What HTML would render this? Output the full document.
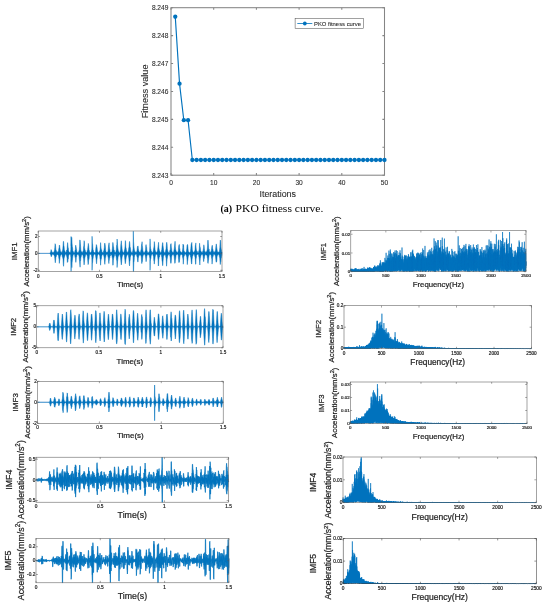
<!DOCTYPE html>
<html lang="en"><head><meta charset="utf-8"><title>PKO fitness curve and IMF components</title>
<style>html,body{margin:0;padding:0;background:#fff}body{width:550px;height:614px;overflow:hidden}svg{display:block;font-family:"Liberation Sans",Arial,Helvetica,sans-serif}text{stroke:#262626;stroke-width:.22px}.tk text{stroke-width:.2px}.top text{stroke-width:.1px;fill:#2e2e2e}.cap{stroke:none}</style>
</head><body>
<svg width="550" height="614" viewBox="0 0 550 614">
<rect width="550" height="614" fill="#fff"/>
<g id="fitness" class="top">
<rect x="171" y="7.7" width="213.5" height="167.5" fill="none" stroke="#858585" stroke-width="1.05"/>
<path d="M171 175.2v-2.1M171 7.7v2.1M213.7 175.2v-2.1M213.7 7.7v2.1M256.4 175.2v-2.1M256.4 7.7v2.1M299.1 175.2v-2.1M299.1 7.7v2.1M341.8 175.2v-2.1M341.8 7.7v2.1M384.5 175.2v-2.1M384.5 7.7v2.1M171 175.2h2.1M384.5 175.2h-2.1M171 147.28h2.1M384.5 147.28h-2.1M171 119.37h2.1M384.5 119.37h-2.1M171 91.45h2.1M384.5 91.45h-2.1M171 63.53h2.1M384.5 63.53h-2.1M171 35.62h2.1M384.5 35.62h-2.1M171 7.7h2.1M384.5 7.7h-2.1" stroke="#858585" stroke-width="1.05" fill="none"/>
<g class="tk" font-size="6.6" fill="#1c1c1c">
<text x="171" y="184.6" text-anchor="middle">0</text>
<text x="213.7" y="184.6" text-anchor="middle">10</text>
<text x="256.4" y="184.6" text-anchor="middle">20</text>
<text x="299.1" y="184.6" text-anchor="middle">30</text>
<text x="341.8" y="184.6" text-anchor="middle">40</text>
<text x="384.5" y="184.6" text-anchor="middle">50</text>
<text x="168.4" y="177.58" text-anchor="end">8.243</text>
<text x="168.4" y="149.66" text-anchor="end">8.244</text>
<text x="168.4" y="121.74" text-anchor="end">8.245</text>
<text x="168.4" y="93.83" text-anchor="end">8.246</text>
<text x="168.4" y="65.91" text-anchor="end">8.247</text>
<text x="168.4" y="37.99" text-anchor="end">8.248</text>
<text x="168.4" y="10.08" text-anchor="end">8.249</text>
</g>
<polyline fill="none" stroke="#0072BD" stroke-width="1.15" points="175.27,16.77 179.54,83.63 183.81,120.2 188.08,120.2 192.35,160.01 196.62,160.01 200.89,160.01 205.16,160.01 209.43,160.01 213.7,160.01 217.97,160.01 222.24,160.01 226.51,160.01 230.78,160.01 235.05,160.01 239.32,160.01 243.59,160.01 247.86,160.01 252.13,160.01 256.4,160.01 260.67,160.01 264.94,160.01 269.21,160.01 273.48,160.01 277.75,160.01 282.02,160.01 286.29,160.01 290.56,160.01 294.83,160.01 299.1,160.01 303.37,160.01 307.64,160.01 311.91,160.01 316.18,160.01 320.45,160.01 324.72,160.01 328.99,160.01 333.26,160.01 337.53,160.01 341.8,160.01 346.07,160.01 350.34,160.01 354.61,160.01 358.88,160.01 363.15,160.01 367.42,160.01 371.69,160.01 375.96,160.01 380.23,160.01 384.5,160.01"/>
<g fill="#0072BD">
<circle cx="175.27" cy="16.77" r="2.15"/>
<circle cx="179.54" cy="83.63" r="2.15"/>
<circle cx="183.81" cy="120.2" r="2.15"/>
<circle cx="188.08" cy="120.2" r="2.15"/>
<circle cx="192.35" cy="160.01" r="2.15"/>
<circle cx="196.62" cy="160.01" r="2.15"/>
<circle cx="200.89" cy="160.01" r="2.15"/>
<circle cx="205.16" cy="160.01" r="2.15"/>
<circle cx="209.43" cy="160.01" r="2.15"/>
<circle cx="213.7" cy="160.01" r="2.15"/>
<circle cx="217.97" cy="160.01" r="2.15"/>
<circle cx="222.24" cy="160.01" r="2.15"/>
<circle cx="226.51" cy="160.01" r="2.15"/>
<circle cx="230.78" cy="160.01" r="2.15"/>
<circle cx="235.05" cy="160.01" r="2.15"/>
<circle cx="239.32" cy="160.01" r="2.15"/>
<circle cx="243.59" cy="160.01" r="2.15"/>
<circle cx="247.86" cy="160.01" r="2.15"/>
<circle cx="252.13" cy="160.01" r="2.15"/>
<circle cx="256.4" cy="160.01" r="2.15"/>
<circle cx="260.67" cy="160.01" r="2.15"/>
<circle cx="264.94" cy="160.01" r="2.15"/>
<circle cx="269.21" cy="160.01" r="2.15"/>
<circle cx="273.48" cy="160.01" r="2.15"/>
<circle cx="277.75" cy="160.01" r="2.15"/>
<circle cx="282.02" cy="160.01" r="2.15"/>
<circle cx="286.29" cy="160.01" r="2.15"/>
<circle cx="290.56" cy="160.01" r="2.15"/>
<circle cx="294.83" cy="160.01" r="2.15"/>
<circle cx="299.1" cy="160.01" r="2.15"/>
<circle cx="303.37" cy="160.01" r="2.15"/>
<circle cx="307.64" cy="160.01" r="2.15"/>
<circle cx="311.91" cy="160.01" r="2.15"/>
<circle cx="316.18" cy="160.01" r="2.15"/>
<circle cx="320.45" cy="160.01" r="2.15"/>
<circle cx="324.72" cy="160.01" r="2.15"/>
<circle cx="328.99" cy="160.01" r="2.15"/>
<circle cx="333.26" cy="160.01" r="2.15"/>
<circle cx="337.53" cy="160.01" r="2.15"/>
<circle cx="341.8" cy="160.01" r="2.15"/>
<circle cx="346.07" cy="160.01" r="2.15"/>
<circle cx="350.34" cy="160.01" r="2.15"/>
<circle cx="354.61" cy="160.01" r="2.15"/>
<circle cx="358.88" cy="160.01" r="2.15"/>
<circle cx="363.15" cy="160.01" r="2.15"/>
<circle cx="367.42" cy="160.01" r="2.15"/>
<circle cx="371.69" cy="160.01" r="2.15"/>
<circle cx="375.96" cy="160.01" r="2.15"/>
<circle cx="380.23" cy="160.01" r="2.15"/>
<circle cx="384.5" cy="160.01" r="2.15"/>
</g>
<text x="277.75" y="196.9" text-anchor="middle" font-size="8.9" fill="#1c1c1c">Iterations</text>
<text transform="translate(147.9 91.4) rotate(-90)" text-anchor="middle" font-size="9.15" fill="#1c1c1c">Fitness value</text>
<rect x="295.1" y="18.5" width="68.4" height="9.8" fill="#fff" stroke="#444" stroke-width="0.5"/>
<path d="M297.3 23.5H312.3" stroke="#0072BD" stroke-width="0.8"/>
<circle cx="304.8" cy="23.5" r="1.9" fill="#0072BD"/>
<text x="314" y="25.7" font-size="6.2" textLength="47" lengthAdjust="spacingAndGlyphs" fill="#1c1c1c">PKO fitness curve</text>
</g>
<g class="cap" font-family="'Liberation Serif','Times New Roman',serif" font-size="10.6" fill="#000"><text class="cap" x="220.5" y="211.6" font-weight="bold" textLength="11.6" lengthAdjust="spacingAndGlyphs">(a)</text><text class="cap" x="235.6" y="211.6" textLength="87.8" lengthAdjust="spacingAndGlyphs">PKO fitness curve.</text></g>
<g id="imf1-time">
<path d="M38.33 253.4L38.58 253.4L38.83 253.4L39.08 253.4L39.33 253.4L39.58 253.4L39.83 253.4L40.08 253.4L40.33 253.4L40.58 253.4L40.83 253.4L41.08 253.4L41.33 253.4L41.58 253.4L41.83 253.4L42.08 253.4L42.33 253.4L42.58 253.4L42.83 253.4L43.08 253.4L43.33 253.4L43.58 253.4L43.83 253.4L44.08 253.4L44.33 253.4L44.58 253.4L44.83 253.4L45.08 253.4L45.33 253.4L45.58 253.4L45.83 253.4L46.08 253.4L46.33 253.4L46.58 253.4L46.83 253.4L47.08 253.4L47.33 253.4L47.58 253.4L47.83 253.4L48.08 253.4L48.33 253.4L48.58 253.4L48.83 253.4L49.08 253.4L49.33 253.4L49.58 253.4L49.83 253.3L50.08 253.1L50.33 252.5L50.58 252L50.83 251.3L51.08 249.6L51.33 250L51.58 251.1L51.83 251.4L52.08 251.9L52.33 252.7L52.58 252.7L52.83 252.2L53.08 252.2L53.33 252.4L53.58 252.3L53.83 252.5L54.08 251.6L54.33 251L54.58 249.8L54.83 247.6L55.08 243.7L55.33 244.3L55.58 246L55.83 248.9L56.08 251.3L56.33 250.6L56.58 251.7L56.83 251.9L57.08 252.7L57.33 252.2L57.58 252.8L57.83 251.5L58.08 251.9L58.33 251.6L58.58 250.6L58.83 248.6L59.08 248L59.33 245L59.58 245.3L59.83 247.2L60.08 249L60.33 250.4L60.58 251.2L60.83 251.9L61.08 251.7L61.33 252.4L61.58 252.6L61.83 252.2L62.08 252.4L62.33 250.8L62.58 251.1L62.83 248.5L63.08 245.6L63.33 241.4L63.58 241.4L63.83 245.6L64.08 246.5L64.33 249.5L64.58 250.5L64.83 250.8L65.08 251.8L65.33 252.3L65.58 252.9L65.83 252.3L66.08 252.3L66.33 251.4L66.58 250.1L66.83 250.1L67.08 249.6L67.33 245.8L67.58 242.6L67.83 244.4L68.08 247.4L68.33 248L68.58 251L68.83 251L69.08 252.6L69.33 252.6L69.58 252.1L69.83 252.4L70.08 252.8L70.33 252.2L70.58 251.4L70.83 249.8L71.08 236.5L71.33 245.8L71.58 237.4L71.83 237.4L72.08 243.7L72.33 246.8L72.58 247.8L72.83 250.8L73.08 251.1L73.33 252.1L73.58 252.1L73.83 253L74.08 252.9L74.33 252.9L74.58 252.1L74.83 251.5L75.08 250.1L75.33 249.9L75.58 245.5L75.83 245.2L76.08 246.9L76.33 248.4L76.58 249.7L76.83 251.4L77.08 251.9L77.33 252.4L77.58 252.7L77.83 252.5L78.08 252.5L78.33 252.4L78.58 251.7L78.83 251.9L79.08 250.4L79.33 249.4L79.58 246.2L79.83 239.9L80.08 240.3L80.33 243.2L80.58 246.2L80.83 250L81.08 250.8L81.33 251.5L81.58 252.1L81.83 251.9L82.08 252.9L82.33 252.3L82.58 252.4L82.83 251.6L83.08 250.8L83.33 250.7L83.58 246.7L83.83 246L84.08 240.7L84.33 241.7L84.58 247.7L84.83 249.1L85.08 250.1L85.33 250.6L85.58 251.7L85.83 252L86.08 252.5L86.33 252.4L86.58 252.7L86.83 251.9L87.08 251.6L87.33 250.3L87.58 249.9L87.83 247.5L88.08 245.5L88.33 243.4L88.58 244.9L88.83 247.6L89.08 249.9L89.33 250.5L89.58 251.7L89.83 252.3L90.08 252.6L90.33 252.8L90.58 252.5L90.83 252.8L91.08 252.1L91.33 251.6L91.58 251.1L91.83 249.1L92.08 236.3L92.33 243.2L92.58 244.1L92.83 247.5L93.08 250L93.33 250.2L93.58 251.7L93.83 251.9L94.08 252.4L94.33 252.5L94.58 252.8L94.83 252.6L95.08 252.9L95.33 251.9L95.58 251.2L95.83 248.2L96.08 246.9L96.33 244.6L96.58 245L96.83 246.4L97.08 247.7L97.33 250.1L97.58 251.4L97.83 251.7L98.08 252.7L98.33 252.7L98.58 252.5L98.83 252.5L99.08 252.6L99.33 251.4L99.58 251.4L99.83 250.8L100.08 249.6L100.33 247.1L100.58 242.6L100.83 245.8L101.08 248L101.33 250.5L101.58 249.7L101.83 251.3L102.08 251.9L102.33 252.2L102.58 252.4L102.83 252.4L103.08 252.8L103.33 252.3L103.58 251L103.83 250.6L104.08 249.1L104.33 247.4L104.58 243.9L104.83 243.1L105.08 244.3L105.33 246.2L105.58 249.9L105.83 250.9L106.08 252L106.33 252.6L106.58 252.1L106.83 252.8L107.08 252.7L107.33 251.9L107.58 252.1L107.83 251.9L108.08 250.7L108.33 248.3L108.58 245.3L108.83 244.2L109.08 242.8L109.33 246.8L109.58 249.3L109.83 249.3L110.08 252.1L110.33 252L110.58 252.3L110.83 252.9L111.08 252L111.33 252.5L111.58 252.1L111.83 251.9L112.08 250.8L112.33 249L112.58 245.9L112.83 242.4L113.08 243.4L113.33 246.3L113.58 246.7L113.83 249.6L114.08 250.8L114.33 250.4L114.58 252.4L114.83 252.1L115.08 252.2L115.33 252.6L115.58 252.6L115.83 251.8L116.08 250.7L116.33 249.2L116.58 245.3L116.83 244.7L117.08 239L117.33 241.5L117.58 245.3L117.83 248L118.08 249.3L118.33 251.2L118.58 251.3L118.83 251.7L119.08 252.5L119.33 252.8L119.58 252.9L119.83 252.4L120.08 251.7L120.33 250.6L120.58 250.1L120.83 245.1L121.08 242.6L121.33 240.8L121.58 244.7L121.83 246.3L122.08 248.8L122.33 250.5L122.58 251.2L122.83 251.9L123.08 252.6L123.33 252.6L123.58 252.7L123.83 252.3L124.08 251.8L124.33 250.7L124.58 249.6L124.83 248.5L125.08 245.6L125.33 240.6L125.58 241.5L125.83 247.3L126.08 247.8L126.33 249.8L126.58 251.1L126.83 252L127.08 252.4L127.33 252.6L127.58 252.2L127.83 252.1L128.07 251.5L128.32 251.9L128.57 249.8L128.82 247.8L129.07 247.1L129.32 243L129.57 241.4L129.82 243.3L130.07 246.9L130.32 247.5L130.57 249.2L130.82 250.9L131.07 252.2L131.32 252.3L131.57 252.2L131.82 252.4L132.07 252.6L132.32 252.7L132.57 251.4L132.82 250.5L133.07 248.7L133.32 231.2L133.57 241.2L133.82 245.2L134.07 247.8L134.32 249.5L134.57 250.5L134.82 251.4L135.07 251.6L135.32 251.8L135.57 252.3L135.82 252.2L136.07 253L136.32 251.9L136.57 251.8L136.82 251.4L137.07 250.1L137.32 247.6L137.57 246.5L137.82 246.1L138.07 245.9L138.32 248.7L138.57 249.9L138.82 250.9L139.07 251.6L139.32 252.4L139.57 252L139.82 252.1L140.07 252.2L140.32 252.4L140.57 252.1L140.82 250.5L141.07 249.9L141.32 248.3L141.57 244.6L141.82 243.7L142.07 241.7L142.32 245.7L142.57 247.4L142.82 250.2L143.07 251.2L143.32 252L143.57 252.4L143.82 252.4L144.07 252.4L144.32 252.5L144.57 252.7L144.82 251.9L145.07 251.3L145.32 250.8L145.57 249.4L145.82 245.7L146.07 244.6L146.32 246.6L146.57 247.2L146.82 249.9L147.07 251L147.32 251.5L147.57 251.9L147.82 252.9L148.07 252.7L148.32 252.5L148.57 252.5L148.82 252.5L149.07 252.1L149.32 251.3L149.57 251L149.82 246.6L150.07 238.9L150.32 245.5L150.57 248.3L150.82 248.9L151.07 250.4L151.32 251.8L151.57 251.4L151.82 252.4L152.07 252.3L152.32 252.8L152.57 252.8L152.82 252.3L153.07 251.7L153.32 250.8L153.57 249.1L153.82 247.8L154.07 245.9L154.32 241.6L154.57 243.7L154.82 247.2L155.07 249.7L155.32 250.7L155.57 251.5L155.82 252L156.07 252.3L156.32 252.3L156.57 252.4L156.82 252.3L157.07 252.2L157.32 251.1L157.57 250.4L157.82 248.2L158.07 246.3L158.32 244.6L158.57 242.3L158.82 247.2L159.07 248.9L159.32 250.1L159.57 251.5L159.82 251.2L160.07 251.7L160.32 252.6L160.57 252.8L160.82 252.5L161.07 252.3L161.32 251.8L161.57 250.3L161.82 249.6L162.07 246.6L162.32 245L162.57 242.7L162.82 242.7L163.07 245.9L163.32 247.9L163.57 250.1L163.82 251.2L164.07 251.9L164.32 252.2L164.57 252.9L164.82 252.7L165.07 252.4L165.32 251.9L165.57 251.1L165.82 249.8L166.07 248.5L166.32 245.4L166.57 242.6L166.82 242.3L167.07 244L167.32 248.6L167.57 250L167.82 251L168.07 252.5L168.32 251.9L168.57 252.4L168.82 252.7L169.07 252.9L169.32 252.5L169.57 252.1L169.82 250.4L170.07 250.2L170.32 249.2L170.57 244.5L170.82 244.5L171.07 243.6L171.32 247.2L171.57 248.4L171.82 251.1L172.07 251.3L172.32 252L172.57 252.3L172.82 252.6L173.07 252.4L173.32 252.8L173.57 252L173.82 251.2L174.07 249.8L174.32 248.2L174.57 245.9L174.82 243.6L175.07 241.3L175.32 246.3L175.57 249.3L175.82 249.8L176.07 250.9L176.32 251.6L176.57 252L176.82 252L177.07 252.5L177.32 252.8L177.57 252.8L177.82 251.8L178.07 251.4L178.32 251L178.57 247.7L178.82 245.6L179.07 245L179.32 244.4L179.57 248.2L179.82 248.7L180.07 250.9L180.32 251.6L180.57 251.7L180.82 251.7L181.07 252.4L181.32 253L181.57 252.7L181.82 252.1L182.07 252.5L182.32 251.3L182.57 249.9L182.82 248L183.07 244L183.32 246.6L183.57 245.2L183.82 250.2L184.07 251L184.32 251.2L184.57 251.8L184.82 252.3L185.07 252.6L185.32 252.6L185.57 252.8L185.82 252.6L186.07 251.9L186.32 252.1L186.57 250.2L186.82 248.4L187.07 245L187.32 244.7L187.57 244.4L187.82 246.2L188.07 249.1L188.32 251.4L188.57 251.8L188.82 251.8L189.07 252.7L189.32 252.4L189.57 252.6L189.82 252.8L190.07 252.3L190.32 251.7L190.57 250.7L190.82 248.5L191.07 245.4L191.32 243.6L191.57 243.7L191.82 242.4L192.07 245.9L192.32 250L192.57 251L192.82 251.4L193.07 251.8L193.32 252.9L193.57 252.3L193.82 252.6L194.07 252.3L194.32 251.8L194.57 251.1L194.82 251.1L195.07 249.2L195.32 245.3L195.57 245.2L195.82 242.9L196.07 247.3L196.32 250L196.57 250.2L196.82 251.5L197.07 251.2L197.32 251.6L197.57 252.3L197.82 253L198.07 252.8L198.32 252.4L198.57 251.9L198.82 250.8L199.07 250.8L199.32 248.3L199.57 243.2L199.82 245.8L200.07 246.9L200.32 248.1L200.57 250.4L200.82 250.8L201.07 251.8L201.32 251.8L201.57 252.3L201.82 252.3L202.07 252.8L202.32 252.8L202.57 252L202.82 251.1L203.07 251.2L203.32 248.9L203.57 247.9L203.82 244.8L204.07 245.9L204.32 248.3L204.57 250.6L204.82 251.5L205.07 251.5L205.32 251.8L205.57 252.2L205.82 252.4L206.07 252.1L206.32 252.1L206.57 251.7L206.82 250.8L207.07 250.5L207.32 249.1L207.57 245.9L207.82 240.5L208.07 240.1L208.32 243.7L208.57 247.4L208.82 250.2L209.07 249.3L209.32 251.2L209.57 252L209.82 252L210.07 252.2L210.32 252.3L210.57 252.6L210.82 251.6L211.07 251.6L211.32 250.4L211.57 248.9L211.82 246.9L212.07 245.6L212.32 245.3L212.57 248.8L212.82 248.8L213.07 250.5L213.32 251.1L213.57 252.3L213.82 252.2L214.07 252.2L214.32 252L214.57 252.5L214.82 251.7L215.07 252.1L215.32 250.6L215.57 249.9L215.82 247.3L216.07 245L216.32 243.9L216.57 246.2L216.82 248.2L217.07 249.5L217.32 251.2L217.57 252.2L217.82 251.8L218.07 252.5L218.32 251.9L218.57 252.5L218.82 252L219.07 251.9L219.32 251.4L219.57 249.9L219.82 247.8L220.07 242.7L220.32 240.1L220.57 241.1L220.82 246.9L221.07 248.5L221.32 249.8L221.57 251.4L221.82 251.9L222 252.3L222 253.1L221.82 255.1L221.57 256.4L221.32 257.9L221.07 258.5L220.82 261.4L220.57 262.2L220.32 264.5L220.07 262.7L219.82 258.5L219.57 257.3L219.32 256.5L219.07 254.7L218.82 254.3L218.57 254.2L218.32 254.6L218.07 254.2L217.82 255.1L217.57 254.8L217.32 255.9L217.07 256.7L216.82 260.7L216.57 261.9L216.32 262.1L216.07 262.3L215.82 259.4L215.57 256.8L215.32 256.2L215.07 254.8L214.82 254.6L214.57 254.6L214.32 254.6L214.07 254.3L213.82 254L213.57 254.5L213.32 255.5L213.07 256.6L212.82 256.5L212.57 258.6L212.32 261.1L212.07 264.1L211.82 259.1L211.57 258.3L211.32 256.6L211.07 255.3L210.82 255L210.57 254.6L210.32 254.4L210.07 254.5L209.82 254.5L209.57 254.7L209.32 254.6L209.07 255.9L208.82 257.2L208.57 259.9L208.32 260.8L208.07 263.4L207.82 262.8L207.57 258.7L207.32 258.1L207.07 255.9L206.82 255.4L206.57 255.1L206.32 254.9L206.07 255L205.82 254.5L205.57 254.4L205.32 254.7L205.07 254.5L204.82 255.9L204.57 256.5L204.32 258.6L204.07 259.1L203.82 261.5L203.57 261.5L203.32 258.7L203.07 256.2L202.82 255.2L202.57 254.5L202.32 254L202.07 254.1L201.82 254.5L201.57 254.1L201.32 255.1L201.07 255.1L200.82 256.1L200.57 257.6L200.32 258.3L200.07 261L199.82 265L199.57 261L199.32 259.5L199.07 257.3L198.82 256.6L198.57 254.6L198.32 254.6L198.07 254.5L197.82 254.3L197.57 254.3L197.32 254.5L197.07 254.9L196.82 255L196.57 255.5L196.32 258L196.07 258.8L195.82 264.2L195.57 264.2L195.32 259.8L195.07 257.4L194.82 256.6L194.57 255.2L194.32 254.6L194.07 254.4L193.82 254.3L193.57 254.2L193.32 254.1L193.07 254.7L192.82 256L192.57 255.4L192.32 257.7L192.07 259.1L191.82 263.9L191.57 264L191.32 262.6L191.07 259.4L190.82 257.5L190.57 257L190.32 255.6L190.07 254.9L189.82 254.3L189.57 254.6L189.32 254L189.07 254.2L188.82 254.5L188.57 256L188.32 256L188.07 257.9L187.82 260L187.57 261.6L187.32 264.6L187.07 261L186.82 257L186.57 256.4L186.32 255.8L186.07 254.8L185.82 254L185.57 254.1L185.32 254.3L185.07 254.1L184.82 254.2L184.57 255.4L184.32 255.3L184.07 256.6L183.82 256.8L183.57 260.2L183.32 264.2L183.07 260.6L182.82 257.7L182.57 257.5L182.32 255.2L182.07 254.9L181.82 254.7L181.57 253.9L181.32 254L181.07 254.7L180.82 254.6L180.57 254.7L180.32 255L180.07 255.8L179.82 257.5L179.57 260L179.32 262.2L179.07 262.2L178.82 262.5L178.57 259.3L178.32 256.7L178.07 255.1L177.82 254.6L177.57 254.1L177.32 254.3L177.07 254.1L176.82 254.6L176.57 254.9L176.32 254.7L176.07 255.4L175.82 257.6L175.57 259.2L175.32 260.7L175.07 263.2L174.82 263.3L174.57 260.4L174.32 258.4L174.07 255.4L173.82 255.4L173.57 254.6L173.32 254.5L173.07 254.3L172.82 254.3L172.57 254.9L172.32 254.9L172.07 255.2L171.82 256.1L171.57 257.1L171.32 260.7L171.07 263.3L170.82 263.3L170.57 262.1L170.32 258.7L170.07 256.7L169.82 256L169.57 254.7L169.32 254.1L169.07 254.1L168.82 254.3L168.57 254.4L168.32 254.9L168.07 254.9L167.82 256L167.57 256.7L167.32 257.9L167.07 259.6L166.82 263L166.57 266.2L166.32 261.5L166.07 257.5L165.82 257.4L165.57 255.1L165.32 255.2L165.07 254.4L164.82 254.6L164.57 254.4L164.32 254.9L164.07 255.5L163.82 255.6L163.57 256.2L163.32 258.1L163.07 260.9L162.82 265.6L162.57 265.6L162.32 261.6L162.07 261.4L161.82 257.4L161.57 256.5L161.32 254.8L161.07 254.1L160.82 254.5L160.57 254.1L160.32 254.3L160.07 254.9L159.82 254.8L159.57 256.8L159.32 256.1L159.07 258.6L158.82 258.6L158.57 266L158.32 265.7L158.07 260.2L157.82 257.8L157.57 256L157.32 255L157.07 254.4L156.82 254.3L156.57 254.1L156.32 254.3L156.07 254.5L155.82 254.2L155.57 255.3L155.32 255.9L155.07 257.6L154.82 259.4L154.57 261.3L154.32 264.1L154.07 261.8L153.82 260.6L153.57 256.8L153.32 255.9L153.07 255.5L152.82 254.4L152.57 253.9L152.32 253.8L152.07 254.3L151.82 254.6L151.57 254.4L151.32 255.4L151.07 256.6L150.82 258.8L150.57 258.8L150.32 261.6L150.07 270.3L149.82 258.2L149.57 257L149.32 255.8L149.07 255.1L148.82 255.1L148.57 254.1L148.32 254.5L148.07 254.5L147.82 254.4L147.57 254.1L147.32 255.2L147.07 255.5L146.82 256.3L146.57 258.3L146.32 260.4L146.07 261.7L145.82 259.4L145.57 257L145.32 256.2L145.07 255L144.82 254.6L144.57 254.4L144.32 254.2L144.07 254.3L143.82 254.4L143.57 254.5L143.32 255.4L143.07 255.6L142.82 257L142.57 258.9L142.32 261.8L142.07 261.8L141.82 263.6L141.57 261.6L141.32 257.8L141.07 256.1L140.82 255.7L140.57 254.8L140.32 254.7L140.07 255.1L139.82 254.2L139.57 254.8L139.32 255.4L139.07 254.4L138.82 255.9L138.57 257.5L138.32 257.5L138.07 261.6L137.82 262.1L137.57 260.8L137.32 257.7L137.07 257L136.82 256L136.57 254.8L136.32 253.9L136.07 254L135.82 254.2L135.57 254.1L135.32 254.6L135.07 254.9L134.82 255L134.57 256.3L134.32 257.2L134.07 261.6L133.82 262.5L133.57 271.4L133.32 271.4L133.07 256.8L132.82 255.8L132.57 255L132.32 254.8L132.07 254.4L131.82 254.3L131.57 254.5L131.32 254.9L131.07 254.7L130.82 256L130.57 256.4L130.32 257.3L130.07 260.4L129.82 261.6L129.57 265.9L129.32 264.4L129.07 260.9L128.82 257.9L128.57 256.8L128.32 255.1L128.07 254.5L127.83 254.6L127.58 254.6L127.33 254.7L127.08 254.7L126.83 255.5L126.58 256.4L126.33 256.7L126.08 258.5L125.83 259.7L125.58 262.2L125.33 263.7L125.08 262.6L124.83 259.5L124.58 257L124.33 255.1L124.08 254.7L123.83 254.5L123.58 253.8L123.33 254.4L123.08 254.4L122.83 254.6L122.58 255.7L122.33 256.3L122.08 257.4L121.83 259.3L121.58 262.9L121.33 264.9L121.08 263.4L120.83 260.6L120.58 257.5L120.33 257.2L120.08 254.9L119.83 255L119.58 253.9L119.33 254.2L119.08 254.5L118.83 255.3L118.58 255.9L118.33 256L118.08 257.3L117.83 259.4L117.58 261.4L117.33 264.2L117.08 267.5L116.83 260.7L116.58 260.3L116.33 257.9L116.08 256.6L115.83 255.9L115.58 255.1L115.33 253.8L115.08 254.1L114.83 254.3L114.58 254.4L114.33 256.2L114.08 256.5L113.83 257.7L113.58 258.7L113.33 260.6L113.08 265.2L112.83 265.2L112.58 259L112.33 258L112.08 256.8L111.83 255.4L111.58 254.9L111.33 254.9L111.08 254.2L110.83 254.4L110.58 254.3L110.33 255.9L110.08 255.2L109.83 257.7L109.58 258.1L109.33 259.8L109.08 261L108.83 263.6L108.58 260.6L108.33 258.6L108.08 257.1L107.83 256.2L107.58 254.9L107.33 254.6L107.08 254.1L106.83 254L106.58 254.8L106.33 254.6L106.08 254.8L105.83 256.6L105.58 257.6L105.33 258.5L105.08 261.7L104.83 264.4L104.58 262.2L104.33 259.2L104.08 257.2L103.83 256.1L103.58 255L103.33 254.8L103.08 254.2L102.83 254.6L102.58 254.5L102.33 254L102.08 255.2L101.83 255.8L101.58 256.8L101.33 258.9L101.08 259.5L100.83 261.2L100.58 265.2L100.33 259.6L100.08 258.9L99.83 256.4L99.58 255.1L99.33 255.1L99.08 254.5L98.83 254L98.58 254L98.33 254.1L98.08 254.2L97.83 254.9L97.58 255.4L97.33 256.4L97.08 258.7L96.83 260.3L96.58 263.8L96.33 262.1L96.08 259L95.83 257.5L95.58 255.4L95.33 255.1L95.08 254.2L94.83 254.1L94.58 254L94.33 254.2L94.08 254.5L93.83 254.8L93.58 255.5L93.33 256.5L93.08 258.2L92.83 259.3L92.58 262.8L92.33 262.8L92.08 270.3L91.83 257.2L91.58 256.2L91.33 254.8L91.08 254.6L90.83 254.1L90.58 254.4L90.33 254.1L90.08 254.6L89.83 254.1L89.58 254.7L89.33 255.9L89.08 258.7L88.83 259.6L88.58 260.8L88.33 263.9L88.08 264.6L87.83 261L87.58 258.3L87.33 256.3L87.08 255.5L86.83 254.7L86.58 254.6L86.33 254.3L86.08 254.3L85.83 254.6L85.58 254.9L85.33 256L85.08 257.1L84.83 258.1L84.58 260.6L84.33 262.9L84.08 264.9L83.83 262.2L83.58 258.3L83.33 258.3L83.08 255.8L82.83 254.9L82.58 254.8L82.33 254.7L82.08 254.6L81.83 255L81.58 254.6L81.33 256.3L81.08 256.9L80.83 258L80.58 260.9L80.33 260.6L80.08 267.2L79.83 264.4L79.58 261.1L79.33 259.8L79.08 256.6L78.83 255.2L78.58 255.2L78.33 254.3L78.08 254.2L77.83 254.5L77.58 254.2L77.33 254.3L77.08 255.1L76.83 255.4L76.58 257L76.33 257.2L76.08 260.6L75.83 262.4L75.58 259.8L75.33 256.8L75.08 257.3L74.83 255.9L74.58 254.8L74.33 254L74.08 254L73.83 254L73.58 254.6L73.33 254.7L73.08 255.2L72.83 256.6L72.58 258.2L72.33 260.6L72.08 262.5L71.83 267.6L71.58 262.7L71.33 259.7L71.08 271.4L70.83 257.5L70.58 255.3L70.33 254.4L70.08 254.3L69.83 254.3L69.58 254.3L69.33 254.2L69.08 254.6L68.83 255.6L68.58 255.7L68.33 259.1L68.08 259.1L67.83 262.1L67.58 262.1L67.33 262.4L67.08 258.1L66.83 256.9L66.58 255.8L66.33 254.9L66.08 254.6L65.83 254.5L65.58 253.9L65.33 254.3L65.08 254.5L64.83 256.2L64.58 256.4L64.33 257.4L64.08 258.4L63.83 261.9L63.58 266.3L63.33 264.8L63.08 259.4L62.83 258.2L62.58 257.3L62.33 256.9L62.08 255.5L61.83 254.3L61.58 254.5L61.33 254.1L61.08 254.6L60.83 255L60.58 255L60.33 256L60.08 256.9L59.83 259.3L59.58 260.9L59.33 263.4L59.08 259.5L58.83 258L58.58 256.1L58.33 255.3L58.08 255.2L57.83 255L57.58 254.3L57.33 254.5L57.08 254.1L56.83 254.8L56.58 255.3L56.33 256.4L56.08 256L55.83 257.8L55.58 260.3L55.33 262.8L55.08 261.5L54.83 258.6L54.58 256.3L54.33 255.9L54.08 255.4L53.83 254.9L53.58 254.6L53.33 254.4L53.08 254.4L52.83 253.9L52.58 254.1L52.33 254.2L52.08 255.2L51.83 255.2L51.58 256L51.33 256.8L51.08 256.4L50.83 255.3L50.58 254.6L50.33 254.3L50.08 253.9L49.83 253.6L49.58 253.4L49.33 253.4L49.08 253.4L48.83 253.4L48.58 253.4L48.33 253.4L48.08 253.4L47.83 253.4L47.58 253.4L47.33 253.4L47.08 253.4L46.83 253.4L46.58 253.4L46.33 253.4L46.08 253.4L45.83 253.4L45.58 253.4L45.33 253.4L45.08 253.4L44.83 253.4L44.58 253.4L44.33 253.4L44.08 253.4L43.83 253.4L43.58 253.4L43.33 253.4L43.08 253.4L42.83 253.4L42.58 253.4L42.33 253.4L42.08 253.4L41.83 253.4L41.58 253.4L41.33 253.4L41.08 253.4L40.83 253.4L40.58 253.4L40.33 253.4L40.08 253.4L39.83 253.4L39.58 253.4L39.33 253.4L39.08 253.4L38.83 253.4L38.58 253.4L38.33 253.4Z" fill="#0072BD" stroke="#0072BD" stroke-width="0.5" stroke-linejoin="round"/>
<rect x="38.2" y="231" width="183.8" height="40.6" fill="none" stroke="#5a5a5a" stroke-width="0.55"/>
<path d="M38.2 271.6v-1.84M38.2 231v1.84M99.47 271.6v-1.84M99.47 231v1.84M160.73 271.6v-1.84M160.73 231v1.84M222 271.6v-1.84M222 231v1.84M38.2 270.33h1.84M222 270.33h-1.84M38.2 253.41h1.84M222 253.41h-1.84M38.2 236.5h1.84M222 236.5h-1.84" stroke="#5a5a5a" stroke-width="0.55" fill="none"/>
<g class="tk" font-size="4.56" fill="#1c1c1c">
<text x="38.2" y="277.53" text-anchor="middle">0</text>
<text x="99.47" y="277.53" text-anchor="middle">0.5</text>
<text x="160.73" y="277.53" text-anchor="middle">1</text>
<text x="222" y="277.53" text-anchor="middle">1.5</text>
<text x="37.5" y="271.97" text-anchor="end">-2</text>
<text x="37.5" y="255.06" text-anchor="end">0</text>
<text x="37.5" y="238.14" text-anchor="end">2</text>
</g>
<text x="130.1" y="286.73" text-anchor="middle" font-size="7.81" fill="#1c1c1c">Time(s)</text>
<text transform="translate(17.31 251.3) rotate(-90)" text-anchor="middle" font-size="7.81" fill="#1c1c1c">IMF1</text>
<text transform="translate(29.41 251.3) rotate(-90)" text-anchor="middle" font-size="7.81" fill="#1c1c1c">Acceleration(mm/s<tspan dy="-2.97" font-size="5.62">2</tspan><tspan dy="2.97">)</tspan></text>
</g>
<g id="imf2-time">
<path d="M36.83 326.8L37.08 326.8L37.33 326.8L37.58 326.8L37.83 326.8L38.08 326.8L38.33 326.8L38.58 326.8L38.83 326.8L39.08 326.8L39.33 326.8L39.58 326.8L39.83 326.8L40.08 326.8L40.33 326.8L40.58 326.8L40.83 326.8L41.08 326.8L41.33 326.8L41.58 326.8L41.83 326.8L42.08 326.8L42.33 326.8L42.58 326.8L42.83 326.8L43.08 326.8L43.33 326.8L43.58 326.8L43.83 326.8L44.08 326.8L44.33 326.8L44.58 326.8L44.83 326.8L45.08 326.8L45.33 326.8L45.58 326.8L45.83 326.8L46.08 326.8L46.33 326.8L46.58 326.8L46.83 326.8L47.08 326.8L47.33 326.8L47.58 326.8L47.83 326.8L48.08 326.8L48.33 326.7L48.58 326.6L48.83 326.2L49.08 325.3L49.33 324L49.58 323.4L49.83 323L50.08 323.4L50.33 324.4L50.58 325.5L50.83 326.3L51.08 326.7L51.33 326.7L51.58 326.6L51.83 326.6L52.08 326.5L52.33 326.4L52.58 326.4L52.83 326.4L53.08 325L53.33 323L53.58 320.9L53.83 320L54.08 320L54.33 320.9L54.58 323L54.83 325L55.08 326.3L55.33 326.6L55.58 326.6L55.83 326.4L56.08 326.3L56.33 326.5L56.58 326.7L56.83 326.5L57.08 325.6L57.33 323.2L57.58 319.5L57.83 314.8L58.08 313L58.33 313.6L58.58 317.6L58.83 321.3L59.08 324.4L59.33 326L59.58 326.4L59.83 326.4L60.08 326.3L60.33 326.4L60.58 326.7L60.83 326.7L61.08 326.4L61.33 325.3L61.58 323.1L61.83 319.7L62.08 315.9L62.33 314L62.58 315.1L62.83 318.3L63.08 321.8L63.33 324.4L63.58 325.9L63.83 326.6L64.08 326.7L64.33 326.7L64.58 326.7L64.83 326.7L65.08 326.4L65.33 325.4L65.58 323.4L65.83 319.9L66.08 315.4L66.33 312L66.58 312L66.83 315L67.08 319.2L67.33 322.7L67.58 324.9L67.83 325.9L68.08 326.3L68.33 326.5L68.58 326.7L68.83 326.7L69.08 326.6L69.33 326.6L69.58 326L69.83 323.9L70.08 320.1L70.33 315.1L70.58 310.8L70.83 309.7L71.08 312.2L71.33 316.8L71.58 321.2L71.83 324.2L72.08 325.7L72.33 326.4L72.58 326.6L72.83 326.6L73.08 326.5L73.33 326.4L73.58 326.4L73.83 325.1L74.08 322.1L74.33 318.5L74.58 318.1L74.83 315.2L75.08 315.3L75.33 318L75.58 321.5L75.83 324.3L76.08 325.9L76.33 326.5L76.58 326.6L76.83 326.6L77.08 326.6L77.33 326.7L77.58 326.6L77.83 326L78.08 324.5L78.33 321.1L78.58 316.7L78.83 315.5L79.08 313.9L79.33 314.6L79.58 317.9L79.83 321.7L80.08 324.5L80.33 326L80.58 326.5L80.83 326.6L81.08 326.6L81.33 326.6L81.58 326.7L81.83 326.4L82.08 325.6L82.33 323.4L82.58 319.4L82.83 314.2L83.08 310.8L83.33 311.6L83.58 315L83.83 320L84.08 322.3L84.33 324L84.58 325.6L84.83 326.5L85.08 326.6L85.33 326.7L85.58 326.5L85.83 326.5L86.08 326.2L86.33 324.9L86.58 322.3L86.83 318.6L87.08 314.7L87.33 312.8L87.58 313.6L87.83 316.6L88.08 320.5L88.33 323.6L88.58 325.4L88.83 326.2L89.08 326.3L89.33 326.4L89.58 326.5L89.83 326.6L90.08 326.5L90.33 326.1L90.58 324.8L90.83 321.6L91.08 317.3L91.33 314.4L91.58 314.3L91.83 314L92.08 316.6L92.33 320.4L92.58 323.7L92.83 325.7L93.08 326.5L93.33 326.6L93.58 326.5L93.83 326.5L94.08 326.5L94.33 326.4L94.58 325.7L94.83 323.9L95.08 320L95.33 314.6L95.58 310.6L95.83 310.9L96.08 310.9L96.33 314.8L96.58 319.9L96.83 323.8L97.08 325.8L97.33 326.3L97.58 326.4L97.83 326.5L98.08 326.7L98.33 326.6L98.58 326.4L98.83 325.8L99.08 324.1L99.33 320.7L99.58 316.5L99.83 313L100.08 312.8L100.33 316.1L100.58 320.4L100.83 322.9L101.08 324.3L101.33 325.7L101.58 326.4L101.83 326.6L102.08 326.6L102.33 326.6L102.58 326.6L102.83 326.4L103.08 325L103.33 322.1L103.58 317.9L103.83 313.5L104.08 311.3L104.33 312.6L104.58 316.3L104.83 320.7L105.08 323.9L105.33 325.6L105.58 326.3L105.83 326.4L106.08 326.5L106.33 326.5L106.58 326.6L106.83 326.5L107.08 326.4L107.33 325.7L107.58 323.7L107.83 320.3L108.08 316.5L108.33 314.1L108.58 314.4L108.83 317L109.08 320.5L109.33 323.6L109.58 325.5L109.83 326.4L110.08 326.7L110.33 326.6L110.58 326.5L110.83 326.5L111.08 326.4L111.33 325.7L111.58 323.8L111.83 320.7L112.08 316.8L112.33 314.1L112.58 314.1L112.83 315L113.08 317.5L113.33 321.5L113.58 324.6L113.83 326.3L114.08 326.5L114.33 326.6L114.58 326.7L114.83 326.6L115.08 326.5L115.33 326.1L115.58 325.1L115.83 324.4L116.08 320.4L116.33 314.5L116.58 309.9L116.83 309.8L117.08 313.8L117.33 319.2L117.58 321.6L117.83 323.2L118.08 325.4L118.33 326.4L118.58 326.6L118.83 326.4L119.08 326.4L119.33 326.4L119.58 326.5L119.83 325.7L120.08 323.5L120.33 319.7L120.58 316.3L120.83 313.9L121.08 315L121.33 318L121.58 321.5L121.83 324.4L122.08 325.3L122.33 326.4L122.58 326.5L122.83 326.5L123.08 326.5L123.33 326.5L123.58 326.5L123.83 325.5L124.08 323.9L124.33 322.9L124.58 318.2L124.83 312.5L125.08 309.2L125.33 310.8L125.58 315.6L125.83 320.7L126.08 324.2L126.33 325.9L126.58 326.2L126.83 326.6L127.08 326.7L127.33 326.7L127.58 326.7L127.83 326.6L128.07 325.9L128.32 324.2L128.57 320.8L128.82 317.6L129.07 316.5L129.32 314.2L129.57 315.4L129.82 318.8L130.07 322.5L130.32 325.1L130.57 326.3L130.82 326.7L131.07 326.8L131.32 326.7L131.57 326.7L131.82 326.7L132.07 326.3L132.32 325.3L132.57 322.8L132.82 318.4L133.07 313.2L133.32 310.6L133.57 310.6L133.82 312.2L134.07 316.7L134.32 321.4L134.57 324.6L134.82 326.2L135.07 326.7L135.32 326.7L135.57 326.7L135.82 326.7L136.07 326.7L136.32 326.5L136.57 325.5L136.82 323.1L137.07 319.4L137.32 315.7L137.57 313.2L137.82 314.1L138.07 317.6L138.32 321.7L138.57 324.6L138.82 326.3L139.07 326.7L139.32 326.7L139.57 326.7L139.82 326.6L140.07 326.5L140.32 326.6L140.57 326.7L140.82 325.7L141.07 323.1L141.32 318.9L141.57 314.9L141.82 314.4L142.07 316.8L142.32 316.8L142.57 320.7L142.82 324L143.07 326L143.32 326.7L143.57 326.7L143.82 326.7L144.07 326.6L144.32 326.7L144.57 326.7L144.82 326.2L145.07 324.7L145.32 321.5L145.57 316.8L145.82 311.6L146.07 309.8L146.32 312.4L146.57 316.4L146.82 320.9L147.07 324.2L147.32 325.8L147.57 326.3L147.82 326.4L148.07 326.6L148.32 326.7L148.57 326.6L148.82 326.4L149.07 325.5L149.32 323.1L149.57 318.5L149.82 313.1L150.07 309.8L150.32 309.9L150.57 314.2L150.82 319.3L151.07 322.4L151.32 323.9L151.57 325.6L151.82 326.4L152.07 326.6L152.32 326.6L152.57 326.6L152.82 326.5L153.07 326.2L153.32 326L153.57 324.8L153.82 322.2L154.07 319L154.32 317.2L154.57 318.2L154.82 320.8L155.07 322.4L155.32 323.5L155.57 325.4L155.82 326.4L156.07 326.6L156.32 326.7L156.57 326.7L156.82 326.7L157.07 326.5L157.32 325.9L157.57 324L157.82 320.8L158.07 317.1L158.32 313.9L158.57 313.9L158.82 314.1L159.07 317.2L159.32 320.8L159.57 324L159.82 325.9L160.07 326.7L160.32 326.7L160.57 326.5L160.82 326.5L161.07 326.5L161.32 326.6L161.57 326.2L161.82 325L162.07 322.3L162.32 318.6L162.57 316.1L162.82 315.8L163.07 318.2L163.32 321.8L163.57 323.3L163.82 324.6L164.07 326L164.32 326.6L164.57 326.7L164.82 326.6L165.07 326.6L165.32 326.3L165.57 326L165.82 325.1L166.07 322.7L166.32 319L166.57 315.1L166.82 314.4L167.07 314L167.32 315.3L167.57 319.1L167.82 322.5L168.07 324.7L168.32 325.9L168.57 326.3L168.82 326.5L169.07 326.6L169.32 326.7L169.57 326.6L169.82 326.4L170.07 325.6L170.32 323.2L170.57 319L170.82 314.2L171.07 311.8L171.32 313.5L171.57 317.8L171.82 318.6L172.07 322.3L172.32 325.1L172.57 326.4L172.82 326.6L173.07 326.7L173.32 326.7L173.57 326.7L173.82 326.6L174.07 326.3L174.32 324.8L174.57 322.1L174.82 318.2L175.07 315.2L175.32 315L175.57 315.9L175.82 317.1L176.07 320.7L176.32 323.8L176.57 325.7L176.82 326.5L177.07 326.7L177.32 326.5L177.57 326.3L177.82 326.2L178.07 326L178.32 325.4L178.57 324.6L178.82 321.3L179.07 316.8L179.32 312L179.57 310.7L179.82 312.5L180.07 317.1L180.32 321.5L180.57 324.5L180.82 326L181.07 326.5L181.32 326.6L181.57 326.7L181.82 326.6L182.07 326.6L182.32 326.6L182.57 325.5L182.82 322.7L183.07 317.9L183.32 312.8L183.57 310.2L183.82 310.5L184.07 314.6L184.32 319.7L184.57 323.2L184.82 325.3L185.07 326.1L185.32 326.4L185.57 326.6L185.82 326.7L186.07 326.7L186.32 326.6L186.57 326.3L186.82 325.3L187.07 323L187.32 319.5L187.57 315.7L187.82 314L188.07 315L188.32 317.3L188.57 320.7L188.82 323.5L189.07 325.2L189.32 326.3L189.57 326.6L189.82 326.6L190.07 326.5L190.32 326.5L190.57 326.5L190.82 326.2L191.07 324.8L191.32 321.3L191.57 316.3L191.82 311.8L192.07 309.9L192.32 312.7L192.57 316.8L192.82 321.5L193.07 324.4L193.32 325.8L193.57 326.4L193.82 326.7L194.07 326.7L194.32 326.7L194.57 326.6L194.82 326.5L195.07 326L195.32 324.6L195.57 321L195.82 315.7L196.07 311.1L196.32 309.6L196.57 312.4L196.82 317.6L197.07 322.3L197.32 325.1L197.57 326.4L197.82 326.7L198.07 326.7L198.32 326.7L198.57 326.7L198.82 326.7L199.07 326.3L199.32 325.3L199.57 323.9L199.82 321.5L200.07 319.8L200.32 316.7L200.57 316.2L200.82 318.3L201.07 321.6L201.32 324.4L201.57 325.9L201.82 326.5L202.07 326.6L202.32 326.6L202.57 326.5L202.82 326.4L203.07 326.3L203.32 326L203.57 324.7L203.82 321.4L204.07 316L204.32 310.6L204.57 308.6L204.82 311.1L205.07 316.3L205.32 317.1L205.57 321.3L205.82 324.6L206.07 326.2L206.32 326.6L206.57 326.6L206.82 326.6L207.07 326.7L207.32 326.6L207.57 326.3L207.82 324.9L208.07 322.1L208.32 318L208.57 313.8L208.82 311.4L209.07 311.7L209.32 315.5L209.57 319.2L209.82 323L210.07 325.5L210.32 326.5L210.57 326.7L210.82 326.5L211.07 326.6L211.32 326.6L211.57 326.6L211.82 325.4L212.07 322.5L212.32 318L212.57 312.2L212.82 309.3L213.07 310.1L213.32 310.1L213.57 314.6L213.82 319.5L214.07 323.3L214.32 325.4L214.57 326.3L214.82 326.7L215.07 326.8L215.32 326.7L215.57 326.5L215.82 326L216.07 325L216.32 324L216.57 320.2L216.82 315.7L217.07 311.6L217.32 311.5L217.57 314.3L217.82 318.8L218.07 322.8L218.32 325L218.57 326L218.82 326.4L219.07 326.7L219.32 326.7L219.57 326.7L219.82 326.6L220.07 326.3L220.32 325L220.57 322L220.82 317.9L221.07 314.7L221.32 313.2L221.57 314.3L221.82 317.5L222.07 321.2L222.32 324.1L222.57 325.5L222.82 326.1L223 327L223 327.3L222.82 327.7L222.57 328.6L222.32 330.7L222.07 334.2L221.82 337.9L221.57 340.1L221.32 340L221.07 337.6L220.82 333.6L220.57 329.9L220.32 327.7L220.07 327.1L219.82 327L219.57 327L219.32 326.9L219.07 327.1L218.82 327.3L218.57 328L218.32 329.6L218.07 332.4L217.82 335.4L217.57 337.2L217.32 340.7L217.07 342.7L216.82 340.2L216.57 335.7L216.32 331.3L216.07 328.6L215.82 327.5L215.57 327.1L215.32 326.9L215.07 326.8L214.82 326.9L214.57 327L214.32 327.6L214.07 329L213.82 332.1L213.57 336.2L213.32 341.6L213.07 344.1L212.82 343.5L212.57 338.5L212.32 333.2L212.07 329.4L211.82 327.4L211.57 326.9L211.32 327L211.07 327L210.82 327.1L210.57 327L210.32 327.1L210.07 327.8L209.82 329.3L209.57 332.4L209.32 336.4L209.07 340.2L208.82 342.6L208.57 341L208.32 337.9L208.07 333.3L207.82 330L207.57 327.8L207.32 327.1L207.07 326.9L206.82 327L206.57 327L206.32 326.9L206.07 327L205.82 328L205.57 330.3L205.32 334.6L205.07 340.2L204.82 344.7L204.57 345.2L204.32 340.8L204.07 338.1L203.82 334.7L203.57 330.2L203.32 328.1L203.07 327.4L202.82 327.2L202.57 327.1L202.32 327L202.07 327.1L201.82 327.3L201.57 328.3L201.32 330.5L201.07 333.8L200.82 334.9L200.57 336.8L200.32 337.8L200.07 335.7L199.82 332.1L199.57 329.1L199.32 327.7L199.07 327L198.82 326.8L198.57 326.9L198.32 326.9L198.07 326.9L197.82 326.9L197.57 327.7L197.32 329.7L197.07 333.3L196.82 338.3L196.57 343.1L196.32 343.1L196.07 344.3L195.82 340.8L195.57 335L195.32 330.4L195.07 327.9L194.82 326.9L194.57 327L194.32 327L194.07 326.9L193.82 327L193.57 327.4L193.32 328.4L193.07 330.4L192.82 334.3L192.57 339.2L192.32 342.7L192.07 343.4L191.82 341.2L191.57 339.6L191.32 334.8L191.07 330.2L190.82 327.9L190.57 327.2L190.32 327.1L190.07 327.1L189.82 327.1L189.57 327L189.32 327.4L189.07 328L188.82 329.7L188.57 332.8L188.32 336.5L188.07 339.2L187.82 339.1L187.57 337L187.32 333.5L187.07 330.1L186.82 327.9L186.57 327.1L186.32 327L186.07 326.9L185.82 326.9L185.57 327.1L185.32 327.3L185.07 327.8L184.82 329.2L184.57 332L184.32 336.4L184.07 341.4L183.82 343.8L183.57 342.5L183.32 338.4L183.07 333.1L182.82 330.1L182.57 328.4L182.32 327.1L182.07 327L181.82 327L181.57 326.9L181.32 327.1L181.07 327.3L180.82 328.1L180.57 330.3L180.32 334.3L180.07 338.3L179.82 339.3L179.57 342.6L179.32 342.6L179.07 339.5L178.82 334.3L178.57 330.4L178.32 328.3L178.07 327.6L177.82 327.4L177.57 327.2L177.32 326.9L177.07 326.8L176.82 327L176.57 327.4L176.32 328.6L176.07 331.2L175.82 334.8L175.57 337.5L175.32 339L175.07 336.8L174.82 333.5L174.57 330L174.32 327.9L174.07 327.5L173.82 327L173.57 327L173.32 326.9L173.07 326.9L172.82 326.9L172.57 326.9L172.32 327.7L172.07 329.7L171.82 333.4L171.57 338L171.32 341L171.07 340.7L170.82 337.1L170.57 337.1L170.32 332.4L170.07 329L169.82 327.4L169.57 327L169.32 327L169.07 327L168.82 327.1L168.57 327.2L168.32 327.5L168.07 328.2L167.82 329.9L167.57 332.6L167.32 336.5L167.07 339.4L166.82 339.4L166.57 336.8L166.32 332.4L166.07 329.5L165.82 328L165.57 327.4L165.32 327.1L165.07 326.9L164.82 326.9L164.57 327L164.32 327L164.07 327.2L163.82 328.2L163.57 330.4L163.32 333.6L163.07 336.6L162.82 338.3L162.57 336.6L162.32 334.1L162.07 332.7L161.82 329.8L161.57 327.9L161.32 327.2L161.07 327L160.82 327.1L160.57 327.1L160.32 327L160.07 327.2L159.82 327.8L159.57 328.4L159.32 330.9L159.07 334.8L158.82 338.4L158.57 339.5L158.32 338.5L158.07 334.9L157.82 330.9L157.57 328.5L157.32 327.3L157.07 327L156.82 326.9L156.57 326.9L156.32 327L156.07 327L155.82 327L155.57 327.6L155.32 329L155.07 331.4L154.82 334.4L154.57 336.1L154.32 335.7L154.07 335.7L153.82 333.1L153.57 330L153.32 328L153.07 327.2L152.82 327L152.57 326.9L152.32 327L152.07 327L151.82 327L151.57 327.5L151.32 329L151.07 332.1L150.82 337L150.57 341.6L150.32 344.2L150.07 342.8L149.82 339.9L149.57 337.5L149.32 332.6L149.07 329.1L148.82 327.5L148.57 327.1L148.32 327L148.07 327.1L147.82 327.2L147.57 327.5L147.32 328.4L147.07 330.4L146.82 333.2L146.57 335.5L146.32 339.4L146.07 343L145.82 343.5L145.57 339.6L145.32 334.2L145.07 330.3L144.82 328L144.57 327L144.32 326.9L144.07 327L143.82 326.9L143.57 326.8L143.32 327.1L143.07 328.2L142.82 328.4L142.57 330.9L142.32 334.9L142.07 338.4L141.82 339.4L141.57 337L141.32 332.4L141.07 332.4L140.82 329L140.57 327.2L140.32 327.1L140.07 327L139.82 326.9L139.57 326.9L139.32 326.9L139.07 327L138.82 328L138.57 330.3L138.32 333.8L138.07 338L137.82 340.3L137.57 339.5L137.32 336.1L137.07 333.1L136.82 331L136.57 328.8L136.32 327.4L136.07 326.9L135.82 326.9L135.57 326.9L135.32 326.9L135.07 326.9L134.82 327.3L134.57 328.1L134.32 330.5L134.07 334.7L133.82 339.7L133.57 342.9L133.32 342.3L133.07 337.8L132.82 332.6L132.57 329.2L132.32 328.4L132.07 327.5L131.82 327L131.57 326.9L131.32 326.9L131.07 326.8L130.82 327L130.57 327.8L130.32 329.6L130.07 331.1L129.82 333.4L129.57 336.3L129.32 338.9L129.07 338.4L128.82 335L128.57 331L128.32 328.4L128.07 327.2L127.83 327.2L127.58 327L127.33 326.9L127.08 326.9L126.83 327L126.58 327.3L126.33 328.3L126.08 330.9L125.83 335.3L125.58 340.7L125.33 344.4L125.08 344.4L124.83 343.7L124.58 338.7L124.33 333L124.08 329.2L123.83 327.5L123.58 327L123.33 327.1L123.08 327.1L122.83 327.1L122.58 327L122.33 327.2L122.08 328.3L121.83 330.5L121.58 333.9L121.33 337L121.08 339.6L120.83 338.9L120.58 335.8L120.33 333.4L120.08 331.4L119.83 328.9L119.58 327.3L119.33 327.2L119.08 327.2L118.83 327.1L118.58 326.9L118.33 327L118.08 327.6L117.83 329.1L117.58 332.3L117.33 337.2L117.08 341.9L116.83 343.8L116.58 343.8L116.33 341.6L116.08 336.2L115.83 331L115.58 328.2L115.33 327.2L115.08 327L114.83 327L114.58 327L114.33 327L114.08 327L113.83 327.2L113.58 328L113.33 330.5L113.08 333.9L112.83 337.7L112.58 339.6L112.33 338.3L112.08 335L111.83 331.1L111.58 328.6L111.33 327.5L111.08 327.1L110.83 327.1L110.58 327.1L110.33 327L110.08 326.9L109.83 327L109.58 327.5L109.33 328.9L109.08 331.5L108.83 334.9L108.58 338.1L108.33 339.7L108.08 338.6L107.83 335.2L107.58 331.5L107.33 328.8L107.08 327.4L106.83 327.1L106.58 327L106.33 327.1L106.08 327.1L105.83 327.2L105.58 327.6L105.33 328.7L105.08 331.1L104.83 335.1L104.58 339.4L104.33 342L104.08 341.6L103.83 338.1L103.58 333.5L103.33 329.8L103.08 327.7L102.83 326.9L102.58 327L102.33 327L102.08 327L101.83 327L101.58 327.2L101.33 327.6L101.08 328.8L100.83 331.3L100.58 335.5L100.33 339.2L100.08 341L99.83 339.4L99.58 337.5L99.33 335L99.08 330.9L98.83 328.5L98.58 327.4L98.33 327.1L98.08 327L97.83 327.1L97.58 327.2L97.33 327.4L97.08 328.4L96.83 328.8L96.58 331.6L96.33 336.3L96.08 340.9L95.83 342.8L95.58 341.1L95.33 336.3L95.08 331.5L94.83 330.5L94.58 328.1L94.33 327.3L94.08 327.1L93.83 327.1L93.58 327.1L93.33 327L93.08 327.4L92.83 328.5L92.58 329.6L92.33 331.3L92.08 334.9L91.83 338.6L91.58 340.3L91.33 338.4L91.08 334.1L90.83 330.1L90.58 328L90.33 327.3L90.08 327.1L89.83 327L89.58 327.2L89.33 327.2L89.08 327.3L88.83 327.7L88.58 329L88.33 331.4L88.08 335.1L87.83 338.7L87.58 340.7L87.33 340.2L87.08 337L86.83 333L86.58 329.8L86.33 328L86.08 327.2L85.83 327.1L85.58 327L85.33 327L85.08 327L84.83 327L84.58 327.5L84.33 329L84.08 331.8L83.83 336.2L83.58 340.5L83.33 343.1L83.08 341.1L82.83 337L82.58 332L82.33 330.6L82.08 328.8L81.83 327.5L81.58 327L81.33 326.9L81.08 327L80.83 327L80.58 327.3L80.33 328.2L80.08 329.6L79.83 330.4L79.58 333.7L79.33 337.3L79.08 339.4L78.83 338.5L78.58 334.6L78.33 330.6L78.08 328.2L77.83 327.5L77.58 327.2L77.33 326.9L77.08 327L76.83 327L76.58 327L76.33 327.3L76.08 328.4L75.83 330.3L75.58 333.2L75.33 334L75.08 337.5L74.83 339.1L74.58 337.5L74.33 333.6L74.08 329.9L73.83 327.7L73.58 327.1L73.33 327.1L73.08 327.2L72.83 327.1L72.58 327L72.33 327.1L72.08 327.5L71.83 328.5L71.58 330.7L71.33 334.5L71.08 339.2L70.83 343L70.58 343.9L70.33 340.9L70.08 335.9L69.83 331.4L69.58 328.5L69.33 327.2L69.08 327L68.83 326.9L68.58 327L68.33 327.2L68.08 327.4L67.83 328.1L67.58 329.6L67.33 332.5L67.08 336.6L66.83 340.4L66.58 342.1L66.33 340.2L66.08 335.9L65.83 331.7L65.58 329L65.33 327.6L65.08 327L64.83 326.9L64.58 326.9L64.33 326.9L64.08 326.9L63.83 327.3L63.58 328.2L63.33 329.9L63.08 332.2L62.83 334.7L62.58 337L62.33 339.4L62.08 339L61.83 335.9L61.58 332L61.33 329.3L61.08 327.7L60.83 327L60.58 327.1L60.33 327.3L60.08 327.3L59.83 327.1L59.58 327.2L59.33 328.3L59.08 330.5L58.83 334.2L58.58 338.3L58.33 340.8L58.08 340.3L57.83 340.3L57.58 336.6L57.33 332.2L57.08 329L56.83 327.5L56.58 327L56.33 327.2L56.08 327.2L55.83 327.1L55.58 327L55.33 327L55.08 327.7L54.83 328.1L54.58 329.7L54.33 331.9L54.08 333.4L53.83 333.3L53.58 331.6L53.33 329.5L53.08 327.8L52.83 327.5L52.58 327.1L52.33 327.2L52.08 327.1L51.83 327L51.58 327L51.33 327L51.08 327L50.83 327.6L50.58 328.5L50.33 328.6L50.08 329.8L49.83 330.5L49.58 330.3L49.33 329L49.08 327.8L48.83 327.2L48.58 327.1L48.33 326.9L48.08 326.8L47.83 326.8L47.58 326.8L47.33 326.8L47.08 326.8L46.83 326.8L46.58 326.8L46.33 326.8L46.08 326.8L45.83 326.8L45.58 326.8L45.33 326.8L45.08 326.8L44.83 326.8L44.58 326.8L44.33 326.8L44.08 326.8L43.83 326.8L43.58 326.8L43.33 326.8L43.08 326.8L42.83 326.8L42.58 326.8L42.33 326.8L42.08 326.8L41.83 326.8L41.58 326.8L41.33 326.8L41.08 326.8L40.83 326.8L40.58 326.8L40.33 326.8L40.08 326.8L39.83 326.8L39.58 326.8L39.33 326.8L39.08 326.8L38.83 326.8L38.58 326.8L38.33 326.8L38.08 326.8L37.83 326.8L37.58 326.8L37.33 326.8L37.08 326.8L36.83 326.8Z" fill="#0072BD" stroke="#0072BD" stroke-width="0.5" stroke-linejoin="round"/>
<rect x="36.7" y="305.8" width="186.3" height="42" fill="none" stroke="#5a5a5a" stroke-width="0.55"/>
<path d="M36.7 347.8v-1.86M36.7 305.8v1.86M98.8 347.8v-1.86M98.8 305.8v1.86M160.9 347.8v-1.86M160.9 305.8v1.86M223 347.8v-1.86M223 305.8v1.86M36.7 347.8h1.86M223 347.8h-1.86M36.7 326.8h1.86M223 326.8h-1.86M36.7 305.8h1.86M223 305.8h-1.86" stroke="#5a5a5a" stroke-width="0.55" fill="none"/>
<g class="tk" font-size="4.62" fill="#1c1c1c">
<text x="36.7" y="353.81" text-anchor="middle">0</text>
<text x="98.8" y="353.81" text-anchor="middle">0.5</text>
<text x="160.9" y="353.81" text-anchor="middle">1</text>
<text x="223" y="353.81" text-anchor="middle">1.5</text>
<text x="36" y="349.46" text-anchor="end">-5</text>
<text x="36" y="328.46" text-anchor="end">0</text>
<text x="36" y="307.46" text-anchor="end">5</text>
</g>
<text x="129.85" y="363.67" text-anchor="middle" font-size="7.92" fill="#1c1c1c">Time(s)</text>
<text transform="translate(15.85 326.8) rotate(-90)" text-anchor="middle" font-size="7.92" fill="#1c1c1c">IMF2</text>
<text transform="translate(28.15 326.8) rotate(-90)" text-anchor="middle" font-size="7.92" fill="#1c1c1c">Acceleration(mm/s<tspan dy="-3.01" font-size="5.7">2</tspan><tspan dy="3.01">)</tspan></text>
</g>
<g id="imf3-time">
<path d="M37.62 402.3L37.88 402.3L38.12 402.3L38.38 402.3L38.62 402.3L38.88 402.3L39.12 402.3L39.38 402.3L39.62 402.3L39.88 402.3L40.12 402.3L40.38 402.3L40.62 402.3L40.88 402.3L41.12 402.3L41.38 402.3L41.62 402.3L41.88 402.3L42.12 402.3L42.38 402.3L42.62 402.3L42.88 402.3L43.12 402.3L43.38 402.3L43.62 402.3L43.88 402.3L44.12 402.3L44.38 402.3L44.62 402.3L44.88 402.3L45.12 402.3L45.38 402.3L45.62 402.3L45.88 402.3L46.12 402.3L46.38 402.3L46.62 402.3L46.88 402.3L47.12 402.3L47.38 402.3L47.62 402.3L47.88 402.3L48.12 402.3L48.38 402.3L48.62 402.2L48.88 402.2L49.12 402.1L49.38 401.9L49.62 401.8L49.88 401.2L50.12 399.5L50.38 398L50.62 398.4L50.88 399.2L51.12 400.7L51.38 401.4L51.62 401.6L51.88 402L52.12 402L52.38 401.8L52.62 401.9L52.88 402.1L53.12 401.9L53.38 401.4L53.62 401.3L53.88 400.6L54.12 398.9L54.38 398.9L54.62 397.2L54.88 397.8L55.12 398.4L55.38 399.1L55.62 400.7L55.88 401.6L56.12 401.7L56.38 401.9L56.62 402L56.88 402L57.12 401.9L57.38 401.9L57.62 401.5L57.88 401.5L58.12 401.2L58.38 401.2L58.62 399.7L58.88 398.8L59.12 399.4L59.38 399.4L59.62 400.5L59.88 401.7L60.12 402.1L60.38 402.1L60.62 402.2L60.88 401.9L61.12 401.7L61.38 401.9L61.62 401.9L61.88 401.6L62.12 399.5L62.38 399.5L62.62 395.9L62.88 392.2L63.12 393.7L63.38 393.5L63.62 396.8L63.88 399.2L64.12 400.7L64.38 400.7L64.62 401.4L64.88 401.9L65.12 402L65.38 402L65.62 401.9L65.88 401.6L66.12 401.5L66.38 400L66.62 396.8L66.88 397.1L67.12 392.9L67.38 393.2L67.62 396.8L67.88 396.8L68.12 400.1L68.38 401.3L68.62 401.6L68.88 401.9L69.12 402.2L69.38 401.4L69.62 401.3L69.88 401.8L70.12 401.4L70.38 400.7L70.62 400.1L70.88 398.4L71.12 396.3L71.38 396.3L71.62 396.6L71.88 398.8L72.12 399.8L72.38 400.5L72.62 401.5L72.88 401.6L73.12 401.8L73.38 402L73.62 401.8L73.88 401.8L74.12 401.6L74.38 401.8L74.62 400.8L74.88 398.4L75.12 397.4L75.38 395.1L75.62 393.7L75.88 396.2L76.12 396.2L76.38 399.4L76.62 401.2L76.88 401.7L77.12 401.6L77.38 402L77.62 402.1L77.88 402L78.12 401.8L78.38 401.2L78.62 401.2L78.88 400.5L79.12 399.3L79.38 396.8L79.62 397.4L79.88 395.8L80.12 397.5L80.38 399.4L80.62 400.3L80.88 400.4L81.12 401.3L81.38 402.3L81.62 402L81.88 402.2L82.12 401.9L82.38 402.1L82.62 401.9L82.88 401.4L83.12 400.6L83.38 398.5L83.62 395.8L83.88 395.8L84.12 395.7L84.38 397.9L84.62 400.1L84.88 400.1L85.12 401.3L85.38 401.8L85.62 401.9L85.88 401.9L86.12 401.9L86.38 401.8L86.62 401.9L86.88 401.5L87.12 401.4L87.38 400.6L87.62 399.3L87.88 397.4L88.12 397.8L88.38 397.8L88.62 399.3L88.88 400.8L89.12 401L89.38 401.3L89.62 401.5L89.88 401.9L90.12 401.8L90.38 401.8L90.62 401.8L90.88 402.1L91.12 401.9L91.38 401.3L91.62 399.4L91.88 397L92.12 397L92.38 396.4L92.62 398.4L92.88 400L93.12 400.9L93.38 401.2L93.62 401.6L93.88 402L94.12 401.9L94.38 401.9L94.62 401.3L94.88 401.3L95.12 401.3L95.38 401.3L95.62 400.7L95.88 400.2L96.12 399.7L96.38 400.2L96.62 399.6L96.88 400.1L97.12 400.6L97.38 401.3L97.62 401.3L97.88 401.6L98.12 401.8L98.38 401.9L98.62 401.9L98.88 402.2L99.12 402.2L99.38 402L99.62 401.8L99.88 400.8L100.12 399.3L100.38 399.5L100.62 398.6L100.88 399.4L101.12 400.2L101.38 400.7L101.62 401.3L101.88 402.1L102.12 402.2L102.38 402.2L102.62 402.1L102.88 401.9L103.12 402L103.38 402.1L103.62 402.1L103.88 401.6L104.12 400.7L104.38 398.9L104.62 398.9L104.88 397.6L105.12 398.7L105.38 400.6L105.62 400.9L105.88 401.4L106.12 401.9L106.38 402L106.62 402L106.88 402.1L107.12 402L107.38 401.8L107.62 401.8L107.88 401.2L108.12 399.1L108.38 398.9L108.62 394.7L108.88 392.2L109.12 392.2L109.38 395.5L109.62 398.8L109.88 400.7L110.12 401.3L110.38 401.9L110.62 402L110.88 402.3L111.12 401.8L111.38 402L111.62 401.9L111.88 401.7L112.12 400.9L112.38 400.9L112.62 399.9L112.88 397.7L113.12 397.8L113.38 398.4L113.62 399.8L113.88 400.1L114.12 401.7L114.38 401.7L114.62 401.6L114.88 401.5L115.12 401.7L115.38 402L115.62 402L115.88 402L116.12 401.9L116.38 401.6L116.62 401.6L116.88 400.5L117.12 398.9L117.38 399.4L117.62 399.4L117.88 400.7L118.12 401.7L118.38 401.7L118.62 401.8L118.88 401.9L119.12 402.1L119.38 402.1L119.62 402.1L119.88 402L120.12 401.7L120.38 401.1L120.62 400.2L120.88 400.8L121.12 399.1L121.38 397.9L121.62 399.6L121.88 398.7L122.12 400L122.38 401.1L122.62 401.1L122.88 401.3L123.12 401.2L123.38 401.5L123.62 401.8L123.88 402L124.12 402.1L124.38 402.1L124.62 401.8L124.88 400.6L125.12 398.8L125.38 399.1L125.62 397.2L125.88 398.1L126.12 400.1L126.38 400.4L126.62 401.6L126.88 402.1L127.12 401.9L127.38 402.2L127.62 402.1L127.88 401.8L128.12 401.7L128.38 401.6L128.62 401.7L128.88 401.2L129.12 400.2L129.38 398.4L129.62 397.5L129.88 396.8L130.12 398.2L130.38 399.7L130.62 401.2L130.88 401.4L131.12 402L131.38 402L131.62 402.1L131.88 402L132.12 402L132.38 402L132.62 401.8L132.88 401.9L133.12 401.9L133.38 400L133.62 398L133.88 398L134.12 397.9L134.38 399.4L134.62 399.4L134.88 401.1L135.12 401.7L135.38 401.6L135.62 401.6L135.88 402L136.12 402L136.38 402L136.62 402L136.88 401.6L137.12 401.2L137.38 400.5L137.62 400.4L137.88 398.8L138.12 397.1L138.38 397.8L138.62 399.3L138.88 399.3L139.12 400.4L139.38 401.3L139.62 401.9L139.88 402L140.12 402.2L140.38 401.9L140.62 401.4L140.88 401.5L141.12 401L141.38 400.8L141.62 400.3L141.88 398.7L142.12 398.7L142.38 397.2L142.62 398.7L142.88 398.7L143.12 400.2L143.38 401L143.62 401.3L143.88 401.4L144.12 402L144.38 402.2L144.62 402L144.88 402.1L145.12 402L145.38 402L145.62 401.4L145.88 399.9L146.12 398.6L146.38 397.4L146.62 396.9L146.88 398.7L147.12 398.9L147.38 400.6L147.62 401.8L147.88 402L148.12 402L148.38 402L148.62 402L148.88 402L149.12 401.7L149.38 402L149.62 402L149.88 400.8L150.12 400.8L150.38 398.8L150.62 397.5L150.88 398.5L151.12 398.4L151.38 400.2L151.62 401.6L151.88 401.8L152.12 402.1L152.38 402.3L152.62 402.2L152.88 402.1L153.12 402L153.38 402L153.62 401.6L153.88 401.5L154.12 400.6L154.38 398.3L154.62 385L154.88 395.9L155.12 397.1L155.38 399.3L155.62 400.1L155.88 400.7L156.12 401.5L156.38 401.8L156.62 401.9L156.88 401.9L157.12 401.8L157.38 402L157.62 402.1L157.88 401.9L158.12 400.9L158.38 398.1L158.62 398.1L158.88 393.8L159.12 393.8L159.38 396.8L159.62 396.8L159.88 399.6L160.12 401.1L160.38 401.3L160.62 401.8L160.88 402.2L161.12 402L161.38 401.9L161.62 401.9L161.88 402L162.12 402L162.38 401.1L162.62 401.1L162.88 399.6L163.12 398.5L163.38 399.7L163.62 399.4L163.88 400.5L164.12 401.3L164.38 401.3L164.62 401.6L164.88 401.8L165.12 401.9L165.38 402L165.62 401.9L165.88 401.9L166.12 401.6L166.38 400.1L166.62 400.2L166.88 397.4L167.12 393.7L167.38 393.9L167.62 393.6L167.88 396.5L168.12 399.4L168.38 399.9L168.62 400.7L168.88 401.2L169.12 401.9L169.38 402.1L169.62 402.1L169.88 402.1L170.12 401.7L170.38 401.7L170.62 401L170.88 399.6L171.12 397.3L171.38 395.8L171.62 395L171.88 396.4L172.12 398.4L172.38 400.4L172.62 400.6L172.88 401.9L173.12 402.2L173.38 402.1L173.62 401.9L173.88 401.8L174.12 401.9L174.38 402.4L174.62 401.7L174.88 400.8L175.12 399.6L175.38 399.2L175.62 397.9L175.88 398.5L176.12 399.9L176.38 400.2L176.62 401.4L176.88 402L177.12 402.1L177.38 402L177.62 402.2L177.88 402.1L178.12 401.9L178.38 401.7L178.62 401.6L178.88 401.4L179.12 400.4L179.38 398.2L179.62 397.5L179.88 396.2L180.12 397.2L180.38 399.3L180.62 400.9L180.88 400.9L181.12 401.7L181.38 401.7L181.62 402L181.88 401.7L182.12 402L182.38 401.9L182.62 401.4L182.88 401.5L183.12 401L183.38 400L183.62 399.1L183.88 397.5L184.12 397.1L184.38 399.6L184.62 399.2L184.88 400.5L185.12 401.2L185.38 401.1L185.62 401.8L185.88 402L186.12 402.1L186.38 402.1L186.62 402.2L186.88 402L187.12 401.5L187.38 400.9L187.62 400.7L187.88 399.5L188.12 397.6L188.38 398.2L188.62 399.6L188.88 399.6L189.12 400.9L189.38 401.7L189.62 401.9L189.88 402L190.12 401.9L190.38 402L190.62 402.2L190.88 402L191.12 401.9L191.38 401.9L191.62 400.9L191.88 399.5L192.12 399.4L192.38 398.1L192.62 398.3L192.88 399.7L193.12 401L193.38 400.9L193.62 402L193.88 402.1L194.12 402L194.38 401.9L194.62 401.9L194.88 401.8L195.12 401.9L195.38 401.7L195.62 402.1L195.88 401.5L196.12 400.1L196.38 400.1L196.62 398.9L196.88 400L197.12 401.3L197.38 401.1L197.62 401.5L197.88 401.9L198.12 401.8L198.38 401.7L198.62 401.6L198.88 401.5L199.12 401.5L199.38 402L199.62 402L199.88 401.5L200.12 401L200.38 399.8L200.62 400.1L200.88 399.3L201.12 400L201.38 401.3L201.62 401.5L201.88 402.2L202.12 402L202.38 402L202.62 402.2L202.88 402L203.12 402L203.38 402.2L203.62 402L203.88 401.8L204.12 401.8L204.38 400.6L204.62 399.4L204.88 399.2L205.12 399.5L205.38 400.6L205.62 400.8L205.88 401.4L206.12 401.3L206.38 401.4L206.62 401.5L206.88 401.5L207.12 401.5L207.38 401.8L207.62 401.8L207.88 401.8L208.12 401.3L208.38 400.5L208.62 399.8L208.88 399.8L209.12 399.4L209.38 400L209.62 400.8L209.88 400.8L210.12 401.4L210.38 401.9L210.62 402.2L210.88 402L211.12 401.5L211.38 401.5L211.62 401.6L211.88 402L212.12 402.1L212.38 401.5L212.62 399.9L212.88 398.2L213.12 398.2L213.38 398.2L213.62 399.6L213.88 400.7L214.12 400.7L214.38 401.4L214.62 402.2L214.88 402.2L215.12 402.1L215.38 401.6L215.62 401.3L215.88 401.2L216.12 401.4L216.38 401.1L216.62 400.1L216.88 400.1L217.12 398.5L217.38 397.3L217.62 398.6L217.88 399.8L218.12 399.8L218.38 400.7L218.62 401.6L218.88 402L219.12 401.6L219.38 401.9L219.62 402.1L219.88 402.1L220.12 402.1L220.38 401.7L220.62 400.9L220.88 399.7L221.12 399.7L221.38 397.9L221.62 397.2L221.88 399.1L222.12 399.5L222.38 400.6L222.62 401.3L222.88 401.9L223.12 401.9L223.12 402.4L222.88 403L222.62 403.3L222.38 403.5L222.12 404.5L221.88 406.5L221.62 407.3L221.38 407.3L221.12 405.7L220.88 404.1L220.62 403.3L220.38 403.3L220.12 402.4L219.88 402.4L219.62 402.6L219.38 402.9L219.12 402.9L218.88 402.9L218.62 402.9L218.38 403.5L218.12 404.3L217.88 405.4L217.62 406.8L217.38 406.2L217.12 406.9L216.88 405.3L216.62 403.8L216.38 403.3L216.12 403.2L215.88 403.3L215.62 403.3L215.38 402.7L215.12 402.7L214.88 402.3L214.62 402.7L214.38 402.7L214.12 403.6L213.88 404.3L213.62 405.6L213.38 405.6L213.12 406.9L212.88 405.7L212.62 403.8L212.38 403L212.12 402.7L211.88 402.8L211.62 402.9L211.38 403.1L211.12 402.9L210.88 402.5L210.62 402.6L210.38 402.9L210.12 402.9L209.88 403.5L209.62 404.2L209.38 405.1L209.12 405.1L208.88 405.1L208.62 404.4L208.38 403.7L208.12 403.7L207.88 402.8L207.62 402.7L207.38 402.8L207.12 402.9L206.88 403.2L206.62 402.9L206.38 403.2L206.12 403.3L205.88 402.8L205.62 403.3L205.38 404.6L205.12 404.6L204.88 405.6L204.62 404.7L204.38 403.2L204.12 403.3L203.88 402.6L203.62 402.6L203.38 402.5L203.12 402.6L202.88 402.6L202.62 402.5L202.38 402.7L202.12 402.7L201.88 402.4L201.62 402.7L201.38 404L201.12 404.3L200.88 405L200.62 405.2L200.38 404.1L200.12 403.2L199.88 403.2L199.62 402.9L199.38 402.7L199.12 402.9L198.88 403.1L198.62 402.8L198.38 403L198.12 402.7L197.88 402.8L197.62 402.8L197.38 403.3L197.12 403.9L196.88 405.3L196.62 405.3L196.38 405.3L196.12 403.7L195.88 403L195.62 402.6L195.38 402.7L195.12 402.9L194.88 402.5L194.62 402.5L194.38 402.6L194.12 402.6L193.88 402.5L193.62 402.6L193.38 403.1L193.12 404.3L192.88 405.6L192.62 405.5L192.38 406.7L192.12 405.9L191.88 404.4L191.62 403.7L191.38 403L191.12 402.7L190.88 402.5L190.62 402.4L190.38 402.5L190.12 402.6L189.88 402.7L189.62 402.8L189.38 403.3L189.12 403.3L188.88 404.3L188.62 405.7L188.38 407L188.12 406.1L187.88 406.1L187.62 404.4L187.38 403.5L187.12 402.8L186.88 402.4L186.62 402.5L186.38 402.4L186.12 402.6L185.88 402.6L185.62 402.9L185.38 403.1L185.12 404L184.88 403.9L184.62 404.4L184.38 406.6L184.12 407.7L183.88 407.9L183.62 405.9L183.38 403.9L183.12 403.9L182.88 403.4L182.62 403L182.38 402.6L182.12 402.7L181.88 402.8L181.62 402.9L181.38 402.9L181.12 402.8L180.88 403.2L180.62 404.4L180.38 406.4L180.12 405.9L179.88 408.3L179.62 407.6L179.38 405.1L179.12 403.5L178.88 403.6L178.62 403L178.38 402.8L178.12 402.8L177.88 402.6L177.62 402.4L177.38 402.4L177.12 402.6L176.88 402.8L176.62 403.5L176.38 403.7L176.12 405.3L175.88 406.7L175.62 405.9L175.38 406.1L175.12 404.6L174.88 403.3L174.62 403.2L174.38 402.6L174.12 402.7L173.88 402.9L173.62 402.7L173.38 402.4L173.12 402.5L172.88 402.5L172.62 403.3L172.38 405.2L172.12 406.7L171.88 407.3L171.62 409.2L171.38 408.7L171.12 406.1L170.88 404.5L170.62 404.2L170.38 403.3L170.12 402.5L169.88 402.4L169.62 402.4L169.38 402.5L169.12 403.1L168.88 403.5L168.62 403.7L168.38 404.4L168.12 406.5L167.88 405.9L167.62 409.6L167.38 411.9L167.12 409L166.88 409L166.62 405.7L166.38 403.5L166.12 402.8L165.88 402.8L165.62 402.7L165.38 402.5L165.12 402.6L164.88 403L164.62 402.9L164.38 403.1L164.12 403.7L163.88 404.3L163.62 404.6L163.38 405.7L163.12 405.8L162.88 405.3L162.62 404.2L162.38 403L162.12 402.5L161.88 402.7L161.62 402.7L161.38 402.6L161.12 402.6L160.88 402.5L160.62 402.5L160.38 403.1L160.12 404L159.88 403.8L159.62 406.3L159.38 409.3L159.12 411.7L158.88 411.7L158.62 408.7L158.38 404.8L158.12 403.1L157.88 403.1L157.62 402.5L157.38 402.7L157.12 402.7L156.88 402.8L156.62 402.7L156.38 402.9L156.12 403.3L155.88 403.5L155.62 404.5L155.38 406.3L155.12 406.6L154.88 408.3L154.62 420.7L154.38 404.9L154.12 404.5L153.88 403.5L153.62 402.6L153.38 402.5L153.12 402.6L152.88 402.4L152.62 402.4L152.38 402.4L152.12 402.4L151.88 402.7L151.62 403.5L151.38 403.5L151.12 405.3L150.88 406.8L150.62 406.7L150.38 406.5L150.12 404.7L149.88 403.1L149.62 402.6L149.38 402.7L149.12 402.9L148.88 402.8L148.62 402.5L148.38 402.6L148.12 402.7L147.88 402.6L147.62 403.3L147.38 403.3L147.12 404.9L146.88 406.9L146.62 406.7L146.38 408L146.12 405.9L145.88 403.8L145.62 403.4L145.38 402.8L145.12 402.6L144.88 402.5L144.62 402.5L144.38 402.5L144.12 402.7L143.88 402.9L143.62 403.4L143.38 404L143.12 403.7L142.88 405L142.62 406.8L142.38 405L142.12 407L141.88 404.9L141.62 403.5L141.38 404L141.12 403.4L140.88 403.1L140.62 403.1L140.38 402.7L140.12 402.5L139.88 402.5L139.62 402.9L139.38 403.7L139.12 403.7L138.88 404.6L138.62 406L138.38 407.2L138.12 407.2L137.88 406.7L137.62 404.8L137.38 403.7L137.12 403.2L136.88 403.2L136.62 402.7L136.38 402.4L136.12 402.7L135.88 402.8L135.62 402.8L135.38 403L135.12 403L134.88 403.2L134.62 404.3L134.38 406.1L134.12 404.6L133.88 407.2L133.62 405.7L133.38 404L133.12 403.6L132.88 402.7L132.62 402.7L132.38 402.8L132.12 402.5L131.88 402.5L131.62 402.6L131.38 402.4L131.12 402.6L130.88 402.8L130.62 404.1L130.38 405.6L130.12 405.6L129.88 407.2L129.62 407.1L129.38 405.2L129.12 404.2L128.88 403.9L128.62 403.1L128.38 402.9L128.12 403L127.88 402.7L127.62 402.4L127.38 402.5L127.12 402.6L126.88 402.5L126.62 402.5L126.38 403.7L126.12 405.6L125.88 406.5L125.62 407.2L125.38 406.7L125.12 404.8L124.88 403.2L124.62 403.2L124.38 402.5L124.12 402.5L123.88 402.5L123.62 402.5L123.38 403.2L123.12 403.4L122.88 403.2L122.62 403.3L122.38 404L122.12 404.9L121.88 405.3L121.62 406.4L121.38 406.2L121.12 406.2L120.88 404.9L120.62 403.9L120.38 403.6L120.12 403.1L119.88 402.7L119.62 402.6L119.38 402.5L119.12 402.7L118.88 402.8L118.62 402.7L118.38 402.8L118.12 403.3L117.88 403.5L117.62 404.5L117.38 405.7L117.12 405L116.88 405L116.62 403.4L116.38 402.8L116.12 402.7L115.88 402.7L115.62 402.6L115.38 402.8L115.12 403L114.88 403L114.62 403.1L114.38 402.9L114.12 402.4L113.88 403.8L113.62 405.5L113.38 404.7L113.12 406.9L112.88 405.9L112.62 404.7L112.38 404.1L112.12 403.3L111.88 402.6L111.62 402.6L111.38 402.8L111.12 402.5L110.88 402.4L110.62 402.6L110.38 402.8L110.12 402.9L109.88 404.4L109.62 407.4L109.38 406.4L109.12 410.9L108.88 412L108.62 406.1L108.38 407.7L108.12 404.2L107.88 402.9L107.62 403L107.38 402.7L107.12 402.5L106.88 402.4L106.62 402.6L106.38 402.5L106.12 402.8L105.88 402.9L105.62 403.5L105.38 405L105.12 405.6L104.88 406.5L104.62 406.6L104.38 404.7L104.12 403.4L103.88 403.4L103.62 402.7L103.38 402.4L103.12 402.6L102.88 402.7L102.62 402.5L102.38 402.4L102.12 402.4L101.88 402.7L101.62 402.8L101.38 403.8L101.12 404.9L100.88 405.2L100.62 405.6L100.38 405.9L100.12 404.6L99.88 403.4L99.62 403.2L99.38 402.5L99.12 402.3L98.88 402.4L98.62 402.6L98.38 402.7L98.12 402.9L97.88 402.9L97.62 403.1L97.38 403.6L97.12 404.2L96.88 404.2L96.62 404.7L96.38 405.2L96.12 404.6L95.88 404.2L95.62 404.2L95.38 403.6L95.12 403.2L94.88 403.3L94.62 403.2L94.38 403.1L94.12 402.5L93.88 402.6L93.62 402.7L93.38 403.4L93.12 404.1L92.88 405.3L92.62 405.8L92.38 407.3L92.12 408.3L91.88 406.5L91.62 404.1L91.38 402.9L91.12 402.9L90.88 402.5L90.62 402.6L90.38 402.9L90.12 402.7L89.88 402.8L89.62 402.8L89.38 403.2L89.12 403.4L88.88 404.4L88.62 405.8L88.38 406.2L88.12 407.4L87.88 406.3L87.62 404.3L87.38 404.6L87.12 403.5L86.88 402.8L86.62 402.7L86.38 402.8L86.12 402.8L85.88 402.7L85.62 402.7L85.38 403L85.12 403L84.88 403.8L84.62 405.5L84.38 407.8L84.12 407.8L83.88 409.5L83.62 407.5L83.38 404.7L83.12 404.9L82.88 403.3L82.62 402.4L82.38 402.7L82.12 402.6L81.88 402.6L81.62 402.5L81.38 402.7L81.12 403L80.88 403.8L80.62 404.5L80.38 406.1L80.12 406.8L79.88 408L79.62 408.6L79.38 406.4L79.12 404.4L78.88 404.6L78.62 403.8L78.38 403L78.12 402.6L77.88 402.7L77.62 402.4L77.38 402.5L77.12 402.8L76.88 403.2L76.62 404.1L76.38 404.1L76.12 406.7L75.88 409.8L75.62 409.9L75.38 410.9L75.12 407.8L74.88 404.8L74.62 404.7L74.38 403.3L74.12 402.8L73.88 402.9L73.62 402.8L73.38 402.7L73.12 402.7L72.88 402.9L72.62 403.5L72.38 403.5L72.12 404.9L71.88 406.9L71.62 406.3L71.38 408.7L71.12 407.1L70.88 404.9L70.62 405.3L70.38 403.8L70.12 402.7L69.88 402.7L69.62 403.5L69.38 403.4L69.12 402.8L68.88 402.3L68.62 403.1L68.38 403.7L68.12 403.4L67.88 405.9L67.62 409.7L67.38 411.7L67.12 412.5L66.88 409.8L66.62 406L66.38 405.3L66.12 403.7L65.88 402.9L65.62 402.5L65.38 402.4L65.12 402.7L64.88 402.9L64.62 402.9L64.38 403.6L64.12 404.5L63.88 406.3L63.62 406.4L63.38 409.4L63.12 412.7L62.88 410.6L62.62 410.5L62.38 406.7L62.12 403.8L61.88 402.5L61.62 402.6L61.38 402.9L61.12 402.9L60.88 402.9L60.62 402.5L60.38 402.5L60.12 402.5L59.88 403.6L59.62 403.6L59.38 404.7L59.12 405.6L58.88 405.5L58.62 405.5L58.38 404.1L58.12 403.1L57.88 403.1L57.62 402.8L57.38 402.9L57.12 402.7L56.88 402.6L56.62 402.6L56.38 402.6L56.12 402.8L55.88 403.4L55.62 404.7L55.38 404.7L55.12 406.1L54.88 407.3L54.62 406.2L54.38 406.7L54.12 404.8L53.88 403.4L53.62 403.6L53.38 402.9L53.12 402.6L52.88 402.6L52.62 402.8L52.38 402.7L52.12 402.8L51.88 402.4L51.62 402.9L51.38 403.5L51.12 404.4L50.88 404.6L50.62 406.2L50.38 406L50.12 404.2L49.88 404.2L49.62 403L49.38 402.6L49.12 402.3L48.88 402.4L48.62 402.3L48.38 402.3L48.12 402.3L47.88 402.3L47.62 402.3L47.38 402.3L47.12 402.3L46.88 402.3L46.62 402.3L46.38 402.3L46.12 402.3L45.88 402.3L45.62 402.3L45.38 402.3L45.12 402.3L44.88 402.3L44.62 402.3L44.38 402.3L44.12 402.3L43.88 402.3L43.62 402.3L43.38 402.3L43.12 402.3L42.88 402.3L42.62 402.3L42.38 402.3L42.12 402.3L41.88 402.3L41.62 402.3L41.38 402.3L41.12 402.3L40.88 402.3L40.62 402.3L40.38 402.3L40.12 402.3L39.88 402.3L39.62 402.3L39.38 402.3L39.12 402.3L38.88 402.3L38.62 402.3L38.38 402.3L38.12 402.3L37.88 402.3L37.62 402.3Z" fill="#0072BD" stroke="#0072BD" stroke-width="0.55" stroke-linejoin="round"/>
<rect x="37.5" y="381.3" width="185.7" height="42" fill="none" stroke="#5a5a5a" stroke-width="0.55"/>
<path d="M37.5 423.3v-1.86M37.5 381.3v1.86M99.4 423.3v-1.86M99.4 381.3v1.86M161.3 423.3v-1.86M161.3 381.3v1.86M223.2 423.3v-1.86M223.2 381.3v1.86M37.5 423.3h1.86M223.2 423.3h-1.86M37.5 402.3h1.86M223.2 402.3h-1.86M37.5 381.3h1.86M223.2 381.3h-1.86" stroke="#5a5a5a" stroke-width="0.55" fill="none"/>
<g class="tk" font-size="4.61" fill="#1c1c1c">
<text x="37.5" y="429.29" text-anchor="middle">0</text>
<text x="99.4" y="429.29" text-anchor="middle">0.5</text>
<text x="161.3" y="429.29" text-anchor="middle">1</text>
<text x="223.2" y="429.29" text-anchor="middle">1.5</text>
<text x="36.8" y="424.96" text-anchor="end">-2</text>
<text x="36.8" y="403.96" text-anchor="end">0</text>
<text x="36.8" y="382.96" text-anchor="end">2</text>
</g>
<text x="130.35" y="438.11" text-anchor="middle" font-size="8.02" fill="#1c1c1c">Time(s)</text>
<text transform="translate(17.79 402.3) rotate(-90)" text-anchor="middle" font-size="8.02" fill="#1c1c1c">IMF3</text>
<text transform="translate(30.49 402.3) rotate(-90)" text-anchor="middle" font-size="8.02" fill="#1c1c1c">Acceleration(mm/s<tspan dy="-3.05" font-size="5.78">2</tspan><tspan dy="3.05">)</tspan></text>
</g>
<g id="imf4-time">
<path d="M36.12 480.2L36.38 479.6L36.62 478.9L36.88 479.2L37.12 479.5L37.38 479.4L37.62 479.4L37.88 479.6L38.12 478.6L38.38 478.5L38.62 479.7L38.88 479.7L39.12 480.4L39.38 479.6L39.62 478.5L39.88 478.9L40.12 479.5L40.38 479.5L40.62 478.9L40.88 478.6L41.12 480.1L41.38 478L41.62 477.7L41.88 479.6L42.12 479L42.38 479L42.62 480.4L42.88 479L43.12 479L43.38 479.8L43.62 479.8L43.88 479.8L44.12 479.6L44.38 479.2L44.62 479.4L44.88 479.5L45.12 479.7L45.38 479.3L45.62 479.8L45.88 479.3L46.12 479.3L46.38 480L46.62 479L46.88 479L47.12 479.2L47.38 478.6L47.62 479.5L47.88 479.1L48.12 479.2L48.38 478L48.62 478.3L48.88 477.1L49.12 478.9L49.38 474.2L49.62 471.4L49.88 477.2L50.12 474.7L50.38 474.3L50.62 478.1L50.88 479.1L51.12 476.8L51.38 478.3L51.62 479.5L51.88 479.6L52.12 477.7L52.38 478.5L52.62 480.6L52.88 477L53.12 476.4L53.38 478.5L53.62 477.3L53.88 469.4L54.12 479.3L54.38 475.6L54.62 477.1L54.88 479.7L55.12 479.1L55.38 478.5L55.62 478.5L55.88 477.6L56.12 480.5L56.38 476.7L56.62 475.3L56.88 471.4L57.12 467.5L57.38 478.8L57.62 472.4L57.88 474.5L58.12 479.3L58.38 477.7L58.62 478.1L58.88 477.7L59.12 477.7L59.38 474L59.62 474L59.88 481.7L60.12 472.8L60.38 478.3L60.62 474.4L60.88 476.6L61.12 476.4L61.38 473.4L61.62 473.4L61.88 471.3L62.12 471.3L62.38 469.5L62.62 469.2L62.88 476L63.12 475.8L63.38 478.5L63.62 477.5L63.88 480L64.12 471.5L64.38 477.7L64.62 473.2L64.88 477.4L65.12 471.7L65.38 478.5L65.62 476L65.88 473L66.12 479.4L66.38 472.9L66.62 472.9L66.88 466.4L67.12 465.3L67.38 478.8L67.62 471.6L67.88 477.6L68.12 473.4L68.38 473L68.62 477.1L68.88 477.1L69.12 475.3L69.38 475.3L69.62 477.2L69.88 475L70.12 479.2L70.38 476.9L70.62 477.4L70.88 474.4L71.12 476.6L71.38 473.4L71.62 475.6L71.88 471.6L72.12 472.1L72.38 471L72.62 471.1L72.88 481.9L73.12 473.8L73.38 473.8L73.62 478.8L73.88 477.3L74.12 478L74.38 472.5L74.62 472.5L74.88 467.4L75.12 468L75.38 464.8L75.62 474L75.88 465.5L76.12 468.7L76.38 476.5L76.62 472.2L76.88 478.2L77.12 477.3L77.38 479.3L77.62 480L77.88 477L78.12 478.6L78.38 478.6L78.62 472.8L78.88 474.4L79.12 470.2L79.38 471.4L79.62 465L79.88 465.5L80.12 476L80.38 476.5L80.62 476.5L80.88 477.8L81.12 478.4L81.38 477.7L81.62 477.6L81.88 475L82.12 476.3L82.38 480.6L82.62 474.4L82.88 474.2L83.12 481.7L83.38 473L83.62 472.8L83.88 475.6L84.12 471.1L84.38 477.5L84.62 472.4L84.88 473.3L85.12 475.9L85.38 475.8L85.62 475.9L85.88 477.1L86.12 476.9L86.38 477.1L86.62 478.4L86.88 478.3L87.12 477.7L87.38 474.1L87.62 475.4L87.88 475L88.12 473.5L88.38 475.6L88.62 467.3L88.88 476.8L89.12 470.9L89.38 473.4L89.62 477.8L89.88 476.9L90.12 478.6L90.38 477.3L90.62 477.3L90.88 475.3L91.12 474.4L91.38 476.9L91.62 476.5L91.88 477.9L92.12 476.4L92.38 473.5L92.62 471.3L92.88 473.3L93.12 472.4L93.38 477.4L93.62 477.8L93.88 473L94.12 478.5L94.38 474.9L94.62 479.4L94.88 478.2L95.12 476.8L95.38 480.4L95.62 477.2L95.88 477.2L96.12 480.1L96.38 474.2L96.62 474.6L96.88 463.4L97.12 462.7L97.38 470.4L97.62 468.8L97.88 472.6L98.12 472.6L98.38 474.3L98.62 473.5L98.88 478.7L99.12 478.7L99.38 476.5L99.62 477L99.88 476L100.12 476.4L100.38 474.9L100.62 476.1L100.88 471.9L101.12 471.9L101.38 479L101.62 471.3L101.88 476.9L102.12 475.8L102.38 475.5L102.62 477.3L102.88 475.4L103.12 478.6L103.38 477.5L103.62 479.5L103.88 476L104.12 471.9L104.38 480.6L104.62 473.8L104.88 477.6L105.12 478.1L105.38 476.7L105.62 476.1L105.88 474.5L106.12 479.7L106.38 478.6L106.62 477.9L106.88 477.7L107.12 479.9L107.38 479.2L107.62 476L107.88 480.2L108.12 478.4L108.38 478.5L108.62 478.9L108.88 478L109.12 473.8L109.38 480.1L109.62 471L109.88 472.1L110.12 471.2L110.38 470.6L110.62 479.6L110.88 471.3L111.12 476.9L111.38 472.7L111.62 474.8L111.88 478.2L112.12 477L112.38 476.9L112.62 479.1L112.88 479.1L113.12 477.6L113.38 478.5L113.62 478L113.88 473.2L114.12 473.1L114.38 466.9L114.62 466.9L114.88 468.7L115.12 472.3L115.38 475.1L115.62 478.5L115.88 477.3L116.12 478.7L116.38 476.3L116.62 474.4L116.88 479.5L117.12 478.1L117.38 478L117.62 481.1L117.88 473.6L118.12 473.8L118.38 466.7L118.62 467.9L118.88 470.1L119.12 474.5L119.38 474.5L119.62 477.5L119.88 475.7L120.12 478.8L120.38 478.5L120.62 477L120.88 476.9L121.12 475.5L121.38 478.1L121.62 476L121.88 478.4L122.12 473.1L122.38 473.1L122.62 470.7L122.88 470.2L123.12 476.7L123.38 469.3L123.62 478.3L123.88 474.3L124.12 475.9L124.38 480L124.62 477.2L124.88 477.4L125.12 475.7L125.38 475.7L125.62 479.9L125.88 473.2L126.12 473.4L126.38 473.9L126.62 474.8L126.88 467.9L127.12 472.8L127.38 467.9L127.62 475.5L127.88 466.1L128.12 475.5L128.38 475.9L128.62 478L128.88 479.5L129.12 475.6L129.38 475.5L129.62 480.8L129.88 475.1L130.12 475.1L130.38 479L130.62 478.9L130.88 475.9L131.12 478.9L131.38 475L131.62 476.1L131.88 465.7L132.12 465.7L132.38 474.2L132.62 474.2L132.88 479.4L133.12 474.1L133.38 473.9L133.62 473.4L133.88 473.4L134.12 481.8L134.38 477.2L134.62 478.1L134.88 478.5L135.12 476.6L135.38 476.9L135.62 473.7L135.88 473.7L136.12 471L136.38 470.5L136.62 478.1L136.88 477.3L137.12 478.3L137.38 476L137.62 476.4L137.88 476L138.12 476L138.38 476.8L138.62 477L138.88 481.2L139.12 473.1L139.38 475.4L139.62 474.6L139.88 474.3L140.12 475.9L140.38 466.4L140.62 479.6L140.88 477.5L141.12 479L141.38 479.7L141.62 479L141.88 479.5L142.12 479.5L142.38 478.8L142.62 478.6L142.88 480.4L143.12 477.8L143.38 477.8L143.62 481.8L143.88 473L144.12 472.9L144.38 474.2L144.62 469.2L144.88 471.5L145.12 463L145.38 472.2L145.62 469.2L145.88 478.8L146.12 476.7L146.38 479.6L146.62 479.9L146.88 479.2L147.12 479L147.38 479.1L147.62 478.1L147.88 478.2L148.12 475.8L148.38 474.9L148.62 474.8L148.88 473.9L149.12 472.8L149.38 471.9L149.62 478.6L149.88 477.3L150.12 478.9L150.38 479L150.62 474.6L150.88 474.8L151.12 475L151.38 474.6L151.62 481.1L151.88 475.2L152.12 475.9L152.38 478.8L152.62 477.4L152.88 477.7L153.12 481.1L153.38 472.1L153.62 472L153.88 473.4L154.12 473.5L154.38 478.6L154.62 478.7L154.88 478.2L155.12 478.4L155.38 476.5L155.62 476.9L155.88 476.3L156.12 476.6L156.38 480.3L156.62 473.1L156.88 476.9L157.12 469.5L157.38 469.7L157.62 478.2L157.88 471.2L158.12 478.3L158.38 471.3L158.62 477.1L158.88 469.1L159.12 468.6L159.38 479L159.62 477.4L159.88 475.3L160.12 481L160.38 476.6L160.62 477.6L160.88 480.7L161.12 474.8L161.38 476.5L161.62 470.8L161.88 469.1L162.12 457.2L162.38 467.4L162.62 477.9L162.88 477.6L163.12 477.5L163.38 479L163.62 477L163.88 477.7L164.12 475.2L164.38 478.7L164.62 481L164.88 475.8L165.12 476.1L165.38 479.3L165.62 476.1L165.88 479.1L166.12 478.1L166.38 480.5L166.62 471.6L166.88 470.9L167.12 473.2L167.38 472.8L167.62 479.7L167.88 479.8L168.12 475.5L168.38 477L168.62 479.2L168.88 470.8L169.12 471.1L169.38 475.4L169.62 475.4L169.88 479.9L170.12 479.1L170.38 478L170.62 474.4L170.88 474.4L171.12 461.7L171.38 461.7L171.62 470.6L171.88 470.6L172.12 477L172.38 476.7L172.62 477.4L172.88 474.3L173.12 477.8L173.38 477.4L173.62 478L173.88 478L174.12 481.7L174.38 469.3L174.62 473.7L174.88 470.9L175.12 472.9L175.38 479.4L175.62 476.7L175.88 478.2L176.12 473.6L176.38 478.8L176.62 472.9L176.88 479.4L177.12 475.9L177.38 479.9L177.62 478.8L177.88 475.5L178.12 480.2L178.38 478.6L178.62 478.9L178.88 478.5L179.12 473.4L179.38 473.4L179.62 473.3L179.88 473.5L180.12 471.2L180.38 471.4L180.62 476.9L180.88 477.2L181.12 475.3L181.38 479.9L181.62 477L181.88 479.2L182.12 479.6L182.38 478.1L182.62 478.1L182.88 478.8L183.12 478.8L183.38 473.4L183.62 473.4L183.88 476.7L184.12 476.8L184.38 478.6L184.62 478.4L184.88 478.2L185.12 478.3L185.38 478.6L185.62 478.4L185.88 477.9L186.12 477.9L186.38 479.4L186.62 478.2L186.88 477.5L187.12 479.6L187.38 478L187.62 476.7L187.88 475L188.12 472.2L188.38 478.1L188.62 475.8L188.88 477.4L189.12 477.1L189.38 478.7L189.62 478.9L189.88 477.9L190.12 476.8L190.38 476.5L190.62 476.4L190.88 476.3L191.12 478.2L191.38 478.2L191.62 480.4L191.88 473.1L192.12 472.9L192.38 464.3L192.62 464.3L192.88 469.7L193.12 469.7L193.38 473L193.62 474L193.88 475.5L194.12 477.7L194.38 477.8L194.62 477.7L194.88 477.7L195.12 479.2L195.38 479L195.62 479L195.88 474.1L196.12 474.5L196.38 467.1L196.62 471L196.88 470.5L197.12 476.4L197.38 475.8L197.62 476L197.88 476.1L198.12 477L198.38 476.6L198.62 480.5L198.88 476.3L199.12 478.2L199.38 476.9L199.62 479.5L199.88 478.1L200.12 478.5L200.38 479.5L200.62 472.5L200.88 479.3L201.12 469.2L201.38 473.4L201.62 478L201.88 477.3L202.12 477.3L202.38 476.8L202.62 478.4L202.88 475.1L203.12 477.6L203.38 478.2L203.62 478.1L203.88 476.7L204.12 474.4L204.38 476.4L204.62 472.7L204.88 471.2L205.12 466.3L205.38 476.1L205.62 475.1L205.88 477.8L206.12 478L206.38 477.9L206.62 474.6L206.88 475.7L207.12 474.6L207.38 474.9L207.62 475.3L207.88 480.1L208.12 470.7L208.38 477.9L208.62 474.6L208.88 478.6L209.12 478.6L209.38 473.8L209.62 466L209.88 479L210.12 461.7L210.38 465.5L210.62 471.2L210.88 467.8L211.12 481.6L211.38 474.3L211.62 478.8L211.88 471.5L212.12 477.4L212.38 473L212.62 475.4L212.88 480.4L213.12 477L213.38 476.9L213.62 480.3L213.88 472.6L214.12 477.2L214.38 474L214.62 477.3L214.88 475.5L215.12 475.6L215.38 472.6L215.62 472.1L215.88 476.8L216.12 477.6L216.38 476.4L216.62 478.2L216.88 476.4L217.12 478.7L217.38 478.9L217.62 476.6L217.88 476.6L218.12 480.2L218.38 470.8L218.62 472.3L218.88 474L219.12 475.3L219.38 474.5L219.62 474L219.88 475.6L220.12 475.6L220.38 478.2L220.62 479L220.88 478.3L221.12 480L221.38 478L221.62 477.9L221.88 474L222.12 473.8L222.38 478.8L222.62 475.6L222.88 479.9L223.12 475.4L223.38 475.6L223.62 471.3L223.88 470.4L224.12 478.2L224.38 476.2L224.62 479.5L224.88 479.6L225.12 478.9L225.38 477L225.62 480.6L225.88 475.4L226.12 474.9L226.38 465.4L226.62 463.3L226.88 467L227.12 467L227.38 470.6L227.62 472L227.88 475.2L228.12 474.9L228.38 480.7L228.6 481.4L228.6 481.8L228.38 481.8L228.12 480.7L227.88 487.3L227.62 487.3L227.38 490.6L227.12 491.5L226.88 494.2L226.62 493.2L226.38 491.6L226.12 489.1L225.88 480.6L225.62 485.2L225.38 481.2L225.12 479.6L224.88 480.8L224.62 481.8L224.38 481.4L224.12 486.8L223.88 483.4L223.62 488.5L223.38 488.5L223.12 481L222.88 483.7L222.62 479.9L222.38 484.1L222.12 483.4L221.88 485L221.62 485L221.38 480.4L221.12 480.6L220.88 480.3L220.62 481.3L220.38 482.7L220.12 482.8L219.88 485.7L219.62 485.5L219.38 484.3L219.12 484.3L218.88 486.6L218.62 488.3L218.38 484.6L218.12 485.1L217.88 480.2L217.62 483.2L217.38 483.4L217.12 480.7L216.88 480.3L216.62 484.4L216.38 481.8L216.12 481.9L215.88 485.9L215.62 485.9L215.38 486.7L215.12 486.6L214.88 482.3L214.62 484.4L214.38 482L214.12 487.3L213.88 481L213.62 484.4L213.38 480.3L213.12 482.4L212.88 482.4L212.62 481.9L212.38 484.6L212.12 489.1L211.88 481.1L211.62 485.3L211.38 481.6L211.12 488.9L210.88 481.9L210.62 494.1L210.38 494.1L210.12 490.1L209.88 499.3L209.62 479L209.38 484.4L209.12 482.6L208.88 482.7L208.62 482.6L208.38 487.6L208.12 480.1L207.88 488L207.62 482L207.38 482.7L207.12 486.4L206.88 486.6L206.62 482L206.38 482.3L206.12 483.7L205.88 482.9L205.62 478L205.38 492.5L205.12 489.7L204.88 488.3L204.62 485.6L204.38 487.1L204.12 483.4L203.88 483.1L203.62 480.6L203.38 483.5L203.12 484.4L202.88 481L202.62 484.1L202.38 483L202.12 483.1L201.88 479.8L201.62 484.6L201.38 486.3L201.12 482.2L200.88 489.4L200.62 479.5L200.38 485L200.12 482.5L199.88 479.5L199.62 482.9L199.38 480.2L199.12 482.9L198.88 481.1L198.62 483.4L198.38 480.5L198.12 483.6L197.88 483.6L197.62 483.1L197.38 483.1L197.12 487.1L196.88 483L196.62 490.9L196.38 487.8L196.12 490.1L195.88 482.7L195.62 482.7L195.38 479.6L195.12 481.5L194.88 481.6L194.62 481.6L194.38 481.1L194.12 484L193.88 483.1L193.62 484L193.38 488.8L193.12 489.4L192.88 492.6L192.62 492.6L192.38 492.3L192.12 492.3L191.88 482.6L191.62 482.8L191.38 480.4L191.12 481.7L190.88 481.7L190.62 484.7L190.38 484.4L190.12 482.2L189.88 481.4L189.62 481.1L189.38 482.2L189.12 482.2L188.88 482.6L188.62 481.8L188.38 486.3L188.12 482.7L187.88 485.2L187.62 483.4L187.38 481.7L187.12 480.5L186.88 480.3L186.62 481.8L186.38 481.2L186.12 481.2L185.88 481.8L185.62 481.1L185.38 481.5L185.12 481.1L184.88 481.2L184.62 481.7L184.38 481.1L184.12 480.6L183.88 486.3L183.62 486.3L183.38 483.2L183.12 483.6L182.88 480.9L182.62 480.8L182.38 480.8L182.12 481.5L181.88 480.7L181.62 480.5L181.38 484.8L181.12 480.7L180.88 482.3L180.62 486.2L180.38 486.2L180.12 488L179.88 488.2L179.62 485.2L179.38 485.7L179.12 484.1L178.88 483.9L178.62 480.2L178.38 480.2L178.12 482.7L177.88 480.4L177.62 482.9L177.38 481L177.12 480.3L176.88 486.2L176.62 479.4L176.38 486.6L176.12 481.6L175.88 484.6L175.62 479.4L175.38 484.1L175.12 484.7L174.88 485.9L174.62 491L174.38 482.3L174.12 484L173.88 481.7L173.62 480L173.38 483.1L173.12 485.6L172.88 477.8L172.62 483.8L172.38 483.4L172.12 484.4L171.88 483.7L171.62 495.6L171.38 495.6L171.12 491.3L170.88 491.4L170.62 481.8L170.38 481.4L170.12 481.7L169.88 481.7L169.62 479.9L169.38 488.5L169.12 488.5L168.88 485.3L168.62 485.3L168.38 481.6L168.12 480.2L167.88 482.2L167.62 483.7L167.38 483.5L167.12 488.6L166.88 488.6L166.62 483.8L166.38 483.1L166.12 480.5L165.88 481.7L165.62 479.3L165.38 484.8L165.12 484.1L164.88 481L164.62 483.3L164.38 481.5L164.12 478.7L163.88 485.9L163.62 483.4L163.38 482L163.12 481L162.88 481.2L162.62 485.1L162.38 502.2L162.12 502.2L161.88 489.3L161.62 485.9L161.38 485.9L161.12 480.7L160.88 484.4L160.62 481.6L160.38 481.1L160.12 485.4L159.88 481L159.62 479L159.38 488.4L159.12 486.2L158.88 491.2L158.62 491.6L158.38 478.5L158.12 486L157.88 478.3L157.62 490L157.38 488.6L157.12 486.4L156.88 488.4L156.62 480.3L156.38 482.2L156.12 482.8L155.88 483.1L155.62 483.4L155.38 482.2L155.12 483L154.88 480.9L154.62 481L154.38 482.5L154.12 482.5L153.88 489.8L153.62 489.8L153.38 482.7L153.12 482.6L152.88 482.3L152.62 479.3L152.38 483L152.12 483.4L151.88 482.4L151.62 482.9L151.38 481.1L151.12 487L150.88 487L150.62 482.3L150.38 482.5L150.12 480L149.88 479.9L149.62 485.7L149.38 483.5L149.12 487L148.88 485.9L148.62 486.3L148.38 484.8L148.12 482.1L147.88 481.3L147.62 481.9L147.38 482L147.12 480.2L146.88 480.1L146.62 480.7L146.38 480.1L146.12 479.6L145.88 487.2L145.62 483.4L145.38 494.2L145.12 489.1L144.88 495.9L144.62 483.7L144.38 488.2L144.12 487.1L143.88 482.5L143.62 482.7L143.38 481.8L143.12 480.4L142.88 481.6L142.62 480.5L142.38 480.8L142.12 480.8L141.88 480L141.62 479.7L141.38 481.1L141.12 480.4L140.88 481.4L140.62 489.4L140.38 479.6L140.12 489.7L139.88 484.5L139.62 484.7L139.38 486L139.12 482.5L138.88 484L138.62 481.2L138.38 483.1L138.12 483.2L137.88 484.5L137.62 484.8L137.38 482.4L137.12 482.8L136.88 478.3L136.62 485.8L136.38 485.8L136.12 490.3L135.88 490L135.62 483.2L135.38 484.2L135.12 483L134.88 483.1L134.62 480.3L134.38 482.2L134.12 483.1L133.88 481.8L133.62 488L133.38 488L133.12 482.2L132.88 482L132.62 481.8L132.38 491.3L132.12 491.3L131.88 489.3L131.62 489.9L131.38 481.4L131.12 484.4L130.88 480L130.62 481L130.38 484.2L130.12 483.8L129.88 483.2L129.62 483.6L129.38 480.8L129.12 483.1L128.88 483.1L128.62 480.4L128.38 483.4L128.12 489.1L127.88 485.4L127.62 494.3L127.38 488.1L127.12 492.2L126.88 483.6L126.62 486.7L126.38 490L126.12 490L125.88 479.9L125.62 483.5L125.38 483.4L125.12 483.3L124.88 483.5L124.62 480L124.38 481.9L124.12 482.2L123.88 483.1L123.62 488.6L123.38 478.3L123.12 492.8L122.88 488.3L122.62 486.6L122.38 486.6L122.12 485.7L121.88 485.7L121.62 478.4L121.38 484.9L121.12 483.4L120.88 483.1L120.62 481.8L120.38 481.7L120.12 481.7L119.88 480.6L119.62 485L119.38 485.3L119.12 487.3L118.88 487.3L118.62 490.6L118.38 491.1L118.12 491.1L117.88 481.1L117.62 482.7L117.38 481.3L117.12 479.5L116.88 485L116.62 483.6L116.38 482.9L116.12 481.7L115.88 480.3L115.62 483.9L115.38 483.3L115.12 488L114.88 490.8L114.62 492L114.38 489.6L114.12 489.6L113.88 484.7L113.62 484.5L113.38 480.6L113.12 481.4L112.88 481.6L112.62 481.5L112.38 481.3L112.12 481.5L111.88 484L111.62 485.3L111.38 484.7L111.12 487.6L110.88 479.6L110.62 489.1L110.38 486.5L110.12 488.1L109.88 488.1L109.62 483.3L109.38 488.3L109.12 480.1L108.88 482.4L108.62 481.8L108.38 479.9L108.12 480.8L107.88 483.7L107.62 480.2L107.38 481.1L107.12 482L106.88 481.2L106.62 480.6L106.38 480.9L106.12 483.4L105.88 479.7L105.62 485.6L105.38 484.6L105.12 482.7L104.88 481.4L104.62 480.6L104.38 489.9L104.12 481.4L103.88 484.2L103.62 484.1L103.38 479.5L103.12 482.9L102.88 481.6L102.62 484.9L102.38 483.7L102.12 483.9L101.88 484.8L101.62 479L101.38 491.4L101.12 487L100.88 484.4L100.62 486L100.38 484.3L100.12 484.5L99.88 482.6L99.62 482.8L99.38 482.1L99.12 483L98.88 482.3L98.62 481.7L98.38 488.8L98.12 488.8L97.88 487.5L97.62 487L97.38 494.9L97.12 494.4L96.88 490.7L96.62 490.7L96.38 480.1L96.12 482.7L95.88 482L95.62 481.8L95.38 482.8L95.12 480.4L94.88 482.4L94.62 481.5L94.38 479.4L94.12 488.2L93.88 481.6L93.62 483L93.38 485.7L93.12 485.6L92.88 487.6L92.62 485L92.38 485.7L92.12 483.2L91.88 483.1L91.62 482.1L91.38 483.9L91.12 483.2L90.88 484.8L90.62 484.6L90.38 482L90.12 482.8L89.88 478.6L89.62 484.5L89.38 485L89.12 487.4L88.88 492.2L88.62 483.1L88.38 489.3L88.12 485.1L87.88 485.1L87.62 486.1L87.38 483.1L87.12 482.8L86.88 481.4L86.62 481.8L86.38 481.8L86.12 482.5L85.88 484.1L85.62 483.1L85.38 483.2L85.12 485.3L84.88 485.3L84.62 485.8L84.38 489.3L84.12 477.5L83.88 488.4L83.62 487.6L83.38 481.7L83.12 484.1L82.88 483.6L82.62 482L82.38 482.2L82.12 482.9L81.88 482.8L81.62 483.3L81.38 481L81.12 482.6L80.88 483.4L80.62 481.3L80.38 482.1L80.12 489.1L79.88 489.5L79.62 492.3L79.38 492.3L79.12 486.9L78.88 488.9L78.62 483.1L78.38 483.5L78.12 481.5L77.88 480.3L77.62 482.3L77.38 480.2L77.12 481.4L76.88 485.5L76.62 478.2L76.38 487.7L76.12 487.7L75.88 491.3L75.62 497.1L75.38 488.5L75.12 493.6L74.88 490.7L74.62 490.7L74.38 484.2L74.12 484.3L73.88 478.8L73.62 484.1L73.38 484.1L73.12 483L72.88 483L72.62 483L72.38 490.1L72.12 490.5L71.88 484.5L71.62 486L71.38 484.4L71.12 486.4L70.88 481.6L70.62 484L70.38 482L70.12 482.3L69.88 479.2L69.62 486.7L69.38 484.7L69.12 481.3L68.88 482.4L68.62 487.1L68.38 486.2L68.12 484.1L67.88 486.3L67.62 478.8L67.38 489.8L67.12 486.4L66.88 490.8L66.62 490.3L66.38 484.8L66.12 485.8L65.88 479.4L65.62 486L65.38 485.9L65.12 478.5L64.88 486.4L64.62 484.9L64.38 489.2L64.12 480.9L63.88 484.9L63.62 480L63.38 482.4L63.12 482.4L62.88 487.6L62.62 487L62.38 490.9L62.12 491.1L61.88 486.9L61.62 486.9L61.38 485.8L61.12 485.9L60.88 482.5L60.62 480.2L60.38 487.3L60.12 481.9L59.88 486.2L59.62 481.7L59.38 484.2L59.12 484.2L58.88 482.1L58.62 481.9L58.38 479.3L58.12 484.7L57.88 484.6L57.62 478.8L57.38 490.8L57.12 486L56.88 489.4L56.62 487.9L56.38 480.5L56.12 482L55.88 480.5L55.62 481.4L55.38 480.3L55.12 480.4L54.88 483.4L54.62 482.1L54.38 481.6L54.12 489.9L53.88 479.3L53.62 486.3L53.38 481.8L53.12 481.7L52.88 481.6L52.62 481.6L52.38 480.7L52.12 480.2L51.88 481.5L51.62 481.3L51.38 481L51.12 479.1L50.88 484.9L50.62 483.4L50.38 478.1L50.12 488.8L49.88 490.2L49.62 477.2L49.38 484.1L49.12 484.8L48.88 481.5L48.62 482.3L48.38 480.8L48.12 480.9L47.88 480.3L47.62 480.7L47.38 479.5L47.12 481.2L46.88 481.1L46.62 480.4L46.38 480.4L46.12 480L45.88 480.5L45.62 480.7L45.38 479.8L45.12 480.2L44.88 480.4L44.62 480.7L44.38 479.6L44.12 479.8L43.88 480.5L43.62 480.5L43.38 480.3L43.12 480.2L42.88 480.5L42.62 480.7L42.38 480.4L42.12 480.5L41.88 480.5L41.62 479.6L41.38 482.4L41.12 482.4L40.88 480.1L40.62 479.8L40.38 480L40.12 481L39.88 481.1L39.62 479.6L39.38 480.4L39.12 480.8L38.88 480.6L38.62 480.3L38.38 480.2L38.12 481.4L37.88 481.4L37.62 479.9L37.38 479.9L37.12 480.7L36.88 480.7L36.62 479.6L36.38 480.2L36.12 480.4Z" fill="#0072BD" stroke="#0072BD" stroke-width="0.7" stroke-linejoin="round"/>
<rect x="36" y="457.2" width="192.6" height="45" fill="none" stroke="#5a5a5a" stroke-width="0.55"/>
<path d="M36 502.2v-1.93M36 457.2v1.93M100.2 502.2v-1.93M100.2 457.2v1.93M164.4 502.2v-1.93M164.4 457.2v1.93M228.6 502.2v-1.93M228.6 457.2v1.93M36 500.59h1.93M228.6 500.59h-1.93M36 479.89h1.93M228.6 479.89h-1.93M36 459.19h1.93M228.6 459.19h-1.93" stroke="#5a5a5a" stroke-width="0.55" fill="none"/>
<g class="tk" font-size="4.78" fill="#1c1c1c">
<text x="36" y="508.41" text-anchor="middle">0</text>
<text x="100.2" y="508.41" text-anchor="middle">0.5</text>
<text x="164.4" y="508.41" text-anchor="middle">1</text>
<text x="228.6" y="508.41" text-anchor="middle">1.5</text>
<text x="35.3" y="502.3" text-anchor="end">-0.5</text>
<text x="35.3" y="481.61" text-anchor="end">0</text>
<text x="35.3" y="460.91" text-anchor="end">0.5</text>
</g>
<text x="132.3" y="518.37" text-anchor="middle" font-size="8.78" fill="#1c1c1c">Time(s)</text>
<text transform="translate(11.76 479.7) rotate(-90)" text-anchor="middle" font-size="8.78" fill="#1c1c1c">IMF4</text>
<text transform="translate(23.66 479.7) rotate(-90)" text-anchor="middle" font-size="8.78" fill="#1c1c1c">Acceleration(mm/s<tspan dy="-3.34" font-size="6.32">2</tspan><tspan dy="3.34">)</tspan></text>
</g>
<g id="imf5-time">
<path d="M36.12 560.5L36.38 560.2L36.62 560.2L36.88 560.5L37.12 560.7L37.38 560.1L37.62 560.2L37.88 560.2L38.12 560.2L38.38 561.3L38.62 559.4L38.88 559.2L39.12 560.2L39.38 561.3L39.62 560.1L39.88 559.4L40.12 559.4L40.38 560.2L40.62 560.9L40.88 560.9L41.12 558.3L41.38 558.2L41.62 560.8L41.88 558.6L42.12 555.9L42.38 556.3L42.62 561L42.88 561.1L43.12 559.6L43.38 559.7L43.62 560.7L43.88 559.3L44.12 559.3L44.38 560.3L44.62 560.5L44.88 560.3L45.12 560.6L45.38 559.6L45.62 559.6L45.88 561.2L46.12 559.4L46.38 559.3L46.62 560.4L46.88 560.6L47.12 560.1L47.38 560.2L47.62 560.5L47.88 560.5L48.12 560.9L48.38 560.3L48.62 560.3L48.88 560.3L49.12 560.1L49.38 560.4L49.62 560.8L49.88 560.4L50.12 560.4L50.38 560.5L50.62 560.4L50.88 560.5L51.12 561L51.38 559.8L51.62 559.7L51.88 560.4L52.12 558.9L52.38 558.6L52.62 561L52.88 561.2L53.12 556.8L53.38 556.8L53.62 560.6L53.88 558.7L54.12 558.4L54.38 560.9L54.62 558.8L54.88 558.5L55.12 560.5L55.38 558.1L55.62 558L55.88 560.5L56.12 558.2L56.38 557.6L56.62 561L56.88 556.7L57.12 556.1L57.38 560L57.62 559.5L57.88 558.4L58.12 560L58.38 560.1L58.62 556.5L58.88 557.3L59.12 558.5L59.38 557L59.62 559.2L59.88 560L60.12 558.2L60.38 558.5L60.62 560.5L60.88 561.1L61.12 556L61.38 556L61.62 562.3L61.88 546.8L62.12 545.8L62.38 560.9L62.62 556.5L62.88 541.2L63.12 541.6L63.38 560.8L63.62 561.9L63.88 558.9L64.12 559.1L64.38 558.8L64.62 559.1L64.88 560.8L65.12 559.9L65.38 561.2L65.62 556.1L65.88 554.3L66.12 557.6L66.38 558.4L66.62 548.6L66.88 552L67.12 559.1L67.38 552.1L67.62 552.8L67.88 561.8L68.12 559.8L68.38 560.1L68.62 561.9L68.88 560.1L69.12 556.5L69.38 556.3L69.62 560.9L69.88 556.2L70.12 555.5L70.38 563.2L70.62 543.7L70.88 543.6L71.12 563.8L71.38 552.6L71.62 548.2L71.88 551.7L72.12 563.2L72.38 558.8L72.62 558.9L72.88 557.3L73.12 557.4L73.38 564.1L73.62 555.3L73.88 554.6L74.12 557.3L74.38 563.1L74.62 556.8L74.88 554.3L75.12 557L75.38 566.8L75.62 553.5L75.88 551.3L76.12 552.3L76.38 560L76.62 564.4L76.88 557.5L77.12 555.5L77.38 555.9L77.62 562.1L77.88 558.5L78.12 557.6L78.38 559.8L78.62 560.8L78.88 560.2L79.12 555.9L79.38 555.4L79.62 560.3L79.88 559.6L80.12 551.9L80.38 552.2L80.62 564.1L80.88 556.2L81.12 552L81.38 554.2L81.62 561.6L81.88 558.2L82.12 559.2L82.38 559.2L82.62 556L82.88 557.6L83.12 558.8L83.38 559L83.62 561L83.88 554.3L84.12 554.7L84.38 562.9L84.62 557.8L84.88 557.1L85.12 558.1L85.38 560.7L85.62 563.1L85.88 558.9L86.12 557.9L86.38 558.3L86.62 559.5L86.88 560.3L87.12 560.3L87.38 558.7L87.62 558.9L87.88 564.7L88.12 555.7L88.38 550.3L88.62 551L88.88 561.4L89.12 560.2L89.38 558L89.62 558.8L89.88 560.9L90.12 556.4L90.38 556.4L90.62 561.8L90.88 556.1L91.12 555.5L91.38 560.3L91.62 557.4L91.88 546.1L92.12 546.7L92.38 574.8L92.62 550.2L92.88 542.7L93.12 545.3L93.38 562L93.62 561L93.88 554.2L94.12 554.3L94.38 559.7L94.62 560.1L94.88 559.7L95.12 560.4L95.38 559.4L95.62 558.3L95.88 559.3L96.12 561.7L96.38 559L96.62 556.9L96.88 556.8L97.12 562.9L97.38 552.7L97.62 546.2L97.88 548.1L98.12 564.2L98.38 557.6L98.62 554.9L98.88 557.1L99.12 556.5L99.38 555.6L99.62 561L99.88 553.8L100.12 553.2L100.38 558L100.62 560.8L100.88 565.3L101.12 557.9L101.38 557L101.62 555.3L101.88 555L102.12 559.2L102.38 561L102.62 560.8L102.88 561.3L103.12 557.4L103.38 557.4L103.62 560.4L103.88 560.9L104.12 559.6L104.38 559.3L104.62 560.4L104.88 560.2L105.12 557.1L105.38 558L105.62 559.2L105.88 555.3L106.12 556.3L106.38 561.1L106.62 560.3L106.88 560.2L107.12 556.1L107.38 556.1L107.62 562.3L107.88 558.5L108.12 557.7L108.38 559.7L108.62 560.5L108.88 559.4L109.12 554.8L109.38 554.8L109.62 565.8L109.88 538.7L110.12 538.9L110.38 569.1L110.62 545.4L110.88 545.8L111.12 565.5L111.38 552.8L111.62 552.8L111.88 560.1L112.12 561.5L112.38 561.2L112.62 559.2L112.88 558.1L113.12 558.1L113.38 560L113.62 563.4L113.88 556L114.12 553.1L114.38 555.8L114.62 561.6L114.88 556.3L115.12 557.4L115.38 560.8L115.62 552.5L115.88 553L116.12 559.5L116.38 556L116.62 557.1L116.88 559.3L117.12 556.4L117.38 558.2L117.62 561L117.88 557.8L118.12 558.9L118.38 553.2L118.62 547.4L118.88 553.1L119.12 564L119.38 545.1L119.62 545.2L119.88 562.6L120.12 558.3L120.38 558.1L120.62 561.2L120.88 558.4L121.12 558.8L121.38 555.7L121.62 555.7L121.88 562.2L122.12 557.8L122.38 556.6L122.62 558.8L122.88 556.6L123.12 552.6L123.38 553.2L123.62 563.2L123.88 568.3L124.12 560.9L124.38 552.6L124.62 552.4L124.88 558L125.12 560.2L125.38 556.2L125.62 556.2L125.88 560.6L126.12 560.2L126.38 559.7L126.62 560.5L126.88 559.3L127.12 560L127.38 569.7L127.62 550.5L127.88 547.1L128.12 549.5L128.38 560.8L128.62 564L128.88 562L129.12 555.6L129.38 555.6L129.62 562.5L129.88 555.9L130.12 555.6L130.38 559.9L130.62 562.6L130.88 559L131.12 557.6L131.38 560.6L131.62 557.5L131.88 551.1L132.12 551.9L132.38 564.3L132.62 559.6L132.88 555.6L133.12 556L133.38 561.3L133.62 560.5L133.88 559L134.12 559L134.38 561.1L134.62 560L134.88 560L135.12 559L135.38 558.8L135.62 562.1L135.88 550L136.12 548.9L136.38 561.4L136.62 550.2L136.88 549.7L137.12 560.6L137.38 552.8L137.62 552.8L137.88 563.5L138.12 555.3L138.38 551.6L138.62 554.3L138.88 565.3L139.12 561.6L139.38 560L139.62 549.8L139.88 549.1L140.12 562.1L140.38 553L140.62 549.9L140.88 557.1L141.12 558.9L141.38 556.5L141.62 557.3L141.88 561.1L142.12 559.3L142.38 559.3L142.62 561.7L142.88 558.6L143.12 558.4L143.38 559.3L143.62 560.8L143.88 561.2L144.12 561.2L144.38 561.3L144.62 556.8L144.88 555.9L145.12 555.8L145.38 556.6L145.62 560.9L145.88 567.1L146.12 552.4L146.38 549.7L146.62 552.7L146.88 564.6L147.12 558.5L147.38 556.6L147.62 558L147.88 561.5L148.12 555.4L148.38 555.4L148.62 564.1L148.88 549.1L149.12 548.6L149.38 563.2L149.62 553.8L149.88 551.8L150.12 558.9L150.38 556.7L150.62 552.7L150.88 554.8L151.12 565.1L151.38 558L151.62 555.9L151.88 556.3L152.12 561.8L152.38 559.1L152.62 557.6L152.88 558.3L153.12 566.7L153.38 567.6L153.62 544.3L153.88 541L154.12 542.3L154.38 548.4L154.62 556.7L154.88 568.1L155.12 559.8L155.38 559.7L155.62 561.1L155.88 558.5L156.12 558.6L156.38 557.6L156.62 557.8L156.88 563.1L157.12 555.6L157.38 544.7L157.62 544.7L157.88 564.3L158.12 560.4L158.38 543.8L158.62 543.7L158.88 555.5L159.12 567.5L159.38 555.8L159.62 553.8L159.88 556.1L160.12 565.8L160.38 553.3L160.62 552.6L160.88 560.5L161.12 552.5L161.38 549.6L161.62 556.8L161.88 564.3L162.12 548.7L162.38 548.7L162.62 557.4L162.88 563.7L163.12 557.6L163.38 557L163.62 562.6L163.88 556.2L164.12 553.2L164.38 555.2L164.62 561.7L164.88 561.6L165.12 560.2L165.38 556.1L165.62 556.1L165.88 565.1L166.12 557.5L166.38 547.6L166.62 547.5L166.88 551.6L167.12 558.7L167.38 565L167.62 562.7L167.88 557.3L168.12 557.1L168.38 559.6L168.62 558.9L168.88 558.6L169.12 561.5L169.38 555L169.62 555L169.88 562.1L170.12 563.3L170.38 558.5L170.62 550.8L170.88 550.8L171.12 560.7L171.38 564.3L171.62 560.8L171.88 558.4L172.12 558.6L172.38 557.8L172.62 557.5L172.88 558.1L173.12 564.5L173.38 557.8L173.62 557.2L173.88 558.6L174.12 559.8L174.38 561.6L174.62 555L174.88 553.7L175.12 560L175.38 557.5L175.62 553.5L175.88 555.6L176.12 564.8L176.38 554.2L176.62 553.6L176.88 558.6L177.12 561.7L177.38 561.6L177.62 555.8L177.88 552.6L178.12 554.2L178.38 563.4L178.62 558.2L178.88 558.4L179.12 556.6L179.38 554.7L179.62 559.4L179.88 559.6L180.12 558.2L180.38 559.1L180.62 559.2L180.88 559.1L181.12 560L181.38 561.8L181.62 561.8L181.88 559.2L182.12 558.5L182.38 559.6L182.62 560.5L182.88 557.7L183.12 557.7L183.38 559.9L183.62 560.7L183.88 564.2L184.12 555.4L184.38 554.4L184.62 557.5L184.88 559.8L185.12 561.7L185.38 559.7L185.62 554.7L185.88 555L186.12 562.4L186.38 558.4L186.62 557.9L186.88 560.8L187.12 558.4L187.38 558.4L187.62 555.4L187.88 552.7L188.12 556.8L188.38 561.5L188.62 558L188.88 558.2L189.12 557.8L189.38 556.1L189.62 557.5L189.88 563.2L190.12 559.1L190.38 559.1L190.62 559.6L190.88 559.6L191.12 561.1L191.38 560.8L191.62 559.7L191.88 557.8L192.12 558.2L192.38 561.3L192.62 558.7L192.88 559.3L193.12 559.1L193.38 557.9L193.62 560L193.88 557.8L194.12 557.8L194.38 561.5L194.62 558.1L194.88 557.9L195.12 559.4L195.38 562.4L195.62 559.6L195.88 558.1L196.12 558.2L196.38 559.9L196.62 556.7L196.88 557.6L197.12 559.1L197.38 555.1L197.62 556L197.88 562L198.12 560.8L198.38 560.9L198.62 559.3L198.88 553.9L199.12 553.9L199.38 561.9L199.62 561.7L199.88 555.7L200.12 555.7L200.38 561L200.62 562.8L200.88 556.3L201.12 553.8L201.38 555.6L201.62 563.3L201.88 559.4L202.12 559.1L202.38 558.8L202.62 559.2L202.88 561.9L203.12 562.1L203.38 556.1L203.62 553.7L203.88 556L204.12 565.2L204.38 553.7L204.62 552.6L204.88 557.2L205.12 565.5L205.38 539.3L205.62 539.3L205.88 560L206.12 556.9L206.38 554.3L206.62 556.5L206.88 562.6L207.12 558.4L207.38 555L207.62 555.5L207.88 562.1L208.12 558.6L208.38 559.2L208.62 558.5L208.88 554.5L209.12 556.2L209.38 564.2L209.62 542.2L209.88 541.3L210.12 559.3L210.38 561.4L210.62 548.4L210.88 548.7L211.12 561.7L211.38 561.2L211.62 560L211.88 558.7L212.12 555.7L212.38 555.7L212.62 563.3L212.88 559.8L213.12 551.2L213.38 550.1L213.62 557.5L213.88 565.4L214.12 547.9L214.38 547.9L214.62 559.8L214.88 562.4L215.12 560L215.38 558.7L215.62 558.8L215.88 560.6L216.12 560L216.38 560.1L216.62 558.5L216.88 558.5L217.12 563.8L217.38 557.1L217.62 551.7L217.88 552.1L218.12 559.5L218.38 566.3L218.62 563.1L218.88 555.6L219.12 552.2L219.38 552.4L219.62 562.3L219.88 560.8L220.12 553.5L220.38 553.5L220.62 561.1L220.88 558.2L221.12 556.4L221.38 560.1L221.62 553.5L221.88 553L222.12 560.7L222.38 554.5L222.62 553.7L222.88 560.2L223.12 555.1L223.38 556.6L223.62 556.5L223.88 549.4L224.12 551.6L224.38 565.9L224.62 562.3L224.88 557.7L225.12 555.3L225.38 555.8L225.62 562.1L225.88 558L226.12 554.2L226.38 554.7L226.62 563.3L226.88 555.1L227.12 546.1L227.38 546.4L227.62 573.6L227.88 545.6L228.12 539.5L228.38 544.6L228.62 567.8L228.88 558.5L228.88 567.8L228.62 573.7L228.38 570L228.12 545.6L227.88 582.4L227.62 582.7L227.38 573.6L227.12 555.1L226.88 566.6L226.62 566.8L226.38 563.3L226.12 558L225.88 566.4L225.62 566.6L225.38 562.1L225.12 557.7L224.88 562.3L224.62 566.4L224.38 567.8L224.12 565.9L223.88 556.5L223.62 569.5L223.38 569.5L223.12 562.3L222.88 565.2L222.62 560.2L222.38 568.4L222.12 569.4L221.88 560.7L221.62 564.3L221.38 565.3L221.12 560.1L220.88 566.4L220.62 566.8L220.38 561.1L220.12 560.8L219.88 568.8L219.62 568.9L219.38 562.3L219.12 555.6L218.88 563.1L218.62 568.7L218.38 569.2L218.12 566.3L217.88 559.5L217.62 557.1L217.38 567.6L217.12 568.2L216.88 563.8L216.62 560.2L216.38 560.4L216.12 560.6L215.88 561.2L215.62 560.9L215.38 560L215.12 562.4L214.88 565.3L214.62 565.3L214.38 559.8L214.12 565.4L213.88 579.2L213.62 578.2L213.38 557.5L213.12 559.8L212.88 566.8L212.62 567.5L212.38 563.3L212.12 558.7L211.88 560.2L211.62 561.2L211.38 566.4L211.12 566.7L210.88 561.7L210.62 561.4L210.38 579.6L210.12 579.6L209.88 559.3L209.62 564.2L209.38 571L209.12 569.6L208.88 558.5L208.62 564.7L208.38 564.6L208.12 562.1L207.88 564.7L207.62 563.4L207.38 558.4L207.12 564.6L206.88 564.7L206.62 562.6L206.38 556.9L206.12 573.5L205.88 574.9L205.62 560L205.38 565.5L205.12 576.3L204.88 573.6L204.62 557.2L204.38 565.2L204.12 569.4L203.88 567.5L203.62 556.1L203.38 562.1L203.12 562.9L202.88 563L202.62 561.9L202.38 559.2L202.12 559.4L201.88 563.3L201.62 566.5L201.38 565.7L201.12 556.3L200.88 563.5L200.62 563.6L200.38 562.9L200.12 561L199.88 561.7L199.62 568L199.38 568L199.12 561.9L198.88 559.3L198.62 562.5L198.38 562.5L198.12 562.4L197.88 563.2L197.62 562L197.38 559.1L197.12 566.3L196.88 566.3L196.62 559.9L196.38 563.3L196.12 562.7L195.88 559.6L195.62 562.5L195.38 562.8L195.12 562.4L194.88 559.4L194.62 562.6L194.38 563.5L194.12 561.5L193.88 562.5L193.62 563L193.38 560L193.12 564L192.88 564L192.62 561.3L192.38 563.4L192.12 563L191.88 559.7L191.62 561.2L191.38 561.1L191.12 561.7L190.88 561.4L190.62 560.1L190.38 560.1L190.12 563.2L189.88 565.7L189.62 564.7L189.38 557.8L189.12 560.7L188.88 560.7L188.62 561.5L188.38 569.4L188.12 569.4L187.88 556.8L187.62 563.8L187.38 563.7L187.12 563.1L186.88 563.6L186.62 560.8L186.38 563.8L186.12 564.6L185.88 562.4L185.62 559.7L185.38 566.4L185.12 566.4L184.88 561.7L184.62 560.3L184.38 557.5L184.12 564.2L183.88 566.1L183.62 564.7L183.38 560.7L183.12 559.9L182.88 560.5L182.62 563.1L182.38 563L182.12 559.6L181.88 561.8L181.62 562.1L181.38 562.1L181.12 561.8L180.88 560L180.62 560.4L180.38 560.4L180.12 559.6L179.88 566.3L179.62 566.6L179.38 559.4L179.12 562.4L178.88 562.3L178.62 563.4L178.38 568.3L178.12 567.1L177.88 555.8L177.62 562.7L177.38 562.7L177.12 564.6L176.88 564.6L176.62 558.6L176.38 564.8L176.12 567.8L175.88 566.5L175.62 557.5L175.38 569.1L175.12 569.6L174.88 560L174.62 563.4L174.38 563.8L174.12 561.6L173.88 560L173.62 558.6L173.38 565.7L173.12 567.1L172.88 564.5L172.62 558.1L172.38 559.6L172.12 559.6L171.88 560.8L171.62 564.3L171.38 565.5L171.12 565.6L170.88 560.7L170.62 558.5L170.38 563.3L170.12 565.7L169.88 565.8L169.62 562.1L169.38 561.5L169.12 563L168.88 561.5L168.62 562.8L168.38 562.9L168.12 559.6L167.88 562.7L167.62 566.8L167.38 566.8L167.12 565L166.88 558.7L166.62 551.6L166.38 557.5L166.12 571.1L165.88 571.7L165.62 565.1L165.38 560.2L165.12 562.8L164.88 562.7L164.62 562.2L164.38 561.8L164.12 556.2L163.88 567.8L163.62 568.2L163.38 562.6L163.12 564.3L162.88 564.9L162.62 563.7L162.38 557.4L162.12 564.3L161.88 578.2L161.62 577.9L161.38 556.8L161.12 566.6L160.88 567.8L160.62 560.5L160.38 565.8L160.12 568.1L159.88 566.2L159.62 556.1L159.38 567.5L159.12 570.9L158.88 569.9L158.62 555.5L158.38 560.4L158.12 582.6L157.88 582.7L157.62 564.3L157.38 555.6L157.12 567.3L156.88 567.5L156.62 563.1L156.38 559.1L156.12 559.4L155.88 561.1L155.62 563.2L155.38 562.9L155.12 568.1L154.88 571.7L154.62 570.4L154.38 556.7L154.12 548.4L153.88 544.3L153.62 567.6L153.38 578.8L153.12 578.5L152.88 566.7L152.62 559.1L152.38 563.4L152.12 563.7L151.88 561.8L151.62 558L151.38 565.1L151.12 566.8L150.88 565.4L150.62 556.7L150.38 567.9L150.12 568.3L149.88 558.9L149.62 572.1L149.38 573.3L149.12 563.2L148.88 564.7L148.62 567.1L148.38 564.1L148.12 561.5L147.88 564.6L147.62 563.8L147.38 558.5L147.12 567.3L146.88 568.5L146.62 564.6L146.38 552.7L146.12 567.1L145.88 570.9L145.62 570L145.38 560.9L145.12 556.6L144.88 556.8L144.62 561.3L144.38 562.7L144.12 562.4L143.88 561.3L143.62 561.3L143.38 560.8L143.12 559.3L142.88 562.4L142.62 563.1L142.38 561.7L142.12 561.1L141.88 561.7L141.62 561.2L141.38 558.9L141.12 568.8L140.88 568.9L140.62 557.1L140.38 572.4L140.12 574.3L139.88 562.1L139.62 560L139.38 562.1L139.12 565.3L138.88 567.5L138.62 565.6L138.38 555.3L138.12 568.8L137.88 569.5L137.62 563.5L137.38 565L137.12 567.7L136.88 560.6L136.62 572.8L136.38 575.7L136.12 561.4L135.88 565.3L135.62 566.3L135.38 562.1L135.12 560.4L134.88 560.4L134.62 561.7L134.38 562.1L134.12 561.1L133.88 560.5L133.62 562.2L133.38 562.4L133.12 561.3L132.88 559.6L132.62 568.4L132.38 568.8L132.12 564.3L131.88 557.5L131.62 567.8L131.38 568.1L131.12 560.6L130.88 562.6L130.62 562.8L130.38 562.9L130.12 559.9L129.88 563.4L129.62 565.3L129.38 562.5L129.12 562L128.88 564.9L128.62 564.8L128.38 564L128.12 560.8L127.88 550.5L127.62 570.5L127.38 574L127.12 569.7L126.88 560.7L126.62 561.2L126.38 560.5L126.12 562.8L125.88 563L125.62 560.6L125.38 560.2L125.12 565.1L124.88 565.1L124.62 558L124.38 560.9L124.12 568.3L123.88 568.9L123.62 568.7L123.38 563.2L123.12 556.6L122.88 562.5L122.62 562.5L122.38 558.8L122.12 566.6L121.88 567.4L121.62 562.2L121.38 561.1L121.12 561.4L120.88 561.2L120.62 564L120.38 562.8L120.12 568.3L119.88 569.3L119.62 562.6L119.38 564L119.12 581.1L118.88 580.8L118.62 553.2L118.38 564.7L118.12 564.7L117.88 561L117.62 565.5L117.38 565.2L117.12 559.3L116.88 565.7L116.62 565.6L116.38 559.5L116.12 564.8L115.88 563.9L115.62 560.8L115.38 568L115.12 567.6L114.88 561.6L114.62 567.3L114.38 567L114.12 556L113.88 564.4L113.62 564.8L113.38 563.4L113.12 560L112.88 559.2L112.62 561.4L112.38 561.5L112.12 564.3L111.88 564.3L111.62 560.1L111.38 565.5L111.12 571L110.88 568L110.62 569.1L110.38 582.6L110.12 573.7L109.88 565.8L109.62 574L109.38 568.1L109.12 559.4L108.88 560.6L108.62 561.8L108.38 561.9L108.12 559.7L107.88 565.7L107.62 566.4L107.38 562.3L107.12 560.2L106.88 561.7L106.62 561.1L106.38 563.6L106.12 563.3L105.88 559.2L105.62 565.3L105.38 565.2L105.12 560.2L104.88 564.2L104.62 564.2L104.38 560.4L104.12 560.9L103.88 561.8L103.62 561.9L103.38 560.4L103.12 561.3L102.88 563.1L102.62 562.7L102.38 564L102.12 564L101.88 559.2L101.62 558.9L101.38 558.8L101.12 567.6L100.88 569.2L100.62 565.3L100.38 560.9L100.12 558L99.88 565.9L99.62 567.3L99.38 561L99.12 565.3L98.88 565.3L98.62 557.6L98.38 568.9L98.12 569.8L97.88 564.2L97.62 552.7L97.38 572.1L97.12 572.3L96.88 562.9L96.62 559L96.38 561.7L96.12 563.3L95.88 563L95.62 559.4L95.38 562.3L95.12 562.4L94.88 560.4L94.62 562.2L94.38 562.3L94.12 559.7L93.88 561L93.62 572.5L93.38 572.6L93.12 562L92.88 550.2L92.62 581.6L92.38 582.7L92.12 574.8L91.88 557.4L91.62 567.3L91.38 567.2L91.12 560.3L90.88 564.7L90.62 565.7L90.38 561.8L90.12 560.9L89.88 562.7L89.62 562.3L89.38 560.2L89.12 567.6L88.88 567.8L88.62 561.4L88.38 555.7L88.12 567.7L87.88 568.3L87.62 564.7L87.38 560.3L87.12 562.1L86.88 562L86.62 560.3L86.38 559.5L86.12 558.9L85.88 563.3L85.62 563.9L85.38 563.1L85.12 560.7L84.88 558.1L84.62 564.1L84.38 565.5L84.12 562.9L83.88 561L83.62 566.6L83.38 565.7L83.12 561.9L82.88 562.1L82.62 559.2L82.38 565.8L82.12 565.8L81.88 561.6L81.62 565L81.38 564.4L81.12 556.2L80.88 570.5L80.62 570.9L80.38 564.1L80.12 559.6L79.88 569L79.62 569L79.38 560.3L79.12 560.2L78.88 560.8L78.62 563.1L78.38 563.2L78.12 559.8L77.88 563.9L77.62 564.6L77.38 562.1L77.12 557.5L76.88 564.4L76.62 567.4L76.38 567.2L76.12 560L75.88 553.5L75.62 566.8L75.38 571.7L75.12 570.5L74.88 557L74.62 564.1L74.38 564.5L74.12 563.1L73.88 557.3L73.62 564.1L73.38 567.3L73.12 565L72.88 560.4L72.62 560.5L72.38 563.2L72.12 566.6L71.88 565.7L71.62 552.6L71.38 577.4L71.12 579.3L70.88 563.8L70.62 564.5L70.38 568.7L70.12 563.2L69.88 564.8L69.62 565.5L69.38 560.9L69.12 560.1L68.88 561.9L68.62 562.7L68.38 562.6L68.12 561.8L67.88 564.2L67.62 563L67.38 559.1L67.12 571.1L66.88 570.9L66.62 558.4L66.38 570L66.12 569.8L65.88 557.6L65.62 563.2L65.38 563.4L65.12 561.2L64.88 562.4L64.62 562L64.38 559.8L64.12 560L63.88 561.9L63.62 569.2L63.38 569.6L63.12 560.8L62.88 556.5L62.62 582.7L62.38 582.7L62.12 560.9L61.88 562.3L61.62 567.2L61.38 564.8L61.12 561.1L60.88 563.9L60.62 563.4L60.38 560.5L60.12 560L59.88 564.9L59.62 564.9L59.38 559.2L59.12 562.4L58.88 562.4L58.62 560.1L58.38 565.4L58.12 565.4L57.88 560L57.62 564.2L57.38 564.2L57.12 560L56.88 563.8L56.62 564.2L56.38 561L56.12 563.5L55.88 563.7L55.62 560.5L55.38 561.9L55.12 562.4L54.88 560.5L54.62 563.8L54.38 564L54.12 560.9L53.88 561.6L53.62 562.1L53.38 560.6L53.12 561.2L52.88 566.8L52.62 566.8L52.38 561L52.12 561L51.88 561.2L51.62 560.4L51.38 561L51.12 561.2L50.88 561.1L50.62 560.5L50.38 560.7L50.12 560.7L49.88 560.8L49.62 561.3L49.38 561.3L49.12 560.4L48.88 560.5L48.62 560.4L48.38 561L48.12 561.1L47.88 560.9L47.62 560.7L47.38 560.7L47.12 560.6L46.88 561.8L46.62 561.8L46.38 560.4L46.12 561.6L45.88 561.8L45.62 561.2L45.38 560.7L45.12 560.9L44.88 560.6L44.62 561.5L44.38 561.5L44.12 560.3L43.88 560.7L43.62 561.3L43.38 561.1L43.12 561.1L42.88 564L42.62 564L42.38 561L42.12 558.6L41.88 564.1L41.62 564.2L41.38 560.8L41.12 560.9L40.88 561.6L40.62 561.5L40.38 560.9L40.12 560.2L39.88 560.1L39.62 561.3L39.38 562.2L39.12 562.2L38.88 560.2L38.62 561.3L38.38 561.9L38.12 561.5L37.88 560.5L37.62 560.6L37.38 560.7L37.12 561.3L36.88 561.2L36.62 560.5L36.38 560.5L36.12 560.6Z" fill="#0072BD" stroke="#0072BD" stroke-width="0.7" stroke-linejoin="round"/>
<rect x="36" y="538.3" width="192.9" height="44.5" fill="none" stroke="#5a5a5a" stroke-width="0.55"/>
<path d="M36 582.8v-1.93M36 538.3v1.93M100.3 582.8v-1.93M100.3 538.3v1.93M164.6 582.8v-1.93M164.6 538.3v1.93M228.9 582.8v-1.93M228.9 538.3v1.93M36 574.48h1.93M228.9 574.48h-1.93M36 560.62h1.93M228.9 560.62h-1.93M36 546.76h1.93M228.9 546.76h-1.93" stroke="#5a5a5a" stroke-width="0.55" fill="none"/>
<g class="tk" font-size="4.78" fill="#1c1c1c">
<text x="36" y="589.02" text-anchor="middle">0</text>
<text x="100.3" y="589.02" text-anchor="middle">0.5</text>
<text x="164.6" y="589.02" text-anchor="middle">1</text>
<text x="228.9" y="589.02" text-anchor="middle">1.5</text>
<text x="35.3" y="576.2" text-anchor="end">-0.2</text>
<text x="35.3" y="562.34" text-anchor="end">0</text>
<text x="35.3" y="548.48" text-anchor="end">0.2</text>
</g>
<text x="132.45" y="599.48" text-anchor="middle" font-size="8.8" fill="#1c1c1c">Time(s)</text>
<text transform="translate(11.37 560.55) rotate(-90)" text-anchor="middle" font-size="8.8" fill="#1c1c1c">IMF5</text>
<text transform="translate(23.67 560.55) rotate(-90)" text-anchor="middle" font-size="8.8" fill="#1c1c1c">Acceleration(mm/s<tspan dy="-3.34" font-size="6.33">2</tspan><tspan dy="3.34">)</tspan></text>
</g>
<g id="imf1-freq">
<path d="M350.8 269.2L350.85 271.1L350.89 269.6L350.94 270.7L350.99 268.5L351.03 271.2L351.08 270.7L351.13 271.4L351.17 269.1L351.22 271.6L351.27 269.5L351.31 270.8L351.36 271.1L351.41 271.1L351.45 270.7L351.5 271.7L351.55 270.4L351.59 271.4L351.64 269.6L351.69 271L351.73 270.6L351.78 271.3L351.83 269.9L351.87 271.5L351.92 269.9L351.97 271.3L352.01 269.2L352.06 271.1L352.11 270.8L352.15 271.5L352.2 268.8L352.25 271.7L352.3 270.2L352.34 270.8L352.39 270.2L352.44 271.6L352.48 270.3L352.53 271.1L352.58 270.4L352.62 271.1L352.67 269.3L352.72 270.7L352.76 270.2L352.81 271L352.86 270.1L352.9 271.3L352.95 270.1L353 270.6L353.04 270.4L353.09 270.7L353.14 269.3L353.18 271.2L353.23 269.8L353.28 271.6L353.32 270.3L353.37 271.2L353.42 270.3L353.46 271.2L353.51 270.4L353.56 271L353.6 269.5L353.65 271.3L353.7 271.2L353.74 271.7L353.79 270.7L353.84 271.1L353.88 270.8L353.93 271.7L353.98 270.9L354.02 271L354.07 270.9L354.12 271.6L354.16 270.7L354.21 271.2L354.26 269.7L354.3 271.2L354.35 270.3L354.4 271.3L354.44 270.3L354.49 271.5L354.54 269.8L354.58 271.5L354.63 269.5L354.68 271.6L354.72 271L354.77 271.5L354.82 270.1L354.86 271L354.91 269.1L354.96 271.6L355 270.6L355.05 271.1L355.1 268.4L355.14 271.3L355.19 270.9L355.24 271L355.29 268.1L355.33 271.3L355.38 270.1L355.43 271.4L355.47 269.6L355.52 271.4L355.57 269L355.61 271.3L355.66 270.5L355.71 271.7L355.75 271.2L355.8 271.2L355.85 270.2L355.89 271.4L355.94 269.8L355.99 271L356.03 270.2L356.08 271.4L356.13 268.1L356.17 271.2L356.22 269.6L356.27 271.2L356.31 270.6L356.36 270.7L356.41 270.2L356.45 271.4L356.5 269.8L356.55 271.2L356.59 269.8L356.64 271.2L356.69 269.8L356.73 270.7L356.78 270.1L356.83 271.5L356.87 269.9L356.92 271.1L356.97 269.8L357.01 271.4L357.06 270.7L357.11 271.3L357.15 269.4L357.2 270.8L357.25 271.2L357.29 271.2L357.34 270.5L357.39 271.6L357.43 270.9L357.48 271.3L357.53 269.7L357.57 270.4L357.62 270.5L357.67 270.8L357.71 269.2L357.76 271.1L357.81 270.6L357.85 271.3L357.9 270.8L357.95 271.6L357.99 270.6L358.04 271.6L358.09 270.4L358.14 271.5L358.18 270.1L358.23 271.4L358.28 270.8L358.32 271.4L358.37 270.2L358.42 271.3L358.46 269.6L358.51 271.7L358.56 270.8L358.6 271.1L358.65 270.2L358.7 271.4L358.74 269.2L358.79 271.5L358.84 271.1L358.88 271.2L358.93 270.7L358.98 270.1L359.02 268.8L359.07 270.9L359.12 269.8L359.16 271.2L359.21 270L359.26 271.4L359.3 270.1L359.35 271.3L359.4 270.1L359.44 271.2L359.49 270.2L359.54 271L359.58 270.4L359.63 271.4L359.68 269.7L359.72 271.4L359.77 270.9L359.82 271.4L359.86 270.3L359.91 271.1L359.96 270.3L360 271.3L360.05 270.7L360.1 271.1L360.14 270.2L360.19 271.6L360.24 271.3L360.28 271.4L360.33 271L360.38 270.9L360.42 270.4L360.47 271.5L360.52 270.8L360.56 271.4L360.61 269.8L360.66 271.6L360.7 270.8L360.75 271.6L360.8 268.9L360.84 271.5L360.89 269.9L360.94 271.5L360.98 268.8L361.03 269.9L361.08 270.8L361.13 270.3L361.17 269.7L361.22 270.9L361.27 270.8L361.31 270.8L361.36 269.5L361.41 271.6L361.45 269.5L361.5 270.5L361.55 269L361.59 271.5L361.64 269.7L361.69 271L361.73 268.4L361.78 271.4L361.83 269.1L361.87 271.6L361.92 270.5L361.97 270.8L362.01 270.9L362.06 270.8L362.11 270.2L362.15 271.4L362.2 269.8L362.25 271.7L362.29 270.9L362.34 271.1L362.39 269.9L362.43 271.2L362.48 270.3L362.53 270.9L362.57 271.4L362.62 271.7L362.67 270.3L362.71 271.6L362.76 268.1L362.81 271.2L362.85 270.5L362.9 271L362.95 270.2L362.99 271.5L363.04 269.9L363.09 271.6L363.13 270.3L363.18 271.6L363.23 270L363.27 271.1L363.32 269.5L363.37 269.8L363.41 270.6L363.46 271.4L363.51 269.4L363.55 271.6L363.6 269.9L363.65 270.8L363.69 270.8L363.74 271.6L363.79 270L363.83 271L363.88 270.2L363.93 271.6L363.98 269.2L364.02 270.4L364.07 266.9L364.12 270.8L364.16 270.1L364.21 271.7L364.26 270.4L364.3 271.4L364.35 269.9L364.4 271.2L364.44 270.5L364.49 271.5L364.54 269.6L364.58 271L364.63 269.2L364.68 271.4L364.72 269.1L364.77 271.5L364.82 268.9L364.86 270.7L364.91 270.8L364.96 271.6L365 270.4L365.05 270.4L365.1 269.6L365.14 270.6L365.19 270.4L365.24 271.5L365.28 268.7L365.33 271.2L365.38 271L365.42 271.5L365.47 271.2L365.52 271.7L365.56 270.3L365.61 271L365.66 270.2L365.7 271.5L365.75 269.2L365.8 271L365.84 270.1L365.89 271.6L365.94 269.5L365.98 270.6L366.03 269.5L366.08 271.4L366.12 268.8L366.17 270.5L366.22 269.7L366.26 271.4L366.31 270.9L366.36 271.1L366.4 269.6L366.45 271.7L366.5 271.2L366.54 271.6L366.59 270.4L366.64 270.7L366.68 270.7L366.73 271.5L366.78 269.1L366.82 271L366.87 270.6L366.92 271.6L366.97 270.4L367.01 271.5L367.06 270.1L367.11 270.5L367.15 270.4L367.2 270.9L367.25 270.6L367.29 271.5L367.34 270.7L367.39 271.2L367.43 270.6L367.48 270.5L367.53 270.3L367.57 271.4L367.62 268.2L367.67 271L367.71 269L367.76 271.2L367.81 267.4L367.85 270.5L367.9 268.8L367.95 271.2L367.99 271.3L368.04 269.4L368.09 268.3L368.13 271.5L368.18 270L368.23 269.7L368.27 269.3L368.32 271L368.37 269.7L368.41 271.6L368.46 268.4L368.51 271.6L368.55 268.7L368.6 271.5L368.65 269.7L368.69 271.3L368.74 270L368.79 270.9L368.83 270.6L368.88 271.2L368.93 270.5L368.97 271.6L369.02 269.4L369.07 270.7L369.11 267.9L369.16 271.4L369.21 270.7L369.25 271L369.3 268.8L369.35 270.9L369.39 270.7L369.44 271.2L369.49 267.1L369.53 271L369.58 268.4L369.63 270.7L369.67 268.7L369.72 271.5L369.77 267.7L369.82 270.5L369.86 270.8L369.91 271.1L369.96 270.6L370 271.3L370.05 270.2L370.1 271.4L370.14 269.8L370.19 270L370.24 267.9L370.28 271.7L370.33 269.7L370.38 271.6L370.42 268.9L370.47 271.4L370.52 269.9L370.56 271.6L370.61 269.2L370.66 270.7L370.7 267.7L370.75 271.2L370.8 270L370.84 271.2L370.89 268.6L370.94 271.6L370.98 269.7L371.03 271.6L371.08 269.2L371.12 271L371.17 269L371.22 270.5L371.26 270.1L371.31 271.6L371.36 270L371.4 271L371.45 270.1L371.5 271.4L371.54 270.1L371.59 269.9L371.64 269.3L371.68 270.2L371.73 270.6L371.78 271.6L371.82 268.5L371.87 271.2L371.92 268.2L371.96 271.1L372.01 268.6L372.06 271L372.1 270.4L372.15 271.1L372.2 270.1L372.24 271.1L372.29 269L372.34 270.1L372.38 270.8L372.43 271.5L372.48 270.4L372.52 271.4L372.57 270.5L372.62 269.4L372.66 269.5L372.71 271.5L372.76 270.4L372.81 271.3L372.85 269.2L372.9 271.6L372.95 270L372.99 271.2L373.04 271.1L373.09 271.3L373.13 270.7L373.18 271.7L373.23 268.5L373.27 271.7L373.32 270.2L373.37 270.9L373.41 268.1L373.46 271.6L373.51 267L373.55 271.3L373.6 267.2L373.65 271.2L373.69 270L373.74 269.3L373.79 269.8L373.83 270.9L373.88 268.7L373.93 270.9L373.97 268L374.02 271.5L374.07 267.6L374.11 270.2L374.16 270.2L374.21 271.3L374.25 269.5L374.3 271.2L374.35 269.9L374.39 271.2L374.44 265.9L374.49 269.6L374.53 268.8L374.58 270.6L374.63 268.8L374.67 271.5L374.72 267.9L374.77 271.2L374.81 265.5L374.86 271.3L374.91 268.3L374.95 271.7L375 267.9L375.05 270.5L375.09 270L375.14 271.1L375.19 268.8L375.23 270.8L375.28 270.1L375.33 271L375.37 269.6L375.42 270.8L375.47 267.2L375.51 270L375.56 269.7L375.61 270.7L375.66 269.1L375.7 268L375.75 269.3L375.8 271L375.84 266.5L375.89 271.4L375.94 267.1L375.98 270.4L376.03 268.1L376.08 270.5L376.12 271.1L376.17 271.3L376.22 270.1L376.26 269.8L376.31 268.7L376.36 270.5L376.4 266.5L376.45 270L376.5 268.8L376.54 270.9L376.59 269.4L376.64 271.2L376.68 270.6L376.73 270.8L376.78 268.2L376.82 271.2L376.87 268L376.92 269.7L376.96 269.6L377.01 270.6L377.06 268.3L377.1 270.9L377.15 268.3L377.2 271.7L377.24 268.8L377.29 270.9L377.34 269.4L377.38 271.4L377.43 268.6L377.48 269.1L377.52 269.3L377.57 271.1L377.62 265.4L377.66 270.7L377.71 267.4L377.76 269.6L377.8 267.4L377.85 269.8L377.9 270L377.94 271L377.99 267.1L378.04 271.2L378.08 266.6L378.13 270.6L378.18 266L378.22 270.3L378.27 265.3L378.32 270.1L378.36 267.4L378.41 271.2L378.46 269.9L378.5 270.7L378.55 266.9L378.6 271.2L378.65 270.4L378.69 270.5L378.74 269.9L378.79 271.4L378.83 269.7L378.88 271.3L378.93 267.8L378.97 271.1L379.02 267.5L379.07 269L379.11 268.8L379.16 270.3L379.21 269.7L379.25 271.6L379.3 265.5L379.35 270.7L379.39 270.9L379.44 268.8L379.49 266L379.53 271.3L379.58 266.5L379.63 270.4L379.67 268.3L379.72 271.5L379.77 267.5L379.81 269.8L379.86 266L379.91 270.6L379.95 263.5L380 271L380.05 263.9L380.09 271.6L380.14 267.7L380.19 270.1L380.23 262.8L380.28 271.5L380.33 270.3L380.37 271.4L380.42 260.3L380.47 270.4L380.51 270.1L380.56 269L380.61 267.1L380.65 271.4L380.7 269.7L380.75 269.5L380.79 265.6L380.84 271.6L380.89 263.9L380.93 271.7L380.98 269.6L381.03 270.4L381.07 268.7L381.12 271.4L381.17 265.7L381.21 269L381.26 265.6L381.31 268.3L381.35 268.8L381.4 268.3L381.45 266L381.5 270.9L381.54 269.6L381.59 271.2L381.64 268.6L381.68 271.3L381.73 266.9L381.78 268.8L381.82 270.5L381.87 271.4L381.92 266.6L381.96 270.6L382.01 267L382.06 271.6L382.1 262.3L382.15 267.8L382.2 269.3L382.24 267L382.29 266.3L382.34 271.5L382.38 265.8L382.43 270.1L382.48 268.2L382.52 270.2L382.57 263.2L382.62 271.3L382.66 265.8L382.71 271.3L382.76 262.2L382.8 267.7L382.85 265.2L382.9 271.6L382.94 264.2L382.99 270.4L383.04 263.2L383.08 270.4L383.13 266.5L383.18 270.3L383.22 263.3L383.27 271.3L383.32 266.5L383.36 271.4L383.41 267.2L383.46 270.5L383.5 263.6L383.55 270.3L383.6 269.7L383.64 271.7L383.69 261.9L383.74 270.5L383.78 265.1L383.83 269.4L383.88 266.3L383.92 268.3L383.97 267L384.02 269.1L384.06 265L384.11 270.4L384.16 263L384.2 270.1L384.25 262.3L384.3 270.7L384.34 265.3L384.39 269.7L384.44 268.3L384.49 269.4L384.53 267.8L384.58 266.9L384.63 267L384.67 271.1L384.72 263.3L384.77 270.7L384.81 265.4L384.86 269.6L384.91 257.9L384.95 270.7L385 263.7L385.05 268.5L385.09 265.4L385.14 268L385.19 264.7L385.23 271.4L385.28 268.1L385.33 271.3L385.37 263.6L385.42 270.4L385.47 263.9L385.51 271.4L385.56 265.1L385.61 271L385.65 269.1L385.7 268.2L385.75 263L385.79 268.9L385.84 265.9L385.89 268.3L385.93 259.7L385.98 266.9L386.03 261.5L386.07 270L386.12 252.8L386.17 270.3L386.21 266.6L386.26 267.2L386.31 263.5L386.35 271.1L386.4 264.1L386.45 265.4L386.49 260.4L386.54 264.6L386.59 265.4L386.63 270.4L386.68 261.2L386.73 267.6L386.77 265.1L386.82 267.5L386.87 265.6L386.91 271.2L386.96 262.2L387.01 265.7L387.05 263.1L387.1 269.4L387.15 264.3L387.19 267.6L387.24 264.9L387.29 270.5L387.34 263.1L387.38 271.4L387.43 267.1L387.48 271.1L387.52 260.9L387.57 271.3L387.62 258L387.66 270.1L387.71 266.1L387.76 271.1L387.8 255.5L387.85 271.4L387.9 261.7L387.94 267.9L387.99 266L388.04 269.5L388.08 257.8L388.13 267.5L388.18 265.3L388.22 270.8L388.27 265.9L388.32 270.2L388.36 258.1L388.41 267.5L388.46 264.9L388.5 269.5L388.55 262.5L388.6 269.5L388.64 258L388.69 268.5L388.74 259.2L388.78 270.6L388.83 268L388.88 269.8L388.92 250.6L388.97 271.5L389.02 260.1L389.06 270L389.11 261.3L389.16 269.6L389.2 253.9L389.25 269.6L389.3 267.8L389.34 269.5L389.39 267.3L389.44 269.1L389.48 258.7L389.53 270.7L389.58 258.4L389.62 270.6L389.67 267.1L389.72 266L389.76 261.7L389.81 271.4L389.86 261.4L389.9 271.7L389.95 265.4L390 266.7L390.04 260.5L390.09 263.5L390.14 261.3L390.18 268.6L390.23 263.5L390.28 263.6L390.33 249.5L390.37 265.7L390.42 251.7L390.47 268.6L390.51 265.7L390.56 271.6L390.61 262.8L390.65 270.7L390.7 266.2L390.75 271.4L390.79 264L390.84 271.5L390.89 260.5L390.93 270.6L390.98 269.3L391.03 270.7L391.07 257.7L391.12 261.6L391.17 264.1L391.21 267.9L391.26 259.2L391.31 271.3L391.35 262.7L391.4 269.5L391.45 260.7L391.49 271.5L391.54 261.2L391.59 268.5L391.63 267.5L391.68 267.8L391.73 264.6L391.77 269.5L391.82 253.6L391.87 269.5L391.91 253.6L391.96 270.7L392.01 255.6L392.05 263.7L392.1 264.3L392.15 269.6L392.19 262.7L392.24 271.7L392.29 261.6L392.33 267.2L392.38 264.4L392.43 264.3L392.47 260.9L392.52 270.9L392.57 257.1L392.61 264.7L392.66 265.9L392.71 269L392.75 262.5L392.8 271.6L392.85 258.2L392.89 269.5L392.94 264.7L392.99 265.4L393.03 268.6L393.08 271.4L393.13 257L393.18 270.6L393.22 258.1L393.27 268L393.32 266.8L393.36 268.1L393.41 267.3L393.46 270.2L393.5 257.2L393.55 267.7L393.6 265L393.64 268.9L393.69 257.1L393.74 271.1L393.78 252L393.83 271L393.88 264.8L393.92 268.1L393.97 252.7L394.02 271L394.06 259L394.11 270.2L394.16 257.2L394.2 268.3L394.25 267.9L394.3 269.6L394.34 261.8L394.39 269.6L394.44 254.9L394.48 271.4L394.53 258.4L394.58 266.6L394.62 253.7L394.67 269.9L394.72 255.6L394.76 270.3L394.81 260L394.86 267L394.9 262.5L394.95 269L395 250.5L395.04 265.2L395.09 258.2L395.14 271.2L395.18 264.4L395.23 270.7L395.28 264.5L395.32 269.3L395.37 258.4L395.42 270.2L395.46 269.6L395.51 267L395.56 266.4L395.6 271L395.65 252.9L395.7 269.9L395.74 268.9L395.79 270.8L395.84 261.5L395.88 265.6L395.93 262.6L395.98 262.6L396.02 261.4L396.07 265.2L396.12 266.6L396.17 271.3L396.21 260L396.26 271.4L396.31 250.2L396.35 267.2L396.4 266.6L396.45 264.3L396.49 254.4L396.54 269.2L396.59 258.3L396.63 266.4L396.68 254.3L396.73 270.2L396.77 260.4L396.82 265.2L396.87 262.6L396.91 268.6L396.96 261.3L397.01 270.2L397.05 260L397.1 270L397.15 251L397.19 262.9L397.24 265.3L397.29 267.9L397.33 264.1L397.38 270.1L397.43 261.6L397.47 271L397.52 256.5L397.57 267.7L397.61 257.2L397.66 270.2L397.71 264.4L397.75 266.2L397.8 269.2L397.85 270.4L397.89 261.8L397.94 270.5L397.99 268.2L398.03 270.9L398.08 258.2L398.13 268.5L398.17 255.5L398.22 267.5L398.27 255.3L398.31 267.2L398.36 260.7L398.41 266.6L398.45 257.6L398.5 270.2L398.55 263.1L398.59 264.6L398.64 262L398.69 267.9L398.73 266.2L398.78 265.5L398.83 255L398.87 267.6L398.92 264.2L398.97 267.6L399.02 267.7L399.06 268L399.11 252.5L399.16 269L399.2 265.8L399.25 256.1L399.3 256.3L399.34 270L399.39 269.1L399.44 271.5L399.48 258.3L399.53 255.4L399.58 269.3L399.62 269.6L399.67 263.9L399.72 267.7L399.76 260.5L399.81 268.8L399.86 263L399.9 270.7L399.95 265.1L400 270.1L400.04 250.3L400.09 270.6L400.14 265.9L400.18 264.3L400.23 257.6L400.28 265.6L400.32 264.9L400.37 265.8L400.42 263.7L400.46 268.2L400.51 253.3L400.56 271.1L400.6 257.7L400.65 270.7L400.7 256.9L400.74 266L400.79 261.4L400.84 271.5L400.88 268.8L400.93 268.5L400.98 260.4L401.02 268.4L401.07 258.9L401.12 270.4L401.16 262L401.21 268.7L401.26 265L401.3 266.3L401.35 267.1L401.4 266.7L401.44 268.3L401.49 268.9L401.54 259.9L401.58 267.8L401.63 262.9L401.68 269.7L401.72 259.2L401.77 264.6L401.82 266.1L401.86 266L401.91 263.8L401.96 266.5L402.01 247.5L402.05 265L402.1 259.7L402.15 266.6L402.19 255.6L402.24 270.3L402.29 262.8L402.33 271.6L402.38 266.7L402.43 270.6L402.47 265L402.52 269L402.57 262.9L402.61 263.7L402.66 263.9L402.71 265.2L402.75 265.3L402.8 259.7L402.85 265.6L402.89 267.5L402.94 256.7L402.99 268.9L403.03 259.4L403.08 268.2L403.13 262.7L403.17 268L403.22 265.6L403.27 266.5L403.31 264.2L403.36 266L403.41 264.3L403.45 268.7L403.5 264.7L403.55 270.6L403.59 265.2L403.64 269.3L403.69 262.9L403.73 271.5L403.78 264L403.83 271.5L403.87 261.4L403.92 262.6L403.97 268L404.01 271.7L404.06 264.2L404.11 267.4L404.15 259.2L404.2 270.8L404.25 263.5L404.29 268.5L404.34 268.1L404.39 270.6L404.43 262L404.48 268.4L404.53 262L404.57 269L404.62 257.5L404.67 269.1L404.71 254.9L404.76 267.7L404.81 263.7L404.86 271.5L404.9 255.8L404.95 269.5L405 265.7L405.04 270.6L405.09 268.4L405.14 267.8L405.18 255.5L405.23 268.8L405.28 262.2L405.32 268.1L405.37 265.9L405.42 269.4L405.46 262.5L405.51 270.4L405.56 255.9L405.6 269.8L405.65 262.6L405.7 266.8L405.74 259.7L405.79 271.1L405.84 266L405.88 270.3L405.93 263.4L405.98 268.5L406.02 259.5L406.07 270.8L406.12 265.2L406.16 271.5L406.21 266.6L406.26 269.5L406.3 264L406.35 270.6L406.4 261.9L406.44 270.5L406.49 255.5L406.54 262.3L406.58 263L406.63 271.5L406.68 262.7L406.72 266.5L406.77 259.8L406.82 267.5L406.86 265.3L406.91 268.7L406.96 259.3L407 265.2L407.05 267L407.1 262.9L407.14 257.9L407.19 264.5L407.24 263L407.28 266.4L407.33 260.7L407.38 271.5L407.42 269.9L407.47 268.4L407.52 256.4L407.56 267.1L407.61 264.8L407.66 270.3L407.7 262.5L407.75 269.2L407.8 267.1L407.85 271L407.89 269.5L407.94 269.7L407.99 265.6L408.03 268L408.08 261.8L408.13 268L408.17 264.7L408.22 271.3L408.27 259.1L408.31 270.5L408.36 260.6L408.41 270.2L408.45 254.1L408.5 268.5L408.55 267.3L408.59 270L408.64 255.5L408.69 269.4L408.73 266.5L408.78 266.5L408.83 264.1L408.87 268.8L408.92 256.8L408.97 270.5L409.01 262L409.06 269.8L409.11 257.6L409.15 269.7L409.2 264.2L409.25 271.4L409.29 263.4L409.34 271.4L409.39 262.4L409.43 267.6L409.48 261.6L409.53 271.6L409.57 257L409.62 268.5L409.67 260.5L409.71 264.9L409.76 256.8L409.81 265.7L409.85 267.4L409.9 268.1L409.95 269.4L409.99 269.7L410.04 260.9L410.09 268.8L410.13 259.1L410.18 271.5L410.23 258.3L410.27 269.8L410.32 256.5L410.37 271.6L410.41 263.5L410.46 267.7L410.51 259.5L410.55 271.1L410.6 252.3L410.65 267.7L410.7 263L410.74 269.7L410.79 260.1L410.84 270.6L410.88 268.6L410.93 267.4L410.98 258.7L411.02 264.2L411.07 261.2L411.12 269.1L411.16 257.2L411.21 267.1L411.26 256.8L411.3 268.7L411.35 261.2L411.4 266.9L411.44 257.2L411.49 268.2L411.54 256.4L411.58 266.5L411.63 262.9L411.68 271.6L411.72 263.2L411.77 271.4L411.82 267.8L411.86 269.5L411.91 252.3L411.96 270.9L412 262L412.05 269.7L412.1 263.7L412.14 269.2L412.19 268.3L412.24 269.2L412.28 262.9L412.33 271.7L412.38 250.8L412.42 270.1L412.47 265.8L412.52 268.7L412.56 255.2L412.61 271.1L412.66 263L412.7 270.5L412.75 249.7L412.8 265.6L412.84 256.4L412.89 270L412.94 256.5L412.98 269.9L413.03 263L413.08 269.8L413.12 267.1L413.17 270.1L413.22 253.5L413.26 271.3L413.31 254.3L413.36 262.8L413.4 255.2L413.45 270.4L413.5 263.2L413.54 269.8L413.59 261.1L413.64 271.1L413.69 261.6L413.73 267.7L413.78 256L413.83 266.2L413.87 259.6L413.92 262.3L413.97 261.4L414.01 265.6L414.06 261.4L414.11 271.4L414.15 267.3L414.2 261.9L414.25 269.5L414.29 270.8L414.34 261L414.39 266.2L414.43 255.9L414.48 268.3L414.53 257.3L414.57 268.8L414.62 266.9L414.67 268.3L414.71 264L414.76 266.9L414.81 263L414.85 263.4L414.9 260.3L414.95 267.9L414.99 260.5L415.04 267.5L415.09 259L415.13 267.9L415.18 268.2L415.23 270.8L415.27 260.8L415.32 270.4L415.37 260.9L415.41 268.7L415.46 264.3L415.51 266.9L415.55 259.7L415.6 270L415.65 262.2L415.69 269.3L415.74 257.8L415.79 265L415.83 265.4L415.88 271.1L415.93 256.9L415.97 266.1L416.02 266.3L416.07 267.4L416.11 263.7L416.16 271.3L416.21 267.6L416.25 266.7L416.3 263.4L416.35 267.9L416.39 263L416.44 268.7L416.49 267.2L416.54 268.5L416.58 263.7L416.63 271L416.68 256.6L416.72 267.5L416.77 253.5L416.82 270.2L416.86 253.7L416.91 269L416.96 269L417 268.7L417.05 265.9L417.1 265.4L417.14 259.2L417.19 260.4L417.24 263.3L417.28 270.8L417.33 258.7L417.38 269.8L417.42 257.9L417.47 267.3L417.52 263.5L417.56 269.8L417.61 265.8L417.66 266.9L417.7 266.9L417.75 264.6L417.8 256.3L417.84 268L417.89 252.5L417.94 265.4L417.98 253.3L418.03 270.5L418.08 267.6L418.12 271L418.17 260.5L418.22 265.3L418.26 259.1L418.31 269.3L418.36 253.3L418.4 266.3L418.45 262.8L418.5 270.9L418.54 256.5L418.59 264.3L418.64 262.2L418.68 271.3L418.73 263.4L418.78 262.3L418.82 265.2L418.87 270.8L418.92 264.5L418.96 267.8L419.01 266.7L419.06 264.7L419.1 264.3L419.15 268.5L419.2 259.2L419.24 268.7L419.29 262L419.34 261.5L419.38 253.6L419.43 270.3L419.48 265.3L419.53 270L419.57 255L419.62 268.9L419.67 255.1L419.71 269L419.76 267.4L419.81 271.6L419.85 267.1L419.9 268.4L419.95 266.3L419.99 270L420.04 257.3L420.09 270.2L420.13 264.7L420.18 265.1L420.23 266L420.27 265.3L420.32 259.9L420.37 271L420.41 259.3L420.46 261.4L420.51 252.7L420.55 270.6L420.6 261L420.65 270.6L420.69 264.8L420.74 271.6L420.79 263.7L420.83 271.1L420.88 264.3L420.93 270.3L420.97 264.2L421.02 269.6L421.07 265.1L421.11 270.3L421.16 254.3L421.21 269.7L421.25 266L421.3 264.3L421.35 262.8L421.39 270.2L421.44 258.7L421.49 267L421.53 260.3L421.58 268.4L421.63 260.8L421.67 267.9L421.72 258.3L421.77 264.3L421.81 265.3L421.86 264.8L421.91 252.1L421.95 264.8L422 256.3L422.05 269.5L422.09 264.3L422.14 267.8L422.19 254.6L422.23 269.7L422.28 261.4L422.33 271L422.38 253.7L422.42 271.6L422.47 253.4L422.52 264.2L422.56 264.9L422.61 266.3L422.66 248.5L422.7 270.5L422.75 258.4L422.8 271.5L422.84 264L422.89 270.6L422.94 263.3L422.98 266.1L423.03 258.9L423.08 270.6L423.12 255.4L423.17 270.5L423.22 261.6L423.26 271.3L423.31 262.3L423.36 268.4L423.4 258.9L423.45 266.9L423.5 256.2L423.54 270L423.59 258.3L423.64 268.6L423.68 250L423.73 268.2L423.78 258L423.82 261.6L423.87 259.8L423.92 264.8L423.96 267.2L424.01 269.1L424.06 259.7L424.1 267.4L424.15 267.3L424.2 270.9L424.24 262.2L424.29 269.6L424.34 267.8L424.38 270.6L424.43 260L424.48 269.8L424.52 264.2L424.57 268.5L424.62 265.1L424.66 268.4L424.71 259.7L424.76 268L424.8 267L424.85 267L424.9 256.6L424.94 270L424.99 245.9L425.04 271.4L425.08 255.9L425.13 265.1L425.18 257.6L425.22 269.1L425.27 259.6L425.32 271.5L425.37 258.9L425.41 271.3L425.46 260.5L425.51 271.2L425.55 261.8L425.6 267.9L425.65 261.5L425.69 271.1L425.74 260.5L425.79 265.6L425.83 258.6L425.88 271.5L425.93 262.6L425.97 265L426.02 265.9L426.07 271.2L426.11 267.2L426.16 264L426.21 268.4L426.25 269.5L426.3 258.3L426.35 263L426.39 264.5L426.44 267.3L426.49 258.4L426.53 263.2L426.58 268.6L426.63 270.1L426.67 258.1L426.72 270.4L426.77 260.2L426.81 267.7L426.86 256.4L426.91 271L426.95 262.1L427 265.3L427.05 258.5L427.09 269.3L427.14 258.3L427.19 269L427.23 263.2L427.28 269.6L427.33 259L427.37 270.1L427.42 252.4L427.47 267.2L427.51 263.1L427.56 266.7L427.61 259.8L427.65 269.7L427.7 261.7L427.75 268.2L427.79 262.9L427.84 270.2L427.89 254.3L427.93 264.7L427.98 258.6L428.03 267.9L428.07 256.2L428.12 267.1L428.17 258.5L428.22 266.4L428.26 262.8L428.31 265.7L428.36 255.3L428.4 268.5L428.45 261.6L428.5 271.4L428.54 260.3L428.59 271.5L428.64 263.7L428.68 266.6L428.73 251.8L428.78 267.5L428.82 259.1L428.87 262.8L428.92 265.4L428.96 270.4L429.01 263.6L429.06 269.2L429.1 250.2L429.15 268L429.2 255.7L429.24 269.6L429.29 256.5L429.34 267.5L429.38 261.6L429.43 271L429.48 265.2L429.52 269.8L429.57 257.1L429.62 269.7L429.66 268.7L429.71 265L429.76 262.7L429.8 270.5L429.85 261.5L429.9 269.2L429.94 254.6L429.99 266.6L430.04 249.3L430.08 264.3L430.13 256.2L430.18 263.2L430.22 259.8L430.27 269.6L430.32 267.4L430.36 269.3L430.41 264L430.46 270.3L430.5 263.9L430.55 271.5L430.6 251.2L430.64 270.1L430.69 255.8L430.74 260.4L430.78 258.6L430.83 270.1L430.88 260.1L430.92 265.4L430.97 257.4L431.02 268L431.06 254.2L431.11 268.8L431.16 261.5L431.21 270.5L431.25 252.2L431.3 263.6L431.35 261.1L431.39 268.1L431.44 265.1L431.49 265.6L431.53 255.4L431.58 271L431.63 266.7L431.67 269.5L431.72 247.8L431.77 268L431.81 263.9L431.86 270.2L431.91 254.3L431.95 265.6L432 264.1L432.05 267.5L432.09 260.1L432.14 261.9L432.19 259.8L432.23 269.9L432.28 267.1L432.33 270.4L432.37 254.9L432.42 269.6L432.47 255L432.51 268.2L432.56 264.4L432.61 270.6L432.65 256.6L432.7 267.2L432.75 253.8L432.79 268.4L432.84 262.3L432.89 269.7L432.93 257.2L432.98 271.4L433.03 251.1L433.07 268.9L433.12 258.8L433.17 269.7L433.21 257.1L433.26 270.9L433.31 254.7L433.35 262.5L433.4 256.8L433.45 270.7L433.49 267.1L433.54 271.1L433.59 260.2L433.63 264.7L433.68 260.2L433.73 269.8L433.77 249.7L433.82 267.7L433.87 263L433.91 265.3L433.96 260.1L434.01 263.5L434.06 238.4L434.1 248.5L434.15 258.1L434.2 260.7L434.24 260.4L434.29 271.4L434.34 255.9L434.38 269.9L434.43 246.3L434.48 269L434.52 260.1L434.57 271.6L434.62 264.6L434.66 271.1L434.71 253.6L434.76 264.4L434.8 262L434.85 266.1L434.9 264.2L434.94 270L434.99 263.7L435.04 270.2L435.08 248.8L435.13 271.6L435.18 265.7L435.22 265.4L435.27 241.1L435.32 268L435.36 250.1L435.41 270.8L435.46 256.8L435.5 271.6L435.55 263.2L435.6 264.7L435.64 253.1L435.69 267.8L435.74 254L435.78 267.3L435.83 249.2L435.88 271.5L435.92 263.5L435.97 268.8L436.02 252.7L436.06 269L436.11 262.8L436.16 270.1L436.2 242.6L436.25 269.1L436.3 260.5L436.34 268.1L436.39 245.4L436.44 265.1L436.48 259.8L436.53 267.7L436.58 248.4L436.62 262.2L436.67 256.9L436.72 267L436.76 261.1L436.81 266.7L436.86 259.3L436.9 269.5L436.95 257.3L437 270.8L437.05 261.2L437.09 269.9L437.14 263.7L437.19 258.1L437.23 259.1L437.28 270.6L437.33 256.3L437.37 268.3L437.42 260.8L437.47 265.7L437.51 258.3L437.56 269.7L437.61 251.5L437.65 270.6L437.7 260.5L437.75 265.9L437.79 258.4L437.84 258.9L437.89 253.7L437.93 267.6L437.98 240L438.03 264.1L438.07 240.3L438.12 260.9L438.17 245.7L438.21 254.8L438.26 256.5L438.31 262.2L438.35 261L438.4 270L438.45 262.1L438.49 268L438.54 262.1L438.59 270.4L438.63 259.1L438.68 271.4L438.73 258.6L438.77 266.2L438.82 252.3L438.87 267.9L438.91 260.7L438.96 270.8L439.01 248.2L439.05 266.9L439.1 256.4L439.15 268.5L439.19 247.9L439.24 259.8L439.29 248.3L439.33 268.4L439.38 256.8L439.43 263.2L439.47 263.8L439.52 264.6L439.57 258.7L439.61 262.5L439.66 262.8L439.71 267.2L439.75 258.6L439.8 267.3L439.85 263L439.9 264.9L439.94 259.7L439.99 266.8L440.04 247.5L440.08 263.4L440.13 250.9L440.18 269.7L440.22 247.5L440.27 261.6L440.32 256.7L440.36 270L440.41 249.6L440.46 262.6L440.5 265.1L440.55 265.5L440.6 267.2L440.64 268.4L440.69 259.9L440.74 267.7L440.78 240L440.83 264.6L440.88 260.9L440.92 268.9L440.97 260.2L441.02 265.5L441.06 263.3L441.11 269.1L441.16 251.4L441.2 270.5L441.25 255.5L441.3 264.8L441.34 260.9L441.39 268.3L441.44 253.7L441.48 271.5L441.53 261.4L441.58 270.6L441.62 265.7L441.67 267.5L441.72 259.6L441.76 271.4L441.81 262.4L441.86 271.3L441.9 259.7L441.95 270.8L442 266.5L442.04 266.9L442.09 252.3L442.14 264.1L442.18 257.6L442.23 268.7L442.28 237.6L442.32 269.3L442.37 246.2L442.42 267.4L442.46 265.2L442.51 266.8L442.56 260.7L442.6 265.9L442.65 267.9L442.7 270.2L442.74 258L442.79 259L442.84 256L442.89 271.7L442.93 252.7L442.98 269.3L443.03 261.8L443.07 271.1L443.12 249.5L443.17 265.4L443.21 260.5L443.26 267.6L443.31 260.7L443.35 267.9L443.4 252.7L443.45 266.7L443.49 265.4L443.54 271.2L443.59 267.8L443.63 269.4L443.68 263.8L443.73 269.6L443.77 258.3L443.82 264.7L443.87 248.9L443.91 266.8L443.96 258.7L444.01 271.5L444.05 254.7L444.1 267L444.15 257.9L444.19 267L444.24 265.9L444.29 270.7L444.33 253.3L444.38 269.4L444.43 238.6L444.47 269.3L444.52 257L444.57 267.4L444.61 262L444.66 268.3L444.71 264.3L444.75 267.2L444.8 265.5L444.85 266.6L444.89 250.6L444.94 269.9L444.99 262.1L445.03 270.1L445.08 263.4L445.13 271L445.17 261.1L445.22 271.3L445.27 262.9L445.31 267.7L445.36 268.1L445.41 267.8L445.45 255.6L445.5 270.2L445.55 251.9L445.59 269L445.64 254.8L445.69 268.2L445.74 261.3L445.78 267.1L445.83 261.5L445.88 269.3L445.92 268.1L445.97 267.5L446.02 266.2L446.06 271.6L446.11 247.4L446.16 270.8L446.2 258.1L446.25 266L446.3 265.9L446.34 265.2L446.39 259.1L446.44 267.4L446.48 257L446.53 268.2L446.58 262.2L446.62 260.5L446.67 254.7L446.72 264.9L446.76 264.9L446.81 266.1L446.86 264.1L446.9 270.3L446.95 256.6L447 266.6L447.04 262.2L447.09 265.5L447.14 250.3L447.18 268.5L447.23 264.6L447.28 269.9L447.32 254.5L447.37 264.3L447.42 261.7L447.46 261.1L447.51 246.8L447.56 269.4L447.6 256L447.65 265.4L447.7 260.3L447.74 265.6L447.79 259.1L447.84 269.2L447.88 257.7L447.93 270.4L447.98 267.4L448.02 270.1L448.07 264L448.12 271.6L448.16 265.7L448.21 268.8L448.26 253.5L448.3 268.2L448.35 253.5L448.4 270.7L448.44 257.9L448.49 270.7L448.54 262.3L448.58 270.8L448.63 255.2L448.68 268L448.73 257.5L448.77 268.7L448.82 254L448.87 270.1L448.91 265.2L448.96 271.5L449.01 260.8L449.05 263.7L449.1 269L449.15 268L449.19 251.2L449.24 262.7L449.29 261.7L449.33 270.3L449.38 251.6L449.43 270.7L449.47 262.9L449.52 270L449.57 257.5L449.61 268.6L449.66 255.9L449.71 268.8L449.75 259L449.8 270.4L449.85 266.1L449.89 262.1L449.94 263.6L449.99 271.4L450.03 262.5L450.08 270.1L450.13 265.9L450.17 270.9L450.22 264.1L450.27 270.4L450.31 258.5L450.36 270.6L450.41 255.4L450.45 266.6L450.5 257.8L450.55 264L450.59 254.6L450.64 267.5L450.69 265.4L450.73 267.1L450.78 258.5L450.83 269.2L450.87 261.5L450.92 267.8L450.97 265.1L451.01 271.1L451.06 261.1L451.11 268.5L451.15 261L451.2 267.4L451.25 263.4L451.29 269.3L451.34 257.7L451.39 268.5L451.43 266.6L451.48 267.1L451.53 263.8L451.58 265.6L451.62 263.8L451.67 269.1L451.72 259.6L451.76 271.5L451.81 248.9L451.86 270.5L451.9 265.9L451.95 270.4L452 257.1L452.04 268.8L452.09 267.7L452.14 271.6L452.18 260.1L452.23 264.7L452.28 260.3L452.32 266.9L452.37 255.1L452.42 266.7L452.46 257.7L452.51 271.3L452.56 250.8L452.6 270.7L452.65 264.9L452.7 266.2L452.74 264L452.79 262L452.84 259.6L452.88 270.6L452.93 265.9L452.98 271.4L453.02 259.1L453.07 268.8L453.12 266.5L453.16 268.6L453.21 256.9L453.26 271.4L453.3 257.1L453.35 271L453.4 263.8L453.44 265.9L453.49 260.8L453.54 265.7L453.58 255.6L453.63 265.3L453.68 267.8L453.72 270L453.77 256.9L453.82 267.5L453.86 266L453.91 270.7L453.96 262.8L454 268.6L454.05 252L454.1 265.4L454.14 259.7L454.19 265.5L454.24 269.3L454.28 263.7L454.33 256.7L454.38 270.4L454.42 268.8L454.47 268.9L454.52 258L454.57 270.6L454.61 259.2L454.66 267.1L454.71 260.1L454.75 257.6L454.8 260L454.85 267.6L454.89 251.1L454.94 266.6L454.99 259.9L455.03 262.2L455.08 266.6L455.13 268.5L455.17 263L455.22 267.7L455.27 262.9L455.31 269.3L455.36 258.5L455.41 269.7L455.45 265.6L455.5 271.7L455.55 267.7L455.59 269.7L455.64 258.3L455.69 263.3L455.73 265.5L455.78 263.5L455.83 253.8L455.87 269L455.92 262.9L455.97 270.1L456.01 261L456.06 271.5L456.11 258.4L456.15 256.7L456.2 253.7L456.25 264.5L456.29 260.6L456.34 264.7L456.39 260.8L456.43 270.1L456.48 261.8L456.53 261.2L456.57 261.7L456.62 271.3L456.67 255.9L456.71 264.6L456.76 264L456.81 266.1L456.85 261.1L456.9 266.9L456.95 255.6L456.99 270L457.04 254.3L457.09 263.5L457.13 257.4L457.18 262.5L457.23 264.8L457.27 265.9L457.32 260.8L457.37 267.9L457.42 262.5L457.46 269.1L457.51 255.1L457.56 269.8L457.6 262.5L457.65 271.6L457.7 262L457.74 271.4L457.79 263.1L457.84 269.1L457.88 261.7L457.93 271.2L457.98 257.3L458.02 270.5L458.07 265.1L458.12 269.7L458.16 236.3L458.21 269.4L458.26 259.9L458.3 264.3L458.35 250.7L458.4 270.2L458.44 260L458.49 271.6L458.54 260.7L458.58 267.8L458.63 260.5L458.68 268L458.72 259.4L458.77 269.2L458.82 259.7L458.86 270.3L458.91 251.1L458.96 269.8L459 262.4L459.05 268L459.1 253.7L459.14 267.8L459.19 258L459.24 266L459.28 245.4L459.33 260L459.38 259.9L459.42 266.2L459.47 263.7L459.52 269.2L459.56 259.1L459.61 269.4L459.66 266.4L459.7 271.2L459.75 261.7L459.8 270.2L459.84 256.3L459.89 268.9L459.94 256.5L459.98 269.4L460.03 253.5L460.08 269.5L460.12 248L460.17 270.3L460.22 264.8L460.26 269.4L460.31 259.2L460.36 271.1L460.41 266.1L460.45 259.3L460.5 263.4L460.55 267L460.59 265.9L460.64 266L460.69 252.8L460.73 260.7L460.78 257.5L460.83 266.2L460.87 255.8L460.92 267.1L460.97 262.4L461.01 266.4L461.06 258.8L461.11 266.7L461.15 259.3L461.2 266.6L461.25 264.7L461.29 266.3L461.34 249L461.39 271.1L461.43 256.7L461.48 269.4L461.53 259.7L461.57 259.8L461.62 260.1L461.67 254L461.71 256.2L461.76 260.1L461.81 266.6L461.85 265.4L461.9 249L461.95 270.4L461.99 256.6L462.04 269.7L462.09 253.7L462.13 260.4L462.18 261.6L462.23 270L462.27 252.1L462.32 267L462.37 247.8L462.41 269.4L462.46 260.2L462.51 268.9L462.55 251L462.6 265.8L462.65 261L462.69 268.6L462.74 254.1L462.79 269.9L462.83 262.8L462.88 269.9L462.93 255L462.97 267.8L463.02 258.6L463.07 270.9L463.11 258.1L463.16 269L463.21 259.3L463.26 265.3L463.3 257.9L463.35 265.7L463.4 252.5L463.44 269.1L463.49 260.1L463.54 269.4L463.58 252.7L463.63 269L463.68 261.8L463.72 264.9L463.77 247L463.82 270.9L463.86 260.4L463.91 265.9L463.96 244.9L464 268.9L464.05 252.6L464.1 269.3L464.14 263.3L464.19 267.4L464.24 263.7L464.28 266.6L464.33 255.8L464.38 269.3L464.42 266.5L464.47 268L464.52 264.3L464.56 270.3L464.61 267.6L464.66 266.9L464.7 251.3L464.75 268.4L464.8 254.4L464.84 265.9L464.89 260.1L464.94 271.1L464.98 254.1L465.03 271.3L465.08 245.9L465.12 270.3L465.17 258.7L465.22 265.3L465.26 254.9L465.31 264.7L465.36 251.9L465.4 270.2L465.45 260L465.5 270.9L465.54 253.4L465.59 268.3L465.64 257.6L465.68 265.1L465.73 253.4L465.78 267.1L465.82 256.3L465.87 269.4L465.92 243.9L465.96 270.7L466.01 261L466.06 271.3L466.1 249.6L466.15 264L466.2 248.8L466.25 267.5L466.29 262.6L466.34 269.8L466.39 257.3L466.43 263.2L466.48 261L466.53 255.8L466.57 251.2L466.62 270.1L466.67 256.2L466.71 267.1L466.76 260.7L466.81 266.4L466.85 261.2L466.9 267.2L466.95 257.5L466.99 267.5L467.04 249L467.09 268.1L467.13 268.4L467.18 266.2L467.23 258.1L467.27 267.1L467.32 254.9L467.37 268.7L467.41 260.2L467.46 265.3L467.51 258.6L467.55 271L467.6 257.9L467.65 271.6L467.69 261.1L467.74 268.1L467.79 264L467.83 271.1L467.88 260.4L467.93 270.2L467.97 250.4L468.02 265L468.07 253.5L468.11 269.6L468.16 260L468.21 267.9L468.25 264.1L468.3 271.5L468.35 258.4L468.39 265.6L468.44 266.7L468.49 269.2L468.53 246.5L468.58 264.8L468.63 264.8L468.67 271.1L468.72 253.3L468.77 267.2L468.81 261.3L468.86 269.9L468.91 246.3L468.95 271.4L469 259.5L469.05 266.3L469.1 244.3L469.14 266.7L469.19 252.2L469.24 263.6L469.28 262.2L469.33 266.1L469.38 250.3L469.42 267.9L469.47 262.9L469.52 260.2L469.56 246.5L469.61 262.8L469.66 247.7L469.7 262.6L469.75 263.3L469.8 271.7L469.84 249.3L469.89 266.4L469.94 249.3L469.98 267.3L470.03 255.7L470.08 271.4L470.12 259.4L470.17 260.9L470.22 267.4L470.26 260.2L470.31 252.6L470.36 268.3L470.4 264.4L470.45 268.5L470.5 258L470.54 264.6L470.59 251.9L470.64 268.1L470.68 245.1L470.73 270.4L470.78 256.8L470.82 269.6L470.87 262.9L470.92 269.5L470.96 262.1L471.01 263.9L471.06 255.9L471.1 270.3L471.15 254.5L471.2 263.4L471.24 263.3L471.29 269L471.34 264.3L471.38 270.2L471.43 259.1L471.48 264.4L471.52 249.8L471.57 271.1L471.62 262.3L471.66 270L471.71 261.1L471.76 270.4L471.8 253.6L471.85 268.1L471.9 258.4L471.94 264.4L471.99 252.2L472.04 264.1L472.09 247.5L472.13 267L472.18 249.3L472.23 271.2L472.27 255.2L472.32 268L472.37 264L472.41 270L472.46 265L472.51 267.4L472.55 258L472.6 265.2L472.65 265.8L472.69 264.6L472.74 258.7L472.79 258.9L472.83 253.2L472.88 270.1L472.93 261L472.97 261.6L473.02 263.9L473.07 270L473.11 261.2L473.16 271.6L473.21 261.1L473.25 265.7L473.3 258.1L473.35 264.6L473.39 244.5L473.44 269.5L473.49 255L473.53 271.5L473.58 256.9L473.63 269.1L473.67 256.8L473.72 269.5L473.77 268.7L473.81 268.1L473.86 249.1L473.91 269.4L473.95 254.8L474 266.6L474.05 247.7L474.09 270.8L474.14 260.2L474.19 263.3L474.23 249.4L474.28 255.9L474.33 253.9L474.37 268.9L474.42 247.4L474.47 268L474.51 263.4L474.56 270.3L474.61 256.2L474.65 264.9L474.7 268L474.75 269L474.79 249.8L474.84 268.3L474.89 264L474.94 270.4L474.98 262.3L475.03 271.7L475.08 260.2L475.12 267.8L475.17 253.1L475.22 268.6L475.26 253.5L475.31 270.7L475.36 252.9L475.4 262.6L475.45 259.4L475.5 257.6L475.54 248.9L475.59 270.7L475.64 252.1L475.68 270.7L475.73 266.8L475.78 268.2L475.82 253.5L475.87 267.4L475.92 259.6L475.96 264L476.01 264.7L476.06 269.3L476.1 262.6L476.15 263.5L476.2 252.7L476.24 270.6L476.29 260.8L476.34 269.8L476.38 255.2L476.43 266.2L476.48 245L476.52 268.9L476.57 263.7L476.62 270.2L476.66 261L476.71 271.1L476.76 260.2L476.8 271.5L476.85 268.8L476.9 263.5L476.94 259.5L476.99 267.5L477.04 250L477.08 264.4L477.13 250L477.18 268.1L477.22 259.7L477.27 263.3L477.32 257L477.36 268.3L477.41 260.7L477.46 267.9L477.5 248L477.55 264.1L477.6 250.4L477.64 265.5L477.69 251.4L477.74 267.4L477.78 254.8L477.83 271L477.88 244.3L477.93 267.1L477.97 259.8L478.02 267.6L478.07 252L478.11 267.8L478.16 263.7L478.21 269.6L478.25 260.9L478.3 267L478.35 262.2L478.39 267.6L478.44 262.7L478.49 269.8L478.53 261.7L478.58 268.8L478.63 252.2L478.67 270.9L478.72 264.3L478.77 267.9L478.81 263L478.86 267.8L478.91 262.8L478.95 266.8L479 266.5L479.05 271.6L479.09 260.3L479.14 268.2L479.19 258.4L479.23 268.2L479.28 256L479.33 271.3L479.37 259.9L479.42 271.3L479.47 256.2L479.51 265.5L479.56 255.6L479.61 268.5L479.65 261.3L479.7 268.3L479.75 255.5L479.79 264.2L479.84 266.2L479.89 264.4L479.93 264L479.98 269.2L480.03 263.3L480.07 266.5L480.12 264.6L480.17 268.5L480.21 249L480.26 269.7L480.31 266.1L480.35 262.2L480.4 250.4L480.45 269.7L480.49 255L480.54 262.3L480.59 268.6L480.63 269.5L480.68 263.7L480.73 264.3L480.78 260.1L480.82 269.7L480.87 265.8L480.92 271.5L480.96 267.5L481.01 268.9L481.06 259.6L481.1 266.4L481.15 251.9L481.2 270.8L481.24 261.5L481.29 270.6L481.34 266.6L481.38 258.4L481.43 255.4L481.48 261.4L481.52 264.1L481.57 269.7L481.62 264.4L481.66 271.3L481.71 251.4L481.76 270.6L481.8 267.8L481.85 260.8L481.9 247L481.94 264.5L481.99 263.3L482.04 265.6L482.08 257.5L482.13 270.7L482.18 259.9L482.22 270.1L482.27 265.8L482.32 270.5L482.36 259.6L482.41 267.3L482.46 252.9L482.5 269.6L482.55 263.2L482.6 265.8L482.64 264.9L482.69 271.3L482.74 259.3L482.78 268.7L482.83 263.3L482.88 269.3L482.92 259.1L482.97 271.5L483.02 265.8L483.06 267.4L483.11 263.4L483.16 268.5L483.2 256.8L483.25 267.9L483.3 255.1L483.34 267.7L483.39 258.5L483.44 269.4L483.48 252.5L483.53 270.4L483.58 262L483.62 267.4L483.67 256.3L483.72 270.9L483.77 250L483.81 266.4L483.86 250.9L483.91 270.7L483.95 252.5L484 270.2L484.05 264.1L484.09 267.9L484.14 257.4L484.19 263.1L484.23 265.4L484.28 268.5L484.33 257.8L484.37 271.5L484.42 264.4L484.47 268.3L484.51 260.4L484.56 263.1L484.61 260.9L484.65 266.8L484.7 263.7L484.75 269.5L484.79 268.9L484.84 267.9L484.89 259.4L484.93 268.1L484.98 249.6L485.03 268.2L485.07 259.7L485.12 269.4L485.17 250.7L485.21 267.6L485.26 264.8L485.31 270.4L485.35 265.7L485.4 265.2L485.45 257L485.49 270.8L485.54 254.6L485.59 269.2L485.63 257.9L485.68 271.2L485.73 258L485.77 271.6L485.82 254.1L485.87 267.9L485.91 266.6L485.96 267.9L486.01 267L486.05 262.1L486.1 259.7L486.15 270L486.19 245.5L486.24 268.8L486.29 253.3L486.33 258.1L486.38 265.9L486.43 257.5L486.47 262L486.52 270.7L486.57 262.6L486.62 269L486.66 259.3L486.71 265.8L486.76 265.1L486.8 269.2L486.85 260.9L486.9 266.1L486.94 259.5L486.99 264.7L487.04 263.2L487.08 262.6L487.13 245.2L487.18 270.3L487.22 266.3L487.27 268.4L487.32 258.7L487.36 270.1L487.41 260.9L487.46 270.3L487.5 257L487.55 263.3L487.6 254.1L487.64 264.3L487.69 252.3L487.74 266.5L487.78 263.5L487.83 266.7L487.88 257.9L487.92 268.1L487.97 245.7L488.02 270.3L488.06 256.6L488.11 268.2L488.16 248.6L488.2 259.9L488.25 262.1L488.3 264.2L488.34 260.1L488.39 270.8L488.44 257.3L488.48 268.3L488.53 255.5L488.58 258.4L488.62 268.5L488.67 269L488.72 249.6L488.76 268.6L488.81 263.4L488.86 270.1L488.9 262.7L488.95 264.3L489 262.4L489.04 266L489.09 239.5L489.14 270.4L489.18 250.7L489.23 264.8L489.28 251L489.32 263.2L489.37 260.7L489.42 269L489.46 246.9L489.51 266.8L489.56 255L489.61 265.2L489.65 255.6L489.7 265.9L489.75 265.7L489.79 268.8L489.84 255.5L489.89 267.6L489.93 259.1L489.98 267.7L490.03 246.8L490.07 270.6L490.12 257.6L490.17 263.2L490.21 260L490.26 263.6L490.31 265L490.35 270.8L490.4 248.5L490.45 271.1L490.49 263L490.54 263.8L490.59 264.7L490.63 270.8L490.68 243.5L490.73 268.2L490.77 258.6L490.82 269.8L490.87 241.2L490.91 269.6L490.96 264.7L491.01 261.7L491.05 257.5L491.1 266.7L491.15 259.2L491.19 267.8L491.24 253.7L491.29 269L491.33 262.7L491.38 269.5L491.43 255.1L491.47 268.8L491.52 246.8L491.57 263.1L491.61 263.4L491.66 262.4L491.71 261.4L491.75 271.3L491.8 243.7L491.85 268.5L491.89 256.4L491.94 270L491.99 256.9L492.03 266.8L492.08 258.5L492.13 271.7L492.17 255.2L492.22 270.7L492.27 264.9L492.31 267.3L492.36 258.9L492.41 268.9L492.46 249.2L492.5 268.3L492.55 258.9L492.6 268.2L492.64 255.9L492.69 268.3L492.74 253.8L492.78 265.6L492.83 256.5L492.88 267.6L492.92 250.4L492.97 260.9L493.02 257.6L493.06 271.4L493.11 265L493.16 271.6L493.2 249L493.25 269.4L493.3 261.5L493.34 261.6L493.39 262.2L493.44 271.6L493.48 259.8L493.53 267.5L493.58 260.6L493.62 263.7L493.67 259.1L493.72 269.6L493.76 251.8L493.81 266L493.86 256.3L493.9 268.4L493.95 253.7L494 266.9L494.04 253.4L494.09 269.9L494.14 253.5L494.18 266.6L494.23 253.1L494.28 271L494.32 243.8L494.37 269.9L494.42 257.7L494.46 260.8L494.51 258.1L494.56 260.6L494.6 260.7L494.65 268.1L494.7 259L494.74 269.2L494.79 251.7L494.84 265.6L494.88 251.8L494.93 269.4L494.98 259.2L495.02 267.5L495.07 250.8L495.12 263L495.16 246.7L495.21 266.6L495.26 255.8L495.3 255.7L495.35 244.2L495.4 266.5L495.45 256.4L495.49 266.3L495.54 255.7L495.59 269.2L495.63 252L495.68 268.2L495.73 253.2L495.77 266.1L495.82 265.9L495.87 268.6L495.91 262.3L495.96 270.7L496.01 258.5L496.05 266.8L496.1 252.4L496.15 253.8L496.19 262.3L496.24 263.7L496.29 253.8L496.33 265.4L496.38 234.3L496.43 270.8L496.47 258.9L496.52 266.9L496.57 250L496.61 265.5L496.66 258.8L496.71 269.7L496.75 263.8L496.8 269.9L496.85 254.2L496.89 263.3L496.94 257.1L496.99 263.6L497.03 268.3L497.08 265.7L497.13 260.1L497.17 266.6L497.22 259.6L497.27 266.4L497.31 251.5L497.36 268.2L497.41 256.1L497.45 269.4L497.5 258.9L497.55 262.5L497.59 254.1L497.64 263.5L497.69 248.9L497.73 270.9L497.78 259.6L497.83 265.6L497.87 264.3L497.92 268.8L497.97 259.2L498.01 269.5L498.06 250.4L498.11 267L498.15 251.7L498.2 266.4L498.25 255.7L498.3 260.9L498.34 241.4L498.39 263.2L498.44 245.3L498.48 258.8L498.53 258L498.58 263.4L498.62 239.8L498.67 270.3L498.72 245.2L498.76 265.1L498.81 254.1L498.86 270.3L498.9 257.1L498.95 269.6L499 260.7L499.04 270.9L499.09 264.4L499.14 271.5L499.18 250.4L499.23 264.3L499.28 261.2L499.32 266.1L499.37 260.6L499.42 271.6L499.46 261.1L499.51 260.9L499.56 265.4L499.6 268L499.65 255L499.7 267.2L499.74 258.6L499.79 271.1L499.84 260.4L499.88 270.4L499.93 258.1L499.98 270.6L500.02 257.5L500.07 260L500.12 263.3L500.16 267.7L500.21 265.4L500.26 270.6L500.3 257.3L500.35 264.6L500.4 239.9L500.44 257.2L500.49 259.9L500.54 262.2L500.58 256.4L500.63 257.5L500.68 261.8L500.72 265.5L500.77 258.2L500.82 264.6L500.86 248.4L500.91 268.6L500.96 258.5L501 264.7L501.05 250.9L501.1 262.8L501.14 246.6L501.19 264.1L501.24 256.9L501.29 266.3L501.33 247.5L501.38 261.9L501.43 241L501.47 259.8L501.52 253.8L501.57 271.3L501.61 251.8L501.66 270.7L501.71 249.1L501.75 268.5L501.8 252.9L501.85 270.2L501.89 261.8L501.94 269.1L501.99 259L502.03 266.5L502.08 251.7L502.13 257.2L502.17 244L502.22 268.7L502.27 265.4L502.31 263L502.36 250.1L502.41 266.2L502.45 261.7L502.5 266.8L502.55 232L502.59 270.7L502.64 244.9L502.69 268.6L502.73 252.8L502.78 269.8L502.83 262.9L502.87 270.8L502.92 238.2L502.97 265.7L503.01 255.1L503.06 262.9L503.11 251.3L503.15 266.5L503.2 246L503.25 268.8L503.29 256.7L503.34 266.3L503.39 249.6L503.43 266.8L503.48 249L503.53 270.8L503.57 262.6L503.62 267.9L503.67 258.1L503.71 263.4L503.76 261.7L503.81 269L503.85 266.5L503.9 271.6L503.95 254L503.99 269.2L504.04 244L504.09 265.1L504.14 248L504.18 267.4L504.23 258.7L504.28 271.3L504.32 257.8L504.37 265.3L504.42 258.5L504.46 258.1L504.51 254.6L504.56 265.3L504.6 247.9L504.65 261.7L504.7 242.4L504.74 263.7L504.79 252.2L504.84 267L504.88 254.2L504.93 268.5L504.98 257.3L505.02 262.6L505.07 260.5L505.12 270L505.16 253.2L505.21 263.1L505.26 260.9L505.3 270.6L505.35 266.5L505.4 268.8L505.44 264.3L505.49 269.9L505.54 254.8L505.58 269.7L505.63 261.5L505.68 266.7L505.72 257.6L505.77 265.9L505.82 265.6L505.86 262.7L505.91 265.9L505.96 270.3L506 254.9L506.05 271.4L506.1 257.4L506.14 270.1L506.19 262.9L506.24 270.6L506.28 253.7L506.33 268.3L506.38 241.7L506.42 265.9L506.47 259.5L506.52 271.3L506.56 240L506.61 268.8L506.66 238.4L506.7 264.5L506.75 261.5L506.8 270.5L506.84 257.6L506.89 264L506.94 245.3L506.98 267.8L507.03 253.8L507.08 270.3L507.13 263.5L507.17 271.5L507.22 266.1L507.27 267.6L507.31 254.6L507.36 264.7L507.41 265.1L507.45 267.1L507.5 244L507.55 269.8L507.59 255L507.64 270.8L507.69 259.8L507.73 267.9L507.78 250.8L507.83 266.7L507.87 256.6L507.92 271.5L507.97 264.7L508.01 270.1L508.06 259.9L508.11 270.5L508.15 267.3L508.2 267.6L508.25 257.7L508.29 271.7L508.34 254.2L508.39 269.1L508.43 243.5L508.48 267.3L508.53 254.1L508.57 269.8L508.62 253.9L508.67 268.1L508.71 255.5L508.76 268.7L508.81 257.7L508.85 257.7L508.9 253.1L508.95 270L508.99 268L509.04 264.7L509.09 261.4L509.13 268.7L509.18 253L509.23 269.7L509.27 260.9L509.32 259.8L509.37 259.8L509.41 268.7L509.46 257.2L509.51 266.4L509.55 232L509.6 262.8L509.65 251.4L509.69 265.1L509.74 247.3L509.79 267.8L509.83 264L509.88 269.6L509.93 247.9L509.98 271.7L510.02 256.8L510.07 269.8L510.12 255.1L510.16 271.1L510.21 252.6L510.26 270.6L510.3 260.4L510.35 265.2L510.4 265.9L510.44 270L510.49 261.9L510.54 267.6L510.58 247.4L510.63 269.4L510.68 264.1L510.72 262.7L510.77 257.9L510.82 258.8L510.86 266L510.91 268.8L510.96 266.1L511 264.8L511.05 265.8L511.1 263.3L511.14 266.7L511.19 269.1L511.24 247.8L511.28 265.9L511.33 262.2L511.38 265.7L511.42 250.4L511.47 269.2L511.52 243.7L511.56 269.4L511.61 261.8L511.66 268.3L511.7 252.6L511.75 270.2L511.8 258L511.84 267.8L511.89 258.5L511.94 268.5L511.98 256.6L512.03 271.6L512.08 249.8L512.12 270.6L512.17 266.9L512.22 263.4L512.26 261.4L512.31 267.2L512.36 259L512.4 269.9L512.45 253.6L512.5 269.2L512.54 265.9L512.59 264.1L512.64 267.2L512.68 262.7L512.73 258.2L512.78 261.8L512.82 259.5L512.87 266.9L512.92 259.5L512.97 268.1L513.01 259.7L513.06 258L513.11 256.8L513.15 269.1L513.2 257L513.25 266.6L513.29 265.2L513.34 268.1L513.39 260.1L513.43 271.6L513.48 261.3L513.53 265.2L513.57 261.3L513.62 270L513.67 259.7L513.71 257L513.76 266.3L513.81 266.2L513.85 265.5L513.9 271.4L513.95 256.9L513.99 270.2L514.04 259.3L514.09 271.6L514.13 250.8L514.18 268.8L514.23 262.1L514.27 261.8L514.32 261.1L514.37 261.6L514.41 264.6L514.46 265.2L514.51 257.6L514.55 271L514.6 256.7L514.65 270.1L514.69 265.7L514.74 267.8L514.79 265.5L514.83 260.9L514.88 261.4L514.93 267.5L514.97 254.9L515.02 262.8L515.07 262.5L515.11 269.3L515.16 251.7L515.21 266.2L515.25 259L515.3 269.4L515.35 261.4L515.39 264.8L515.44 250.5L515.49 271.6L515.53 264.8L515.58 263.8L515.63 262.4L515.67 270.4L515.72 258.5L515.77 269.9L515.82 262.4L515.86 265.1L515.91 261.3L515.96 266.5L516 266.6L516.05 268.5L516.1 265.4L516.14 269.9L516.19 252.5L516.24 264.5L516.28 258.7L516.33 266.7L516.38 264L516.42 271.2L516.47 257.7L516.52 267.5L516.56 263.7L516.61 271L516.66 255.3L516.7 268.3L516.75 264.7L516.8 264.1L516.84 267.6L516.89 271.4L516.94 262L516.98 271.5L517.03 262.3L517.08 263.5L517.12 254L517.17 267.6L517.22 256.5L517.26 263.6L517.31 253.1L517.36 262.3L517.4 262.4L517.45 270.8L517.5 266.4L517.54 270L517.59 250.6L517.64 264.1L517.68 246.8L517.73 265.7L517.78 259.5L517.82 264L517.87 259.6L517.92 269.2L517.96 252.7L518.01 266.2L518.06 249.5L518.1 271.7L518.15 262.5L518.2 267.9L518.24 254.3L518.29 268.3L518.34 262.7L518.38 267.5L518.43 247.2L518.48 268.6L518.52 261.2L518.57 268.6L518.62 260.8L518.66 266.2L518.71 265.3L518.76 268.3L518.81 257.1L518.85 261.5L518.9 266.8L518.95 257.5L518.99 257.5L519.04 269.5L519.09 240.5L519.13 265.6L519.18 252.6L519.23 270.2L519.27 265.4L519.32 268.2L519.37 252.7L519.41 270.9L519.46 242.3L519.51 266.5L519.55 264L519.6 263.1L519.65 260.7L519.69 264.4L519.74 261.9L519.79 265.2L519.83 255.1L519.88 265L519.93 248.9L519.97 270.2L520.02 252.2L520.07 269.7L520.11 255.6L520.16 266.5L520.21 252.6L520.25 268.7L520.3 266.3L520.35 270.3L520.39 262.7L520.44 267.6L520.49 266.2L520.53 267.3L520.58 257.7L520.63 270.4L520.67 254.2L520.72 270.9L520.77 255.3L520.81 264.7L520.86 247L520.91 268.5L520.95 263.8L521 266.7L521.05 256.9L521.09 270.6L521.14 265.9L521.19 268.4L521.23 246.8L521.28 270.8L521.33 252.4L521.37 270.1L521.42 259.3L521.47 268.4L521.51 254.2L521.56 264.2L521.61 264.2L521.66 258.7L521.7 265.2L521.75 265.4L521.8 248.1L521.84 265.2L521.89 254.1L521.94 268.9L521.98 264.3L522.03 264.3L522.08 250.1L522.12 258.5L522.17 242.2L522.22 267.4L522.26 266.9L522.31 265.9L522.36 263L522.4 266.9L522.45 260.9L522.5 268.5L522.54 260.6L522.59 266.7L522.64 256.7L522.68 259.9L522.73 250.9L522.78 268.2L522.82 254.3L522.87 270.9L522.92 257.5L522.96 266.8L523.01 259.6L523.06 259.5L523.1 256.5L523.15 267.2L523.2 259.8L523.24 255.9L523.29 258.5L523.34 270.2L523.38 261.3L523.43 271.3L523.48 257.8L523.52 264.2L523.57 260.4L523.62 265.9L523.66 252.2L523.71 261.1L523.76 247.8L523.8 270.3L523.85 252.5L523.9 270.7L523.94 265.3L523.99 264.4L524.04 260.5L524.08 270.4L524.13 256.9L524.18 271.6L524.22 257.9L524.27 269.5L524.32 258.9L524.36 270.1L524.41 241.7L524.46 269.5L524.5 253.9L524.55 265L524.6 261.9L524.65 271.4L524.69 261L524.74 268.8L524.79 253.4L524.83 267.1L524.88 258.6L524.93 264.1L524.97 266.1L525.02 269.4L525.07 262.4L525.11 270.4L525.16 259.6L525.21 270.8L525.25 260.5L525.3 271.4L525.35 257.2L525.39 265.7L525.44 250.8L525.49 269.9L525.53 255.5L525.58 259.8L525.63 253.2L525.67 270.6L525.72 248.8L525.77 268.2L525.81 261.5L525.86 265.2L525.91 261.4L525.95 266L526 265.5" fill="none" stroke="#0072BD" stroke-width="0.6" stroke-linejoin="round"/>
<rect x="350.8" y="230.7" width="175.2" height="41" fill="none" stroke="#5a5a5a" stroke-width="0.55"/>
<path d="M350.8 271.7v-1.75M350.8 230.7v1.75M385.84 271.7v-1.75M385.84 230.7v1.75M420.88 271.7v-1.75M420.88 230.7v1.75M455.92 271.7v-1.75M455.92 230.7v1.75M490.96 271.7v-1.75M490.96 230.7v1.75M526 271.7v-1.75M526 230.7v1.75M350.8 271.7h1.75M526 271.7h-1.75M350.8 252.98h1.75M526 252.98h-1.75M350.8 234.26h1.75M526 234.26h-1.75" stroke="#5a5a5a" stroke-width="0.55" fill="none"/>
<g class="tk" font-size="4.34" fill="#1c1c1c">
<text x="350.8" y="277.35" text-anchor="middle">0</text>
<text x="385.84" y="277.35" text-anchor="middle">500</text>
<text x="420.88" y="277.35" text-anchor="middle">1000</text>
<text x="455.92" y="277.35" text-anchor="middle">1500</text>
<text x="490.96" y="277.35" text-anchor="middle">2000</text>
<text x="526" y="277.35" text-anchor="middle">2500</text>
<text x="350.1" y="273.26" text-anchor="end">0</text>
<text x="350.1" y="254.54" text-anchor="end">0.01</text>
<text x="350.1" y="235.82" text-anchor="end">0.02</text>
</g>
<text x="438.4" y="287.31" text-anchor="middle" font-size="7.74" fill="#1c1c1c">Frequency(Hz)</text>
<text transform="translate(326.19 251.7) rotate(-90)" text-anchor="middle" font-size="7.74" fill="#1c1c1c">IMF1</text>
<text transform="translate(338.89 251.2) rotate(-90)" text-anchor="middle" font-size="7.74" fill="#1c1c1c">Acceleration(mm/s<tspan dy="-2.94" font-size="5.58">2</tspan><tspan dy="2.94">)</tspan></text>
</g>
<g id="imf2-freq">
<path d="M344 347.2L344.05 348.6L344.1 347.8L344.15 348.4L344.2 347.6L344.25 348.3L344.3 347.3L344.35 348.6L344.4 347.8L344.45 348.6L344.5 347.7L344.55 348.4L344.6 347.7L344.65 348.6L344.7 347.3L344.75 348.7L344.8 348L344.85 348.4L344.9 347.8L344.95 348.5L345 348L345.05 348.6L345.1 348L345.15 348.5L345.2 347L345.25 348.5L345.3 347.9L345.35 348.3L345.4 347.7L345.45 348.6L345.5 347.4L345.55 348.7L345.6 347.5L345.65 348.5L345.7 348L345.75 348.5L345.8 347.5L345.85 348.3L345.9 347.6L345.95 348.6L346 347.9L346.05 348.5L346.1 347.1L346.15 348.6L346.2 347.5L346.25 348.5L346.3 347.6L346.35 348.6L346.4 347.4L346.45 348.5L346.5 347L346.55 348.5L346.6 347.3L346.65 348.5L346.7 347.6L346.75 348.5L346.8 347.6L346.85 348.5L346.9 348L346.95 348.4L347 347.5L347.05 348.5L347.1 347.5L347.15 348.6L347.2 347.7L347.25 348.5L347.3 347.7L347.35 348.4L347.4 347.6L347.45 348.5L347.5 348L347.55 348.5L347.6 347.5L347.65 348.4L347.7 347.7L347.75 348.4L347.8 347.4L347.85 348.4L347.9 347.8L347.95 348.5L348 347.9L348.05 348.6L348.1 347.3L348.15 348.5L348.2 347.6L348.25 348.6L348.3 347.6L348.35 348.5L348.4 347.4L348.45 348.3L348.5 347.8L348.55 348.6L348.6 347.6L348.65 348.6L348.7 346.7L348.75 348.6L348.8 347.8L348.85 348.6L348.9 347.7L348.95 348.6L349 347L349.05 348.5L349.1 347.1L349.15 348.4L349.2 347.8L349.25 348.5L349.3 347.7L349.35 348.5L349.4 347.9L349.45 348.4L349.5 347.6L349.55 348.6L349.6 347.7L349.65 348.6L349.7 347.8L349.75 348.6L349.8 347.4L349.85 348.4L349.9 347.8L349.95 348.3L350 347.5L350.05 348.3L350.1 347.1L350.15 348.6L350.2 347.7L350.25 348.4L350.3 347.6L350.35 348.6L350.4 347.7L350.45 348.5L350.5 347.5L350.55 348.7L350.6 347.7L350.65 348.6L350.7 347.1L350.75 348.5L350.8 347.3L350.85 348.6L350.9 347.5L350.95 348.4L351 347.5L351.05 348.5L351.1 347.6L351.15 348.2L351.2 347.6L351.25 348.5L351.3 347.5L351.35 348.5L351.4 347.8L351.45 348.5L351.5 347.6L351.55 348.5L351.6 347.4L351.65 348.5L351.7 347.7L351.75 348.7L351.8 347.5L351.85 348.5L351.9 347.7L351.95 348.7L352 347.1L352.05 348.6L352.1 347.9L352.15 348.6L352.2 347.7L352.25 348.4L352.3 347.3L352.35 348.5L352.4 347.6L352.45 348.6L352.5 347.8L352.55 348.3L352.6 347.7L352.65 348.4L352.7 347.2L352.75 348.5L352.8 347.9L352.85 348.5L352.9 347.8L352.95 348.4L353 347L353.05 348.5L353.1 347.1L353.15 348.5L353.2 347.6L353.25 348.5L353.3 347.2L353.35 348.6L353.4 347.7L353.45 348.5L353.5 347.3L353.55 348.7L353.6 347.6L353.65 348.5L353.7 347.4L353.75 348.5L353.8 346.9L353.85 348.5L353.9 347.6L353.95 348.7L354 347.6L354.05 348.6L354.1 347.8L354.15 348.1L354.2 347.8L354.25 348.5L354.3 347.3L354.35 348.5L354.4 347.3L354.45 348.5L354.5 347.3L354.55 348.5L354.6 347.4L354.65 348.3L354.7 347.8L354.75 348.5L354.8 347.9L354.85 348.6L354.9 347.8L354.95 348.4L355 347.4L355.05 348.4L355.1 347.2L355.15 348.2L355.2 347L355.25 348.4L355.3 347.2L355.35 348.5L355.4 347.9L355.45 348.2L355.5 347L355.55 348.7L355.6 347.9L355.65 348.5L355.7 347.5L355.75 348.3L355.8 347.6L355.85 348.4L355.9 347.5L355.95 348.6L356 347.6L356.05 348.5L356.1 347.2L356.15 348.4L356.2 347.7L356.25 348.4L356.3 347.7L356.35 348.5L356.4 347.6L356.45 348.5L356.5 347.4L356.55 348.5L356.6 346.8L356.65 348.3L356.7 346.4L356.75 348.3L356.8 347.8L356.85 348.4L356.9 347.5L356.95 348.6L357 347.1L357.05 348.4L357.1 347L357.15 348.5L357.2 346.5L357.25 348.7L357.3 347.3L357.35 348.4L357.4 347.5L357.45 348.3L357.5 347L357.55 348.4L357.6 346.8L357.65 348.4L357.7 347.1L357.75 348.7L357.8 347.6L357.85 348.7L357.9 347.7L357.95 348.7L358 347.5L358.05 348.6L358.1 347.6L358.15 348.5L358.2 347.4L358.25 348.6L358.3 347.3L358.35 348.6L358.4 347.7L358.45 348.4L358.5 347L358.55 348.4L358.6 347.3L358.65 348.5L358.7 347.3L358.75 348.4L358.8 347.7L358.85 348.6L358.9 346.8L358.95 348.1L359 347.7L359.05 348.7L359.1 347.1L359.15 348.4L359.2 347.2L359.25 348.6L359.3 347L359.35 348.5L359.4 347.5L359.45 348.5L359.5 345.1L359.55 348.5L359.6 346.8L359.65 348.4L359.7 347.6L359.75 348.7L359.8 347L359.85 348.5L359.9 347.8L359.95 348.5L360 347.5L360.05 348.6L360.1 347.6L360.15 348.6L360.2 347.7L360.25 348.6L360.3 346.8L360.35 348.3L360.4 347.4L360.45 348.5L360.5 347.4L360.55 348.7L360.6 347.7L360.65 348.5L360.7 347.5L360.75 348.3L360.8 347.1L360.85 348.5L360.9 347.8L360.95 348.3L361 347.7L361.05 348.6L361.1 346.5L361.15 348.4L361.2 347.8L361.25 348.5L361.3 347.5L361.35 348.4L361.4 346.7L361.45 348.7L361.5 346.5L361.55 348.5L361.6 347.6L361.65 348.5L361.7 347.1L361.75 348.4L361.8 346.9L361.85 348.7L361.9 346.8L361.95 348.3L362 347.2L362.05 348.6L362.1 346.3L362.15 348.4L362.2 347.4L362.25 348.5L362.3 347.6L362.35 348.6L362.4 347.7L362.45 348.3L362.5 346.9L362.55 348.6L362.6 347.7L362.65 348.5L362.7 347.2L362.75 348.3L362.8 347.4L362.85 348.7L362.9 347.4L362.95 348.6L363 347.3L363.05 348.3L363.1 347.5L363.15 348.5L363.2 346.9L363.25 348.7L363.3 346.8L363.35 348.5L363.4 346.9L363.45 348.5L363.5 346.8L363.55 348.7L363.6 346.8L363.65 348.4L363.7 346.4L363.75 348.6L363.8 347.1L363.85 348.7L363.9 347.6L363.95 348.4L364 347.1L364.05 347.9L364.1 347L364.15 348.7L364.2 347.7L364.25 348.4L364.3 347.8L364.35 348.4L364.4 346.9L364.45 348.5L364.5 347.6L364.55 348.5L364.6 346.8L364.65 348.3L364.7 346.7L364.75 348.4L364.8 347.2L364.85 348.4L364.9 347.3L364.95 348.6L365 347.1L365.05 348.6L365.1 347.6L365.15 348.1L365.2 347.3L365.25 348.5L365.3 347.8L365.35 348.4L365.4 347.3L365.45 348.6L365.5 346.1L365.55 348.5L365.6 346.6L365.65 348.1L365.7 346.6L365.75 348.3L365.8 347.4L365.85 348.3L365.9 346.4L365.95 348.6L366 346.5L366.05 348.3L366.1 346.7L366.15 348.4L366.2 345.9L366.25 347.7L366.3 346.7L366.35 348.4L366.4 345.5L366.45 348.2L366.5 345.2L366.55 348L366.6 346.9L366.65 348.5L366.7 345.3L366.75 348.4L366.8 345.5L366.85 348.2L366.9 346.9L366.95 348.6L367 345.1L367.05 348.3L367.1 346.4L367.15 348.3L367.2 345.4L367.25 348.4L367.3 344.8L367.35 348.5L367.4 347L367.45 348.4L367.5 346.5L367.55 347.8L367.6 345L367.65 348L367.7 347L367.75 348L367.8 345.6L367.85 348.5L367.9 346L367.95 348.3L368 346.5L368.05 348.4L368.1 345.5L368.15 348L368.2 346.7L368.25 348.1L368.3 344.2L368.35 347.1L368.4 345.4L368.45 348.1L368.5 345.5L368.55 347.7L368.6 344.8L368.65 348.7L368.7 345.6L368.75 348.4L368.8 344.7L368.85 348.5L368.9 345.6L368.95 348.1L369 346.5L369.05 348.3L369.1 343.3L369.15 347.8L369.2 345.7L369.25 347.9L369.3 344.8L369.35 347.6L369.4 344.5L369.45 348.6L369.5 345.4L369.55 348L369.6 343.9L369.65 347.8L369.7 344.2L369.75 348.5L369.8 343.7L369.85 347.7L369.9 342.7L369.95 348.5L370 343.6L370.05 348.6L370.1 343.5L370.15 348.5L370.2 345.3L370.25 348.2L370.3 345.6L370.35 348.4L370.4 343.9L370.45 347.9L370.5 340.6L370.55 348.5L370.6 342.2L370.65 347.6L370.7 341.8L370.75 347.2L370.8 344L370.85 345.5L370.9 343.9L370.95 347.3L371 342.9L371.05 347.7L371.1 343.2L371.15 347.9L371.2 344.7L371.25 348.4L371.3 344.7L371.35 347.2L371.4 341.2L371.45 347.6L371.5 343.8L371.55 347.4L371.6 340.5L371.65 346.3L371.7 337.6L371.75 348.3L371.8 343.2L371.85 347.5L371.9 342.5L371.95 346.9L372 342.8L372.05 346.4L372.1 342L372.15 347.5L372.2 342.6L372.25 347.8L372.3 342.3L372.35 348.6L372.4 343.4L372.45 347.7L372.5 336.8L372.55 348.3L372.6 341.3L372.65 347.2L372.7 337.4L372.75 347.6L372.8 337.1L372.85 347.3L372.9 339.6L372.95 346.7L373 332.7L373.05 347.6L373.1 339.4L373.15 348.2L373.2 339.6L373.25 348.3L373.3 341.4L373.35 347.3L373.4 338.6L373.45 347.4L373.5 340.5L373.55 347.5L373.6 337.4L373.65 346.1L373.7 342.4L373.75 347L373.8 340.7L373.85 348.2L373.9 340.5L373.95 345.9L374 340L374.05 348.3L374.1 335.2L374.15 345.8L374.2 339.1L374.25 348.3L374.3 333.7L374.35 348.7L374.4 338.8L374.45 348.1L374.5 337.9L374.55 345.4L374.6 338.1L374.65 347.6L374.7 337.6L374.75 348.1L374.8 340L374.85 346.6L374.9 338.2L374.95 346.9L375 336.9L375.05 347.8L375.1 333.3L375.15 348.2L375.2 334.8L375.25 343.8L375.3 337.5L375.35 346.9L375.4 338.2L375.45 345L375.5 340.7L375.55 346.9L375.6 339.9L375.65 347L375.7 342.3L375.75 346.8L375.8 330.8L375.85 346.3L375.9 337.8L375.95 348.6L376 341.6L376.05 347.2L376.1 338L376.15 345.9L376.2 335.7L376.25 348.6L376.3 336.7L376.35 347.6L376.4 333.5L376.45 346.1L376.5 340.7L376.55 347.1L376.6 328.8L376.65 348.7L376.7 339L376.75 346.1L376.8 331L376.85 346.2L376.9 335.6L376.95 345L377 338.2L377.05 346.3L377.1 320.8L377.15 348.3L377.2 324.7L377.25 342.8L377.3 321.5L377.35 344.5L377.4 320.9L377.45 348.6L377.5 329L377.55 347.4L377.6 324.1L377.65 348.6L377.7 336.4L377.75 345.8L377.8 333.5L377.85 344.9L377.9 337.6L377.95 346.8L378 338.2L378.05 347.4L378.1 338.7L378.15 344.2L378.2 333.7L378.25 348.5L378.3 334.6L378.35 348.4L378.4 330.5L378.45 346.6L378.5 330.7L378.55 345.9L378.6 331.4L378.65 345.6L378.7 335.9L378.75 347L378.8 328.6L378.85 343.8L378.9 333.5L378.95 348.6L379 323.6L379.05 345.3L379.1 339.5L379.15 342.9L379.2 323.9L379.25 347.7L379.3 335.4L379.35 346L379.4 329.4L379.45 342.8L379.5 330.6L379.55 340.2L379.6 328.2L379.65 341.2L379.7 322.6L379.75 343.2L379.8 328.4L379.85 343.1L379.9 332.1L379.95 348.2L380 329.9L380.05 346.9L380.1 331.1L380.15 347.3L380.2 336.2L380.25 347.2L380.3 332.4L380.35 344.4L380.4 334.6L380.45 347.4L380.5 332.3L380.55 342.5L380.6 330.9L380.65 347.7L380.7 326L380.75 346L380.8 330.7L380.85 346.7L380.9 321.8L380.95 346.2L381 324.9L381.05 346.1L381.1 329.2L381.15 348L381.2 333.2L381.25 347.5L381.3 329.4L381.35 344.9L381.4 331.3L381.45 347.8L381.5 329.9L381.55 344.6L381.6 324.9L381.65 345.6L381.7 333.8L381.75 346.1L381.8 332.3L381.85 343.4L381.9 313.7L381.95 342.8L382 328L382.05 346.8L382.1 328.9L382.15 347.7L382.2 329.7L382.25 345.8L382.3 334.6L382.35 348.1L382.4 332.5L382.45 347.8L382.5 338.4L382.55 347.6L382.6 336L382.65 347.3L382.7 328.4L382.75 346.9L382.8 336.6L382.85 347.1L382.9 334.7L382.95 346.7L383 337L383.05 346.6L383.1 329.3L383.15 346.4L383.2 337.6L383.25 345.3L383.3 337L383.35 344.7L383.4 337.6L383.45 346.7L383.5 332.4L383.55 347L383.6 334.6L383.65 347.3L383.7 330L383.75 347.9L383.8 338.4L383.85 346.7L383.9 323.1L383.95 345.4L384 330.2L384.05 346.9L384.1 333.4L384.15 345.4L384.2 338L384.25 344.6L384.3 337.1L384.35 346.3L384.4 339.3L384.45 348L384.5 334.7L384.55 347.8L384.6 330.4L384.65 346.6L384.7 339L384.75 346.6L384.8 339.6L384.85 347.7L384.9 336.4L384.95 345.5L385 341.3L385.05 346L385.1 329.7L385.15 348L385.2 340.6L385.25 345.6L385.3 340.7L385.35 348.1L385.4 338.5L385.45 347.2L385.5 332.1L385.55 345L385.6 338.1L385.65 348.5L385.7 335L385.75 347.8L385.8 339.7L385.85 346.1L385.9 338.3L385.95 346.8L386 340.7L386.05 346.7L386.1 334.2L386.15 344L386.2 328.3L386.25 345.3L386.3 335L386.35 345.2L386.4 338.2L386.45 347L386.5 335.8L386.55 347.2L386.6 338.5L386.65 348.2L386.7 333.1L386.75 346L386.8 339.3L386.85 348.4L386.9 334.7L386.95 348.2L387 338.2L387.05 347.1L387.1 340.1L387.15 347.2L387.2 340.5L387.25 348.2L387.3 332.4L387.35 345.7L387.4 335.6L387.45 346.4L387.5 334.2L387.55 346.8L387.6 339.5L387.65 348.2L387.7 339.6L387.75 346.7L387.8 336.5L387.85 348.2L387.9 334.2L387.95 347.8L388 341.8L388.05 347.2L388.1 338.7L388.15 347.7L388.2 340.4L388.25 348L388.3 340L388.35 347.3L388.4 338.3L388.45 346.4L388.5 332.3L388.55 348.5L388.6 338L388.65 346.3L388.7 338.6L388.75 347.1L388.8 338.4L388.85 347.5L388.9 340.9L388.95 348.5L389 333.5L389.05 348L389.1 340.5L389.15 346.2L389.2 342.7L389.25 348L389.3 340.1L389.35 345.1L389.4 340.1L389.45 346.7L389.5 338.1L389.55 347.5L389.6 341.1L389.65 347.5L389.7 339L389.75 347.3L389.8 342.9L389.85 347.4L389.9 340.8L389.95 346.7L390 341.9L390.05 347.4L390.1 340.1L390.15 348.4L390.2 340.7L390.25 348.4L390.3 340L390.35 348.7L390.4 340L390.45 346.9L390.5 338.9L390.55 346.6L390.6 341.5L390.65 347.5L390.7 336.9L390.75 346.6L390.8 338.5L390.85 348L390.9 340.9L390.95 347.9L391 342.3L391.05 345.7L391.1 343L391.15 347.3L391.2 341.7L391.25 347.5L391.3 342.7L391.35 348L391.4 342L391.45 348L391.5 343.7L391.55 348.2L391.6 340L391.65 346.8L391.7 339.1L391.75 348.6L391.8 342.2L391.85 348.4L391.9 342L391.95 347.9L392 338.8L392.05 348.1L392.1 341.5L392.15 346.4L392.2 340.7L392.25 348.5L392.3 341.4L392.35 348.2L392.4 340.2L392.45 346.7L392.5 342.3L392.55 348.2L392.6 343.4L392.65 347.1L392.7 343L392.75 348.2L392.8 343.9L392.85 348.2L392.9 341L392.95 347.8L393 340L393.05 345.1L393.1 339.3L393.15 348.2L393.2 344.2L393.25 346.8L393.3 340.7L393.35 347.3L393.4 342.1L393.45 347.7L393.5 344L393.55 347.8L393.6 343.8L393.65 348L393.7 341.6L393.75 348.4L393.8 340.2L393.85 346.9L393.9 344.3L393.95 348.7L394 343L394.05 347.4L394.1 343.5L394.15 347.8L394.2 342.2L394.25 348.1L394.3 343.3L394.35 346.5L394.4 345.2L394.45 347.3L394.5 343.8L394.55 347.6L394.6 342.1L394.65 347.5L394.7 344L394.75 347L394.8 337.1L394.85 348.1L394.9 344.5L394.95 346.5L395 341.7L395.05 348.3L395.1 332.2L395.15 348.2L395.2 337.7L395.25 348.4L395.3 340.9L395.35 346.4L395.4 343.9L395.45 346.4L395.5 345.3L395.55 347.3L395.6 342.3L395.65 348.3L395.7 344.2L395.75 348.5L395.8 341.5L395.85 348L395.9 342.6L395.95 348.6L396 342.3L396.05 347.1L396.1 342.6L396.15 347.1L396.2 343.7L396.25 347.8L396.3 342.7L396.35 348.2L396.4 343.7L396.45 347.7L396.5 341L396.55 347.5L396.6 343.2L396.65 347.7L396.7 342L396.75 348L396.8 343.2L396.85 348.2L396.9 345L396.95 348.3L397 342.4L397.05 347.5L397.1 342L397.15 348.5L397.2 341.2L397.25 346.3L397.3 340.6L397.35 347.7L397.4 339L397.45 347.8L397.5 342.4L397.55 347L397.6 342.2L397.65 348.2L397.7 343.8L397.75 348.2L397.8 344.4L397.85 347.8L397.9 344.8L397.95 348.1L398 344.1L398.05 348.7L398.1 344.6L398.15 348.2L398.2 341.7L398.25 348.1L398.3 343.7L398.35 348.4L398.4 342.9L398.45 348.1L398.5 343.4L398.55 348.3L398.6 342.8L398.65 347.3L398.7 344.1L398.75 348.3L398.8 345.7L398.85 348.4L398.9 346.1L398.95 348.7L399 344.4L399.05 348.4L399.1 345.2L399.15 348L399.2 344.4L399.25 347.4L399.3 341.9L399.35 348.6L399.4 343.8L399.45 348L399.5 342.5L399.55 347.1L399.6 342.7L399.65 348.5L399.7 343.3L399.75 347.2L399.8 343.2L399.85 347.4L399.9 343.5L399.95 348.3L400 344L400.05 348.5L400.1 343.6L400.15 348.2L400.2 343.1L400.25 347.9L400.3 345L400.35 347.5L400.4 343.8L400.45 348.3L400.5 344.9L400.55 348.2L400.6 344L400.65 348.6L400.7 345.2L400.75 348.3L400.8 343.5L400.85 347.9L400.9 344.1L400.95 348.6L401 344.5L401.05 347.6L401.1 342.7L401.15 347.3L401.2 345.8L401.25 348.3L401.3 344.2L401.35 348L401.4 345.8L401.45 348.2L401.5 344.8L401.55 348.5L401.6 344L401.65 347.5L401.7 341.4L401.75 348.1L401.8 345.1L401.85 348.5L401.9 344.3L401.95 347.7L402 343.8L402.05 348.5L402.1 342.9L402.15 347.4L402.2 346.1L402.25 348.1L402.3 346.2L402.35 347.9L402.4 345.2L402.45 347.8L402.5 343.6L402.55 348.6L402.6 344.5L402.65 348.3L402.7 344L402.75 348L402.8 345.1L402.85 348.5L402.9 343.8L402.95 348L403 343.8L403.05 348.1L403.1 346.4L403.15 347.7L403.2 345.7L403.25 348.2L403.3 344.1L403.35 348.5L403.4 343.6L403.45 348.7L403.5 346.7L403.55 348.5L403.6 346.2L403.65 348.4L403.7 346L403.75 348.2L403.8 345.1L403.85 348.2L403.9 343.6L403.95 347.8L404 345.8L404.05 348.7L404.1 344.1L404.15 347.9L404.2 345.8L404.25 348.5L404.3 344.3L404.35 348L404.4 343.6L404.45 348.3L404.5 345.9L404.55 348.3L404.6 345.4L404.65 348.6L404.7 345.5L404.75 348.1L404.8 346L404.85 348.1L404.9 345.3L404.95 347.9L405 344.6L405.05 348.5L405.1 346.1L405.15 348.3L405.2 345.1L405.25 348L405.3 345.9L405.35 348.2L405.4 346.2L405.45 348.3L405.5 345.7L405.55 348.6L405.6 345.5L405.65 348.5L405.7 345.5L405.75 347.6L405.8 345.4L405.85 348.7L405.9 345L405.95 348.2L406 346.2L406.05 348.6L406.1 344.8L406.15 348.4L406.2 344.4L406.25 347.4L406.3 344.8L406.35 348.6L406.4 343.9L406.45 348.6L406.5 346.7L406.55 348.2L406.6 346.5L406.65 348.7L406.7 345.7L406.75 347.3L406.8 345.2L406.85 348L406.9 344.1L406.95 348.2L407 346.3L407.05 348L407.1 346.2L407.15 348.3L407.2 345.9L407.25 348.1L407.3 345L407.35 348L407.4 345.9L407.45 348.5L407.5 346.2L407.55 348.3L407.6 346.6L407.65 348.5L407.7 347.1L407.75 348.2L407.8 346.6L407.85 348.1L407.9 346L407.95 348.1L408 346.3L408.05 348.2L408.1 346L408.15 348.1L408.2 345.4L408.25 348.1L408.3 344.8L408.35 347.9L408.4 344.6L408.45 348.1L408.5 345L408.55 347.6L408.6 345.9L408.65 348.7L408.7 346.4L408.75 348.5L408.8 346.7L408.85 348.6L408.9 345.7L408.95 348.4L409 346.8L409.05 348.2L409.1 345.6L409.15 348.4L409.2 346.8L409.25 347.6L409.3 346.7L409.35 348.2L409.4 346.9L409.45 348.2L409.5 344.1L409.55 348.6L409.6 346.7L409.65 348.2L409.7 346.4L409.75 347.9L409.8 346.8L409.85 348.4L409.9 345.5L409.95 348.3L410 346.3L410.05 348.3L410.1 346.8L410.15 348.5L410.2 346.8L410.25 348L410.3 346.6L410.35 348.4L410.4 345.5L410.45 347.8L410.5 346.5L410.55 348.6L410.6 346.7L410.65 348.3L410.7 345L410.75 347.8L410.8 346.1L410.85 348L410.9 345.3L410.95 348.6L411 346.4L411.05 348.6L411.1 346.1L411.15 348.5L411.2 345.5L411.25 348.4L411.3 344.9L411.35 347.8L411.4 346.1L411.45 348.5L411.5 346.7L411.55 348.3L411.6 346.5L411.65 348.2L411.7 345.7L411.75 348.2L411.8 346.1L411.85 348.3L411.9 347L411.95 348.7L412 345.2L412.05 348.4L412.1 346.8L412.15 348.5L412.2 347.2L412.25 348L412.3 345.9L412.35 348.2L412.4 346L412.45 348.7L412.5 346.6L412.55 348.4L412.6 346.8L412.65 348.6L412.7 346L412.75 348.2L412.8 346.1L412.85 348.4L412.9 345.5L412.95 348.7L413 345L413.05 347.7L413.1 345.1L413.15 348.7L413.2 346L413.25 348.4L413.3 346.2L413.35 348.6L413.4 347.2L413.45 348.3L413.5 346.1L413.55 348.4L413.6 346.8L413.65 348.1L413.7 346L413.75 348.2L413.8 345.8L413.85 348.7L413.9 346.7L413.95 348.4L414 346.9L414.05 348.4L414.1 346.2L414.15 348.3L414.2 347.1L414.25 348.6L414.3 346.1L414.35 348.4L414.4 345.9L414.45 348.7L414.5 347.4L414.55 348.2L414.6 347.5L414.65 348.5L414.7 346.8L414.75 348.3L414.8 347.2L414.85 348.2L414.9 345.8L414.95 348.7L415 346.4L415.05 348.2L415.1 346.8L415.15 348.3L415.2 346.8L415.25 348L415.3 346.7L415.35 348.3L415.4 347L415.45 348.3L415.5 347L415.55 348.4L415.6 346.6L415.65 348.3L415.7 347.2L415.75 348.3L415.8 347.1L415.85 348.2L415.9 346.2L415.95 348.6L416 346.5L416.05 348.7L416.1 346.9L416.15 348.4L416.2 347.7L416.25 348.4L416.3 347.3L416.35 348.7L416.4 347.1L416.45 348.1L416.5 345.9L416.55 348.6L416.6 346.5L416.65 348.3L416.7 347.2L416.75 348.4L416.8 346.4L416.85 348.2L416.9 346.8L416.95 348.5L417 347.5L417.05 347.6L417.1 347L417.15 348.3L417.2 346.7L417.25 348.4L417.3 346.7L417.35 348.1L417.4 345.7L417.45 348.6L417.5 346.7L417.55 347.8L417.6 346.8L417.65 348.6L417.7 347L417.75 348.6L417.8 346.4L417.85 348.6L417.9 347.1L417.95 348.5L418 347.1L418.05 348.1L418.1 347.6L418.15 348.4L418.2 347.2L418.25 348.6L418.3 346.1L418.35 348.7L418.4 347L418.45 348.6L418.5 347.6L418.55 348.3L418.6 346.7L418.65 348.4L418.7 347.2L418.75 348.4L418.8 347L418.85 348.4L418.9 345.6L418.95 348.5L419 347.4L419.05 348.6L419.1 347.3L419.15 348.3L419.2 345.8L419.25 348.4L419.3 347.6L419.35 348.3L419.4 347.3L419.45 348.5L419.5 347.2L419.55 348.1L419.6 345.9L419.65 348.7L419.7 347.4L419.75 348.6L419.8 346.6L419.85 348.5L419.9 346.9L419.95 348.6L420 346.2L420.05 348.5L420.1 347.3L420.15 348.4L420.2 347.1L420.25 348.1L420.3 347.1L420.35 348.6L420.4 347L420.45 348.7L420.5 346.9L420.55 348.5L420.6 347.7L420.65 348.6L420.7 347.8L420.75 348.5L420.8 347.4L420.85 348.4L420.9 347.6L420.95 348.4L421 347.5L421.05 348.5L421.1 347.5L421.15 348.5L421.2 347.3L421.25 348.4L421.3 347.1L421.35 348.1L421.4 347.1L421.45 348.2L421.5 347.7L421.55 348.5L421.6 346.7L421.65 348.4L421.7 347L421.75 348.3L421.8 346L421.85 347.8L421.9 345.6L421.95 348.4L422 346.9L422.05 348.1L422.1 347.5L422.15 348.6L422.2 347.6L422.25 348.4L422.3 347.3L422.35 348.3L422.4 347.6L422.45 348.7L422.5 347.5L422.55 348.3L422.6 347.3L422.65 348.4L422.7 347.4L422.75 348.5L422.8 347.5L422.85 348.6L422.9 347.1L422.95 348.6L423 347.6L423.05 348.4L423.1 347.2L423.15 348.6L423.2 347.9L423.25 348.3L423.3 347L423.35 348.4L423.4 347.7L423.45 348.7L423.5 347.9L423.55 348.5L423.6 347.5L423.65 348.6L423.7 347.1L423.75 348.5L423.8 347.8L423.85 348.5L423.9 347.3L423.95 348.5L424 346.9L424.05 348.6L424.1 347.4L424.15 348.4L424.2 346.9L424.25 348.6L424.3 346.8L424.35 348.6L424.4 347.7L424.45 348.7L424.5 347.7L424.55 348.3L424.6 347.7L424.65 348.5L424.7 347.2L424.75 348.4L424.8 347.9L424.85 348.5L424.9 347.9L424.95 348.4L425 347.5L425.05 348.5L425.1 346.9L425.15 348.6L425.2 347.1L425.25 348.5L425.3 347.6L425.35 348.5L425.4 347.7L425.45 348.6L425.5 347.7L425.55 348.4L425.6 347.3L425.65 348.6L425.7 347L425.75 348.6L425.8 347.5L425.85 348.6L425.9 347.9L425.95 348.6L426 347.6L426.05 348.5L426.1 347L426.15 348.7L426.2 347.2L426.25 348.6L426.3 346.9L426.35 348.5L426.4 347.3L426.45 348.3L426.5 347.3L426.55 348.5L426.6 347.4L426.65 348.3L426.7 347.7L426.75 348.5L426.8 348L426.85 348.5L426.9 347.9L426.95 348.6L427 347.9L427.05 348.5L427.1 347.8L427.15 348.5L427.2 347.7L427.25 348.6L427.3 347.3L427.35 348.6L427.4 347.8L427.45 348.5L427.5 347.4L427.55 348.3L427.6 347.5L427.65 348.5L427.7 347.5L427.75 348.4L427.8 348.1L427.85 348.6L427.9 347.5L427.95 348.5L428 347.3L428.05 348.6L428.1 347.7L428.15 348.4L428.2 347.8L428.25 348.5L428.3 347.5L428.35 348.6L428.4 347.9L428.45 348.3L428.5 347.5L428.55 348.4L428.6 347.7L428.65 348.5L428.7 347.5L428.75 348.6L428.8 347.8L428.85 348.4L428.9 347.6L428.95 348.4L429 347.5L429.05 348.5L429.1 347.6L429.15 348.6L429.2 347.6L429.25 348.7L429.3 347.8L429.35 348.4L429.4 347.4L429.45 348.6L429.5 347.3L429.55 348.5L429.6 347.7L429.65 348.5L429.7 347.9L429.75 348.5L429.8 347.6L429.85 348.7L429.9 347.5L429.95 348.6L430 347.5L430.05 348.5L430.1 347.8L430.15 348.5L430.2 348.1L430.25 348.4L430.3 347.7L430.35 348.6L430.4 347.5L430.45 348.7L430.5 347.8L430.55 348.6L430.6 347.5L430.65 348.6L430.7 348L430.75 348.5L430.8 347.8L430.85 348.5L430.9 347.7L430.95 348.5L431 347.2L431.05 348.6L431.1 347.8L431.15 348.7L431.2 347.5L431.25 348.6L431.3 348L431.35 348.5L431.4 347.8L431.45 348.7L431.5 347.8L431.55 348.6L431.6 347.9L431.65 348.5L431.7 347.7L431.75 348.6L431.8 347.9L431.85 348.5L431.9 347.4L431.95 348.5L432 347.8L432.05 348.4L432.1 347.7L432.15 348.4L432.2 348L432.25 348.7L432.3 347.8L432.35 348.5L432.4 348L432.45 348.5L432.5 348.2L432.55 348.6L432.6 348.1L432.65 348.7L432.7 347.5L432.75 348.3L432.8 347.4L432.85 348.6L432.9 347.6L432.95 348.4L433 347.3L433.05 348.5L433.1 347.3L433.15 348.6L433.2 348L433.25 348.6L433.3 347.7L433.35 348.7L433.4 347.9L433.45 348.5L433.5 348.1L433.55 348.6L433.6 348L433.65 348.6L433.7 347.9L433.75 348.6L433.8 348L433.85 348.6L433.9 347.9L433.95 348.5L434 348.1L434.05 348.7L434.1 347.9L434.15 348.5L434.2 347.9L434.25 348.6L434.3 348.1L434.35 348.5L434.4 347.8L434.45 348.5L434.5 347.5L434.55 348.6L434.6 348L434.65 348.5L434.7 348L434.75 348.6L434.8 347.7L434.85 348.5L434.9 347.7L434.95 348.7L435 347.6L435.05 348.6L435.1 347.3L435.15 348.5L435.2 347.7L435.25 348.6L435.3 346.9L435.35 348.6L435.4 347.9L435.45 348.6L435.5 347.7L435.55 348.6L435.6 347.8L435.65 348.6L435.7 348L435.75 348.6L435.8 347.9L435.85 348.5L435.9 347.8L435.95 348.7L436 347.9L436.05 348.7L436.1 347.8L436.15 348.6L436.2 348L436.25 348.7L436.3 348.1L436.35 348.6L436.4 348L436.45 348.7L436.5 348.2L436.55 348.7L436.6 347.9L436.65 348.6L436.7 348.1L436.75 348.7L436.8 348L436.85 348.4L436.9 348L436.95 348.5L437 347.8L437.05 348.6L437.1 348.2L437.15 348.5L437.2 347.8L437.25 348.6L437.3 348.1L437.35 348.5L437.4 347.7L437.45 348.6L437.5 347.6L437.55 348.7L437.6 347.2L437.65 348.6L437.7 348.2L437.75 348.6L437.8 347.9L437.85 348.6L437.9 348.2L437.95 348.6L438 347.8L438.05 348.5L438.1 348.1L438.15 348.6L438.2 348.3L438.25 348.7L438.3 347.9L438.35 348.6L438.4 347.8L438.45 348.6L438.5 348L438.55 348.5L438.6 347.7L438.65 348.5L438.7 348.1L438.75 348.6L438.8 348.1L438.85 348.6L438.9 348.2L438.95 348.6L439 347.5L439.05 348.6L439.1 348L439.15 348.5L439.2 347.8L439.25 348.7L439.3 348.1L439.35 348.5L439.4 348.3L439.45 348.6L439.5 347.6L439.55 348.5L439.6 347.9L439.65 348.7L439.7 347.6L439.75 348.6L439.8 347.6L439.85 348.6L439.9 348.2L439.95 348.5L440 348L440.05 348.6L440.1 347.8L440.15 348.6L440.2 348.2L440.25 348.6L440.3 347.8L440.35 348.5L440.4 348.2L440.45 348.6L440.5 348.3L440.55 348.6L440.6 348.1L440.65 348.5L440.7 348.2L440.75 348.6L440.8 348.2L440.85 348.7L440.9 348.1L440.95 348.7L441 348.1L441.05 348.4L441.1 348L441.15 348.7L441.2 347.9L441.25 348.7L441.3 348L441.35 348.6L441.4 348.1L441.45 348.5L441.5 347.9L441.55 348.7L441.6 347.6L441.65 348.6L441.7 347.9L441.75 348.6L441.8 348.2L441.85 348.7L441.9 348.1L441.95 348.6L442 347.8L442.05 348.6L442.1 347.8L442.15 348.5L442.2 348.2L442.25 348.7L442.3 348.2L442.35 348.6L442.4 348.2L442.45 348.6L442.5 348.2L442.55 348.6L442.6 347.9L442.65 348.7L442.7 348.1L442.75 348.7L442.8 348.2L442.85 348.6L442.9 348.4L442.95 348.7L443 348.2L443.05 348.6L443.1 348.1L443.15 348.7L443.2 348.3L443.25 348.7L443.3 348L443.35 348.6L443.4 348.1L443.45 348.7L443.5 348.2L443.55 348.6L443.6 347.9L443.65 348.7L443.7 348.3L443.75 348.6L443.8 348.3L443.85 348.6L443.9 348.3L443.95 348.6L444 348.3L444.05 348.6L444.1 348.3L444.15 348.5L444.2 347.9L444.25 348.6L444.3 348L444.35 348.6L444.4 348L444.45 348.6L444.5 347.8L444.55 348.7L444.6 347.9L444.65 348.7L444.7 348.2L444.75 348.7L444.8 348.3L444.85 348.6L444.9 348.3L444.95 348.7L445 347.9L445.05 348.6L445.1 348L445.15 348.6L445.2 348.1L445.25 348.6L445.3 348.3L445.35 348.6L445.4 348.3L445.45 348.6L445.5 348.2L445.55 348.7L445.6 348.3L445.65 348.7L445.7 348.2L445.75 348.6L445.8 348.1L445.85 348.6L445.9 348.1L445.95 348.6L446 348.3L446.05 348.7L446.1 348.2L446.15 348.6L446.2 348L446.25 348.6L446.3 348L446.35 348.6L446.4 348.1L446.45 348.6L446.5 348.1L446.55 348.6L446.6 348.2L446.65 348.7L446.7 348.3L446.75 348.6L446.8 348.1L446.85 348.6L446.9 348L446.95 348.6L447 348.4L447.05 348.6L447.1 348.1L447.15 348.7L447.2 348.1L447.25 348.6L447.3 348.2L447.35 348.6L447.4 348.2L447.45 348.6L447.5 348.2L447.55 348.6L447.6 348L447.65 348.6L447.7 348.4L447.75 348.7L447.8 348.4L447.85 348.7L447.9 348.2L447.95 348.6L448 348.2L448.05 348.5L448.1 348.1L448.15 348.6L448.2 348.2L448.25 348.6L448.3 348.2L448.35 348.7L448.4 348.1L448.45 348.5L448.5 348.1L448.55 348.7L448.6 347.8L448.65 348.6L448.7 348L448.75 348.6L448.8 348.2L448.85 348.5L448.9 348.3L448.95 348.7L449 348.3L449.05 348.6L449.1 348.2L449.15 348.7L449.2 348.3L449.25 348.6L449.3 348.2L449.35 348.6L449.4 348.1L449.45 348.6L449.5 348.1L449.55 348.6L449.6 348.1L449.65 348.5L449.7 348.2L449.75 348.6L449.8 348.1L449.85 348.7L449.9 348.3L449.95 348.6L450 348.4L450.05 348.7L450.1 348.2L450.15 348.5L450.2 348.3L450.25 348.7L450.3 348.2L450.35 348.7L450.4 348.2L450.45 348.6L450.5 348.2L450.55 348.6L450.6 348L450.65 348.7L450.7 348.2L450.75 348.6L450.8 348.3L450.85 348.6L450.9 348.1L450.95 348.5L451 348.3L451.05 348.6L451.1 348.4L451.15 348.6L451.2 348.4L451.25 348.6L451.3 348.5L451.35 348.6L451.4 348.4L451.45 348.6L451.5 348.3L451.55 348.7L451.6 348.4L451.65 348.6L451.7 348.3L451.75 348.7L451.8 348.4L451.85 348.6L451.9 348.3L451.95 348.7L452 348.5L452.05 348.7L452.1 348.3L452.15 348.6L452.2 348.4L452.25 348.5L452.3 348.1L452.35 348.7L452.4 348.5L452.45 348.7L452.5 348.1L452.55 348.6L452.6 348.4L452.65 348.7L452.7 348.4L452.75 348.6L452.8 348.2L452.85 348.7L452.9 348.3L452.95 348.7L453 348.2L453.05 348.6L453.1 348L453.15 348.7L453.2 348.2L453.25 348.6L453.3 348L453.35 348.7L453.4 348.1L453.45 348.6L453.5 348.3L453.55 348.7L453.6 348.5L453.65 348.7L453.7 348.3L453.75 348.7L453.8 348.5L453.85 348.6L453.9 348.2L453.95 348.6L454 348.3L454.05 348.6L454.1 348.2L454.15 348.7L454.2 348.2L454.25 348.6L454.3 348.3L454.35 348.6L454.4 348.3L454.45 348.7L454.5 348.1L454.55 348.7L454.6 348.4L454.65 348.6L454.7 348.4L454.75 348.7L454.8 348.3L454.85 348.7L454.9 348.3L454.95 348.6L455 348.5L455.05 348.6L455.1 348.3L455.15 348.6L455.2 348.2L455.25 348.6L455.3 348.3L455.35 348.6L455.4 348.3L455.45 348.6L455.5 348.3L455.55 348.6L455.6 348.4L455.65 348.6L455.7 348.3L455.75 348.7L455.8 348.5L455.85 348.7L455.9 348.5L455.95 348.6L456 348.4L456.05 348.6L456.1 348.3L456.15 348.6L456.2 348.5L456.25 348.6L456.3 348.5L456.35 348.6L456.4 348.3L456.45 348.6L456.5 348.3L456.55 348.7L456.6 348.4L456.65 348.7L456.7 348.4L456.75 348.7L456.8 348.5L456.85 348.7L456.9 348.4L456.95 348.6L457 348.5L457.05 348.6L457.1 348.3L457.15 348.7L457.2 348.5L457.25 348.6L457.3 348.2L457.35 348.6L457.4 348.3L457.45 348.7L457.5 348.1L457.55 348.6L457.6 348.3L457.65 348.6L457.7 348.4L457.75 348.6L457.8 348.4L457.85 348.6L457.9 348.2L457.95 348.7L458 348.4L458.05 348.6L458.1 348.3L458.15 348.7L458.2 348.5L458.25 348.7L458.3 348.5L458.35 348.7L458.4 348.4L458.45 348.6L458.5 348.4L458.55 348.6L458.6 348.4L458.65 348.6L458.7 348.3L458.75 348.7L458.8 348.4L458.85 348.6L458.9 348.4L458.95 348.6L459 348.5L459.05 348.6L459.1 348.4L459.15 348.7L459.2 348.5L459.25 348.6L459.3 348.5L459.35 348.7L459.4 348.5L459.45 348.7L459.5 348.4L459.55 348.6L459.6 348.4L459.65 348.6L459.7 348.2L459.75 348.7L459.8 348.3L459.85 348.7L459.9 348.2L459.95 348.6L460 348.4L460.05 348.7L460.1 348.4L460.15 348.7L460.2 348.5L460.25 348.6L460.3 348.4L460.35 348.6L460.4 348.4L460.45 348.7L460.5 348.4L460.55 348.7L460.6 348.4L460.65 348.7L460.7 348.5L460.75 348.7L460.8 348.5L460.85 348.7L460.9 348.4L460.95 348.6L461 348.4L461.05 348.7L461.1 348.4L461.15 348.6L461.2 348.5L461.25 348.7L461.3 348.4L461.35 348.7L461.4 348.3L461.45 348.6L461.5 348.4L461.55 348.7L461.6 348.4L461.65 348.7L461.7 348.3L461.75 348.7L461.8 348L461.85 348.6L461.9 348.3L461.95 348.6L462 348.4L462.05 348.7L462.1 348.3L462.15 348.6L462.2 348.4L462.25 348.6L462.3 348.4L462.35 348.7L462.4 348.4L462.45 348.6L462.5 348.4L462.55 348.7L462.6 348.4L462.65 348.7L462.7 348.4L462.75 348.7L462.8 348.4L462.85 348.6L462.9 348.3L462.95 348.6L463 348.4L463.05 348.7L463.1 348.4L463.15 348.7L463.2 348.3L463.25 348.7L463.3 348.5L463.35 348.7L463.4 348.5L463.45 348.7L463.5 348.3L463.55 348.7L463.6 348.5L463.65 348.7L463.7 348.4L463.75 348.7L463.8 348.4L463.85 348.6L463.9 348.3L463.95 348.6L464 348.3L464.05 348.7L464.1 348L464.15 348.7L464.2 348.3L464.25 348.6L464.3 348.3L464.35 348.7L464.4 348.3L464.45 348.6L464.5 348.4L464.55 348.7L464.6 348.5L464.65 348.6L464.7 348.4L464.75 348.6L464.8 348.4L464.85 348.6L464.9 348.4L464.95 348.7L465 348.5L465.05 348.7L465.1 348.5L465.15 348.6L465.2 348.3L465.25 348.6L465.3 348.5L465.35 348.7L465.4 348.4L465.45 348.6L465.5 348.4L465.55 348.6L465.6 348.5L465.65 348.6L465.7 348.4L465.75 348.6L465.8 348.4L465.85 348.7L465.9 348.5L465.95 348.6L466 348.5L466.05 348.7L466.1 348.2L466.15 348.6L466.2 348.4L466.25 348.6L466.3 348.3L466.35 348.7L466.4 348.3L466.45 348.7L466.5 348.4L466.55 348.6L466.6 348.3L466.65 348.6L466.7 348.4L466.75 348.7L466.8 348.3L466.85 348.7L466.9 348.3L466.95 348.6L467 348.5L467.05 348.7L467.1 348.3L467.15 348.6L467.2 348.4L467.25 348.7L467.3 348.4L467.35 348.6L467.4 348.4L467.45 348.7L467.5 348.5L467.55 348.7L467.6 348.3L467.65 348.7L467.7 348.4L467.75 348.6L467.8 348.4L467.85 348.6L467.9 348.4L467.95 348.7L468 348.3L468.05 348.6L468.1 348.4L468.15 348.6L468.2 348.4L468.25 348.6L468.3 348.4L468.35 348.6L468.4 348.4L468.45 348.6L468.5 348.4L468.55 348.7L468.6 348.3L468.65 348.6L468.7 348.1L468.75 348.6L468.8 348.3L468.85 348.6L468.9 348.5L468.95 348.6L469 348.1L469.05 348.6L469.1 348.3L469.15 348.7L469.2 348.4L469.25 348.7L469.3 348.4L469.35 348.6L469.4 348.3L469.45 348.7L469.5 348.5L469.55 348.7L469.6 348.4L469.65 348.7L469.7 348.4L469.75 348.6L469.8 348.5L469.85 348.7L469.9 348.3L469.95 348.7L470 348.5L470.05 348.7L470.1 348.4L470.15 348.7L470.2 348.4L470.25 348.7L470.3 348.5L470.35 348.6L470.4 348.4L470.45 348.7L470.5 348.3L470.55 348.6L470.6 348.4L470.65 348.6L470.7 348.2L470.75 348.7L470.8 348.3L470.85 348.6L470.9 348.1L470.95 348.6L471 348.4L471.05 348.7L471.1 348.5L471.15 348.7L471.2 348.4L471.25 348.6L471.3 348.5L471.35 348.7L471.4 348.4L471.45 348.7L471.5 348.4L471.55 348.6L471.6 348.4L471.65 348.7L471.7 348.5L471.75 348.7L471.8 348.4L471.85 348.7L471.9 348.5L471.95 348.7L472 348.4L472.05 348.7L472.1 348.5L472.15 348.7L472.2 348.5L472.25 348.7L472.3 348.4L472.35 348.7L472.4 348.4L472.45 348.7L472.5 348.4L472.55 348.7L472.6 348.4L472.65 348.7L472.7 348.5L472.75 348.7L472.8 348.5L472.85 348.7L472.9 348.4L472.95 348.7L473 348.3L473.05 348.6L473.1 348.4L473.15 348.7L473.2 348.2L473.25 348.7L473.3 348.4L473.35 348.6L473.4 348.4L473.45 348.7L473.5 348.4L473.55 348.6L473.6 348.5L473.65 348.7L473.7 348.4L473.75 348.6L473.8 348.5L473.85 348.7L473.9 348.5L473.95 348.7L474 348.5L474.05 348.7L474.1 348.4L474.15 348.7L474.2 348.5L474.25 348.7L474.3 348.4L474.35 348.7L474.4 348.5L474.45 348.6L474.5 348.5L474.55 348.6L474.6 348.5L474.65 348.6L474.7 348.4L474.75 348.7L474.8 348.4L474.85 348.7L474.9 348.5L474.95 348.7L475 348.4L475.05 348.7L475.1 348.5L475.15 348.6L475.2 348.3L475.25 348.7L475.3 348.4L475.35 348.6L475.4 348.5L475.45 348.7L475.5 348.4L475.55 348.6L475.6 348.4L475.65 348.7L475.7 348.4L475.75 348.7L475.8 348.5L475.85 348.7L475.9 348.5L475.95 348.7L476 348.5L476.05 348.7L476.1 348.4L476.15 348.6L476.2 348.3L476.25 348.7L476.3 348.4L476.35 348.7L476.4 348.5L476.45 348.7L476.5 348.4L476.55 348.7L476.6 348.5L476.65 348.7L476.7 348.3L476.75 348.6L476.8 348.5L476.85 348.6L476.9 348.4L476.95 348.7L477 348.5L477.05 348.6L477.1 348.5L477.15 348.7L477.2 348.5L477.25 348.6L477.3 348.5L477.35 348.6L477.4 348.5L477.45 348.7L477.5 348.4L477.55 348.6L477.6 348.3L477.65 348.6L477.7 348.3L477.75 348.7L477.8 348.4L477.85 348.7L477.9 348.5L477.95 348.6L478 348.5L478.05 348.7L478.1 348.5L478.15 348.7L478.2 348.4L478.25 348.6L478.3 348.5L478.35 348.6L478.4 348.5L478.45 348.6L478.5 348.5L478.55 348.6L478.6 348.4L478.65 348.7L478.7 348.5L478.75 348.7L478.8 348.5L478.85 348.6L478.9 348.5L478.95 348.6L479 348.4L479.05 348.6L479.1 348.6L479.15 348.7L479.2 348.4L479.25 348.7L479.3 348.4L479.35 348.7L479.4 348.4L479.45 348.7L479.5 348.2L479.55 348.6L479.6 348.5L479.65 348.6L479.7 348.4L479.75 348.7L479.8 348.3L479.85 348.6L479.9 348.5L479.95 348.7L480 348.4L480.05 348.7L480.1 348.5L480.15 348.7L480.2 348.5L480.25 348.6L480.3 348.4L480.35 348.7L480.4 348.5L480.45 348.7L480.5 348.4L480.55 348.6L480.6 348.5L480.65 348.6L480.7 348.5L480.75 348.6L480.8 348.4L480.85 348.6L480.9 348.4L480.95 348.7L481 348.5L481.05 348.7L481.1 348.5L481.15 348.7L481.2 348.5L481.25 348.7L481.3 348.5L481.35 348.7L481.4 348.5L481.45 348.7L481.5 348.2L481.55 348.7L481.6 348.4L481.65 348.7L481.7 348.4L481.75 348.7L481.8 348.5L481.85 348.7L481.9 348.4L481.95 348.6L482 348.4L482.05 348.7L482.1 348.3L482.15 348.6L482.2 348.5L482.25 348.6L482.3 348.5L482.35 348.7L482.4 348.4L482.45 348.6L482.5 348.5L482.55 348.6L482.6 348.4L482.65 348.7L482.7 348.3L482.75 348.7L482.8 348.6L482.85 348.6L482.9 348.5L482.95 348.7L483 348.5L483.05 348.6L483.1 348.5L483.15 348.7L483.2 348.5L483.25 348.6L483.3 348.5L483.35 348.7L483.4 348.4L483.45 348.7L483.5 348.5L483.55 348.7L483.6 348.5L483.65 348.6L483.7 348.5L483.75 348.6L483.8 348.5L483.85 348.6L483.9 348.5L483.95 348.6L484 348.5L484.05 348.7L484.1 348.3L484.15 348.7L484.2 348.5L484.25 348.7L484.3 348.4L484.35 348.7L484.4 348.5L484.45 348.7L484.5 348.5L484.55 348.6L484.6 348.3L484.65 348.6L484.7 348.5L484.75 348.7L484.8 348.3L484.85 348.7L484.9 348.5L484.95 348.7L485 348.5L485.05 348.6L485.1 348.4L485.15 348.6L485.2 348.5L485.25 348.7L485.3 348.5L485.35 348.7L485.4 348.6L485.45 348.7L485.5 348.5L485.55 348.7L485.6 348.5L485.65 348.7L485.7 348.4L485.75 348.7L485.8 348.5L485.85 348.7L485.9 348.5L485.95 348.7L486 348.4L486.05 348.7L486.1 348.5L486.15 348.7L486.2 348.5L486.25 348.7L486.3 348.5L486.35 348.7L486.4 348.5L486.45 348.7L486.5 348.4L486.55 348.6L486.6 348.4L486.65 348.7L486.7 348.5L486.75 348.7L486.8 348.3L486.85 348.7L486.9 348.5L486.95 348.6L487 348.5L487.05 348.6L487.1 348.4L487.15 348.7L487.2 348.4L487.25 348.7L487.3 348.5L487.35 348.7L487.4 348.4L487.45 348.7L487.5 348.5L487.55 348.7L487.6 348.5L487.65 348.7L487.7 348.6L487.75 348.7L487.8 348.5L487.85 348.7L487.9 348.5L487.95 348.7L488 348.3L488.05 348.7L488.1 348.5L488.15 348.6L488.2 348.5L488.25 348.6L488.3 348.5L488.35 348.7L488.4 348.5L488.45 348.6L488.5 348.4L488.55 348.7L488.6 348.5L488.65 348.6L488.7 348.4L488.75 348.6L488.8 348.3L488.85 348.7L488.9 348.4L488.95 348.7L489 348.5L489.05 348.7L489.1 348.6L489.15 348.7L489.2 348.3L489.25 348.7L489.3 348.4L489.35 348.7L489.4 348.6L489.45 348.7L489.5 348.5L489.55 348.7L489.6 348.5L489.65 348.7L489.7 348.5L489.75 348.7L489.8 348.5L489.85 348.7L489.9 348.6L489.95 348.7L490 348.5L490.05 348.7L490.1 348.5L490.15 348.7L490.2 348.5L490.25 348.7L490.3 348.4L490.35 348.7L490.4 348.4L490.45 348.7L490.5 348.5L490.55 348.7L490.6 348.6L490.65 348.7L490.7 348.5L490.75 348.7L490.8 348.5L490.85 348.7L490.9 348.5L490.95 348.7L491 348.5L491.05 348.7L491.1 348.3L491.15 348.7L491.2 348.5L491.25 348.7L491.3 348.5L491.35 348.7L491.4 348.5L491.45 348.7L491.5 348.5L491.55 348.7L491.6 348.6L491.65 348.7L491.7 348.5L491.75 348.7L491.8 348.5L491.85 348.7L491.9 348.5L491.95 348.7L492 348.5L492.05 348.7L492.1 348.5L492.15 348.7L492.2 348.5L492.25 348.7L492.3 348.5L492.35 348.7L492.4 348.5L492.45 348.7L492.5 348.5L492.55 348.7L492.6 348.5L492.65 348.7L492.7 348.5L492.75 348.7L492.8 348.6L492.85 348.7L492.9 348.5L492.95 348.7L493 348.5L493.05 348.7L493.1 348.3L493.15 348.7L493.2 348.4L493.25 348.6L493.3 348.5L493.35 348.7L493.4 348.5L493.45 348.7L493.5 348.4L493.55 348.7L493.6 348.5L493.65 348.7L493.7 348.5L493.75 348.7L493.8 348.5L493.85 348.7L493.9 348.5L493.95 348.7L494.05 348.6L494.1 348.5L494.15 348.7L494.25 348.6L494.3 348.4L494.35 348.7L494.4 348.4L494.45 348.7L494.5 348.5L494.55 348.7L494.6 348.4L494.65 348.7L494.7 348.6L494.75 348.7L494.8 348.6L494.85 348.7L494.9 348.4L494.95 348.7L495 348.5L495.05 348.7L495.1 348.4L495.15 348.7L495.2 348.4L495.25 348.6L495.3 348.4L495.35 348.6L495.4 348.4L495.45 348.7L495.5 348.5L495.55 348.7L495.65 348.6L495.7 348.5L495.75 348.7L495.8 348.4L495.85 348.7L495.95 348.6L496 348.5L496.05 348.7L496.1 348.6L496.15 348.6L496.2 348.5L496.25 348.7L496.3 348.5L496.35 348.7L496.45 348.7L496.5 348.5L496.55 348.7L496.6 348.5L496.65 348.7L496.7 348.5L496.75 348.7L496.8 348.5L496.85 348.6L496.9 348.6L496.95 348.7L497 348.5L497.05 348.7L497.1 348.6L497.15 348.7L497.2 348.5L497.25 348.7L497.3 348.5L497.35 348.7L497.4 348.4L497.45 348.7L497.5 348.3L497.55 348.7L497.6 348.5L497.65 348.7L497.7 348.5L497.75 348.7L497.8 348.4L497.85 348.7L497.95 348.7L498 348.5L498.05 348.7L498.1 348.5L498.15 348.7L498.2 348.5L498.25 348.7L498.3 348.4L498.35 348.7L498.4 348.5L498.45 348.6L498.5 348.5L498.55 348.7L498.6 348.5L498.65 348.7L498.75 348.7L498.8 348.5L498.85 348.7L498.9 348.5L498.95 348.6L499 348.5L499.05 348.7L499.1 348.6L499.15 348.7L499.2 348.5L499.25 348.7L499.3 348.5L499.35 348.6L499.4 348.6L499.45 348.7L499.5 348.5L499.55 348.6L499.6 348.5L499.65 348.7L499.7 348.5L499.75 348.7L499.8 348.5L499.85 348.7L499.9 348.5L499.95 348.7L500 348.5L500.05 348.7L500.1 348.5L500.15 348.7L500.25 348.7L500.3 348.6L500.35 348.7L500.4 348.5L500.45 348.7L500.5 348.5L500.55 348.7L500.65 348.7L500.7 348.4L500.75 348.7L500.8 348.6L500.85 348.7L500.9 348.5L500.95 348.7L501 348.5L501.05 348.7L501.1 348.5L501.15 348.7L501.2 348.5L501.25 348.7L501.3 348.5L501.35 348.7L501.4 348.5L501.45 348.7L501.5 348.4L501.55 348.7L501.6 348.5L501.65 348.7L501.7 348.5L501.75 348.7L501.8 348.4L501.85 348.7L501.9 348.4L501.95 348.7L502 348.5L502.05 348.7L502.1 348.5L502.15 348.6L502.2 348.5L502.25 348.7L502.3 348.5L502.35 348.7L502.4 348.5L502.45 348.7L502.5 348.6L502.55 348.7L502.6 348.6L502.65 348.7L502.7 348.5L502.75 348.6L502.8 348.4L502.85 348.7L502.9 348.6L502.95 348.7L503 348.5L503.05 348.7L503.1 348.5L503.15 348.7L503.2 348.6L503.25 348.7L503.3 348.5L503.35 348.6L503.45 348.7L503.5 348.5L503.55 348.7L503.6 348.5L503.65 348.7L503.7 348.6L503.75 348.7L503.8 348.6L503.85 348.7L503.9 348.5L503.95 348.7L504 348.5L504.05 348.7L504.1 348.4L504.15 348.7L504.2 348.5L504.25 348.6L504.3 348.5L504.35 348.6L504.4 348.4L504.45 348.7L504.5 348.5L504.55 348.7L504.6 348.5L504.65 348.7L504.75 348.7L504.8 348.5L504.85 348.7L504.9 348.5L504.95 348.7L505.05 348.7L505.1 348.5L505.15 348.7L505.25 348.7L505.3 348.6L505.35 348.7L505.4 348.5L505.45 348.7L505.5 348.5L505.55 348.7L505.6 348.5L505.65 348.7L505.7 348.6L505.75 348.7L505.85 348.6L505.9 348.6L505.95 348.7L506 348.5L506.05 348.7L506.1 348.5L506.15 348.7L506.2 348.5L506.25 348.7L506.3 348.5L506.35 348.6L506.4 348.5L506.45 348.7L506.5 348.4L506.55 348.7L506.6 348.5L506.65 348.7L506.7 348.5L506.75 348.7L506.8 348.5L506.85 348.7L506.95 348.7L507 348.5L507.05 348.7L507.15 348.7L507.2 348.5L507.25 348.7L507.3 348.5L507.35 348.7L507.4 348.5L507.45 348.7L507.55 348.7L507.6 348.4L507.65 348.7L507.7 348.5L507.75 348.7L507.8 348.5L507.85 348.7L507.9 348.5L507.95 348.7L508 348.6L508.05 348.7L508.1 348.6L508.15 348.7L508.2 348.5L508.25 348.7L508.3 348.5L508.35 348.7L508.4 348.6L508.45 348.7L508.5 348.6L508.55 348.7L508.6 348.5L508.65 348.7L508.7 348.5L508.75 348.6L508.8 348.4L508.85 348.6L508.9 348.5L508.95 348.7L509 348.5L509.05 348.6L509.1 348.6L509.15 348.7L509.2 348.5L509.25 348.7L509.3 348.5L509.35 348.7L509.45 348.7L509.5 348.5L509.55 348.7L509.6 348.6L509.65 348.7L509.7 348.5L509.75 348.7L509.8 348.5L509.85 348.7L509.9 348.5L509.95 348.7L510.05 348.7L510.1 348.5L510.15 348.6L510.2 348.5L510.25 348.7L510.3 348.5L510.35 348.7L510.4 348.5L510.45 348.7L510.5 348.6L510.55 348.7L510.6 348.5L510.65 348.7L510.7 348.4L510.75 348.7L510.8 348.6L510.85 348.7L510.9 348.4L510.95 348.6L511 348.5L511.05 348.7L511.1 348.5L511.15 348.7L511.2 348.5L511.25 348.7L511.35 348.7L511.4 348.6L511.45 348.7L511.5 348.5L511.55 348.7L511.6 348.5L511.65 348.7L511.7 348.6L511.75 348.7L511.8 348.5L511.85 348.7L511.9 348.5L511.95 348.7L512 348.6L512.05 348.7L512.1 348.5L512.15 348.7L512.2 348.5L512.25 348.7L512.3 348.5L512.35 348.7L512.4 348.6L512.45 348.7L512.5 348.5L512.55 348.7L512.6 348.6L512.65 348.7L512.75 348.7L512.8 348.6L512.85 348.7L512.9 348.5L512.95 348.6L513 348.5L513.05 348.7L513.1 348.5L513.15 348.7L513.2 348.4L513.25 348.7L513.3 348.5L513.35 348.7L513.4 348.5L513.45 348.6L513.5 348.6L513.55 348.7L513.6 348.5L513.65 348.7L513.75 348.7L513.8 348.5L513.85 348.7L513.9 348.5L513.95 348.7L514 348.6L514.05 348.7L514.1 348.6L514.15 348.7L514.2 348.5L514.25 348.7L514.3 348.5L514.35 348.7L514.4 348.6L514.45 348.7L514.5 348.6L514.55 348.7L514.6 348.6L514.65 348.7L514.75 348.7L514.8 348.5L514.85 348.7L514.9 348.6L514.95 348.7L515 348.5L515.05 348.7L515.1 348.6L515.15 348.7L515.2 348.5L515.25 348.7L515.3 348.5L515.35 348.7L515.4 348.4L515.45 348.7L515.5 348.5L515.55 348.7L515.6 348.6L515.65 348.7L515.7 348.5L515.75 348.7L515.8 348.6L515.85 348.7L515.95 348.7L516 348.6L516.05 348.7L516.1 348.6L516.15 348.7L516.2 348.5L516.25 348.7L516.45 348.7L516.5 348.5L516.55 348.7L516.6 348.5L516.65 348.7L516.7 348.5L516.75 348.7L516.85 348.7L516.9 348.5L516.95 348.7L517 348.5L517.05 348.7L517.15 348.6L517.2 348.6L517.25 348.7L517.35 348.7L517.4 348.5L517.45 348.7L517.5 348.5L517.55 348.7L517.6 348.5L517.65 348.7L517.7 348.5L517.75 348.7L517.8 348.5L517.85 348.7L517.9 348.5L517.95 348.7L518 348.5L518.05 348.7L518.1 348.5L518.15 348.7L518.2 348.5L518.25 348.7L518.3 348.6L518.35 348.7L518.45 348.7L518.5 348.5L518.55 348.7L518.65 348.7L518.7 348.6L518.75 348.6L519.05 348.7L519.1 348.5L519.15 348.7L519.2 348.6L519.25 348.6L519.3 348.6L519.35 348.6L519.4 348.6L519.45 348.7L519.5 348.6L519.55 348.7L519.6 348.5L519.65 348.6L519.7 348.4L519.75 348.7L519.8 348.5L519.85 348.7L519.9 348.4L519.95 348.7L520 348.6L520.05 348.7L520.1 348.5L520.15 348.7L520.2 348.6L520.25 348.7L520.3 348.5L520.35 348.7L520.4 348.5L520.45 348.7L520.5 348.5L520.55 348.7L520.6 348.6L520.65 348.7L520.7 348.6L520.75 348.7L520.8 348.5L520.85 348.7L520.95 348.7L521 348.6L521.05 348.7L521.25 348.7L521.3 348.5L521.35 348.7L521.4 348.6L521.45 348.7L521.5 348.6L521.55 348.7L521.65 348.7L521.7 348.6L521.75 348.7L521.8 348.6L521.85 348.7L521.95 348.7L522 348.4L522.05 348.6L522.1 348.5L522.15 348.7L522.25 348.7L522.3 348.5L522.35 348.7L522.4 348.5L522.45 348.7L522.5 348.5L522.55 348.7L522.65 348.7L522.7 348.6L522.75 348.7L522.8 348.6L522.85 348.7L522.9 348.6L522.95 348.7L523 348.6L523.05 348.7L523.1 348.5L523.15 348.7L523.35 348.7L523.4 348.5L523.45 348.7L523.5 348.5L523.55 348.7L523.6 348.5L523.65 348.7L523.75 348.7L523.8 348.6L523.85 348.7L524.05 348.7L524.1 348.6L524.15 348.7L524.2 348.6L524.25 348.7L524.3 348.5L524.35 348.7L524.55 348.7L524.6 348.5L524.65 348.7L524.7 348.6L524.75 348.7L524.95 348.7L525 348.6L525.05 348.7L525.1 348.5L525.15 348.7L525.2 348.5L525.25 348.7L525.3 348.6L525.35 348.7L525.45 348.7L525.5 348.5L525.55 348.7L525.85 348.7L525.9 348.5L525.95 348.7L526 348.5L526.05 348.7L526.15 348.7L526.2 348.6L526.25 348.7L526.35 348.7L526.4 348.5L526.45 348.7L526.5 348.5L526.55 348.7L526.6 348.6L526.65 348.7L526.7 348.5L526.75 348.7L526.8 348.5L526.85 348.7L526.9 348.6L526.95 348.7L527 348.6L527.05 348.7L527.35 348.7L527.4 348.5L527.45 348.7L527.5 348.6L527.55 348.7L527.6 348.6L527.65 348.6L527.7 348.5L527.75 348.7L527.95 348.7L528 348.5L528.05 348.7L528.1 348.5L528.15 348.7L528.2 348.6L528.25 348.7L528.3 348.6L528.35 348.7L528.55 348.7L528.6 348.5L528.65 348.7L528.7 348.5L528.75 348.6L528.8 348.5L528.85 348.7L528.95 348.7L529 348.5L529.05 348.7L529.1 348.5L529.15 348.7L529.55 348.7L529.6 348.6L529.65 348.7L529.85 348.7L529.9 348.6L529.95 348.7L530 348.5L530.05 348.7L530.15 348.7L530.2 348.6L530.25 348.7L530.3 348.5L530.35 348.7L530.4 348.5L530.45 348.7L530.5 348.5L530.55 348.7L530.6 348.6L530.65 348.7L530.7 348.5L530.75 348.7L530.8 348.5L530.85 348.7L530.9 348.5L530.95 348.7L531 348.5L531.05 348.7L531.1 348.6L531.15 348.7L531.2 348.6L531.25 348.7L531.3 348.6L531.35 348.7L531.45 348.7L531.5 348.6" fill="none" stroke="#0072BD" stroke-width="0.6" stroke-linejoin="round"/>
<rect x="344" y="305.7" width="187.5" height="43" fill="none" stroke="#5a5a5a" stroke-width="0.55"/>
<path d="M344 348.7v-1.88M344 305.7v1.88M381.5 348.7v-1.88M381.5 305.7v1.88M419 348.7v-1.88M419 305.7v1.88M456.5 348.7v-1.88M456.5 305.7v1.88M494 348.7v-1.88M494 305.7v1.88M531.5 348.7v-1.88M531.5 305.7v1.88M344 348.7h1.88M531.5 348.7h-1.88M344 327.2h1.88M531.5 327.2h-1.88M344 305.7h1.88M531.5 305.7h-1.88" stroke="#5a5a5a" stroke-width="0.55" fill="none"/>
<g class="tk" font-size="4.65" fill="#1c1c1c">
<text x="344" y="354.75" text-anchor="middle">0</text>
<text x="381.5" y="354.75" text-anchor="middle">500</text>
<text x="419" y="354.75" text-anchor="middle">1000</text>
<text x="456.5" y="354.75" text-anchor="middle">1500</text>
<text x="494" y="354.75" text-anchor="middle">2000</text>
<text x="531.5" y="354.75" text-anchor="middle">2500</text>
<text x="343.3" y="350.37" text-anchor="end">0</text>
<text x="343.3" y="328.87" text-anchor="end">0.1</text>
<text x="343.3" y="307.37" text-anchor="end">0.2</text>
</g>
<text x="437.75" y="364.5" text-anchor="middle" font-size="8.29" fill="#1c1c1c">Frequency(Hz)</text>
<text transform="translate(320.72 328.8) rotate(-90)" text-anchor="middle" font-size="7.84" fill="#1c1c1c">IMF2</text>
<text transform="translate(333.62 327.2) rotate(-90)" text-anchor="middle" font-size="7.84" fill="#1c1c1c">Acceleration(mm/s<tspan dy="-2.98" font-size="5.64">2</tspan><tspan dy="2.98">)</tspan></text>
</g>
<g id="imf3-freq">
<path d="M350.3 421.1L350.35 423L350.39 422L350.44 423.4L350.49 421.9L350.54 423.2L350.58 422.6L350.63 423.3L350.68 422L350.72 423.4L350.77 422.1L350.82 423.5L350.87 421.8L350.91 423.4L350.96 421.4L351.01 423.2L351.05 422.3L351.1 423L351.15 422.1L351.2 423.2L351.24 421.7L351.29 423.4L351.34 422.3L351.38 423.5L351.43 421.6L351.48 423.4L351.53 422.1L351.57 423.3L351.62 421L351.67 423.3L351.71 421.7L351.76 423.2L351.81 422.2L351.85 423.2L351.9 421.5L351.95 423.5L352 421.6L352.04 423.1L352.09 421.5L352.14 423.2L352.18 421.7L352.23 422.8L352.28 421.1L352.33 423L352.37 420.5L352.42 423.3L352.47 421.9L352.51 423.1L352.56 421.1L352.61 423.2L352.66 421.4L352.7 422.9L352.75 421.3L352.8 423.4L352.84 421.8L352.89 423.5L352.94 421.8L352.99 423.2L353.03 421.6L353.08 423.1L353.13 421.1L353.17 423L353.22 421L353.27 423.5L353.32 421.6L353.36 423.4L353.41 422.4L353.46 423L353.5 421.2L353.55 422.9L353.6 421.3L353.65 423.2L353.69 421.5L353.74 422.9L353.79 420.9L353.83 423.4L353.88 422L353.93 423.1L353.98 421.5L354.02 423.5L354.07 421.3L354.12 423.4L354.16 420.6L354.21 423.4L354.26 421.7L354.31 422.8L354.35 419.8L354.4 422.8L354.45 421.3L354.49 423.2L354.54 421L354.59 422.9L354.64 419.6L354.68 423.2L354.73 420.4L354.78 422.9L354.82 421.4L354.87 423.2L354.92 421.9L354.96 422.9L355.01 420.1L355.06 423L355.11 421L355.15 422.9L355.2 422L355.25 423.4L355.29 421.2L355.34 423.4L355.39 420.3L355.44 422.6L355.48 420.3L355.53 422.9L355.58 420.8L355.62 422.8L355.67 421L355.72 423.1L355.77 421.4L355.81 423.1L355.86 419.8L355.91 423L355.95 421L356 423.4L356.05 421.1L356.1 423.1L356.14 421.4L356.19 423.4L356.24 420.5L356.28 422.7L356.33 419.6L356.38 422.7L356.43 420L356.47 423.3L356.52 419.7L356.57 422.8L356.61 419.8L356.66 422.7L356.71 417.3L356.76 422.9L356.8 419.3L356.85 423.3L356.9 420.2L356.94 422.8L356.99 421.4L357.04 423.4L357.09 421.7L357.13 423.2L357.18 421.5L357.23 423.3L357.27 421.3L357.32 423.4L357.37 420.8L357.42 422.9L357.46 420.5L357.51 422.7L357.56 420.5L357.6 423.4L357.65 420.6L357.7 423.1L357.74 420.5L357.79 423.3L357.84 420.3L357.89 423.2L357.93 420.2L357.98 423.4L358.03 420.7L358.07 422.9L358.12 420.3L358.17 423.2L358.22 420.8L358.26 422.8L358.31 420.3L358.36 422.7L358.4 420.2L358.45 423.1L358.5 418.3L358.55 423.4L358.59 419.9L358.64 422.6L358.69 419.5L358.73 423L358.78 418.1L358.83 422.1L358.88 418.9L358.92 422.6L358.97 417.9L359.02 423.2L359.06 419.2L359.11 422.7L359.16 420.5L359.21 422.7L359.25 420.1L359.3 422.5L359.35 420.2L359.39 422.7L359.44 420.8L359.49 422.1L359.54 419.2L359.58 423.5L359.63 419.7L359.68 423.3L359.72 418.7L359.77 423.1L359.82 420L359.87 423L359.91 418.9L359.96 423.3L360.01 420.1L360.05 423.1L360.1 420.9L360.15 422.7L360.2 419L360.24 423.1L360.29 420.4L360.34 423.2L360.38 420.4L360.43 422.9L360.48 418.1L360.53 422.3L360.57 418L360.62 422.1L360.67 419.2L360.71 422.8L360.76 418.4L360.81 422.2L360.85 418.1L360.9 423.3L360.95 420.5L361 422.5L361.04 419.2L361.09 423.2L361.14 419.1L361.18 422.7L361.23 419.9L361.28 422.5L361.33 420.2L361.37 421.8L361.42 419.9L361.47 422.6L361.51 417.5L361.56 423.4L361.61 416.5L361.66 423.4L361.7 420.2L361.75 423.2L361.8 419.7L361.84 423.5L361.89 417.3L361.94 423.3L361.99 420.6L362.03 422.7L362.08 418.9L362.13 422.8L362.17 419.8L362.22 422.1L362.27 420.4L362.32 422.5L362.36 420.5L362.41 422.3L362.46 420.9L362.5 422.9L362.55 418.9L362.6 422.7L362.65 420.2L362.69 422.8L362.74 419.7L362.79 421.2L362.83 416.9L362.88 422.8L362.93 417.8L362.98 423.4L363.02 416.2L363.07 423.4L363.12 417.4L363.16 421.9L363.21 417.8L363.26 422.5L363.31 418.8L363.35 422.5L363.4 416.5L363.45 421.9L363.49 417.9L363.54 423L363.59 419.1L363.63 423.1L363.68 417.6L363.73 421.5L363.78 417.6L363.82 423.1L363.87 418.5L363.92 423.2L363.96 416.9L364.01 421.7L364.06 419L364.11 423.2L364.15 418.6L364.2 422.8L364.25 418.9L364.29 423L364.34 419.1L364.39 422L364.44 418.2L364.48 423.5L364.53 417.1L364.58 423.2L364.62 417.9L364.67 422.9L364.72 418.2L364.77 422L364.81 417.9L364.86 421.5L364.91 414L364.95 422.1L365 415.8L365.05 422.7L365.1 413.2L365.14 422.1L365.19 418.2L365.24 422L365.28 415.9L365.33 422.4L365.38 418.3L365.43 422.6L365.47 418.7L365.52 422.1L365.57 415.8L365.61 422.3L365.66 417.8L365.71 422.3L365.76 419.5L365.8 421.8L365.85 414.5L365.9 422.9L365.94 413.5L365.99 421.4L366.04 415.9L366.09 422.7L366.13 412.7L366.18 422L366.23 417.4L366.27 422.3L366.32 417.3L366.37 422L366.42 414.2L366.46 421.6L366.51 412.4L366.56 422.3L366.6 413.1L366.65 422.5L366.7 414.7L366.74 423.2L366.79 417.4L366.84 422.9L366.89 413.6L366.93 421.5L366.98 412.6L367.03 422.6L367.07 410.8L367.12 422.1L367.17 411.9L367.22 420.9L367.26 410.6L367.31 421.6L367.36 416.4L367.4 421.4L367.45 415.8L367.5 422.4L367.55 415.7L367.59 422.5L367.64 411.7L367.69 421.7L367.73 415.6L367.78 421.8L367.83 412.1L367.88 421.2L367.92 411.3L367.97 421.8L368.02 413.5L368.06 422.4L368.11 413.4L368.16 422.9L368.21 417.3L368.25 423.2L368.3 418.1L368.35 422.2L368.39 416.4L368.44 421.4L368.49 412.6L368.54 421.5L368.58 410.2L368.63 421.7L368.68 416.2L368.72 423.2L368.77 417.1L368.82 422L368.87 412L368.91 421.1L368.96 411.7L369.01 422.5L369.05 408.6L369.1 420.6L369.15 409.7L369.2 422.1L369.24 411.6L369.29 423.5L369.34 408.3L369.38 423.1L369.43 408.4L369.48 422.8L369.52 412.9L369.57 421L369.62 412L369.67 419.5L369.71 416L369.76 422.1L369.81 414.6L369.85 421.1L369.9 409.6L369.95 421.8L370 410.6L370.04 423.3L370.09 417.2L370.14 421.1L370.18 409.7L370.23 421.3L370.28 414.8L370.33 421.1L370.37 409.5L370.42 418.5L370.47 408.3L370.51 420.7L370.56 411.8L370.61 423.4L370.66 415.1L370.7 423.1L370.75 412.2L370.8 420.5L370.84 410.7L370.89 421.5L370.94 416.3L370.99 423.3L371.03 413.4L371.08 418.8L371.13 403.2L371.17 422.3L371.22 396.6L371.27 420.6L371.32 397.6L371.36 422.5L371.41 406.9L371.46 422.8L371.5 411.1L371.55 422.4L371.6 413.7L371.65 420.9L371.69 412L371.74 422.7L371.79 409.4L371.83 420.6L371.88 408.4L371.93 420.7L371.98 400.2L372.02 422.6L372.07 405.9L372.12 421.5L372.16 411.3L372.21 423.4L372.26 405.8L372.31 422.6L372.35 407.1L372.4 420.4L372.45 406.2L372.49 423.2L372.54 410.4L372.59 421.8L372.63 409.9L372.68 423.3L372.73 405.7L372.78 419.7L372.82 406.8L372.87 422.5L372.92 392.5L372.96 420.7L373.01 404.4L373.06 421.7L373.11 410.9L373.15 420.9L373.2 399.5L373.25 414.5L373.29 397.1L373.34 422.7L373.39 406.5L373.44 418.7L373.48 390.3L373.53 418.1L373.58 397.7L373.62 423.4L373.67 409L373.72 421.6L373.77 410.7L373.81 419L373.86 402.6L373.91 421.4L373.95 409.4L374 419.4L374.05 401.4L374.1 418.2L374.14 403.1L374.19 418L374.24 401.9L374.28 420.6L374.33 409.7L374.38 418.9L374.43 403.3L374.47 421.7L374.52 392.5L374.57 419.5L374.61 407.6L374.66 420.4L374.71 403.4L374.76 421.8L374.8 401.2L374.85 422.7L374.9 393.8L374.94 418.1L374.99 402L375.04 420.9L375.09 400.7L375.13 421.1L375.18 404.3L375.23 423.2L375.27 401.3L375.32 418.2L375.37 398.4L375.41 420.8L375.46 398.6L375.51 416.4L375.56 395.4L375.6 418.4L375.65 403.8L375.7 418.5L375.74 405.2L375.79 421.6L375.84 397.7L375.89 419.8L375.93 401.5L375.98 419.4L376.03 397.3L376.07 419.1L376.12 406.7L376.17 420L376.22 401.7L376.26 419.3L376.31 400.3L376.36 422.9L376.4 403.1L376.45 419.6L376.5 411.6L376.55 420.7L376.59 410.7L376.64 421.8L376.69 402.5L376.73 422.9L376.78 401.3L376.83 422.5L376.88 404.7L376.92 418.8L376.97 409.9L377.02 419.6L377.06 410.6L377.11 423.5L377.16 396.1L377.21 422.2L377.25 408.1L377.3 422.1L377.35 400.1L377.39 419.1L377.44 384.1L377.49 417.1L377.54 395.7L377.58 419.4L377.63 388.5L377.68 417.5L377.72 401.5L377.77 422.5L377.82 407L377.87 420.6L377.91 405.4L377.96 419.2L378.01 403.9L378.05 420.6L378.1 403.2L378.15 420.1L378.2 407.7L378.24 418.4L378.29 407.4L378.34 423.1L378.38 408.3L378.43 420.7L378.48 409.6L378.52 419L378.57 407.1L378.62 421.4L378.67 401.1L378.71 422.1L378.76 410.9L378.81 423.3L378.85 412.3L378.9 421.9L378.95 401.4L379 418.8L379.04 411.6L379.09 420.7L379.14 405.6L379.18 421.8L379.23 408.2L379.28 423L379.33 406.7L379.37 422.3L379.42 411.2L379.47 421.3L379.51 412.1L379.56 422.4L379.61 399.1L379.66 415.1L379.7 396L379.75 420.8L379.8 409.9L379.84 420.4L379.89 399.9L379.94 423.3L379.99 404.1L380.03 421.1L380.08 406.8L380.13 420.8L380.17 411L380.22 421.2L380.27 409.7L380.32 418.9L380.36 404.4L380.41 419.5L380.46 410.1L380.5 420.5L380.55 410.6L380.6 419.8L380.65 400.8L380.69 422.7L380.74 409.8L380.79 421.4L380.83 408.1L380.88 422.2L380.93 405.7L380.98 423.3L381.02 408L381.07 419.5L381.12 411.9L381.16 418.1L381.21 407.4L381.26 420.6L381.3 403L381.35 421.5L381.4 398.6L381.45 420.3L381.49 408.3L381.54 420.1L381.59 398.2L381.63 420.6L381.68 395.4L381.73 423.2L381.78 394.1L381.82 418.8L381.87 404L381.92 422.6L381.96 412.1L382.01 421.5L382.06 401.5L382.11 422.4L382.15 411.7L382.2 420.4L382.25 413.5L382.29 418.1L382.34 411.8L382.39 421.3L382.44 407.5L382.48 421.1L382.53 407.1L382.58 420.5L382.62 412.4L382.67 422.7L382.72 411.2L382.77 423.1L382.81 411.7L382.86 422.3L382.91 409.7L382.95 421.9L383 414.4L383.05 420.1L383.1 412.3L383.14 419.8L383.19 412.2L383.24 420L383.28 410.8L383.33 422.6L383.38 413.3L383.43 423.4L383.47 406.7L383.52 420.5L383.57 405.1L383.61 421.8L383.66 407.1L383.71 420.5L383.76 405.4L383.8 418.2L383.85 409.7L383.9 422.7L383.94 407.5L383.99 422.5L384.04 409.5L384.09 422.5L384.13 404.2L384.18 421.7L384.23 408.5L384.27 423.4L384.32 415L384.37 421.8L384.41 413.8L384.46 422.7L384.51 412.9L384.56 419.2L384.6 413.8L384.65 422.6L384.7 409.4L384.74 421.2L384.79 414.7L384.84 423.1L384.89 414.4L384.93 422.9L384.98 412.7L385.03 422.3L385.07 415.3L385.12 421.4L385.17 413.7L385.22 421.4L385.26 414.1L385.31 421.9L385.36 409.9L385.4 423.1L385.45 411.4L385.5 421L385.55 412.2L385.59 422L385.64 413.5L385.69 423.1L385.73 409.6L385.78 422.6L385.83 413.8L385.88 423L385.92 411L385.97 423.4L386.02 414.6L386.06 423L386.11 411.2L386.16 421.7L386.21 410.9L386.25 422.6L386.3 416.5L386.35 422.1L386.39 410.2L386.44 420.5L386.49 408.6L386.54 422.1L386.58 415.5L386.63 422.6L386.68 416.1L386.72 421.6L386.77 416.6L386.82 421.6L386.87 412.5L386.91 423.1L386.96 417L387.01 422L387.05 414.7L387.1 421.4L387.15 412.8L387.19 423.2L387.24 409L387.29 422.7L387.34 414.3L387.38 423.4L387.43 410.9L387.48 421.7L387.52 411.6L387.57 423.4L387.62 416.4L387.67 422.9L387.71 414.9L387.76 422.3L387.81 414.2L387.85 422.3L387.9 415.3L387.95 422.3L388 414.7L388.04 420.9L388.09 412.7L388.14 423.1L388.18 412.7L388.23 422.2L388.28 417.5L388.33 421.5L388.37 417L388.42 423.1L388.47 417.3L388.51 423.1L388.56 415.6L388.61 422.4L388.66 415.9L388.7 422.1L388.75 416.2L388.8 422.7L388.84 416L388.89 421.2L388.94 417.8L388.99 422.3L389.03 418.5L389.08 422.6L389.13 415.8L389.17 422.1L389.22 417.4L389.27 422.6L389.32 415.8L389.36 421.7L389.41 416.2L389.46 423L389.5 417.7L389.55 423.3L389.6 416.2L389.65 422.7L389.69 418.4L389.74 422.6L389.79 416.5L389.83 423.1L389.88 417.3L389.93 422.8L389.98 416.6L390.02 422L390.07 416L390.12 423.1L390.16 416.3L390.21 422.1L390.26 414.1L390.3 423.3L390.35 415.7L390.4 423.1L390.45 419L390.49 422.7L390.54 419.3L390.59 422.8L390.63 418L390.68 423.3L390.73 418.1L390.78 422.6L390.82 415.9L390.87 422.5L390.92 417.9L390.96 422L391.01 420.3L391.06 423.2L391.11 419.8L391.15 423.4L391.2 420.6L391.25 422.6L391.29 419.9L391.34 423.1L391.39 417.3L391.44 422.6L391.48 418.8L391.53 422.7L391.58 419.3L391.62 423.3L391.67 418.4L391.72 422.8L391.77 417.7L391.81 423.2L391.86 417L391.91 423.1L391.95 419.3L392 422.8L392.05 417.5L392.1 422.2L392.14 416.9L392.19 423.2L392.24 417.3L392.28 422.1L392.33 419.5L392.38 423.3L392.43 416.5L392.47 422.3L392.52 419.3L392.57 423.2L392.61 417.7L392.66 423.3L392.71 419.9L392.76 423.2L392.8 419L392.85 422L392.9 420.7L392.94 423L392.99 418.2L393.04 423.1L393.08 420.1L393.13 422.5L393.18 418.7L393.23 423L393.27 420.6L393.32 423.4L393.37 421L393.41 422.9L393.46 420.5L393.51 423.4L393.56 418.1L393.6 423.2L393.65 420.8L393.7 423.5L393.74 419.4L393.79 423L393.84 420.6L393.89 422.9L393.93 418.9L393.98 422.5L394.03 420.7L394.07 423L394.12 418.2L394.17 423.2L394.22 420.8L394.26 422.7L394.31 416.2L394.36 423.3L394.4 420.1L394.45 422.6L394.5 419.6L394.55 422.8L394.59 418.5L394.64 422.8L394.69 420L394.73 422.8L394.78 419.5L394.83 422.9L394.88 419.5L394.92 423.1L394.97 421.4L395.02 423.2L395.06 416.9L395.11 423.4L395.16 420L395.21 423.1L395.25 420.5L395.3 422.7L395.35 421.2L395.39 423.1L395.44 419.1L395.49 423.4L395.54 418.9L395.58 422.6L395.63 419.6L395.68 422.5L395.72 421.4L395.77 423.1L395.82 420L395.87 423.4L395.91 420.9L395.96 423L396.01 420.4L396.05 422.6L396.1 421.4L396.15 423L396.19 420.2L396.24 423.4L396.29 420.6L396.34 423L396.38 419.5L396.43 422.8L396.48 419L396.52 422.5L396.57 419.8L396.62 422.9L396.67 421.1L396.71 423.4L396.76 421.5L396.81 423.1L396.85 421.3L396.9 423.2L396.95 420.3L397 423.2L397.04 418.9L397.09 423.2L397.14 421.6L397.18 423.4L397.23 421.6L397.28 422.7L397.33 420.9L397.37 422.6L397.42 420.5L397.47 423.4L397.51 421.2L397.56 422.9L397.61 421.3L397.66 422.9L397.7 420.5L397.75 423.2L397.8 421.3L397.84 422.5L397.89 420.3L397.94 423.4L397.99 420.5L398.03 423L398.08 420.7L398.13 423.3L398.17 421.2L398.22 423.1L398.27 421L398.32 423.4L398.36 421.4L398.41 423.3L398.46 420.6L398.5 422.7L398.55 421.1L398.6 423.1L398.65 420.9L398.69 423.1L398.74 420.4L398.79 423.3L398.83 420.9L398.88 423.3L398.93 421.1L398.97 423.1L399.02 421.6L399.07 423.2L399.12 420.9L399.16 423.1L399.21 420.7L399.26 423.2L399.3 421.8L399.35 423.1L399.4 421.3L399.45 422.8L399.49 421.8L399.54 423.2L399.59 421.1L399.63 423.5L399.68 422L399.73 423L399.78 421.6L399.82 423.1L399.87 421.6L399.92 423.3L399.96 421.4L400.01 423.1L400.06 421.8L400.11 423.4L400.15 421.5L400.2 423.2L400.25 422L400.29 423L400.34 422L400.39 422.9L400.44 420.5L400.48 423.4L400.53 420.4L400.58 423.1L400.62 421.5L400.67 423.1L400.72 421.9L400.77 423L400.81 421.5L400.86 423.5L400.91 421.3L400.95 422.9L401 421.8L401.05 423.5L401.1 422.1L401.14 423.3L401.19 421.4L401.24 423.4L401.28 422.1L401.33 423.2L401.38 421.8L401.43 423.1L401.47 421.4L401.52 423.2L401.57 421.9L401.61 422.8L401.66 422L401.71 423.3L401.76 422.2L401.8 423.5L401.85 422.6L401.9 423.1L401.94 421.5L401.99 423.2L402.04 422.3L402.08 423.2L402.13 422.4L402.18 423.4L402.23 421.8L402.27 423.1L402.32 422.5L402.37 423.3L402.41 422.3L402.46 423.2L402.51 421.3L402.56 423.3L402.6 421.1L402.65 423.1L402.7 421.6L402.74 423.3L402.79 421.4L402.84 423.5L402.89 421.3L402.93 423.1L402.98 422.1L403.03 423.2L403.07 422.3L403.12 423.2L403.17 422L403.22 423L403.26 421.8L403.31 423.1L403.36 421.5L403.4 423.3L403.45 421.8L403.5 423.2L403.55 422.6L403.59 423.5L403.64 422L403.69 423L403.73 422.3L403.78 423.2L403.83 422.2L403.88 423.4L403.92 422.3L403.97 423.3L404.02 421.7L404.06 423.2L404.11 422.4L404.16 423.3L404.21 422.5L404.25 423.5L404.3 422.7L404.35 423.3L404.39 422.6L404.44 423.5L404.49 421.8L404.54 423.5L404.58 422.2L404.63 423.2L404.68 421.9L404.72 423.4L404.77 422.5L404.82 423.2L404.86 421.3L404.91 423.1L404.96 421.8L405.01 423.4L405.05 422L405.1 423.5L405.15 421.8L405.19 423.4L405.24 421.5L405.29 423.3L405.34 422.2L405.38 423.5L405.43 421.5L405.48 423.3L405.52 422.5L405.57 423.2L405.62 422.6L405.67 423.5L405.71 422.7L405.76 423.3L405.81 422.3L405.85 423.4L405.9 422.8L405.95 423.4L406 422.2L406.04 423.3L406.09 422.2L406.14 423.3L406.18 422.6L406.23 423.4L406.28 422.2L406.33 423.4L406.37 422.4L406.42 423.4L406.47 422.7L406.51 423.3L406.56 422L406.61 423.4L406.66 422.4L406.7 423.3L406.75 422.7L406.8 423.3L406.84 421.8L406.89 423.3L406.94 422L406.99 423.4L407.03 422.4L407.08 423.4L407.13 422.6L407.17 423.4L407.22 422.4L407.27 423.2L407.32 422.2L407.36 423.4L407.41 422.6L407.46 423.2L407.5 422.3L407.55 423.4L407.6 422.8L407.65 423.2L407.69 422.6L407.74 423.4L407.79 422.9L407.83 423.5L407.88 422.2L407.93 423.3L407.97 422.9L408.02 423.5L408.07 422.8L408.12 423.3L408.16 422.9L408.21 423.4L408.26 422.7L408.3 423.4L408.35 422.5L408.4 423.2L408.45 422.6L408.49 423.3L408.54 422.8L408.59 423.5L408.63 422.9L408.68 423.5L408.73 422.6L408.78 423.2L408.82 422.5L408.87 423.3L408.92 422L408.96 423.4L409.01 422.8L409.06 423.3L409.11 422.4L409.15 423.4L409.2 422.3L409.25 423.5L409.29 422.4L409.34 423.4L409.39 422.6L409.44 423.4L409.48 422.6L409.53 423.3L409.58 422.8L409.62 423.5L409.67 422.8L409.72 423.5L409.77 422.4L409.81 423.3L409.86 422.5L409.91 423.3L409.95 422.8L410 423.5L410.05 422.9L410.1 423.4L410.14 422.9L410.19 423.3L410.24 422.8L410.28 423.4L410.33 422.8L410.38 423.3L410.43 422.9L410.47 423.4L410.52 422.8L410.57 423.4L410.61 422.7L410.66 423.3L410.71 422.6L410.75 423.4L410.8 422.9L410.85 423.4L410.9 422.9L410.94 423.5L410.99 422.5L411.04 423.3L411.08 422.6L411.13 423.3L411.18 421.7L411.23 423.2L411.27 422.8L411.32 423.4L411.37 422.6L411.41 423.4L411.46 422.6L411.51 423.5L411.56 422.6L411.6 423.4L411.65 422.7L411.7 423.2L411.74 422.8L411.79 423.3L411.84 422.7L411.89 423.3L411.93 422.8L411.98 423.4L412.03 423.1L412.07 423.4L412.12 422.6L412.17 423.3L412.22 422.7L412.26 423.3L412.31 422.7L412.36 423.4L412.4 422.6L412.45 423.5L412.5 422.7L412.55 423.4L412.59 423L412.64 423.3L412.69 423L412.73 423.5L412.78 422.9L412.83 423.4L412.88 422.7L412.92 423.4L412.97 422.9L413.02 423.2L413.06 422.1L413.11 423.2L413.16 422.3L413.21 423.5L413.25 422.4L413.3 423.4L413.35 422.3L413.39 423.3L413.44 422.7L413.49 423.5L413.54 422.6L413.58 423.4L413.63 422.6L413.68 423.4L413.72 422.7L413.77 423.4L413.82 422.7L413.86 423.5L413.91 422.8L413.96 423.5L414.01 422.9L414.05 423.5L414.1 422.5L414.15 423.5L414.19 422.9L414.24 423.4L414.29 423.1L414.34 423.3L414.38 422.8L414.43 423.3L414.48 422.9L414.52 423.2L414.57 423L414.62 423.4L414.67 422.7L414.71 423.5L414.76 422.9L414.81 423.4L414.85 423L414.9 423.3L414.95 423L415 423.3L415.04 422.9L415.09 423.4L415.14 422.6L415.18 423.3L415.23 422.8L415.28 423.3L415.33 422.7L415.37 423.4L415.42 422.6L415.47 423.3L415.51 422.8L415.56 423.4L415.61 423L415.66 423.5L415.7 423L415.75 423.5L415.8 423.1L415.84 423.3L415.89 422.9L415.94 423.4L415.99 422.8L416.03 423.3L416.08 422.8L416.13 423.4L416.17 422.9L416.22 423.3L416.27 422.9L416.32 423.3L416.36 423L416.41 423.4L416.46 422.9L416.5 423.4L416.55 423.1L416.6 423.3L416.64 423.1L416.69 423.4L416.74 423L416.79 423.5L416.83 422.7L416.88 423.3L416.93 423L416.97 423.5L417.02 422.8L417.07 423.3L417.12 422.7L417.16 423.4L417.21 422.9L417.26 423.4L417.3 422.3L417.35 423.4L417.4 422.8L417.45 423.4L417.49 422.5L417.54 423.3L417.59 422.7L417.63 423.5L417.68 423L417.73 423.4L417.78 423.1L417.82 423.4L417.87 422.8L417.92 423.4L417.96 422.7L418.01 423.3L418.06 422.9L418.11 423.4L418.15 422.9L418.2 423.5L418.25 423L418.29 423.4L418.34 422.7L418.39 423.5L418.44 423L418.48 423.3L418.53 423.1L418.58 423.4L418.62 422.8L418.67 423.5L418.72 422.8L418.77 423.4L418.81 422.9L418.86 423.5L418.91 422.9L418.95 423.4L419 423L419.05 423.4L419.1 423.1L419.14 423.4L419.19 422.9L419.24 423.4L419.28 422.8L419.33 423.4L419.38 422.9L419.43 423.4L419.47 422.3L419.52 423.3L419.57 422.5L419.61 423.5L419.66 422.6L419.71 423.4L419.75 422.8L419.8 423.5L419.85 423L419.9 423.5L419.94 423.1L419.99 423.4L420.04 423L420.08 423.4L420.13 423L420.18 423.4L420.23 422.9L420.27 423.4L420.32 423L420.37 423.5L420.41 423L420.46 423.5L420.51 423L420.56 423.5L420.6 423.1L420.65 423.3L420.7 423.1L420.74 423.4L420.79 423L420.84 423.4L420.89 423.1L420.93 423.4L420.98 423.2L421.03 423.4L421.07 423.1L421.12 423.5L421.17 423.2L421.22 423.4L421.26 423.2L421.31 423.4L421.36 422.7L421.4 423.5L421.45 422.9L421.5 423.5L421.55 423L421.59 423.5L421.64 422.8L421.69 423.4L421.73 423.1L421.78 423.3L421.83 423L421.88 423.5L421.92 422.9L421.97 423.5L422.02 422.9L422.06 423.5L422.11 423.1L422.16 423.4L422.21 422.8L422.25 423.4L422.3 423L422.35 423.4L422.39 423.2L422.44 423.4L422.49 423L422.53 423.4L422.58 423.1L422.63 423.4L422.68 422.9L422.72 423.4L422.77 423.1L422.82 423.4L422.86 423L422.91 423.4L422.96 423L423.01 423.4L423.05 423L423.1 423.4L423.15 423L423.19 423.4L423.24 423.2L423.29 423.5L423.34 423.2L423.38 423.4L423.43 423.1L423.48 423.4L423.52 422.8L423.57 423.4L423.62 423L423.67 423.5L423.71 423L423.76 423.4L423.81 423.1L423.85 423.4L423.9 423.1L423.95 423.4L424 423.1L424.04 423.4L424.09 423.2L424.14 423.4L424.18 423.1L424.23 423.4L424.28 422.8L424.33 423.4L424.37 422.9L424.42 423.4L424.47 422.9L424.51 423.4L424.56 423L424.61 423.4L424.66 422.8L424.7 423.4L424.75 423.1L424.8 423.4L424.84 423.1L424.89 423.3L424.94 423.2L424.99 423.4L425.03 423L425.08 423.4L425.13 423.2L425.17 423.4L425.22 423.2L425.27 423.5L425.32 423.1L425.36 423.5L425.41 422.8L425.46 423.4L425.5 423.1L425.55 423.5L425.6 422.8L425.64 423.4L425.69 422.8L425.74 423.4L425.79 423L425.83 423.4L425.88 422.9L425.93 423.5L425.97 422.7L426.02 423.4L426.07 423.1L426.12 423.4L426.16 423.2L426.21 423.5L426.26 423L426.3 423.5L426.35 423.2L426.4 423.4L426.45 423L426.49 423.5L426.54 423.1L426.59 423.5L426.63 423.1L426.68 423.5L426.73 423.1L426.78 423.5L426.82 423L426.87 423.4L426.92 423L426.96 423.5L427.01 423.2L427.06 423.4L427.11 423.2L427.15 423.4L427.2 423.2L427.25 423.4L427.29 423.2L427.34 423.4L427.39 423.1L427.44 423.5L427.48 423L427.53 423.5L427.58 422.9L427.62 423.5L427.67 422.8L427.72 423.4L427.77 422.9L427.81 423.4L427.86 423L427.91 423.4L427.95 422.9L428 423.5L428.05 422.8L428.1 423.5L428.14 423.1L428.19 423.4L428.24 423.1L428.28 423.4L428.33 423.1L428.38 423.4L428.42 423.2L428.47 423.4L428.52 422.9L428.57 423.4L428.61 423.1L428.66 423.5L428.71 423L428.75 423.4L428.8 423.1L428.85 423.4L428.9 423.1L428.94 423.5L428.99 423.3L429.04 423.4L429.08 423.2L429.13 423.4L429.18 423.2L429.23 423.5L429.27 423.1L429.32 423.5L429.37 423.2L429.41 423.4L429.46 422.9L429.51 423.5L429.56 423L429.6 423.4L429.65 423.1L429.7 423.5L429.74 423.2L429.79 423.5L429.84 423.2L429.89 423.5L429.93 423.1L429.98 423.4L430.03 423L430.07 423.4L430.12 422.8L430.17 423.4L430.22 423L430.26 423.5L430.31 423.2L430.36 423.4L430.4 423.1L430.45 423.4L430.5 423.1L430.55 423.4L430.59 423.2L430.64 423.5L430.69 423.1L430.73 423.5L430.78 423.2L430.83 423.5L430.88 422.9L430.92 423.5L430.97 423L431.02 423.5L431.06 423.2L431.11 423.5L431.16 423L431.21 423.5L431.25 422.9L431.3 423.4L431.35 423.2L431.39 423.4L431.44 423.2L431.49 423.4L431.53 423.3L431.58 423.4L431.63 423.1L431.68 423.4L431.72 423.1L431.77 423.4L431.82 423L431.86 423.4L431.91 423.1L431.96 423.4L432.01 422.8L432.05 423.4L432.1 423L432.15 423.3L432.19 423.2L432.24 423.4L432.29 423.1L432.34 423.5L432.38 423.1L432.43 423.4L432.48 423.2L432.52 423.4L432.57 423L432.62 423.5L432.67 423.2L432.71 423.4L432.76 423.2L432.81 423.4L432.85 423.2L432.9 423.5L432.95 423.1L433 423.5L433.04 423.2L433.09 423.5L433.14 423.2L433.18 423.5L433.23 423.1L433.28 423.4L433.33 423.1L433.37 423.4L433.42 423.2L433.47 423.4L433.51 423.1L433.56 423.4L433.61 423.2L433.66 423.4L433.7 423.2L433.75 423.5L433.8 423.1L433.84 423.5L433.89 423L433.94 423.4L433.99 423L434.03 423.4L434.08 422.9L434.13 423.4L434.17 423.2L434.22 423.3L434.27 422.9L434.31 423.5L434.36 423.1L434.41 423.5L434.46 423.1L434.5 423.5L434.55 423L434.6 423.4L434.64 423.1L434.69 423.5L434.74 423.1L434.79 423.5L434.83 423.1L434.88 423.5L434.93 423.2L434.97 423.4L435.02 423.1L435.07 423.4L435.12 423.3L435.16 423.5L435.21 423.1L435.26 423.4L435.3 423.3L435.35 423.5L435.4 423.2L435.45 423.4L435.49 423.2L435.54 423.4L435.59 423.1L435.63 423.4L435.68 423L435.73 423.5L435.78 423.2L435.82 423.4L435.87 423.3L435.92 423.5L435.96 423.1L436.01 423.5L436.06 423.1L436.11 423.5L436.15 423.1L436.2 423.3L436.25 423L436.29 423.4L436.34 422.8L436.39 423.5L436.44 423L436.48 423.4L436.53 423.2L436.58 423.4L436.62 423.2L436.67 423.4L436.72 423.2L436.77 423.5L436.81 423L436.86 423.5L436.91 423.2L436.95 423.5L437 423.2L437.05 423.4L437.1 423.1L437.14 423.5L437.19 423.3L437.24 423.5L437.28 423.3L437.33 423.4L437.38 423.2L437.42 423.4L437.47 423.2L437.52 423.5L437.57 423.2L437.61 423.5L437.66 423.1L437.71 423.5L437.75 423.1L437.8 423.4L437.85 423.2L437.9 423.4L437.94 423.1L437.99 423.4L438.04 423.2L438.08 423.4L438.13 423.2L438.18 423.5L438.23 423.1L438.27 423.5L438.32 422.8L438.37 423.5L438.41 422.9L438.46 423.4L438.51 422.9L438.56 423.5L438.6 423.1L438.65 423.5L438.7 423.2L438.74 423.4L438.79 423.3L438.84 423.5L438.89 423.3L438.93 423.5L438.98 423L439.03 423.5L439.07 423.2L439.12 423.5L439.17 423.2L439.22 423.5L439.26 423.3L439.31 423.4L439.36 423.3L439.4 423.5L439.45 423.2L439.5 423.5L439.55 423.2L439.59 423.5L439.64 423.2L439.69 423.4L439.73 423.2L439.78 423.5L439.83 423.3L439.88 423.4L439.92 423.2L439.97 423.4L440.02 423.2L440.06 423.5L440.11 423.2L440.16 423.4L440.2 423.2L440.25 423.4L440.3 423L440.35 423.4L440.39 423.2L440.44 423.5L440.49 422.9L440.53 423.4L440.58 423L440.63 423.5L440.68 422.9L440.72 423.4L440.77 423.1L440.82 423.5L440.86 423.3L440.91 423.4L440.96 423.2L441.01 423.5L441.05 423L441.1 423.4L441.15 423.2L441.19 423.4L441.24 423.1L441.29 423.4L441.34 423.2L441.38 423.4L441.43 423.1L441.48 423.5L441.52 423.1L441.57 423.5L441.62 423.2L441.67 423.5L441.71 423.3L441.76 423.5L441.81 423.1L441.85 423.4L441.9 423.2L441.95 423.5L442 423.2L442.04 423.5L442.09 423.2L442.14 423.4L442.18 423.3L442.23 423.5L442.28 423.2L442.33 423.4L442.37 423L442.42 423.5L442.47 423.2L442.51 423.5L442.56 423.1L442.61 423.4L442.66 423L442.7 423.4L442.75 423.2L442.8 423.5L442.84 423.2L442.89 423.5L442.94 423.2L442.99 423.5L443.03 423.2L443.08 423.4L443.13 423.3L443.17 423.5L443.22 423.1L443.27 423.5L443.31 423.3L443.36 423.5L443.41 423.3L443.46 423.5L443.5 423.2L443.55 423.5L443.6 423.2L443.64 423.5L443.69 423.2L443.74 423.4L443.79 423.2L443.83 423.5L443.88 423.2L443.93 423.5L443.97 423.1L444.02 423.5L444.07 423.3L444.12 423.5L444.16 423.2L444.21 423.4L444.26 423.1L444.3 423.4L444.35 423.2L444.4 423.4L444.45 423.2L444.49 423.5L444.54 423L444.59 423.5L444.63 423.1L444.68 423.4L444.73 422.9L444.78 423.4L444.82 423.2L444.87 423.4L444.92 423.2L444.96 423.4L445.01 423.3L445.06 423.4L445.11 423.2L445.15 423.5L445.2 423.2L445.25 423.5L445.29 423.1L445.34 423.5L445.39 423.1L445.44 423.5L445.48 423.1L445.53 423.5L445.58 423.2L445.62 423.5L445.67 423.3L445.72 423.4L445.77 423.2L445.81 423.5L445.86 423.1L445.91 423.4L445.95 423.2L446 423.3L446.05 423.2L446.09 423.4L446.14 423.3L446.19 423.5L446.24 423.3L446.28 423.4L446.33 423.2L446.38 423.5L446.42 423.3L446.47 423.5L446.52 423.3L446.57 423.4L446.61 423.2L446.66 423.5L446.71 423L446.75 423.4L446.8 423.1L446.85 423.5L446.9 423.2L446.94 423.5L446.99 423.2L447.04 423.4L447.08 423.2L447.13 423.4L447.18 423.4L447.23 423.5L447.27 423.2L447.32 423.5L447.37 423.3L447.41 423.5L447.46 423.2L447.51 423.4L447.56 423.1L447.6 423.4L447.65 423.3L447.7 423.4L447.74 423.3L447.79 423.4L447.84 423.3L447.89 423.5L447.93 423.2L447.98 423.5L448.03 423.2L448.07 423.5L448.12 423.2L448.17 423.4L448.22 423.3L448.26 423.4L448.31 423.3L448.36 423.5L448.4 423.3L448.45 423.4L448.5 423.2L448.55 423.4L448.59 423.2L448.64 423.4L448.69 423.3L448.73 423.5L448.78 423.1L448.83 423.5L448.88 423.2L448.92 423.4L448.97 423.2L449.02 423.5L449.06 423.1L449.11 423.5L449.16 423.2L449.2 423.5L449.25 423.3L449.3 423.5L449.35 423.2L449.39 423.5L449.44 423.3L449.49 423.5L449.53 423.1L449.58 423.5L449.63 423.1L449.68 423.4L449.72 423.2L449.77 423.5L449.82 423.2L449.86 423.5L449.91 423.3L449.96 423.5L450.01 423.2L450.05 423.5L450.1 423.3L450.15 423.5L450.19 423.2L450.24 423.5L450.29 423.3L450.34 423.5L450.38 423.3L450.43 423.5L450.48 423.3L450.52 423.5L450.57 423.3L450.62 423.5L450.67 423.2L450.71 423.5L450.76 423.3L450.81 423.4L450.85 423.2L450.9 423.5L450.95 423.1L451 423.5L451.04 423.2L451.09 423.4L451.14 423.3L451.18 423.5L451.23 423.3L451.28 423.4L451.33 423.2L451.37 423.5L451.42 423.3L451.47 423.4L451.51 423.3L451.56 423.4L451.61 423.3L451.66 423.5L451.7 423.2L451.75 423.5L451.8 423.3L451.84 423.4L451.89 423.3L451.94 423.5L451.98 423.3L452.03 423.5L452.08 423.3L452.13 423.5L452.17 423.1L452.22 423.5L452.27 423.3L452.31 423.4L452.36 423.4L452.41 423.5L452.46 423.2L452.5 423.5L452.55 423.3L452.6 423.5L452.64 423.3L452.69 423.4L452.74 423.3L452.79 423.5L452.83 423.3L452.88 423.5L452.93 423.2L452.97 423.5L453.02 423.2L453.07 423.5L453.12 423.2L453.16 423.4L453.21 423.3L453.26 423.4L453.3 423.3L453.35 423.5L453.4 423.3L453.45 423.5L453.49 423.3L453.54 423.4L453.59 423.3L453.63 423.5L453.68 423.4L453.73 423.4L453.78 423.3L453.82 423.5L453.87 423.3L453.92 423.4L453.96 423.3L454.01 423.5L454.06 423.2L454.11 423.5L454.15 423.2L454.2 423.5L454.25 423.4L454.29 423.5L454.34 423.3L454.39 423.4L454.44 423.3L454.48 423.5L454.53 423.2L454.58 423.5L454.62 423.2L454.67 423.5L454.72 423.3L454.77 423.5L454.81 423.3L454.86 423.5L454.91 423.3L454.95 423.4L455 423.2L455.05 423.5L455.09 423.1L455.14 423.5L455.19 423.2L455.24 423.5L455.28 423.2L455.33 423.5L455.38 423.3L455.42 423.4L455.47 423.3L455.52 423.5L455.57 423.4L455.61 423.4L455.66 423.3L455.71 423.5L455.75 423.3L455.8 423.4L455.85 423.3L455.9 423.5L455.94 423.3L455.99 423.4L456.04 423.3L456.08 423.5L456.13 423.3L456.18 423.5L456.23 423.4L456.27 423.4L456.32 423.3L456.37 423.5L456.41 423.3L456.46 423.5L456.51 423.4L456.56 423.5L456.6 423.3L456.65 423.5L456.7 423.3L456.74 423.5L456.79 423.3L456.84 423.5L456.89 423.4L456.93 423.5L456.98 423.3L457.03 423.5L457.07 423.1L457.12 423.5L457.17 423.3L457.22 423.5L457.26 423.3L457.31 423.5L457.36 423.2L457.4 423.5L457.45 423.2L457.5 423.5L457.55 423.3L457.59 423.4L457.64 423.3L457.69 423.5L457.73 423.4L457.78 423.5L457.83 423.3L457.87 423.5L457.92 423.4L457.97 423.5L458.06 423.5L458.11 423.3L458.16 423.5L458.2 423.3L458.25 423.5L458.3 423.3L458.35 423.4L458.39 423.3L458.44 423.5L458.49 423.3L458.53 423.5L458.58 423.3L458.63 423.5L458.68 423.3L458.72 423.5L458.82 423.5L458.86 423.3L458.91 423.5L458.96 423.3L459.01 423.5L459.05 423.3L459.1 423.5L459.15 423.1L459.19 423.5L459.24 423.2L459.29 423.5L459.34 423.1L459.38 423.4L459.43 423.3L459.48 423.5L459.52 423.3L459.57 423.4L459.62 423.3L459.67 423.5L459.71 423.4L459.76 423.5L459.81 423.4L459.85 423.5L459.9 423.3L459.95 423.5L460.04 423.5L460.09 423.3L460.14 423.5L460.18 423.3L460.23 423.5L460.28 423.3L460.33 423.5L460.37 423.3L460.42 423.4L460.47 423.3L460.51 423.5L460.56 423.4L460.61 423.5L460.66 423.4L460.7 423.5L460.75 423.3L460.8 423.5L460.84 423.3L460.89 423.5L460.94 423.3L460.98 423.5L461.03 423.4L461.08 423.5L461.13 423.3L461.17 423.4L461.22 423.3L461.27 423.4L461.31 423.3L461.36 423.5L461.41 423.3L461.46 423.5L461.5 423.3L461.55 423.4L461.6 423.3L461.64 423.4L461.69 423.2L461.74 423.4L461.79 423.3L461.83 423.5L461.88 423.3L461.93 423.5L461.97 423.3L462.02 423.5L462.07 423.3L462.12 423.5L462.16 423.3L462.21 423.5L462.26 423.3L462.3 423.5L462.35 423.3L462.4 423.5L462.45 423.3L462.49 423.5L462.54 423.3L462.59 423.5L462.63 423.4L462.68 423.5L462.73 423.4L462.78 423.5L462.87 423.5L462.92 423.3L462.96 423.5L463.01 423.3L463.06 423.5L463.11 423.4L463.15 423.5L463.2 423.3L463.25 423.4L463.29 423.3L463.34 423.5L463.39 423.3L463.44 423.4L463.48 423.4L463.53 423.5L463.58 423.2L463.62 423.4L463.67 423.3L463.72 423.4L463.76 423.3L463.81 423.5L463.86 423.3L463.91 423.5L463.95 423.3L464 423.5L464.05 423.4L464.09 423.5L464.14 423.3L464.19 423.5L464.24 423.3L464.28 423.5L464.33 423.4L464.38 423.4L464.42 423.4L464.47 423.5L464.52 423.3L464.57 423.5L464.61 423.3L464.66 423.5L464.71 423.3L464.75 423.5L464.8 423.3L464.85 423.5L464.9 423.3L464.94 423.5L464.99 423.3L465.04 423.5L465.08 423.4L465.13 423.5L465.18 423.3L465.23 423.5L465.27 423.4L465.32 423.5L465.37 423.1L465.41 423.5L465.46 423.3L465.51 423.5L465.56 423.3L465.6 423.5L465.65 423.3L465.7 423.5L465.74 423.2L465.79 423.5L465.84 423.3L465.89 423.5L465.93 423.3L465.98 423.5L466.03 423.3L466.07 423.5L466.12 423.3L466.17 423.5L466.22 423.3L466.26 423.4L466.31 423.3L466.36 423.5L466.4 423.3L466.45 423.5L466.5 423.4L466.55 423.4L466.59 423.2L466.64 423.4L466.69 423.3L466.73 423.5L466.78 423.3L466.83 423.5L466.87 423.4L466.92 423.5L466.97 423.4L467.02 423.5L467.11 423.5L467.16 423.3L467.2 423.5L467.3 423.5L467.35 423.3L467.39 423.5L467.44 423.3L467.49 423.5L467.53 423.2L467.58 423.4L467.63 423.2L467.68 423.5L467.72 423.2L467.77 423.5L467.82 423.2L467.86 423.5L467.91 423.3L467.96 423.4L468.01 423.2L468.05 423.5L468.1 423.3L468.15 423.5L468.19 423.4L468.24 423.5L468.29 423.3L468.34 423.5L468.38 423.4L468.43 423.5L468.48 423.4L468.52 423.5L468.57 423.3L468.62 423.5L468.67 423.3L468.71 423.5L468.76 423.3L468.81 423.5L468.85 423.3L468.9 423.5L468.95 423.3L469 423.5L469.04 423.4L469.09 423.4L469.14 423.3L469.18 423.5L469.23 423.4L469.28 423.5L469.33 423.2L469.37 423.5L469.42 423.4L469.47 423.5L469.51 423.3L469.56 423.4L469.61 423.3L469.65 423.5L469.7 423.2L469.75 423.5L469.8 423.2L469.84 423.5L469.89 423.2L469.94 423.5L469.98 423.2L470.03 423.5L470.08 423.2L470.13 423.5L470.17 423.3L470.22 423.4L470.27 423.3L470.31 423.5L470.36 423.3L470.41 423.5L470.46 423.3L470.5 423.5L470.55 423.3L470.6 423.5L470.64 423.3L470.69 423.5L470.88 423.5L470.93 423.3L470.97 423.5L471.02 423.2L471.07 423.5L471.12 423.3L471.16 423.5L471.21 423.3L471.26 423.5L471.35 423.5L471.4 423.2L471.45 423.5L471.49 423.4L471.54 423.5L471.59 423.3L471.63 423.4L471.68 423.3L471.73 423.5L471.78 423.3L471.82 423.4L471.87 423.3L471.92 423.4L471.96 423.3L472.01 423.5L472.06 423.2L472.11 423.5L472.15 423.3L472.2 423.5L472.25 423.4L472.29 423.5L472.34 423.3L472.39 423.4L472.44 423.3L472.48 423.5L472.53 423.4L472.58 423.5L472.62 423.4L472.67 423.5L472.72 423.3L472.76 423.5L472.81 423.3L472.86 423.5L473.05 423.5L473.09 423.3L473.14 423.5L473.19 423.3L473.24 423.5L473.28 423.3L473.33 423.5L473.38 423.3L473.42 423.5L473.47 423.3L473.52 423.5L473.57 423.3L473.61 423.5L473.66 423.3L473.71 423.5L473.75 423.3L473.8 423.5L473.85 423.3L473.9 423.4L473.94 423.2L473.99 423.5L474.04 423.3L474.08 423.5L474.13 423L474.18 423.5L474.23 423.3L474.27 423.5L474.37 423.5L474.41 423.4L474.46 423.5L474.51 423.3L474.56 423.5L474.6 423.3L474.65 423.5L474.7 423.2L474.74 423.5L474.79 423.3L474.84 423.5L474.89 423.3L474.93 423.5L474.98 423.4L475.03 423.5L475.07 423.3L475.12 423.5L475.17 423.3L475.22 423.5L475.26 423.3L475.31 423.5L475.36 423.3L475.4 423.5L475.45 423.4L475.5 423.5L475.54 423.3L475.59 423.5L475.64 423.3L475.69 423.5L475.73 423.3L475.78 423.5L475.83 423.3L475.87 423.5L475.92 423.2L475.97 423.5L476.02 423.3L476.06 423.5L476.11 423.3L476.16 423.5L476.2 423.3L476.25 423.4L476.3 423.2L476.35 423.5L476.39 423.4L476.44 423.4L476.49 423.4L476.53 423.5L476.58 423.3L476.63 423.5L476.68 423.4L476.72 423.4L476.77 423.3L476.82 423.5L476.86 423.3L476.91 423.5L476.96 423.4L477.01 423.5L477.1 423.5L477.15 423.3L477.19 423.5L477.24 423.3L477.29 423.5L477.34 423.4L477.38 423.5L477.43 423.3L477.48 423.5L477.52 423.3L477.57 423.4L477.67 423.5L477.71 423.3L477.76 423.4L477.81 423.4L477.85 423.5L477.9 423.3L477.95 423.5L478 423.3L478.04 423.5L478.09 423.3L478.14 423.4L478.18 423.3L478.23 423.4L478.28 423.3L478.33 423.5L478.37 423.3L478.42 423.5L478.47 423.2L478.51 423.5L478.56 423.4L478.61 423.5L478.65 423.3L478.7 423.5L478.75 423.1L478.8 423.5L478.84 423.4L478.89 423.5L478.94 423.4L478.98 423.5L479.03 423.3L479.08 423.5L479.13 423.4L479.17 423.5L479.22 423.3L479.27 423.5L479.31 423.4L479.36 423.5L479.41 423.3L479.46 423.5L479.5 423.3L479.55 423.5L479.6 423.3L479.64 423.5L479.69 423.3L479.74 423.5L479.79 423.3L479.83 423.4L479.93 423.5L479.97 423.3L480.02 423.5L480.07 423.4L480.12 423.5L480.16 423.2L480.21 423.4L480.26 423.2L480.3 423.4L480.35 423.2L480.4 423.5L480.45 423.3L480.49 423.5L480.54 423.3L480.59 423.4L480.63 423.2L480.68 423.5L480.73 423.3L480.78 423.5L480.82 423.3L480.87 423.4L480.92 423.4L480.96 423.4L481.01 423.3L481.06 423.4L481.15 423.5L481.2 423.3L481.25 423.5L481.29 423.3L481.34 423.5L481.39 423.3L481.43 423.5L481.48 423.4L481.53 423.5L481.62 423.5L481.67 423.2L481.72 423.5L481.76 423.4L481.81 423.5L481.86 423.4L481.91 423.5L481.95 423.3L482 423.4L482.05 423.3L482.09 423.5L482.14 423.4L482.19 423.5L482.24 423.3L482.28 423.4L482.33 423.3L482.38 423.5L482.42 423.2L482.47 423.5L482.52 423.3L482.57 423.5L482.61 423.3L482.66 423.5L482.71 423.4L482.75 423.5L482.8 423.3L482.85 423.5L482.9 423.4L482.94 423.5L482.99 423.3L483.04 423.5L483.08 423.3L483.13 423.5L483.23 423.4L483.27 423.3L483.32 423.5L483.37 423.4L483.41 423.5L483.46 423.3L483.51 423.5L483.56 423.3L483.6 423.5L483.65 423.2L483.7 423.5L483.74 423.3L483.79 423.5L483.84 423.3L483.89 423.5L483.93 423.2L483.98 423.5L484.03 423.3L484.07 423.5L484.26 423.4L484.31 423.3L484.36 423.4L484.4 423.3L484.45 423.5L484.5 423.2L484.54 423.4L484.59 423.3L484.64 423.5L484.69 423.3L484.73 423.5L484.78 423.3L484.83 423.5L484.87 423.4L484.92 423.5L485.02 423.5L485.06 423.3L485.11 423.5L485.16 423.3L485.2 423.4L485.25 423.4L485.3 423.5L485.35 423.3L485.39 423.5L485.44 423.3L485.49 423.5L485.53 423.4L485.58 423.5L485.63 423.3L485.68 423.5L485.72 423.4L485.77 423.5L485.82 423.4L485.86 423.4L485.91 423.4L485.96 423.5L486.01 423.3L486.05 423.5L486.1 423.3L486.15 423.5L486.19 423.3L486.24 423.5L486.29 423.3L486.34 423.5L486.38 423.3L486.43 423.5L486.48 423.4L486.52 423.5L486.57 423.3L486.62 423.5L486.67 423.3L486.71 423.5L486.76 423.3L486.81 423.5L486.85 423.3L486.9 423.5L486.95 423.4L487 423.5L487.04 423.3L487.09 423.5L487.14 423.3L487.18 423.5L487.23 423.3L487.28 423.5L487.32 423.4L487.37 423.5L487.42 423.3L487.47 423.5L487.65 423.5L487.7 423.3L487.75 423.5L487.8 423.3L487.84 423.5L487.89 423.3L487.94 423.4L487.98 423.3L488.03 423.5L488.08 423.2L488.13 423.5L488.17 423.3L488.22 423.5L488.31 423.5L488.36 423.3L488.41 423.5L488.46 423.3L488.5 423.5L488.55 423.2L488.6 423.5L488.64 423.3L488.69 423.5L488.74 423.2L488.79 423.4L488.83 423.3L488.88 423.5L488.93 423.3L488.97 423.5L489.02 423.3L489.07 423.5L489.12 423.3L489.16 423.5L489.21 423.4L489.26 423.5L489.3 423.4L489.35 423.5L489.4 423.4L489.45 423.5L489.49 423.3L489.54 423.5L489.63 423.5L489.68 423.3L489.73 423.5L489.78 423.3L489.82 423.4L489.87 423.3L489.92 423.5L489.96 423.4L490.01 423.4L490.11 423.5L490.15 423.3L490.2 423.5L490.25 423.3L490.29 423.5L490.34 423.4L490.39 423.5L490.43 423.3L490.48 423.5L490.53 423.3L490.58 423.5L490.62 423.2L490.67 423.5L490.72 423.3L490.76 423.4L490.81 423.4L490.86 423.5L490.91 423.2L490.95 423.5L491 423.4L491.05 423.5L491.09 423.3L491.14 423.5L491.19 423.3L491.24 423.5L491.28 423.3L491.33 423.5L491.38 423.3L491.42 423.5L491.47 423.4L491.52 423.5L491.57 423.4L491.61 423.4L491.66 423.3L491.71 423.5L491.75 423.3L491.8 423.5L491.85 423.3L491.9 423.5L491.94 423.4L491.99 423.5L492.04 423.3L492.08 423.5L492.13 423.4L492.18 423.4L492.27 423.5L492.32 423.3L492.37 423.5L492.41 423.4L492.46 423.5L492.51 423.3L492.56 423.5L492.6 423.3L492.65 423.5L492.7 423.3L492.74 423.5L492.79 423.4L492.84 423.5L492.89 423.2L492.93 423.5L492.98 423.2L493.03 423.4L493.07 423.3L493.12 423.5L493.21 423.5L493.26 423.3L493.31 423.5L493.36 423.4L493.4 423.5L493.5 423.5L493.54 423.4L493.59 423.5L493.64 423.3L493.69 423.5L493.78 423.5L493.83 423.3L493.87 423.4L493.97 423.5L494.02 423.3L494.06 423.5L494.11 423.4L494.16 423.5L494.2 423.3L494.25 423.5L494.3 423.3L494.35 423.5L494.39 423.3L494.44 423.5L494.49 423.4L494.53 423.5L494.58 423.3L494.63 423.5L494.68 423.4L494.72 423.4L494.77 423.3L494.82 423.5L494.86 423.3L494.91 423.5L494.96 423.3L495.01 423.5L495.05 423.1L495.1 423.5L495.15 423.3L495.19 423.4L495.24 423.3L495.29 423.5L495.34 423.4L495.38 423.5L495.43 423.4L495.48 423.5L495.52 423.4L495.57 423.5L495.62 423.3L495.67 423.5L495.71 423.3L495.76 423.4L495.81 423.2L495.85 423.5L495.9 423.3L495.95 423.5L496 423.3L496.04 423.5L496.14 423.5L496.18 423.3L496.23 423.5L496.28 423.3L496.32 423.5L496.37 423.3L496.42 423.5L496.51 423.5L496.56 423.3L496.61 423.5L496.7 423.5L496.75 423.4L496.8 423.5L496.84 423.3L496.89 423.5L496.94 423.2L496.98 423.4L497.03 423.3L497.08 423.4L497.13 423.3L497.17 423.5L497.22 423.3L497.27 423.5L497.31 423.3L497.36 423.5L497.41 423.3L497.46 423.5L497.5 423.4L497.55 423.5L497.74 423.5L497.79 423.4L497.83 423.5L497.88 423.3L497.93 423.5L497.97 423.3L498.02 423.5L498.07 423.3L498.12 423.5L498.16 423.4L498.21 423.5L498.4 423.5L498.45 423.3L498.49 423.5L498.54 423.4L498.59 423.5L498.68 423.4L498.73 423.3L498.78 423.5L498.82 423.3L498.87 423.5L498.92 423.3L498.96 423.4L499.01 423.3L499.06 423.5L499.1 423.3L499.15 423.5L499.2 423.3L499.25 423.4L499.29 423.3L499.34 423.5L499.39 423.4L499.43 423.5L499.48 423.4L499.53 423.5L499.62 423.5L499.67 423.3L499.72 423.5L499.76 423.3L499.81 423.5L499.86 423.4L499.91 423.5L499.95 423.4L500 423.5L500.05 423.3L500.09 423.5L500.19 423.5L500.24 423.4L500.28 423.5L500.33 423.3L500.38 423.5L500.42 423.4L500.47 423.5L500.52 423.3L500.57 423.5L500.66 423.5L500.71 423.4L500.75 423.5L500.8 423.4L500.85 423.5L500.9 423.3L500.94 423.5L500.99 423.3L501.04 423.5L501.08 423.4L501.13 423.5L501.18 423.2L501.23 423.5L501.27 423.3L501.32 423.5L501.37 423.3L501.41 423.5L501.46 423.3L501.51 423.5L501.56 423.3L501.6 423.5L501.65 423.3L501.7 423.5L501.79 423.5L501.84 423.3L501.89 423.5L501.93 423.3L501.98 423.5L502.03 423.4L502.07 423.5L502.12 423.3L502.17 423.5L502.21 423.4L502.26 423.5L502.31 423.3L502.36 423.5L502.4 423.3L502.45 423.5L502.5 423.4L502.54 423.5L502.59 423.3L502.64 423.5L502.73 423.5L502.78 423.4L502.83 423.5L502.92 423.5L502.97 423.3L503.02 423.5L503.11 423.5L503.16 423.3L503.2 423.5L503.25 423.3L503.3 423.5L503.35 423.3L503.39 423.4L503.44 423.2L503.49 423.5L503.53 423.3L503.58 423.5L503.63 423.3L503.68 423.5L503.72 423.3L503.77 423.5L503.82 423.3L503.86 423.5L503.91 423.4L503.96 423.5L504.01 423.4L504.05 423.5L504.1 423.2L504.15 423.5L504.19 423.3L504.24 423.5L504.29 423.3L504.34 423.5L504.38 423.3L504.43 423.5L504.48 423.3L504.52 423.5L504.57 423.3L504.62 423.5L504.67 423.3L504.71 423.5L504.76 423.3L504.81 423.4L505.09 423.5L505.14 423.3L505.18 423.5L505.28 423.5L505.32 423.3L505.37 423.5L505.42 423.2L505.47 423.5L505.51 423.2L505.56 423.5L505.61 423.3L505.65 423.5L505.84 423.5L505.89 423.3L505.94 423.5L505.98 423.4L506.03 423.5L506.22 423.4L506.27 423.4L506.31 423.5L506.41 423.5L506.46 423.3L506.5 423.5L506.55 423.3L506.6 423.5L506.64 423.3L506.69 423.5L506.74 423.4L506.79 423.5L506.83 423.3L506.88 423.5L506.97 423.5L507.02 423.3L507.07 423.5L507.12 423.3L507.16 423.4L507.21 423.3L507.26 423.5L507.3 423.3L507.35 423.5L507.4 423.3L507.45 423.5L507.49 423.3L507.54 423.5L507.59 423.3L507.63 423.5L507.68 423.3L507.73 423.5L507.78 423.3L507.82 423.5L507.87 423.3L507.92 423.5L507.96 423.3L508.01 423.5L508.2 423.5L508.25 423.3L508.29 423.5L508.34 423.4L508.39 423.5L508.43 423.3L508.48 423.4L508.67 423.5L508.72 423.4L508.76 423.5L508.81 423.3L508.86 423.5L508.91 423.3L508.95 423.5L509 423.4L509.05 423.5L509.14 423.5L509.19 423.4L509.24 423.5L509.33 423.5L509.38 423.4L509.42 423.5L509.47 423.3L509.52 423.5L509.57 423.4L509.61 423.4L509.66 423.3L509.71 423.5L509.75 423.3L509.8 423.5L509.85 423.4L509.9 423.5L509.94 423.3L509.99 423.5L510.04 423.3L510.08 423.5L510.37 423.5L510.41 423.4L510.46 423.4L510.51 423.3L510.56 423.5L510.6 423.4L510.65 423.5L510.7 423.3L510.74 423.5L510.79 423.3L510.84 423.5L510.93 423.5L510.98 423.3L511.03 423.5L511.12 423.5L511.17 423.3L511.21 423.5L511.31 423.5L511.36 423.3L511.4 423.5L511.5 423.5L511.54 423.4L511.59 423.5L511.64 423.4L511.69 423.5L511.73 423.4L511.78 423.5L511.83 423.3L511.87 423.5L511.97 423.5L512.02 423.3L512.06 423.5L512.11 423.3L512.16 423.5L512.2 423.3L512.25 423.5L512.35 423.5L512.39 423.4L512.44 423.5L512.49 423.3L512.53 423.5L512.58 423.4L512.63 423.5L512.72 423.5L512.77 423.3L512.82 423.5L512.86 423.3L512.91 423.5L513.01 423.5L513.05 423.3L513.1 423.5L513.19 423.5L513.24 423.4L513.29 423.5L513.34 423.4L513.38 423.5L513.43 423.4L513.48 423.5L513.57 423.5L513.62 423.3L513.67 423.5L513.71 423.3L513.76 423.5L513.81 423.3L513.85 423.5L513.9 423.4L513.95 423.4L513.99 423.2L514.04 423.5L514.09 423.2L514.14 423.5L514.18 423.3L514.23 423.5L514.32 423.5L514.37 423.4L514.42 423.5L514.47 423.4L514.51 423.5L514.61 423.5L514.65 423.4L514.7 423.5L514.75 423.3L514.8 423.5L514.89 423.5L514.94 423.3L514.98 423.5L515.03 423.3L515.08 423.5L515.55 423.5L515.6 423.4L515.64 423.5L515.74 423.5L515.79 423.3L515.83 423.5L515.88 423.4L515.93 423.5L515.97 423.3L516.02 423.5L516.07 423.4L516.12 423.4L516.21 423.5L516.26 423.4L516.3 423.5L516.35 423.4L516.4 423.5L516.45 423.3L516.49 423.5L516.54 423.3L516.59 423.5L516.63 423.4L516.68 423.5L516.77 423.5L516.82 423.3L516.87 423.5L516.92 423.4L516.96 423.5L517.15 423.5L517.2 423.3L517.25 423.5L517.29 423.4L517.34 423.5L517.39 423.3L517.43 423.5L517.48 423.3L517.53 423.5L517.72 423.5L517.76 423.3L517.81 423.4L517.86 423.4L517.91 423.5L517.95 423.3L518 423.5L518.05 423.2L518.09 423.5L518.28 423.5L518.33 423.3L518.38 423.5L518.42 423.4L518.47 423.5L518.52 423.4L518.57 423.5L518.61 423.4L518.66 423.5L518.71 423.4L518.75 423.5L518.94 423.5L518.99 423.4L519.04 423.5L519.08 423.3L519.13 423.5L519.18 423.3L519.23 423.5L519.27 423.3L519.32 423.5L519.37 423.4L519.41 423.5L519.51 423.5L519.56 423.3L519.6 423.5L519.65 423.4L519.7 423.5L519.74 423.4L519.79 423.5L519.84 423.3L519.88 423.5L519.93 423.3L519.98 423.5L520.03 423.3L520.07 423.5L520.12 423.3L520.17 423.4L520.21 423.3L520.26 423.5L520.31 423.2L520.36 423.5L520.4 423.3L520.45 423.5L520.54 423.5L520.59 423.3L520.64 423.5L520.69 423.4L520.73 423.5L520.83 423.5L520.87 423.4L520.92 423.5L520.97 423.4L521.02 423.5L521.11 423.5L521.16 423.3L521.2 423.5L521.25 423.4L521.3 423.5L521.39 423.5L521.44 423.4L521.49 423.5L521.53 423.3L521.58 423.5L521.63 423.3L521.68 423.5L521.86 423.5L521.91 423.3L521.96 423.5L522.01 423.3L522.05 423.5L522.1 423.4L522.15 423.5L522.19 423.3L522.24 423.5L522.29 423.2L522.34 423.4L522.38 423.2L522.43 423.5L522.48 423.4L522.52 423.5L522.57 423.3L522.62 423.5L522.66 423.4L522.71 423.5L522.76 423.3L522.81 423.5L522.9 423.5L522.95 423.4L522.99 423.5L523.04 423.4L523.09 423.5L523.18 423.5L523.23 423.3L523.28 423.5L523.32 423.3L523.37 423.5L523.47 423.5L523.51 423.4L523.56 423.5L523.75 423.5L523.8 423.4L523.84 423.5L523.89 423.4L523.94 423.5L523.98 423.3L524.03 423.5L524.08 423.4L524.13 423.5L524.22 423.5L524.27 423.3L524.31 423.5L524.36 423.3L524.41 423.5L524.46 423.3L524.5 423.5L524.55 423.4L524.6 423.5L524.69 423.5L524.74 423.4L524.79 423.5L524.83 423.3L524.88 423.5L525.07 423.5L525.12 423.4L525.16 423.5L525.21 423.3L525.26 423.5L525.3 423.4L525.35 423.5L525.4 423.3L525.45 423.5L525.49 423.3L525.54 423.5L525.63 423.5L525.68 423.3L525.73 423.5L525.77 423.3L525.82 423.5L525.92 423.5L525.96 423.4L526.01 423.5L526.2 423.5L526.25 423.4L526.29 423.5L526.39 423.5L526.43 423.3L526.48 423.5L526.53 423.3L526.58 423.5L526.62 423.4L526.67 423.5L526.72 423.4L526.76 423.5L526.81 423.3L526.86 423.5L526.91 423.4L526.95 423.5L527 423.4" fill="none" stroke="#0072BD" stroke-width="0.6" stroke-linejoin="round"/>
<rect x="350.3" y="382" width="176.7" height="41.5" fill="none" stroke="#5a5a5a" stroke-width="0.55"/>
<path d="M350.3 423.5v-1.77M350.3 382v1.77M385.64 423.5v-1.77M385.64 382v1.77M420.98 423.5v-1.77M420.98 382v1.77M456.32 423.5v-1.77M456.32 382v1.77M491.66 423.5v-1.77M491.66 382v1.77M527 423.5v-1.77M527 382v1.77M350.3 423.5h1.77M527 423.5h-1.77M350.3 410.49h1.77M527 410.49h-1.77M350.3 397.48h1.77M527 397.48h-1.77M350.3 384.47h1.77M527 384.47h-1.77" stroke="#5a5a5a" stroke-width="0.55" fill="none"/>
<g class="tk" font-size="4.38" fill="#1c1c1c">
<text x="350.3" y="429.2" text-anchor="middle">0</text>
<text x="385.64" y="429.2" text-anchor="middle">500</text>
<text x="420.98" y="429.2" text-anchor="middle">1000</text>
<text x="456.32" y="429.2" text-anchor="middle">1500</text>
<text x="491.66" y="429.2" text-anchor="middle">2000</text>
<text x="527" y="429.2" text-anchor="middle">2500</text>
<text x="349.6" y="425.08" text-anchor="end">0</text>
<text x="349.6" y="412.07" text-anchor="end">0.01</text>
<text x="349.6" y="399.06" text-anchor="end">0.02</text>
<text x="349.6" y="386.05" text-anchor="end">0.03</text>
</g>
<text x="438.65" y="438.63" text-anchor="middle" font-size="7.81" fill="#1c1c1c">Frequency(Hz)</text>
<text transform="translate(323.61 403.25) rotate(-90)" text-anchor="middle" font-size="7.81" fill="#1c1c1c">IMF3</text>
<text transform="translate(336.61 402.75) rotate(-90)" text-anchor="middle" font-size="7.81" fill="#1c1c1c">Acceleration(mm/s<tspan dy="-2.97" font-size="5.62">2</tspan><tspan dy="2.97">)</tspan></text>
</g>
<g id="imf4-freq">
<path d="M343 498.9L343.05 501.8L343.1 497.4L343.15 501.9L343.21 499L343.26 501.8L343.31 500.5L343.36 502.1L343.41 499.6L343.46 502.3L343.52 500.6L343.57 502.4L343.62 499.2L343.67 502.3L343.72 499.7L343.77 502.5L343.82 500.2L343.88 502.2L343.93 500.2L343.98 502.6L344.03 499.2L344.08 502.3L344.13 500.3L344.19 502.3L344.24 500.5L344.29 502.5L344.34 499.1L344.39 502.2L344.44 500.3L344.49 502.2L344.55 500L344.6 502.2L344.65 500.6L344.7 502L344.75 499.3L344.8 502.1L344.86 499L344.91 502.3L344.96 499L345.01 502.1L345.06 498.9L345.11 502.2L345.16 498.8L345.22 501.2L345.27 495.7L345.32 501.6L345.37 497.8L345.42 501.7L345.47 498.4L345.53 501.7L345.58 500L345.63 502.4L345.68 499.8L345.73 502.5L345.78 500.3L345.84 502.3L345.89 499.8L345.94 502.4L345.99 501.1L346.04 502.3L346.09 498.9L346.14 502.2L346.2 497.9L346.25 502.4L346.3 500.5L346.35 501.7L346.4 499.9L346.45 502.3L346.51 499.6L346.56 502.4L346.61 497.4L346.66 502.1L346.71 500.4L346.76 502.5L346.81 498.8L346.87 502.4L346.92 498.3L346.97 502.5L347.02 498.6L347.07 502.6L347.12 499.2L347.18 502.6L347.23 499.6L347.28 502.4L347.33 499.7L347.38 501.9L347.43 496.8L347.48 502.5L347.54 497.8L347.59 501.3L347.64 497.5L347.69 501.5L347.74 499.2L347.79 501.4L347.85 498.9L347.9 502L347.95 499L348 502.1L348.05 497.6L348.1 501.5L348.15 498L348.21 502.1L348.26 498.1L348.31 502.4L348.36 499.9L348.41 502L348.46 496.5L348.52 501.6L348.57 498.3L348.62 502.4L348.67 500.4L348.72 502.5L348.77 498L348.82 501.8L348.88 499.3L348.93 502.1L348.98 499.1L349.03 502.3L349.08 498.1L349.13 502.4L349.19 499.2L349.24 501.6L349.29 498.9L349.34 501.8L349.39 497.9L349.44 502L349.49 497.4L349.55 501.8L349.6 495L349.65 501.1L349.7 497.4L349.75 501.9L349.8 495.4L349.86 500L349.91 494L349.96 501.7L350.01 494.4L350.06 502.5L350.11 492.8L350.16 501.3L350.22 498.5L350.27 502L350.32 498.1L350.37 501.3L350.42 498.8L350.47 502.2L350.53 497.1L350.58 501.5L350.63 496.3L350.68 501.8L350.73 497.6L350.78 501.4L350.84 496.7L350.89 501.6L350.94 496.5L350.99 501.2L351.04 498L351.09 502.2L351.14 497.9L351.2 502L351.25 498.6L351.3 500.9L351.35 497.5L351.4 502.2L351.45 492.5L351.51 501.1L351.56 495.5L351.61 502L351.66 496.2L351.71 502.3L351.76 493.2L351.81 501.6L351.87 494.9L351.92 501.7L351.97 494L352.02 501.7L352.07 494.7L352.12 502.2L352.18 493.5L352.23 500.7L352.28 483.9L352.33 500.7L352.38 495.9L352.43 500.4L352.48 492.1L352.54 501.5L352.59 496.9L352.64 501.9L352.69 494.5L352.74 502.4L352.79 497.2L352.85 500L352.9 487.8L352.95 501.2L353 496.8L353.05 502.2L353.1 494L353.15 501.1L353.21 492.6L353.26 502.4L353.31 494L353.36 502.4L353.41 494.9L353.46 502L353.52 494.9L353.57 501.2L353.62 489.7L353.67 502.2L353.72 491.2L353.77 502L353.82 494L353.88 500.4L353.93 486.1L353.98 501.3L354.03 488.7L354.08 500.9L354.13 489.7L354.19 500.4L354.24 481.8L354.29 499.4L354.34 488.4L354.39 500.8L354.44 481.9L354.49 494.4L354.55 474.7L354.6 500L354.65 478.9L354.7 499.7L354.75 480.4L354.8 501.4L354.86 492.1L354.91 500.7L354.96 489.7L355.01 501.3L355.06 474.1L355.11 502.1L355.17 486L355.22 499.3L355.27 486.6L355.32 500L355.37 486.4L355.42 502L355.47 488.5L355.53 502.2L355.58 493.4L355.63 502.2L355.68 478.3L355.73 501.4L355.78 487.7L355.84 501.2L355.89 483.5L355.94 501.4L355.99 482.5L356.04 501.6L356.09 482.3L356.14 500.3L356.2 491.7L356.25 500.4L356.3 494.3L356.35 501.3L356.4 482.7L356.45 502L356.51 483.7L356.56 499.3L356.61 471.3L356.66 500.2L356.71 470.4L356.76 495.9L356.81 479.3L356.87 497.5L356.92 483.6L356.97 501.3L357.02 489.8L357.07 500.4L357.12 492.9L357.18 500.8L357.23 472.2L357.28 500L357.33 486.9L357.38 499.7L357.43 478.8L357.48 498L357.54 490.7L357.59 497.2L357.64 492.7L357.69 498.5L357.74 491.5L357.79 498.8L357.85 486.2L357.9 501.3L357.95 491.4L358 501.4L358.05 486.2L358.1 501.5L358.15 490.8L358.21 500.9L358.26 487L358.31 498.8L358.36 494L358.41 499.3L358.46 491.4L358.52 499.6L358.57 468.2L358.62 501.3L358.67 484.6L358.72 500.3L358.77 484.2L358.82 500.4L358.88 473.6L358.93 498.4L358.98 478.5L359.03 497.6L359.08 488.1L359.13 498.6L359.19 480.7L359.24 500.5L359.29 477.6L359.34 498.2L359.39 471.8L359.44 501.1L359.49 477.1L359.55 501.4L359.6 479.6L359.65 498.7L359.7 480.4L359.75 502.3L359.8 479.7L359.86 498.8L359.91 466.2L359.96 500.9L360.01 487.7L360.06 497L360.11 487.8L360.17 496.9L360.22 483.2L360.27 500.5L360.32 474.2L360.37 501.9L360.42 481.8L360.47 499.4L360.53 461.8L360.58 498.6L360.63 484.1L360.68 501.5L360.73 471L360.78 500.6L360.84 484.1L360.89 501.4L360.94 479.6L360.99 502L361.04 481.6L361.09 501.5L361.14 458.6L361.2 498.5L361.25 457.2L361.3 502.2L361.35 471.5L361.4 500.2L361.45 478.8L361.51 501.4L361.56 476.4L361.61 500L361.66 472.3L361.71 495.4L361.76 481.9L361.81 501.7L361.87 482.6L361.92 501.9L361.97 488.8L362.02 497.8L362.07 490.5L362.12 500.6L362.18 480.7L362.23 502.2L362.28 478.3L362.33 502.5L362.38 485.6L362.43 501.6L362.48 483.5L362.54 499.5L362.59 482.3L362.64 500L362.69 485.9L362.74 500.9L362.79 491.3L362.85 499.2L362.9 489.5L362.95 501.1L363 488L363.05 501.4L363.1 481.4L363.15 500.4L363.21 479.9L363.26 500.2L363.31 484.9L363.36 502.5L363.41 490L363.46 499L363.52 485.2L363.57 499.6L363.62 476.5L363.67 501L363.72 477.2L363.77 497.6L363.82 491.6L363.88 502L363.93 474.1L363.98 501L364.03 479.5L364.08 502.4L364.13 487.8L364.19 501.4L364.24 486.2L364.29 500.6L364.34 491.2L364.39 501.1L364.44 491.9L364.49 501.6L364.55 489L364.6 502.4L364.65 487.7L364.7 501.8L364.75 485.1L364.8 501.1L364.86 481.6L364.91 496.7L364.96 483.7L365.01 499.5L365.06 488.2L365.11 499.6L365.17 491.6L365.22 500.3L365.27 489.3L365.32 500.4L365.37 486.4L365.42 500.8L365.47 488.3L365.53 502.5L365.58 491.9L365.63 502.4L365.68 488.2L365.73 501.3L365.78 489.6L365.84 501L365.89 482.8L365.94 498.3L365.99 487L366.04 501.3L366.09 491.6L366.14 501.3L366.2 487.7L366.25 500.9L366.3 484.5L366.35 501.4L366.4 493.5L366.45 501.4L366.51 495.3L366.56 500.8L366.61 490.9L366.66 499.8L366.71 485.7L366.76 501.1L366.81 497.3L366.87 498.8L366.92 493.9L366.97 501.6L367.02 488.4L367.07 500.5L367.12 495.7L367.18 501.1L367.23 489.4L367.28 499.3L367.33 495.4L367.38 499.2L367.43 493.3L367.48 500.4L367.54 495.6L367.59 500L367.64 492.6L367.69 502.4L367.74 494L367.79 502.6L367.85 496.1L367.9 501.2L367.95 488.5L368 501.5L368.05 489.8L368.1 500.3L368.15 492.5L368.21 502.4L368.26 478.9L368.31 500.3L368.36 492.3L368.41 502.1L368.46 492.1L368.52 501.9L368.57 495.9L368.62 502.5L368.67 491.5L368.72 502.2L368.77 494.6L368.82 500.8L368.88 489.5L368.93 500.9L368.98 496.2L369.03 502.6L369.08 495.2L369.13 501.9L369.19 496.5L369.24 501.8L369.29 496.6L369.34 501.4L369.39 492.6L369.44 502.1L369.49 497.2L369.55 501.8L369.6 497.2L369.65 502L369.7 495.1L369.75 500L369.8 495.2L369.86 502.6L369.91 496.3L369.96 502.5L370.01 494.4L370.06 502.1L370.11 495.2L370.17 501.3L370.22 493.7L370.27 501.4L370.32 496.2L370.37 502.1L370.42 491.9L370.47 501.5L370.53 488.3L370.58 502.5L370.63 483.1L370.68 500.2L370.73 496.7L370.78 500.9L370.84 494.4L370.89 500.6L370.94 498.1L370.99 501.3L371.04 495.6L371.09 502.5L371.14 497L371.2 502.6L371.25 497.8L371.3 502.4L371.35 493.1L371.4 501.5L371.45 496.8L371.51 501.6L371.56 496L371.61 501.6L371.66 495.1L371.71 501.5L371.76 496L371.81 502.4L371.87 495.2L371.92 502.3L371.97 497.9L372.02 502L372.07 497L372.12 502.2L372.18 494L372.23 501.7L372.28 497.6L372.33 501.7L372.38 495.5L372.43 502.5L372.48 496.2L372.54 501.3L372.59 494.7L372.64 502.5L372.69 494.5L372.74 501.6L372.79 497.5L372.85 500.6L372.9 496.5L372.95 500.7L373 492.1L373.05 501.2L373.1 498.1L373.15 502.2L373.21 498L373.26 501.7L373.31 498.1L373.36 502L373.41 498.3L373.46 502.3L373.52 498.3L373.57 502.2L373.62 498.6L373.67 502L373.72 499L373.77 502.5L373.82 497.3L373.88 501.5L373.93 496.9L373.98 501.9L374.03 497.6L374.08 501.9L374.13 499.8L374.19 502.1L374.24 498.7L374.29 501.7L374.34 496.9L374.39 501.8L374.44 499.1L374.5 501.8L374.55 498.7L374.6 501.5L374.65 497.2L374.7 502.4L374.75 499.1L374.8 501.6L374.86 497.2L374.91 501.8L374.96 499L375.01 502.2L375.06 499.1L375.11 501.9L375.17 499.1L375.22 501.9L375.27 499.7L375.32 502L375.37 498.3L375.42 501.6L375.47 500.5L375.53 502.4L375.58 499.1L375.63 502.4L375.68 499.7L375.73 502.3L375.78 500.7L375.84 501.9L375.89 500.3L375.94 502.5L375.99 499.1L376.04 502.5L376.09 498.6L376.14 502.4L376.2 500L376.25 502.2L376.3 500.1L376.35 502.3L376.4 499.8L376.45 502.5L376.51 500.4L376.56 502.6L376.61 499.8L376.66 502.3L376.71 500.4L376.76 502.4L376.81 500L376.87 502.5L376.92 501.1L376.97 502.1L377.02 499.9L377.07 501.9L377.12 500.3L377.18 502L377.23 499L377.28 502.3L377.33 499.8L377.38 501.5L377.43 499.4L377.48 502.5L377.54 498.9L377.59 502.1L377.64 499.7L377.69 502.2L377.74 500.4L377.79 502.5L377.85 500.1L377.9 502.5L377.95 501.7L378 502.2L378.05 500.8L378.1 502.2L378.15 500.3L378.21 502.4L378.26 500.7L378.31 502.2L378.36 501.1L378.41 502.6L378.46 500.9L378.52 502.3L378.57 501.1L378.62 502.4L378.67 500.4L378.72 502.4L378.77 501.1L378.82 502.2L378.88 500.7L378.93 502.4L378.98 501.3L379.03 502.2L379.08 500.9L379.13 502L379.19 500.5L379.24 502.5L379.29 500.9L379.34 502.3L379.39 500.5L379.44 502.5L379.5 500.3L379.55 502.3L379.6 499.5L379.65 502.2L379.7 500L379.75 502.2L379.8 499.8L379.86 502.3L379.91 499.8L379.96 502.4L380.01 500.7L380.06 502.4L380.11 501.7L380.17 502.5L380.22 501.7L380.27 502.3L380.32 501.2L380.37 502.4L380.42 501.2L380.47 502.4L380.53 501.6L380.58 502.3L380.63 501L380.68 502.5L380.73 501.5L380.78 502.4L380.84 501.3L380.89 502.3L380.94 501.8L380.99 502.5L381.04 501.2L381.09 502.4L381.14 501L381.2 502.5L381.25 501.7L381.3 502.3L381.35 501.7L381.4 502.6L381.45 501.9L381.51 502.5L381.56 501.8L381.61 502.4L381.66 501.2L381.71 502.4L381.76 501.4L381.81 502.5L381.87 500.7L381.92 502L381.97 500.6L382.02 502L382.07 501.4L382.12 502.4L382.18 500.4L382.23 502.5L382.28 501.4L382.33 502.5L382.38 501.6L382.43 502.6L382.48 501.2L382.54 502.6L382.59 500.9L382.64 502.4L382.69 501.8L382.74 502.6L382.79 501.1L382.85 502.5L382.9 501.9L382.95 502.3L383 501.6L383.05 502.5L383.1 501.7L383.15 502.5L383.21 501.5L383.26 502.6L383.31 501.3L383.36 502.4L383.41 501.6L383.46 502.4L383.52 501.6L383.57 502.4L383.62 501.7L383.67 502.6L383.72 502L383.77 502.4L383.82 501.9L383.88 502.4L383.93 501.2L383.98 502.4L384.03 501.6L384.08 502.4L384.13 501.2L384.19 502.5L384.24 501.7L384.29 502.3L384.34 501.8L384.39 502.4L384.44 501.2L384.5 502.4L384.55 501.3L384.6 502.6L384.65 502L384.7 502.5L384.75 501.6L384.8 502.6L384.86 501.6L384.91 502.3L384.96 501.8L385.01 502.5L385.06 501.5L385.11 502.6L385.17 501.3L385.22 502.6L385.27 501.4L385.32 502.4L385.37 502.1L385.42 502.5L385.47 501.8L385.53 502.4L385.58 501.8L385.63 502.4L385.68 501.9L385.73 502.3L385.78 502.1L385.84 502.6L385.89 501.5L385.94 502.4L385.99 501.4L386.04 502.4L386.09 502L386.14 502.5L386.2 501L386.25 502.4L386.3 501.3L386.35 502.4L386.4 500.8L386.45 502.3L386.51 500.5L386.56 502.3L386.61 501.2L386.66 502.4L386.71 501.8L386.76 502.4L386.81 501L386.87 502.5L386.92 502L386.97 502.4L387.02 502L387.07 502.6L387.12 501.8L387.18 502.5L387.23 501.8L387.28 502.6L387.33 501.7L387.38 502.5L387.43 501.8L387.48 502.5L387.54 501.1L387.59 502.6L387.64 501.9L387.69 502.5L387.74 501.4L387.79 502.5L387.85 502L387.9 502.6L387.95 501.9L388 502.5L388.05 501.8L388.1 502.4L388.15 501.5L388.21 502.5L388.26 501.9L388.31 502.4L388.36 501.6L388.41 502.4L388.46 501.2L388.52 502.3L388.57 502L388.62 502.4L388.67 501.4L388.72 502.4L388.77 501.8L388.82 502.5L388.88 500.8L388.93 502.4L388.98 501.8L389.03 502.5L389.08 501.7L389.13 502.6L389.19 502L389.24 502.3L389.29 502.1L389.34 502.4L389.39 501.7L389.44 502.4L389.5 501.8L389.55 502.5L389.6 501.5L389.65 502.4L389.7 501.7L389.75 502.4L389.8 501.7L389.86 502.5L389.91 502L389.96 502.6L390.01 502L390.06 502.6L390.11 501.6L390.17 502.6L390.22 502L390.27 502.4L390.32 502L390.37 502.5L390.42 501.6L390.47 502.5L390.53 501.8L390.58 502.5L390.63 501.8L390.68 502.5L390.73 501.6L390.78 502.6L390.84 502L390.89 502.4L390.94 501.8L390.99 502.6L391.04 501.5L391.09 502.5L391.14 501.3L391.2 502.4L391.25 501.6L391.3 502.4L391.35 501.5L391.4 502.5L391.45 501.6L391.51 502.4L391.56 502L391.61 502.5L391.66 501.9L391.71 502.4L391.76 501.5L391.81 502.5L391.87 502.1L391.92 502.4L391.97 502.1L392.02 502.5L392.07 501.6L392.12 502.4L392.18 501.9L392.23 502.6L392.28 502.3L392.33 502.6L392.38 502.1L392.43 502.5L392.48 502L392.54 502.5L392.59 502L392.64 502.5L392.69 502.2L392.74 502.5L392.79 501.8L392.85 502.5L392.9 501.8L392.95 502.5L393 502L393.05 502.4L393.1 501.6L393.15 502.6L393.21 501.9L393.26 502.4L393.31 501.5L393.36 502.4L393.41 501.2L393.46 502.5L393.52 501.8L393.57 502.5L393.62 501.5L393.67 502.3L393.72 502.1L393.77 502.5L393.83 502.1L393.88 502.5L393.93 501.7L393.98 502.5L394.03 502L394.08 502.6L394.13 501.6L394.19 502.6L394.24 501.5L394.29 502.6L394.34 502L394.39 502.6L394.44 502.2L394.5 502.5L394.55 501.9L394.6 502.5L394.65 502.2L394.7 502.5L394.75 501.9L394.8 502.6L394.86 502.2L394.91 502.5L394.96 501.9L395.01 502.5L395.06 502L395.11 502.5L395.17 501.9L395.22 502.6L395.27 502L395.32 502.5L395.37 502L395.42 502.5L395.47 501.7L395.53 502.5L395.58 501.8L395.63 502.6L395.68 501.8L395.73 502.4L395.78 501.9L395.84 502.5L395.89 501.9L395.94 502.5L395.99 501.6L396.04 502.4L396.09 501.9L396.14 502.5L396.2 502.1L396.25 502.5L396.3 501.9L396.35 502.6L396.4 501.9L396.45 502.5L396.51 502.2L396.56 502.5L396.61 501.8L396.66 502.5L396.71 502L396.76 502.5L396.81 502L396.87 502.5L396.92 502.1L396.97 502.5L397.02 502.3L397.07 502.5L397.12 502L397.18 502.6L397.23 502.2L397.28 502.6L397.33 502.2L397.38 502.5L397.43 502L397.48 502.5L397.54 502.1L397.59 502.6L397.64 501.8L397.69 502.6L397.74 502.1L397.79 502.5L397.85 502L397.9 502.6L397.95 501.6L398 502.6L398.05 501.9L398.1 502.6L398.15 501.8L398.21 502.6L398.26 501.9L398.31 502.5L398.36 502.1L398.41 502.5L398.46 502.3L398.52 502.5L398.57 502L398.62 502.6L398.67 501.9L398.72 502.6L398.77 502.3L398.83 502.5L398.88 502.3L398.93 502.6L398.98 502.3L399.03 502.5L399.08 502L399.13 502.6L399.19 502.1L399.24 502.6L399.29 502.1L399.34 502.6L399.39 502.3L399.44 502.5L399.5 502L399.55 502.6L399.6 502.2L399.65 502.6L399.7 502.2L399.75 502.6L399.8 502.3L399.86 502.5L399.91 502.3L399.96 502.6L400.01 501.9L400.06 502.6L400.11 502.2L400.17 502.5L400.22 501.9L400.27 502.5L400.32 501.4L400.37 502.4L400.42 501.7L400.47 502.5L400.53 501.9L400.58 502.5L400.63 502L400.68 502.6L400.73 502L400.78 502.5L400.84 502.2L400.89 502.6L400.94 502.2L400.99 502.6L401.04 501.6L401.09 502.5L401.14 502.3L401.2 502.5L401.25 502.3L401.3 502.6L401.35 502L401.4 502.6L401.45 502.1L401.51 502.6L401.56 502.2L401.61 502.6L401.66 502.3L401.71 502.6L401.76 502.3L401.81 502.5L401.87 502.3L401.92 502.5L401.97 502.2L402.02 502.6L402.07 502.2L402.12 502.5L402.18 502.1L402.23 502.6L402.28 502L402.33 502.6L402.38 502.2L402.43 502.4L402.48 502.1L402.54 502.5L402.59 501.7L402.64 502.5L402.69 501.7L402.74 502.6L402.79 502L402.85 502.6L402.9 502.1L402.95 502.5L403 501.9L403.05 502.6L403.1 502.3L403.15 502.5L403.21 502.2L403.26 502.6L403.31 502.1L403.36 502.6L403.41 502.1L403.46 502.6L403.52 502L403.57 502.6L403.62 502.2L403.67 502.6L403.72 502L403.77 502.5L403.83 502.2L403.88 502.6L403.93 502.2L403.98 502.6L404.03 502L404.08 502.6L404.13 502.1L404.19 502.6L404.24 502.1L404.29 502.6L404.34 502L404.39 502.5L404.44 502.1L404.5 502.6L404.55 502.2L404.6 502.6L404.65 502L404.7 502.6L404.75 502L404.8 502.5L404.86 502.2L404.91 502.5L404.96 501.9L405.01 502.5L405.06 502L405.11 502.6L405.17 502.2L405.22 502.5L405.27 502.2L405.32 502.6L405.37 502.2L405.42 502.6L405.47 502.1L405.53 502.6L405.58 502.4L405.63 502.6L405.68 502.3L405.73 502.5L405.78 502.3L405.84 502.6L405.89 502.3L405.94 502.5L405.99 502.2L406.04 502.6L406.09 502.2L406.14 502.6L406.2 502L406.25 502.6L406.3 502.1L406.35 502.6L406.4 502.2L406.45 502.6L406.51 502.2L406.56 502.4L406.61 501.9L406.66 502.5L406.71 502.1L406.76 502.5L406.81 502.3L406.87 502.5L406.92 502.1L406.97 502.5L407.02 502.1L407.07 502.6L407.12 501.9L407.18 502.6L407.23 502.2L407.28 502.6L407.33 502L407.38 502.5L407.43 502L407.48 502.5L407.54 501.8L407.59 502.5L407.64 502.3L407.69 502.6L407.74 502.3L407.79 502.5L407.85 502L407.9 502.6L407.95 502.2L408 502.5L408.05 502.2L408.1 502.6L408.15 502.2L408.21 502.6L408.26 502.3L408.31 502.5L408.36 502.1L408.41 502.6L408.46 502.1L408.52 502.5L408.57 502.1L408.62 502.6L408.67 502.1L408.72 502.5L408.77 502.2L408.83 502.5L408.88 502.3L408.93 502.6L408.98 502.2L409.03 502.6L409.08 502L409.13 502.6L409.19 502.2L409.24 502.6L409.29 502L409.34 502.4L409.39 502.1L409.44 502.5L409.5 502.2L409.55 502.6L409.6 502.2L409.65 502.5L409.7 502.2L409.75 502.6L409.8 501.9L409.86 502.5L409.91 502.4L409.96 502.6L410.01 502.2L410.06 502.6L410.11 502.4L410.17 502.6L410.22 502.2L410.27 502.6L410.32 502.2L410.37 502.6L410.42 502.3L410.47 502.6L410.53 502.2L410.58 502.5L410.63 502.3L410.68 502.6L410.73 502.2L410.78 502.6L410.84 502.3L410.89 502.6L410.94 502.2L410.99 502.6L411.04 502.3L411.09 502.5L411.14 502.1L411.2 502.5L411.25 502.1L411.3 502.6L411.35 502.4L411.4 502.5L411.45 502.2L411.51 502.6L411.56 502.1L411.61 502.6L411.66 502.3L411.71 502.6L411.76 501.9L411.81 502.6L411.87 502.1L411.92 502.6L411.97 502.2L412.02 502.6L412.07 502.1L412.12 502.6L412.18 502.3L412.23 502.6L412.28 502.3L412.33 502.6L412.38 502.3L412.43 502.6L412.48 502.4L412.54 502.5L412.59 502.3L412.64 502.6L412.69 502.4L412.74 502.6L412.79 502.4L412.85 502.6L412.9 502.2L412.95 502.5L413 502.4L413.05 502.6L413.1 502.1L413.16 502.6L413.21 502.3L413.26 502.6L413.31 502.4L413.36 502.6L413.41 502.4L413.46 502.6L413.52 502.4L413.57 502.6L413.62 502.4L413.67 502.5L413.72 502.2L413.77 502.6L413.83 502.3L413.88 502.5L413.93 502.1L413.98 502.6L414.03 502.2L414.08 502.5L414.13 502.2L414.19 502.6L414.24 502.2L414.29 502.6L414.34 502.1L414.39 502.5L414.44 502.4L414.5 502.6L414.55 502.2L414.6 502.6L414.65 502.4L414.7 502.6L414.75 502.3L414.8 502.6L414.86 502.3L414.91 502.6L414.96 502.3L415.01 502.6L415.06 502.3L415.11 502.6L415.17 502.4L415.22 502.6L415.27 502.3L415.32 502.6L415.37 502.2L415.42 502.5L415.47 502.2L415.53 502.6L415.58 502.4L415.63 502.6L415.68 502.3L415.73 502.5L415.78 502.3L415.84 502.5L415.89 502.4L415.94 502.6L415.99 502.3L416.04 502.6L416.09 502.3L416.14 502.6L416.2 502.2L416.25 502.6L416.3 502.2L416.35 502.5L416.4 502.2L416.45 502.6L416.51 502.2L416.56 502.6L416.61 502.2L416.66 502.6L416.71 502.3L416.76 502.5L416.81 502.2L416.87 502.6L416.92 502.4L416.97 502.6L417.02 502.4L417.07 502.5L417.12 502.4L417.18 502.5L417.23 502.3L417.28 502.6L417.33 502.3L417.38 502.6L417.43 502.4L417.48 502.6L417.54 502.4L417.59 502.6L417.64 502.3L417.69 502.6L417.74 502.4L417.79 502.6L417.85 502.4L417.9 502.6L417.95 502.2L418 502.6L418.05 502.3L418.1 502.5L418.16 502.3L418.21 502.6L418.26 502.5L418.31 502.6L418.36 502.3L418.41 502.6L418.46 502.1L418.52 502.6L418.57 502L418.62 502.5L418.67 502.3L418.72 502.5L418.77 501.9L418.83 502.5L418.88 502.3L418.93 502.6L418.98 502.2L419.03 502.5L419.08 502.3L419.13 502.6L419.19 502.4L419.24 502.5L419.29 502.4L419.34 502.6L419.39 502.3L419.44 502.5L419.5 502.4L419.55 502.6L419.6 502.3L419.65 502.5L419.7 502.3L419.75 502.6L419.8 502.4L419.86 502.6L419.91 502.4L419.96 502.6L420.01 502.4L420.06 502.6L420.11 502.2L420.17 502.5L420.22 502.3L420.27 502.6L420.32 502.3L420.37 502.6L420.42 502.4L420.47 502.6L420.53 502.4L420.58 502.5L420.63 502.3L420.68 502.6L420.73 502.2L420.78 502.6L420.84 502.4L420.89 502.6L420.94 502.3L420.99 502.5L421.04 502.1L421.09 502.6L421.14 502.2L421.2 502.5L421.25 502.2L421.3 502.6L421.35 502.5L421.4 502.5L421.45 502.2L421.51 502.5L421.56 502.3L421.61 502.5L421.66 502.3L421.71 502.6L421.76 502.4L421.81 502.5L421.87 502.4L421.92 502.6L421.97 502.2L422.02 502.6L422.07 502.3L422.12 502.5L422.18 502.4L422.23 502.5L422.28 502.3L422.33 502.6L422.38 502.4L422.43 502.6L422.48 502.4L422.54 502.6L422.59 502.4L422.64 502.5L422.69 502.4L422.74 502.6L422.79 502.4L422.85 502.6L422.9 502.4L422.95 502.6L423 502.2L423.05 502.6L423.1 502.3L423.16 502.5L423.21 502.2L423.26 502.6L423.31 502.1L423.36 502.6L423.41 502.3L423.46 502.5L423.52 502.1L423.57 502.6L423.62 502.4L423.67 502.5L423.72 502.4L423.77 502.6L423.83 502.3L423.88 502.6L423.93 502.3L423.98 502.6L424.03 502.3L424.08 502.6L424.13 502.4L424.19 502.6L424.24 502.5L424.29 502.5L424.34 502.5L424.39 502.6L424.44 502.4L424.5 502.5L424.55 502.4L424.6 502.5L424.65 502.4L424.7 502.6L424.75 502.3L424.8 502.6L424.86 502.3L424.91 502.6L424.96 502.3L425.01 502.6L425.11 502.6L425.17 502.4L425.22 502.6L425.27 502.4L425.32 502.6L425.37 502.4L425.42 502.6L425.47 502.3L425.53 502.5L425.58 502.2L425.63 502.6L425.68 502.2L425.73 502.6L425.78 502.4L425.84 502.6L425.89 502.3L425.94 502.6L425.99 502.4L426.04 502.6L426.09 502.4L426.14 502.6L426.2 502.4L426.25 502.6L426.3 502.4L426.35 502.6L426.4 502.3L426.45 502.6L426.51 502.4L426.56 502.6L426.61 502.4L426.66 502.6L426.71 502.3L426.76 502.6L426.81 502.4L426.87 502.6L426.92 502.4L426.97 502.6L427.02 502.4L427.07 502.6L427.12 502.4L427.18 502.5L427.23 502.5L427.28 502.6L427.33 502.4L427.38 502.6L427.43 502.4L427.48 502.5L427.54 502.3L427.59 502.6L427.64 502.2L427.69 502.6L427.74 502.4L427.79 502.6L427.85 502L427.9 502.5L427.95 502.3L428 502.6L428.05 502.3L428.1 502.6L428.16 502.2L428.21 502.6L428.26 502.4L428.31 502.6L428.36 502.3L428.41 502.6L428.46 502.4L428.52 502.6L428.57 502.3L428.62 502.5L428.67 502.5L428.72 502.6L428.77 502.3L428.83 502.6L428.88 502.4L428.93 502.6L428.98 502.4L429.03 502.6L429.08 502.3L429.13 502.5L429.19 502.4L429.24 502.6L429.29 502.3L429.34 502.6L429.39 502.4L429.44 502.6L429.5 502.3L429.55 502.6L429.6 502.3L429.65 502.6L429.7 502.4L429.75 502.6L429.8 502.3L429.86 502.6L429.91 502.4L429.96 502.5L430.01 502.2L430.06 502.5L430.11 502.4L430.17 502.5L430.22 502.3L430.27 502.6L430.32 502.3L430.37 502.6L430.42 502.1L430.47 502.6L430.53 502.4L430.58 502.6L430.63 502.4L430.68 502.6L430.73 502.4L430.78 502.6L430.84 502.4L430.89 502.6L430.94 502.4L430.99 502.6L431.04 502.4L431.09 502.6L431.14 502.5L431.2 502.6L431.25 502.3L431.3 502.5L431.35 502.3L431.4 502.6L431.45 502.4L431.51 502.6L431.56 502.4L431.61 502.6L431.66 502.4L431.71 502.6L431.76 502.4L431.81 502.6L431.92 502.6L431.97 502.4L432.02 502.6L432.07 502.4L432.12 502.6L432.18 502.3L432.23 502.5L432.28 502.2L432.33 502.5L432.38 501.9L432.43 502.5L432.49 502.1L432.54 502.6L432.59 502.2L432.64 502.6L432.69 502.1L432.74 502.5L432.79 502.3L432.85 502.6L432.9 502.3L432.95 502.6L433 502.3L433.05 502.6L433.1 502.3L433.16 502.5L433.21 502.4L433.26 502.6L433.31 502.3L433.36 502.6L433.41 502.4L433.46 502.6L433.52 502.4L433.57 502.6L433.62 502.4L433.67 502.6L433.72 502.4L433.77 502.6L433.83 502.3L433.88 502.5L433.93 502.3L433.98 502.6L434.03 502.3L434.08 502.6L434.13 502.3L434.19 502.5L434.24 502.4L434.29 502.6L434.34 502.4L434.39 502.6L434.44 502.3L434.5 502.5L434.55 502.1L434.6 502.6L434.65 502.4L434.7 502.6L434.75 502.2L434.8 502.5L434.86 502.2L434.91 502.6L434.96 502.3L435.01 502.6L435.06 502.2L435.11 502.6L435.17 502.3L435.22 502.6L435.27 502.4L435.32 502.6L435.37 502.4L435.42 502.5L435.47 502.5L435.53 502.6L435.58 502.3L435.63 502.6L435.68 502.4L435.73 502.5L435.78 502.2L435.84 502.6L435.89 502.3L435.94 502.6L435.99 502.4L436.04 502.6L436.09 502.4L436.14 502.6L436.2 502.5L436.25 502.6L436.3 502.3L436.35 502.6L436.4 502.4L436.45 502.6L436.51 502.3L436.56 502.6L436.61 502.4L436.66 502.6L436.71 502.3L436.76 502.6L436.81 502.4L436.87 502.6L436.92 502.2L436.97 502.6L437.02 502.2L437.07 502.6L437.12 502.3L437.18 502.6L437.23 502.1L437.28 502.6L437.33 502.3L437.38 502.5L437.43 502.4L437.49 502.6L437.54 502.3L437.59 502.5L437.64 502.4L437.69 502.6L437.74 502.4L437.79 502.6L437.85 502.3L437.9 502.6L437.95 502.3L438 502.6L438.05 502.4L438.1 502.6L438.16 502.4L438.21 502.6L438.26 502.3L438.31 502.6L438.36 502.4L438.41 502.6L438.46 502.4L438.52 502.6L438.57 502.4L438.62 502.5L438.67 502.4L438.72 502.6L438.77 502.3L438.83 502.6L438.88 502.5L438.93 502.6L438.98 502.4L439.03 502.6L439.08 502.5L439.13 502.5L439.19 502.3L439.24 502.5L439.29 502.3L439.34 502.6L439.39 502.1L439.44 502.5L439.5 502.2L439.55 502.5L439.6 502.3L439.65 502.5L439.7 502.3L439.75 502.5L439.8 502.5L439.86 502.6L439.91 502.4L439.96 502.6L440.01 502.4L440.06 502.6L440.11 502.3L440.17 502.6L440.22 502.4L440.27 502.6L440.32 502.3L440.37 502.6L440.42 502.4L440.47 502.6L440.53 502.4L440.58 502.6L440.63 502.3L440.68 502.6L440.73 502.3L440.78 502.6L440.84 502.3L440.89 502.6L440.94 502.3L440.99 502.6L441.04 502.4L441.09 502.6L441.14 502.4L441.2 502.5L441.25 502.2L441.3 502.6L441.35 502.4L441.4 502.6L441.45 502.2L441.51 502.6L441.56 502.3L441.61 502.6L441.66 502.3L441.71 502.5L441.76 502.3L441.81 502.5L441.87 502.2L441.92 502.6L441.97 502.4L442.02 502.6L442.07 502.3L442.12 502.5L442.18 502.3L442.23 502.6L442.28 502.4L442.33 502.5L442.38 502.4L442.43 502.6L442.49 502.3L442.54 502.6L442.59 502.4L442.64 502.6L442.69 502.4L442.74 502.6L442.79 502.4L442.85 502.6L442.9 502.3L442.95 502.5L443 502.4L443.05 502.5L443.1 502.4L443.16 502.6L443.21 502.4L443.26 502.6L443.36 502.5L443.41 502.4L443.46 502.6L443.52 502.4L443.57 502.6L443.62 502.3L443.67 502.5L443.72 502.1L443.77 502.6L443.83 502.3L443.88 502.5L443.93 502.1L443.98 502.6L444.03 502.3L444.08 502.6L444.13 502.3L444.19 502.6L444.24 502.4L444.29 502.6L444.34 502.4L444.39 502.6L444.44 502.4L444.5 502.5L444.55 502.3L444.6 502.6L444.65 502.3L444.7 502.6L444.75 502.4L444.8 502.6L444.86 502.5L444.91 502.6L444.96 502.3L445.01 502.6L445.06 502.4L445.11 502.6L445.17 502.4L445.22 502.5L445.27 502.4L445.32 502.6L445.37 502.4L445.42 502.6L445.47 502.4L445.53 502.6L445.58 502.4L445.63 502.6L445.68 502.3L445.73 502.6L445.78 502.3L445.84 502.6L445.89 502.3L445.94 502.6L445.99 502.3L446.04 502.6L446.09 502.4L446.14 502.6L446.2 502.1L446.25 502.6L446.3 502.2L446.35 502.6L446.4 502.4L446.45 502.6L446.51 502.2L446.56 502.6L446.61 502.3L446.66 502.6L446.71 502.3L446.76 502.6L446.81 502.4L446.87 502.5L446.92 502.4L446.97 502.6L447.02 502.4L447.07 502.6L447.12 502.4L447.18 502.6L447.23 502.2L447.28 502.6L447.33 502.3L447.38 502.6L447.43 502.4L447.49 502.6L447.54 502.3L447.59 502.6L447.64 502.3L447.69 502.6L447.74 502.4L447.79 502.6L447.85 502.2L447.9 502.6L447.95 502.3L448 502.6L448.05 502.4L448.1 502.6L448.16 502.4L448.21 502.6L448.26 502.4L448.31 502.6L448.36 502.2L448.41 502.6L448.46 502.2L448.52 502.6L448.57 502.3L448.62 502.6L448.67 502.3L448.72 502.6L448.77 502.3L448.83 502.6L448.88 502.3L448.93 502.6L448.98 502.3L449.03 502.6L449.08 502.3L449.13 502.6L449.19 502.3L449.24 502.6L449.29 502.4L449.34 502.6L449.39 502.4L449.44 502.5L449.5 502.4L449.55 502.6L449.6 502.4L449.65 502.6L449.7 502.4L449.75 502.6L449.8 502.4L449.86 502.6L449.91 502.4L449.96 502.6L450.01 502.3L450.06 502.6L450.11 502.2L450.17 502.6L450.22 502.4L450.27 502.6L450.32 502.4L450.37 502.6L450.42 502.4L450.47 502.6L450.53 502.4L450.58 502.6L450.63 502.4L450.68 502.6L450.73 502.4L450.78 502.6L450.84 502.2L450.89 502.6L450.94 502.2L450.99 502.5L451.04 502.3L451.09 502.6L451.14 502.4L451.2 502.6L451.25 502.4L451.3 502.6L451.35 502.4L451.4 502.6L451.45 502.5L451.51 502.6L451.56 502.4L451.61 502.6L451.66 502.4L451.71 502.6L451.76 502.4L451.82 502.6L451.87 502.4L451.92 502.6L451.97 502.5L452.02 502.6L452.07 502.4L452.12 502.6L452.18 502.4L452.23 502.6L452.28 502.4L452.33 502.6L452.38 502.4L452.43 502.6L452.49 502.3L452.54 502.6L452.59 502.4L452.64 502.6L452.74 502.6L452.79 502.4L452.85 502.6L452.9 502.4L452.95 502.6L453 502.1L453.05 502.6L453.1 502.2L453.16 502.6L453.21 502.1L453.26 502.5L453.31 502.3L453.36 502.6L453.41 502.3L453.46 502.5L453.52 502.4L453.57 502.6L453.62 502.4L453.67 502.6L453.77 502.6L453.83 502.4L453.88 502.6L453.93 502.5L453.98 502.6L454.03 502.4L454.08 502.6L454.13 502.3L454.19 502.6L454.24 502.4L454.29 502.5L454.34 502.4L454.39 502.5L454.44 502.3L454.5 502.6L454.55 502.3L454.6 502.6L454.65 502.3L454.7 502.6L454.75 502.3L454.8 502.6L454.86 502.4L454.91 502.6L454.96 502.4L455.01 502.6L455.06 502.4L455.11 502.6L455.17 502.4L455.22 502.6L455.27 502.1L455.32 502.6L455.37 502.4L455.42 502.6L455.47 502.2L455.53 502.6L455.58 502.3L455.63 502.5L455.68 502.3L455.73 502.6L455.78 502.4L455.84 502.6L455.89 502.5L455.94 502.6L455.99 502.4L456.04 502.6L456.09 502.4L456.14 502.6L456.2 502.4L456.25 502.6L456.3 502.3L456.35 502.6L456.4 502.4L456.45 502.6L456.51 502.4L456.56 502.6L456.61 502.5L456.66 502.6L456.71 502.4L456.76 502.6L456.82 502.4L456.87 502.6L456.92 502.4L456.97 502.6L457.02 502.3L457.07 502.6L457.12 502.4L457.18 502.6L457.23 502.4L457.28 502.6L457.33 502.4L457.38 502.6L457.43 502.3L457.49 502.6L457.54 502.4L457.59 502.6L457.64 502.2L457.69 502.5L457.74 502.2L457.79 502.5L457.85 502.3L457.9 502.6L457.95 502.4L458 502.6L458.05 502.4L458.1 502.6L458.16 502.4L458.21 502.6L458.26 502.4L458.31 502.6L458.36 502.3L458.41 502.6L458.46 502.3L458.52 502.6L458.57 502.4L458.62 502.6L458.67 502.5L458.72 502.6L458.77 502.4L458.83 502.6L458.93 502.6L458.98 502.5L459.03 502.6L459.08 502.5L459.13 502.5L459.19 502.3L459.24 502.6L459.29 502.4L459.34 502.6L459.39 502.4L459.44 502.6L459.5 502.3L459.55 502.6L459.6 502.5L459.65 502.6L459.7 502.3L459.75 502.6L459.8 502.1L459.86 502.6L459.91 502.1L459.96 502.6L460.01 502.3L460.06 502.6L460.11 502.3L460.17 502.6L460.22 502.4L460.27 502.6L460.32 502.3L460.37 502.6L460.42 502.4L460.47 502.6L460.53 502.4L460.58 502.6L460.63 502.4L460.68 502.6L460.73 502.4L460.78 502.6L460.84 502.3L460.89 502.6L460.94 502.4L460.99 502.6L461.04 502.3L461.09 502.6L461.14 502.4L461.2 502.6L461.25 502.4L461.3 502.6L461.35 502.5L461.4 502.6L461.45 502.3L461.51 502.6L461.56 502.4L461.61 502.6L461.66 502.4L461.71 502.5L461.76 502.4L461.82 502.6L461.87 502.4L461.92 502.6L461.97 502.4L462.02 502.5L462.07 502.1L462.12 502.6L462.18 502.2L462.23 502.5L462.28 502.4L462.33 502.6L462.38 502.3L462.43 502.5L462.49 502.4L462.54 502.5L462.59 502.3L462.64 502.6L462.69 502.4L462.74 502.6L462.79 502.4L462.85 502.6L462.9 502.4L462.95 502.6L463 502.5L463.05 502.6L463.1 502.4L463.16 502.6L463.21 502.4L463.26 502.6L463.31 502.3L463.36 502.6L463.41 502.5L463.46 502.6L463.52 502.4L463.57 502.6L463.62 502.4L463.67 502.6L463.72 502.5L463.77 502.6L463.83 502.3L463.88 502.6L463.93 502.5L463.98 502.6L464.03 502.4L464.08 502.6L464.13 502.4L464.19 502.6L464.24 502.2L464.29 502.6L464.34 502.4L464.39 502.6L464.44 502.3L464.5 502.5L464.55 502.3L464.6 502.6L464.65 502.3L464.7 502.5L464.75 502.4L464.8 502.6L464.86 502.4L464.91 502.6L464.96 502.5L465.01 502.6L465.06 502.5L465.11 502.5L465.17 502.5L465.22 502.6L465.27 502.5L465.32 502.6L465.37 502.5L465.42 502.6L465.47 502.5L465.53 502.5L465.58 502.5L465.63 502.6L465.68 502.3L465.73 502.6L465.78 502.5L465.84 502.6L465.94 502.6L465.99 502.4L466.04 502.6L466.09 502.5L466.14 502.6L466.2 502.4L466.25 502.6L466.3 502.4L466.35 502.6L466.4 502.4L466.45 502.6L466.51 502.3L466.56 502.6L466.61 502.4L466.66 502.6L466.71 502.1L466.76 502.6L466.82 502.2L466.87 502.5L466.92 502.4L466.97 502.6L467.02 502.3L467.07 502.6L467.12 502.3L467.18 502.6L467.23 502.4L467.28 502.6L467.33 502.5L467.38 502.6L467.43 502.5L467.49 502.6L467.54 502.4L467.59 502.6L467.64 502.5L467.69 502.5L467.74 502.4L467.79 502.6L467.85 502.3L467.9 502.6L467.95 502.3L468 502.6L468.05 502.5L468.1 502.6L468.16 502.4L468.21 502.6L468.26 502.4L468.31 502.6L468.36 502.4L468.41 502.6L468.46 502.4L468.52 502.6L468.62 502.6L468.67 502.4L468.72 502.6L468.77 502.4L468.83 502.6L468.88 502.4L468.93 502.6L468.98 502.3L469.03 502.5L469.08 502.3L469.13 502.5L469.19 502.2L469.24 502.6L469.29 502.3L469.34 502.5L469.39 502.4L469.44 502.6L469.5 502.3L469.55 502.6L469.6 502.5L469.65 502.5L469.75 502.6L469.8 502.5L469.86 502.6L469.91 502.4L469.96 502.6L470.06 502.6L470.11 502.3L470.17 502.6L470.22 502.4L470.27 502.6L470.32 502.4L470.37 502.6L470.42 502.3L470.47 502.6L470.53 502.4L470.58 502.6L470.63 502.3L470.68 502.6L470.73 502.5L470.78 502.6L470.84 502.3L470.89 502.6L470.94 502.4L470.99 502.6L471.04 502.4L471.09 502.6L471.15 502.5L471.2 502.6L471.25 502.3L471.3 502.5L471.35 502.3L471.4 502.6L471.45 502.3L471.51 502.6L471.56 502.4L471.61 502.5L471.66 502.3L471.71 502.6L471.76 502.4L471.82 502.6L471.87 502.4L471.92 502.6L471.97 502.4L472.02 502.6L472.07 502.4L472.12 502.6L472.18 502.5L472.23 502.5L472.28 502.4L472.33 502.6L472.38 502.5L472.43 502.6L472.49 502.3L472.54 502.6L472.59 502.4L472.64 502.6L472.69 502.4L472.74 502.6L472.79 502.4L472.85 502.6L472.9 502.4L472.95 502.6L473 502.4L473.05 502.6L473.1 502.4L473.16 502.6L473.21 502.4L473.26 502.5L473.31 502.3L473.36 502.6L473.41 502.4L473.46 502.5L473.52 502.4L473.57 502.6L473.62 502.4L473.67 502.6L473.72 502.3L473.77 502.6L473.83 502.3L473.88 502.6L473.93 502.4L473.98 502.6L474.03 502.3L474.08 502.6L474.13 502.4L474.19 502.6L474.24 502.4L474.29 502.5L474.34 502.3L474.39 502.6L474.44 502.4L474.5 502.6L474.55 502.5L474.6 502.6L474.65 502.4L474.7 502.6L474.75 502.4L474.8 502.6L474.86 502.4L474.91 502.6L474.96 502.3L475.01 502.6L475.06 502.4L475.11 502.6L475.32 502.6L475.37 502.4L475.42 502.6L475.47 502.3L475.53 502.6L475.58 502.4L475.63 502.6L475.68 502.3L475.73 502.6L475.78 502.4L475.84 502.6L475.89 502.3L475.94 502.6L475.99 502.4L476.04 502.6L476.09 502.3L476.15 502.6L476.2 502.4L476.25 502.6L476.3 502.3L476.35 502.6L476.4 502.4L476.45 502.6L476.51 502.4L476.56 502.5L476.61 502.4L476.66 502.6L476.71 502.4L476.76 502.6L476.82 502.4L476.87 502.6L476.92 502.4L476.97 502.6L477.02 502.4L477.07 502.5L477.12 502.4L477.18 502.6L477.23 502.4L477.28 502.6L477.33 502.4L477.38 502.6L477.43 502.4L477.49 502.6L477.54 502.4L477.59 502.6L477.64 502.4L477.69 502.6L477.74 502.4L477.79 502.6L477.85 502.5L477.9 502.5L477.95 502.4L478 502.6L478.05 502.4L478.1 502.6L478.16 502.3L478.21 502.6L478.26 502.2L478.31 502.5L478.36 502.3L478.41 502.6L478.46 502.3L478.52 502.6L478.57 502.4L478.62 502.6L478.67 502.3L478.72 502.6L478.77 502.4L478.83 502.6L478.88 502.4L478.93 502.6L479.03 502.6L479.08 502.3L479.13 502.6L479.19 502.4L479.24 502.6L479.29 502.4L479.34 502.6L479.39 502.4L479.44 502.6L479.5 502.4L479.55 502.6L479.6 502.4L479.65 502.6L479.7 502.4L479.75 502.6L479.8 502.4L479.86 502.6L479.91 502.3L479.96 502.6L480.01 502.5L480.06 502.6L480.11 502.4L480.17 502.6L480.22 502.4L480.27 502.6L480.32 502.4L480.37 502.6L480.42 502.3L480.47 502.5L480.53 502.4L480.58 502.6L480.63 502.3L480.68 502.6L480.73 502.2L480.78 502.6L480.84 502.4L480.89 502.6L480.99 502.6L481.04 502.4L481.09 502.6L481.3 502.6L481.35 502.4L481.4 502.6L481.45 502.5L481.51 502.6L481.56 502.4L481.61 502.6L481.71 502.6L481.76 502.4L481.82 502.6L481.87 502.4L481.92 502.6L481.97 502.4L482.02 502.6L482.07 502.4L482.12 502.6L482.18 502.4L482.23 502.6L482.28 502.4L482.33 502.6L482.43 502.6L482.49 502.4L482.54 502.6L482.59 502.5L482.64 502.6L482.69 502.4L482.74 502.6L482.79 502.4L482.85 502.6L482.9 502.3L482.95 502.5L483 502.3L483.05 502.6L483.1 502.3L483.16 502.6L483.21 502.4L483.26 502.6L483.31 502.4L483.36 502.6L483.41 502.5L483.46 502.6L483.52 502.4L483.57 502.6L483.62 502.3L483.67 502.6L483.72 502.5L483.77 502.6L483.83 502.4L483.88 502.6L483.93 502.4L483.98 502.5L484.03 502.4L484.08 502.6L484.13 502.4L484.19 502.6L484.24 502.3L484.29 502.5L484.34 502.4L484.39 502.6L484.5 502.6L484.55 502.4L484.6 502.6L484.65 502.3L484.7 502.6L484.75 502.4L484.8 502.6L484.86 502.3L484.91 502.6L484.96 502.4L485.01 502.6L485.06 502.4L485.11 502.6L485.17 502.2L485.22 502.6L485.27 502L485.32 502.5L485.37 502.3L485.42 502.6L485.47 502.4L485.53 502.6L485.58 502.4L485.63 502.6L485.84 502.6L485.89 502.4L485.94 502.6L485.99 502.5L486.04 502.6L486.09 502.4L486.15 502.6L486.2 502.4L486.25 502.6L486.3 502.5L486.35 502.5L486.4 502.4L486.45 502.6L486.51 502.5L486.56 502.6L486.61 502.3L486.66 502.6L486.71 502.4L486.76 502.6L486.82 502.4L486.87 502.6L486.92 502.3L486.97 502.6L487.07 502.6L487.12 502.4L487.18 502.5L487.23 502.3L487.28 502.6L487.33 502.4L487.38 502.6L487.43 502.2L487.49 502.6L487.54 502.4L487.59 502.6L487.64 502.4L487.69 502.6L487.74 502.4L487.79 502.6L487.85 502.4L487.9 502.5L487.95 502.5L488 502.6L488.05 502.4L488.1 502.6L488.16 502.4L488.21 502.6L488.26 502.3L488.31 502.6L488.36 502.5L488.41 502.6L488.46 502.4L488.52 502.6L488.57 502.4L488.62 502.6L488.72 502.6L488.77 502.5L488.83 502.6L488.88 502.4L488.93 502.6L488.98 502.4L489.03 502.6L489.08 502.5L489.13 502.6L489.19 502.2L489.24 502.6L489.29 502.5L489.34 502.6L489.39 502.4L489.44 502.6L489.55 502.5L489.6 502.3L489.65 502.6L489.7 502.3L489.75 502.6L489.8 502.3L489.86 502.6L489.91 502.4L489.96 502.6L490.01 502.3L490.06 502.6L490.11 502.4L490.17 502.6L490.22 502.5L490.27 502.6L490.32 502.4L490.37 502.6L490.42 502.4L490.48 502.6L490.53 502.4L490.58 502.6L490.63 502.5L490.68 502.6L490.73 502.4L490.78 502.6L490.84 502.4L490.89 502.6L490.94 502.4L490.99 502.6L491.09 502.6L491.15 502.5L491.2 502.6L491.25 502.4L491.3 502.6L491.35 502.4L491.4 502.6L491.45 502.4L491.51 502.6L491.56 502.5L491.61 502.6L491.66 502.5L491.71 502.6L491.76 502.4L491.82 502.6L491.87 502.4L491.92 502.6L491.97 502.5L492.02 502.6L492.07 502.5L492.12 502.5L492.18 502.3L492.23 502.6L492.28 502.3L492.33 502.6L492.38 502.4L492.43 502.6L492.49 502.3L492.54 502.6L492.59 502.4L492.64 502.6L492.69 502.5L492.74 502.6L492.85 502.6L492.9 502.4L492.95 502.6L493 502.5L493.05 502.6L493.1 502.4L493.16 502.6L493.21 502.4L493.26 502.6L493.31 502.4L493.36 502.6L493.41 502.4L493.46 502.6L493.52 502.3L493.57 502.6L493.62 502.4L493.67 502.6L493.72 502.4L493.77 502.6L493.83 502.4L493.88 502.6L493.93 502.4L493.98 502.6L494.03 502.4L494.08 502.6L494.13 502.4L494.19 502.6L494.24 502.4L494.29 502.6L494.34 502.4L494.39 502.6L494.44 502.4L494.5 502.6L494.55 502.3L494.6 502.6L494.65 502.4L494.7 502.6L494.75 502.4L494.8 502.6L494.86 502.4L494.91 502.6L494.96 502.4L495.01 502.6L495.06 502.4L495.11 502.6L495.17 502.5L495.22 502.6L495.27 502.4L495.32 502.6L495.37 502.3L495.42 502.6L495.48 502.4L495.53 502.6L495.63 502.6L495.68 502.3L495.73 502.6L495.78 502.5L495.84 502.6L495.94 502.6L495.99 502.4L496.04 502.6L496.09 502.5L496.15 502.6L496.2 502.5L496.25 502.6L496.3 502.4L496.35 502.6L496.4 502.4L496.45 502.6L496.51 502.3L496.56 502.6L496.61 502.2L496.66 502.6L496.71 502.3L496.76 502.6L496.82 502.4L496.87 502.6L496.92 502.4L496.97 502.6L497.02 502.4L497.07 502.6L497.12 502.4L497.18 502.6L497.23 502.4L497.28 502.6L497.33 502.4L497.38 502.6L497.43 502.4L497.49 502.6L497.54 502.3L497.59 502.6L497.64 502.3L497.69 502.6L497.74 502.4L497.79 502.5L497.85 502.5L497.9 502.6L497.95 502.4L498 502.6L498.05 502.3L498.1 502.6L498.16 502.4L498.21 502.6L498.31 502.6L498.36 502.5L498.41 502.6L498.52 502.6L498.57 502.5L498.62 502.6L498.67 502.4L498.72 502.6L498.77 502.4L498.83 502.6L498.88 502.2L498.93 502.6L498.98 502.3L499.03 502.6L499.08 502.3L499.13 502.6L499.19 502.5L499.24 502.6L499.29 502.3L499.34 502.6L499.39 502.4L499.44 502.6L499.5 502.3L499.55 502.6L499.6 502.5L499.65 502.6L499.75 502.6L499.8 502.4L499.86 502.5L499.91 502.4L499.96 502.6L500.01 502.4L500.06 502.6L500.17 502.6L500.22 502.4L500.27 502.6L500.32 502.5L500.37 502.6L500.42 502.5L500.48 502.6L500.53 502.4L500.58 502.6L500.63 502.5L500.68 502.6L500.73 502.5L500.78 502.6L500.84 502.4L500.89 502.6L500.94 502.4L500.99 502.6L501.09 502.6L501.15 502.3L501.2 502.6L501.25 502.4L501.3 502.6L501.35 502.4L501.4 502.6L501.45 502.4L501.51 502.6L501.56 502.4L501.61 502.6L501.66 502.4L501.71 502.6L501.76 502.4L501.82 502.6L501.92 502.6L501.97 502.5L502.02 502.6L502.07 502.3L502.12 502.6L502.18 502.4L502.23 502.6L502.28 502.4L502.33 502.6L502.43 502.6L502.49 502.5L502.54 502.6L502.64 502.6L502.69 502.4L502.74 502.6L502.79 502.4L502.85 502.6L502.9 502.5L502.95 502.6L503 502.5L503.05 502.6L503.1 502.4L503.16 502.6L503.21 502.4L503.26 502.6L503.31 502.4L503.36 502.6L503.41 502.3L503.46 502.6L503.52 502.3L503.57 502.6L503.62 502.3L503.67 502.5L503.72 502.4L503.77 502.6L503.83 502.3L503.88 502.6L503.93 502.4L503.98 502.6L504.19 502.6L504.24 502.4L504.29 502.6L504.34 502.4L504.39 502.6L504.44 502.5L504.5 502.6L504.6 502.6L504.65 502.4L504.7 502.6L504.8 502.6L504.86 502.5L504.91 502.6L504.96 502.4L505.01 502.6L505.06 502.4L505.11 502.6L505.17 502.4L505.22 502.6L505.27 502.4L505.32 502.6L505.37 502.4L505.42 502.6L505.48 502.4L505.53 502.6L505.58 502.3L505.63 502.6L505.68 502.5L505.73 502.5L505.78 502.3L505.84 502.6L505.89 502.2L505.94 502.6L505.99 502.2L506.04 502.6L506.09 502.3L506.15 502.6L506.2 502.4L506.25 502.6L506.3 502.5L506.35 502.6L506.4 502.5L506.45 502.6L506.51 502.5L506.56 502.6L506.61 502.4L506.66 502.6L506.71 502.4L506.76 502.6L506.82 502.4L506.87 502.6L506.92 502.4L506.97 502.6L507.02 502.5L507.07 502.6L507.12 502.5L507.18 502.6L507.23 502.5L507.28 502.6L507.33 502.4L507.38 502.6L507.43 502.4L507.49 502.6L507.69 502.6L507.74 502.5L507.79 502.6L507.85 502.4L507.9 502.6L507.95 502.3L508 502.6L508.05 502.3L508.1 502.6L508.16 502.3L508.21 502.6L508.26 502.4L508.31 502.6L508.36 502.4L508.41 502.6L508.46 502.4L508.52 502.6L508.57 502.4L508.62 502.5L508.67 502.4L508.72 502.6L508.77 502.5L508.83 502.6L508.88 502.5L508.93 502.6L508.98 502.4L509.03 502.6L509.13 502.6L509.19 502.4L509.24 502.6L509.34 502.6L509.39 502.4L509.44 502.6L509.5 502.4L509.55 502.6L509.6 502.5L509.65 502.6L509.7 502.4L509.75 502.6L509.81 502.4L509.86 502.6L509.91 502.5L509.96 502.6L510.01 502.5L510.06 502.6L510.17 502.6L510.22 502.5L510.27 502.6L510.32 502.5L510.37 502.5L510.42 502.3L510.48 502.6L510.53 502.4L510.58 502.6L510.63 502.4L510.68 502.6L510.73 502.4L510.78 502.6L510.84 502.4L510.89 502.6L510.94 502.4L510.99 502.6L511.04 502.3L511.09 502.6L511.15 502.5L511.2 502.6L511.25 502.5L511.3 502.6L511.35 502.5L511.4 502.6L511.51 502.6L511.56 502.4L511.61 502.6L511.66 502.5L511.71 502.6L511.76 502.4L511.82 502.6L511.87 502.5L511.92 502.6L511.97 502.4L512.02 502.6L512.07 502.4L512.12 502.6L512.18 502.5L512.23 502.6L512.28 502.5L512.33 502.6L512.43 502.6L512.49 502.5L512.54 502.6L512.59 502.4L512.64 502.6L512.69 502.3L512.74 502.6L512.79 502.4L512.85 502.6L512.9 502.3L512.95 502.5L513 502.4L513.05 502.6L513.1 502.4L513.16 502.6L513.26 502.6L513.31 502.5L513.36 502.6L513.46 502.6L513.52 502.4L513.57 502.6L513.77 502.6L513.83 502.4L513.88 502.6L513.93 502.5L513.98 502.6L514.03 502.5L514.08 502.6L514.13 502.5L514.19 502.6L514.29 502.6L514.34 502.5L514.39 502.6L514.44 502.5L514.5 502.6L514.55 502.4L514.6 502.6L514.7 502.6L514.75 502.5L514.81 502.6L514.86 502.4L514.91 502.6L514.96 502.5L515.01 502.5L515.06 502.4L515.11 502.6L515.17 502.4L515.22 502.6L515.27 502.4L515.32 502.6L515.37 502.4L515.42 502.6L515.94 502.6L515.99 502.4L516.04 502.6L516.09 502.4L516.15 502.6L516.2 502.5L516.25 502.6L516.3 502.4L516.35 502.6L516.66 502.6L516.71 502.5L516.76 502.6L516.82 502.4L516.87 502.6L516.97 502.6L517.02 502.4L517.07 502.6L517.12 502.5L517.18 502.6L517.23 502.4L517.28 502.6L517.33 502.4L517.38 502.6L517.43 502.3L517.49 502.6L517.54 502.5L517.59 502.6L517.64 502.5L517.69 502.6L517.74 502.4L517.79 502.6L517.9 502.6L517.95 502.5L518 502.6L518.1 502.6L518.16 502.4L518.21 502.6L518.31 502.6L518.36 502.5L518.41 502.6L518.46 502.5L518.52 502.6L518.57 502.5L518.62 502.6L518.67 502.4L518.72 502.6L519.03 502.6L519.08 502.5L519.13 502.6L519.24 502.6L519.29 502.5L519.34 502.6L519.39 502.4L519.44 502.6L519.5 502.4L519.55 502.6L519.6 502.3L519.65 502.5L519.7 502.5L519.75 502.5L519.86 502.6L519.91 502.4L519.96 502.6L520.01 502.4L520.06 502.6L520.11 502.4L520.17 502.6L520.22 502.4L520.27 502.6L520.32 502.4L520.37 502.6L520.58 502.6L520.63 502.5L520.68 502.6L520.89 502.6L520.94 502.4L520.99 502.6L521.04 502.5L521.09 502.6L521.3 502.6L521.35 502.5L521.4 502.6L521.51 502.6L521.56 502.4L521.61 502.6L521.66 502.4L521.71 502.6L521.76 502.5L521.82 502.5L521.87 502.4L521.92 502.6L521.97 502.3L522.02 502.6L522.07 502.4L522.12 502.5L522.18 502.4L522.23 502.6L522.28 502.3L522.33 502.6L522.38 502.5L522.43 502.6L522.49 502.4L522.54 502.6L522.59 502.5L522.64 502.6L522.74 502.6L522.79 502.5L522.85 502.6L522.9 502.4L522.95 502.6L523 502.5L523.05 502.6L523.1 502.4L523.16 502.6L523.21 502.4L523.26 502.6L523.46 502.6L523.52 502.5L523.57 502.6L523.77 502.6L523.83 502.4L523.88 502.6L524.08 502.6L524.13 502.3L524.19 502.5L524.24 502.4L524.29 502.6L524.34 502.4L524.39 502.6L524.44 502.3L524.5 502.6L524.55 502.4L524.6 502.6L524.65 502.4L524.7 502.6L524.81 502.6L524.86 502.4L524.91 502.6L524.96 502.4L525.01 502.6L525.06 502.4L525.11 502.6L525.32 502.6L525.37 502.5L525.42 502.6L525.48 502.5L525.53 502.6L525.58 502.5L525.63 502.6L525.68 502.4L525.73 502.6L525.78 502.4L525.84 502.6L525.89 502.5L525.94 502.6L526.04 502.6L526.09 502.4L526.15 502.6L526.2 502.5L526.25 502.6L526.35 502.6L526.4 502.4L526.45 502.6L526.51 502.4L526.56 502.6L526.61 502.3L526.66 502.6L526.71 502.5L526.76 502.5L526.87 502.6L526.92 502.4L526.97 502.6L527.07 502.6L527.12 502.5L527.18 502.6L527.28 502.6L527.33 502.4L527.38 502.6L527.43 502.5L527.49 502.6L527.54 502.5L527.59 502.6L527.64 502.4L527.69 502.6L527.74 502.5L527.79 502.6L527.85 502.4L527.9 502.6L528 502.6L528.05 502.5L528.1 502.6L528.41 502.6L528.46 502.5L528.52 502.6L528.57 502.4L528.62 502.6L528.67 502.4L528.72 502.6L528.77 502.5L528.83 502.6L528.88 502.4L528.93 502.6L528.98 502.4L529.03 502.6L529.08 502.4L529.14 502.6L529.19 502.5L529.24 502.6L529.34 502.6L529.39 502.4L529.44 502.6L529.55 502.6L529.6 502.4L529.65 502.6L529.75 502.6L529.81 502.5L529.86 502.6L529.96 502.6L530.01 502.4L530.06 502.6L530.48 502.6L530.53 502.4L530.58 502.6L530.89 502.6L530.94 502.4L530.99 502.6L531.04 502.4L531.09 502.6L531.15 502.4L531.2 502.6L531.25 502.4L531.3 502.6L531.4 502.6L531.45 502.4L531.51 502.6L531.71 502.6L531.76 502.4L531.82 502.6L531.92 502.6L531.97 502.5L532.02 502.6L532.23 502.6L532.28 502.4L532.33 502.6L532.38 502.4L532.43 502.6L532.49 502.4L532.54 502.6L532.59 502.5L532.64 502.6L532.69 502.5L532.74 502.6L532.79 502.4L532.85 502.6L532.9 502.5L532.95 502.6L533.05 502.6L533.1 502.5L533.16 502.6L533.21 502.4L533.26 502.6L533.31 502.4L533.36 502.6L533.41 502.4L533.46 502.6L533.52 502.4L533.57 502.6L533.62 502.5L533.67 502.6L533.77 502.6L533.83 502.5L533.88 502.6L534.08 502.6L534.14 502.5L534.19 502.6L534.6 502.6L534.65 502.4L534.7 502.6L534.81 502.6L534.86 502.4L534.91 502.6L535.01 502.6L535.06 502.4L535.11 502.6L535.32 502.6L535.37 502.4L535.42 502.6L535.53 502.6L535.58 502.4L535.63 502.6L535.68 502.4L535.73 502.6L535.78 502.3L535.84 502.6L535.89 502.4L535.94 502.6L535.99 502.5L536.04 502.6L536.09 502.4L536.15 502.6L536.3 502.5" fill="none" stroke="#0072BD" stroke-width="0.6" stroke-linejoin="round"/>
<rect x="343" y="457" width="193.3" height="45.6" fill="none" stroke="#5a5a5a" stroke-width="0.55"/>
<path d="M343 502.6v-1.93M343 457v1.93M381.66 502.6v-1.93M381.66 457v1.93M420.32 502.6v-1.93M420.32 457v1.93M458.98 502.6v-1.93M458.98 457v1.93M497.64 502.6v-1.93M497.64 457v1.93M536.3 502.6v-1.93M536.3 457v1.93M343 502.6h1.93M536.3 502.6h-1.93M343 479.8h1.93M536.3 479.8h-1.93M343 457h1.93M536.3 457h-1.93" stroke="#5a5a5a" stroke-width="0.55" fill="none"/>
<g class="tk" font-size="4.79" fill="#1c1c1c">
<text x="343" y="508.83" text-anchor="middle">0</text>
<text x="381.66" y="508.83" text-anchor="middle">500</text>
<text x="420.32" y="508.83" text-anchor="middle">1000</text>
<text x="458.98" y="508.83" text-anchor="middle">1500</text>
<text x="497.64" y="508.83" text-anchor="middle">2000</text>
<text x="536.3" y="508.83" text-anchor="middle">2500</text>
<text x="342.3" y="504.33" text-anchor="end">0</text>
<text x="342.3" y="481.53" text-anchor="end">0.01</text>
<text x="342.3" y="458.73" text-anchor="end">0.02</text>
</g>
<text x="439.65" y="519.79" text-anchor="middle" font-size="8.54" fill="#1c1c1c">Frequency(Hz)</text>
<text transform="translate(315.78 482.4) rotate(-90)" text-anchor="middle" font-size="8.54" fill="#1c1c1c">IMF4</text>
<text transform="translate(330.78 479.8) rotate(-90)" text-anchor="middle" font-size="8.54" fill="#1c1c1c">Acceleration(mm/s<tspan dy="-3.25" font-size="6.15">2</tspan><tspan dy="3.25">)</tspan></text>
</g>
<g id="imf5-freq">
<path d="M343.2 580.6L343.25 583.7L343.3 581.7L343.35 583.4L343.41 580.7L343.46 583.1L343.51 581.7L343.56 583.6L343.61 582.4L343.66 583.5L343.71 578.9L343.77 583.2L343.82 581.4L343.87 583.1L343.92 581.1L343.97 582.8L344.02 581.4L344.08 583.4L344.13 579.8L344.18 583.1L344.23 582.1L344.28 583.1L344.33 581.9L344.38 583.2L344.44 581.6L344.49 583.6L344.54 581.5L344.59 583.4L344.64 581.6L344.69 583.2L344.74 580.2L344.8 582.9L344.85 580.4L344.9 583.5L344.95 579.9L345 583.3L345.05 581.2L345.11 583.2L345.16 579L345.21 583.4L345.26 581.3L345.31 582.9L345.36 578.2L345.41 583.6L345.47 578.8L345.52 583.6L345.57 579L345.62 582.9L345.67 579.6L345.72 582.8L345.77 580.7L345.83 582.9L345.88 579.2L345.93 583.5L345.98 579.4L346.03 583.6L346.08 581.3L346.14 583.6L346.19 581.3L346.24 582.8L346.29 578.5L346.34 583.1L346.39 576L346.44 583.7L346.5 581.1L346.55 583.2L346.6 579.6L346.65 583L346.7 579.9L346.75 583.1L346.8 579.4L346.86 583.2L346.91 575.7L346.96 582.1L347.01 577.8L347.06 583.4L347.11 579.6L347.16 582.4L347.22 579.4L347.27 583L347.32 578.9L347.37 582.8L347.42 576.9L347.47 582.9L347.53 576.3L347.58 581.5L347.63 572.1L347.68 583.2L347.73 569.2L347.78 580.6L347.83 575.4L347.89 582L347.94 572.5L347.99 582L348.04 578.7L348.09 582.7L348.14 579.3L348.19 583.1L348.25 576.6L348.3 583.7L348.35 574.8L348.4 583.3L348.45 572.6L348.5 583.3L348.56 577.7L348.61 583.7L348.66 575.7L348.71 581.6L348.76 577.4L348.81 582.3L348.86 577.4L348.92 582.3L348.97 573.5L349.02 581.9L349.07 570.6L349.12 583.5L349.17 574.3L349.22 583.1L349.28 572.7L349.33 580.5L349.38 574.2L349.43 582.5L349.48 572.3L349.53 582.8L349.59 576.5L349.64 582.4L349.69 573.7L349.74 580.9L349.79 569.9L349.84 582.8L349.89 571.4L349.95 583.6L350 565.2L350.05 579.5L350.1 572.3L350.15 581.7L350.2 560.5L350.25 578.7L350.31 570L350.36 581.2L350.41 573.4L350.46 582.7L350.51 561.4L350.56 583.2L350.62 564.6L350.67 580.7L350.72 563.5L350.77 581.6L350.82 571.7L350.87 583.3L350.92 571.1L350.98 578.7L351.03 565.1L351.08 581.6L351.13 571.2L351.18 579.2L351.23 571.9L351.28 580.9L351.34 563.9L351.39 582L351.44 571.2L351.49 582.9L351.54 572.2L351.59 583.6L351.64 565.2L351.7 582.1L351.75 569.1L351.8 580.9L351.85 568.5L351.9 581.6L351.95 561.7L352.01 583.5L352.06 556.7L352.11 579.5L352.16 569.9L352.21 577.7L352.26 560.8L352.31 583.5L352.37 541.4L352.42 580.4L352.47 559L352.52 580.4L352.57 550L352.62 582.2L352.67 565.5L352.73 580.7L352.78 566.2L352.83 581.5L352.88 572.8L352.93 581L352.98 562.7L353.04 581.6L353.09 555.6L353.14 581.8L353.19 562.9L353.24 583.2L353.29 564.4L353.34 581L353.4 557.4L353.45 580.4L353.5 566.6L353.55 583.5L353.6 569.7L353.65 579.8L353.7 568.2L353.76 579.6L353.81 552.8L353.86 581.1L353.91 572.5L353.96 581L354.01 565.6L354.07 580.5L354.12 568.2L354.17 583.2L354.22 557.4L354.27 582.2L354.32 572.1L354.37 579.7L354.43 560.7L354.48 578L354.53 554.9L354.58 583.1L354.63 553.8L354.68 580.4L354.73 563.3L354.79 581.6L354.84 555.8L354.89 583.4L354.94 574.5L354.99 579.8L355.04 570.5L355.09 581.8L355.15 574.9L355.2 581L355.25 571.9L355.3 583.1L355.35 563.2L355.4 582.6L355.46 567L355.51 580.5L355.56 566.3L355.61 583.1L355.66 571.6L355.71 582.1L355.76 569.4L355.82 583.6L355.87 575.5L355.92 582.6L355.97 568.9L356.02 582.9L356.07 565L356.12 583L356.18 566.8L356.23 581.4L356.28 573.7L356.33 581.2L356.38 558.1L356.43 582.8L356.49 574.1L356.54 582.7L356.59 572.6L356.64 581.4L356.69 557L356.74 581L356.79 573.6L356.85 581.4L356.9 566.5L356.95 578.6L357 569.8L357.05 580.9L357.1 570.6L357.15 581.2L357.21 573.5L357.26 581.7L357.31 576.2L357.36 582.8L357.41 575.5L357.46 582L357.52 572.2L357.57 581.9L357.62 576.6L357.67 581L357.72 571L357.77 582.1L357.82 572L357.88 583.7L357.93 577.7L357.98 583.4L358.03 571.6L358.08 582.8L358.13 571.1L358.18 582.1L358.24 571.2L358.29 582.5L358.34 575.3L358.39 582.2L358.44 577L358.49 582.3L358.55 574.5L358.6 582.3L358.65 575L358.7 581.8L358.75 578.7L358.8 583.6L358.85 575.7L358.91 582.9L358.96 579.1L359.01 582.2L359.06 572.6L359.11 579.5L359.16 573.5L359.21 580.7L359.27 571.7L359.32 580.5L359.37 573.8L359.42 582.8L359.47 574.7L359.52 583.7L359.57 574L359.63 582.4L359.68 580L359.73 582.5L359.78 577.9L359.83 583.6L359.88 578L359.94 583.4L359.99 579.7L360.04 582.8L360.09 578.3L360.14 583.5L360.19 577.9L360.24 582.1L360.3 579.6L360.35 582.8L360.4 579.4L360.45 583.1L360.5 578.1L360.55 582.5L360.6 579L360.66 582.4L360.71 578.3L360.76 583.1L360.81 578.3L360.86 583L360.91 581L360.97 582.6L361.02 579.6L361.07 583L361.12 578.3L361.17 583.3L361.22 578.7L361.27 583L361.33 577.2L361.38 582.2L361.43 579.9L361.48 582.5L361.53 579.9L361.58 583.6L361.63 579.3L361.69 582.8L361.74 577.3L361.79 583L361.84 579.8L361.89 583.4L361.94 579.7L362 583.6L362.05 580.9L362.1 583.1L362.15 579.2L362.2 582.8L362.25 581L362.3 583.5L362.36 580L362.41 583L362.46 579.3L362.51 582.7L362.56 580.4L362.61 583.2L362.66 581.3L362.72 583.6L362.77 580.3L362.82 583.3L362.87 579.7L362.92 583.3L362.97 580.2L363.02 583.7L363.08 581.4L363.13 583.3L363.18 581.2L363.23 583.7L363.28 579.6L363.33 583.3L363.39 580.1L363.44 583.5L363.49 579.6L363.54 583.4L363.59 580.5L363.64 583.3L363.69 580.8L363.75 583.2L363.8 579.3L363.85 583.1L363.9 579.5L363.95 583.5L364 581.2L364.05 583.7L364.11 581.4L364.16 583.1L364.21 582.1L364.26 583.7L364.31 582.5L364.36 583.4L364.42 580.8L364.47 583.6L364.52 582.5L364.57 583.1L364.62 582.2L364.67 583.5L364.72 581.9L364.78 583.6L364.83 582.3L364.88 583.5L364.93 581.3L364.98 583.3L365.03 582.5L365.08 583.4L365.14 582.1L365.19 583.7L365.24 582.6L365.29 583.5L365.34 582.2L365.39 583.5L365.45 582.6L365.5 583.6L365.55 582.5L365.6 583.4L365.65 582L365.7 583.2L365.75 581.3L365.81 583.4L365.86 580.9L365.91 583.6L365.96 581.6L366.01 583.5L366.06 581.4L366.11 583.7L366.17 580.9L366.22 583.4L366.27 582.2L366.32 583.5L366.37 581.8L366.42 583.6L366.47 582.6L366.53 583.6L366.58 582.6L366.63 583.3L366.68 582.3L366.73 583.6L366.78 582.8L366.84 583.5L366.89 582.6L366.94 583.4L366.99 582.1L367.04 583.4L367.09 582.5L367.14 583.7L367.2 582.5L367.25 583.5L367.3 581.6L367.35 583.7L367.4 582.3L367.45 583.4L367.5 583.1L367.56 583.4L367.61 581.7L367.66 583.4L367.71 581.9L367.76 583.6L367.81 582L367.87 583.7L367.92 581.6L367.97 583.4L368.02 582.6L368.07 583.5L368.12 582.2L368.17 583.6L368.23 582.4L368.28 583.7L368.33 581.8L368.38 583.2L368.43 582.6L368.48 583.6L368.53 581.5L368.59 583.6L368.64 582.2L368.69 583.6L368.74 582.5L368.79 583.7L368.84 582.3L368.9 583.6L368.95 582.9L369 583.7L369.05 582.9L369.1 583.6L369.15 582.2L369.2 583.5L369.26 582.6L369.31 583.5L369.36 583.1L369.41 583.5L369.46 582.6L369.51 583.5L369.56 582.8L369.62 583.6L369.67 582.7L369.72 583.6L369.77 582.7L369.82 583.6L369.87 582.4L369.93 583.7L369.98 582.6L370.03 583.7L370.08 582.9L370.13 583.6L370.18 582.7L370.23 583.6L370.29 582.7L370.34 583.5L370.39 582.5L370.44 583.6L370.49 582.9L370.54 583.6L370.59 582.3L370.65 583.5L370.7 582.4L370.75 583.5L370.8 582.7L370.85 583.3L370.9 581.8L370.95 583.7L371.01 582.9L371.06 583.6L371.11 583.1L371.16 583.6L371.21 582.7L371.26 583.6L371.32 583L371.37 583.6L371.42 582.7L371.47 583.5L371.52 583.3L371.57 583.7L371.62 582.9L371.68 583.6L371.73 583L371.78 583.6L371.83 583.2L371.88 583.6L371.93 582.8L371.98 583.7L372.04 583.2L372.09 583.4L372.14 582.6L372.19 583.5L372.24 583.3L372.29 583.6L372.35 582.9L372.4 583.7L372.45 582.3L372.5 583.5L372.55 582.5L372.6 583.5L372.65 582.9L372.71 583.6L372.76 583L372.81 583.5L372.86 582.6L372.91 583.6L372.96 583.1L373.01 583.5L373.07 582.7L373.12 583.6L373.17 583L373.22 583.6L373.27 582.6L373.32 583.6L373.38 582.7L373.43 583.7L373.48 583.1L373.53 583.6L373.58 583.3L373.63 583.7L373.68 583.1L373.74 583.7L373.79 582.9L373.84 583.6L373.89 583L373.94 583.7L373.99 582.8L374.04 583.6L374.1 583L374.15 583.7L374.2 582.9L374.25 583.6L374.3 583L374.35 583.7L374.4 583.1L374.46 583.7L374.51 583.2L374.56 583.6L374.61 583.2L374.66 583.7L374.71 582.9L374.77 583.6L374.82 583L374.87 583.6L374.92 583L374.97 583.6L375.02 583.2L375.07 583.6L375.13 583L375.18 583.6L375.23 583.1L375.28 583.6L375.33 582.6L375.38 583.5L375.43 583L375.49 583.5L375.54 583L375.59 583.6L375.64 583.4L375.69 583.7L375.74 583.4L375.8 583.7L375.85 583.3L375.9 583.7L375.95 583.2L376 583.7L376.05 583.1L376.1 583.6L376.16 583.1L376.21 583.7L376.26 583.2L376.31 583.6L376.36 583.2L376.41 583.7L376.46 583.1L376.52 583.6L376.57 583L376.62 583.7L376.67 583L376.72 583.6L376.77 583.3L376.83 583.7L376.88 583L376.93 583.5L376.98 583.4L377.03 583.7L377.08 583.3L377.13 583.5L377.19 583.2L377.24 583.6L377.29 583.2L377.34 583.7L377.39 582.8L377.44 583.7L377.49 582.3L377.55 583.6L377.6 583L377.65 583.6L377.7 583.2L377.75 583.6L377.8 582.6L377.86 583.6L377.91 583L377.96 583.6L378.01 583.1L378.06 583.7L378.11 583.1L378.16 583.6L378.22 583.2L378.27 583.6L378.32 583.1L378.37 583.6L378.42 583.3L378.47 583.6L378.52 583.2L378.58 583.6L378.63 583.2L378.68 583.6L378.73 583.2L378.78 583.7L378.83 583.4L378.88 583.7L378.94 583.3L378.99 583.6L379.04 583.3L379.09 583.6L379.14 583.4L379.19 583.7L379.25 583.2L379.3 583.6L379.35 583.4L379.4 583.6L379.45 583.4L379.5 583.7L379.55 583L379.61 583.7L379.66 583.2L379.71 583.6L379.76 583.2L379.81 583.7L379.86 583L379.91 583.6L379.97 583.3L380.02 583.7L380.07 583L380.12 583.7L380.17 583.3L380.22 583.6L380.28 583.3L380.33 583.6L380.38 583.5L380.43 583.6L380.48 583.3L380.53 583.6L380.58 583.5L380.64 583.6L380.69 583.2L380.74 583.7L380.79 583.5L380.84 583.6L380.89 583.3L380.94 583.7L381 583.2L381.05 583.6L381.1 583.4L381.15 583.7L381.2 583.1L381.25 583.7L381.31 583.4L381.36 583.7L381.41 583.4L381.46 583.6L381.51 583.4L381.56 583.6L381.61 583.2L381.67 583.7L381.72 583.4L381.77 583.7L381.82 583.1L381.87 583.7L381.92 583.4L381.97 583.7L382.03 583.3L382.08 583.6L382.13 583.1L382.18 583.6L382.23 583.3L382.28 583.7L382.33 583.5L382.39 583.7L382.44 583.3L382.49 583.6L382.54 583.4L382.59 583.6L382.64 583.2L382.7 583.6L382.75 583.5L382.8 583.7L382.85 583.3L382.9 583.7L382.95 583.4L383 583.7L383.06 583.5L383.11 583.6L383.16 583.5L383.21 583.7L383.26 583.4L383.31 583.7L383.36 583.3L383.42 583.7L383.47 583.4L383.52 583.7L383.57 583.2L383.62 583.6L383.67 583.3L383.73 583.6L383.78 583.3L383.83 583.7L383.88 583.2L383.93 583.7L383.98 583.4L384.03 583.7L384.09 583.4L384.14 583.7L384.19 583.4L384.24 583.6L384.29 583.3L384.34 583.7L384.39 583.2L384.45 583.6L384.5 583.4L384.55 583.6L384.6 583.3L384.65 583.7L384.7 583.5L384.76 583.7L384.81 583.3L384.86 583.7L384.91 583.1L384.96 583.6L385.01 583.4L385.06 583.7L385.12 583.4L385.17 583.6L385.22 583.5L385.27 583.7L385.32 583.4L385.37 583.7L385.42 583.4L385.48 583.6L385.53 583.4L385.58 583.7L385.63 583.4L385.68 583.7L385.73 583.3L385.78 583.6L385.84 583.3L385.89 583.7L385.94 583.2L385.99 583.7L386.04 583.3L386.09 583.6L386.15 583.4L386.2 583.7L386.25 583.5L386.3 583.7L386.35 583.5L386.4 583.7L386.45 583.4L386.51 583.6L386.56 583.4L386.61 583.7L386.66 583.3L386.71 583.7L386.76 582.9L386.81 583.7L386.87 583.3L386.92 583.6L386.97 583.5L387.02 583.6L387.07 583.4L387.12 583.7L387.18 583.3L387.23 583.6L387.28 583.5L387.33 583.6L387.38 583.4L387.43 583.6L387.48 583.4L387.54 583.6L387.59 583.4L387.64 583.6L387.69 583.4L387.74 583.7L387.79 583.5L387.84 583.6L387.9 583.4L387.95 583.6L388 583.5L388.05 583.7L388.1 583.4L388.15 583.6L388.21 583.5L388.26 583.7L388.31 583.5L388.36 583.7L388.41 583.5L388.46 583.7L388.51 583.5L388.57 583.6L388.62 583.4L388.67 583.6L388.72 583.5L388.77 583.6L388.82 583.4L388.87 583.7L388.93 583.4L388.98 583.7L389.03 583.1L389.08 583.7L389.13 583.5L389.18 583.7L389.24 583.2L389.29 583.7L389.34 583.3L389.39 583.7L389.44 583.3L389.49 583.6L389.54 583.3L389.6 583.6L389.65 583.5L389.7 583.6L389.75 583.4L389.8 583.7L389.85 583.4L389.9 583.7L389.96 583.5L390.01 583.7L390.06 583.5L390.11 583.7L390.16 583.4L390.21 583.7L390.26 583.4L390.32 583.7L390.37 583.3L390.42 583.7L390.47 583.5L390.52 583.7L390.57 583.5L390.63 583.6L390.68 583.4L390.73 583.7L390.78 583.5L390.83 583.6L390.88 583.3L390.93 583.6L390.99 583.2L391.04 583.6L391.09 583.5L391.14 583.7L391.19 583.2L391.24 583.6L391.29 583.4L391.35 583.7L391.4 583.2L391.45 583.7L391.5 583.4L391.55 583.7L391.6 583.4L391.66 583.7L391.71 583.4L391.76 583.6L391.81 583.4L391.86 583.6L391.91 583.3L391.96 583.7L392.02 583.5L392.07 583.7L392.12 583.3L392.17 583.7L392.22 583.4L392.27 583.7L392.32 583.5L392.38 583.7L392.43 583.4L392.48 583.7L392.53 583.5L392.58 583.7L392.63 583.4L392.69 583.7L392.74 583.5L392.79 583.7L392.84 583.5L392.89 583.6L392.94 583.4L392.99 583.6L393.05 583.4L393.1 583.7L393.15 583.4L393.2 583.6L393.25 583.4L393.3 583.7L393.35 583.4L393.41 583.6L393.46 583.4L393.51 583.7L393.56 583.5L393.61 583.7L393.66 583.5L393.71 583.6L393.77 583.2L393.82 583.7L393.87 583.4L393.92 583.7L393.97 583.5L394.02 583.7L394.08 583.3L394.13 583.7L394.18 583.5L394.23 583.7L394.28 583.5L394.33 583.7L394.38 583.6L394.44 583.7L394.49 583.5L394.54 583.6L394.59 583.3L394.64 583.6L394.69 583.5L394.74 583.7L394.8 583.3L394.85 583.7L394.9 583.5L394.95 583.7L395 583.4L395.05 583.6L395.11 583.4L395.16 583.7L395.21 583.4L395.26 583.7L395.31 583.2L395.36 583.7L395.41 583.5L395.47 583.7L395.52 583.4L395.57 583.7L395.62 583.2L395.67 583.7L395.72 583.3L395.77 583.6L395.83 583.3L395.88 583.7L395.93 583.1L395.98 583.7L396.03 583.3L396.08 583.7L396.14 583.2L396.19 583.6L396.24 583.4L396.29 583.7L396.34 583.5L396.39 583.6L396.44 583.6L396.5 583.6L396.55 583.4L396.6 583.7L396.65 583.4L396.7 583.7L396.75 583.4L396.8 583.6L396.86 583.5L396.91 583.7L396.96 583.3L397.01 583.7L397.06 583.6L397.11 583.7L397.17 583.5L397.22 583.6L397.27 583.2L397.32 583.7L397.37 583.1L397.42 583.6L397.47 583.3L397.53 583.7L397.58 583.3L397.63 583.7L397.68 583.5L397.73 583.6L397.78 583.5L397.83 583.7L397.89 583.4L397.94 583.7L397.99 583.5L398.04 583.7L398.09 583.3L398.14 583.6L398.19 583.4L398.25 583.7L398.3 583.3L398.35 583.7L398.4 583.4L398.45 583.6L398.5 583.4L398.56 583.7L398.61 583.5L398.66 583.7L398.71 583.5L398.76 583.7L398.81 583.4L398.86 583.7L398.92 583.5L398.97 583.7L399.02 583.4L399.07 583.7L399.12 583.5L399.17 583.7L399.22 583.4L399.28 583.7L399.33 583.5L399.38 583.7L399.43 583.5L399.48 583.7L399.53 583.5L399.59 583.7L399.64 583.4L399.69 583.7L399.74 583.4L399.79 583.7L399.84 583.5L399.89 583.6L399.95 583.5L400 583.6L400.05 583.4L400.1 583.7L400.15 583.3L400.2 583.7L400.25 583.4L400.31 583.7L400.36 583.1L400.41 583.7L400.46 583L400.51 583.7L400.56 583.3L400.62 583.7L400.67 583.4L400.72 583.7L400.77 583.5L400.82 583.7L400.87 583.4L400.92 583.7L400.98 583.4L401.03 583.7L401.08 583.4L401.13 583.6L401.18 583.4L401.23 583.7L401.28 583.3L401.34 583.6L401.39 583.5L401.44 583.7L401.49 583.5L401.54 583.7L401.59 583.5L401.64 583.7L401.7 583.5L401.75 583.7L401.8 583.5L401.85 583.7L401.9 583.5L401.95 583.7L402.01 583.6L402.06 583.7L402.11 583.5L402.16 583.7L402.21 583.5L402.26 583.6L402.31 583.3L402.37 583.7L402.42 583.5L402.47 583.7L402.52 583.3L402.57 583.6L402.62 583.3L402.67 583.7L402.73 583.4L402.78 583.7L402.83 583.4L402.88 583.7L402.93 583.4L402.98 583.7L403.04 583.5L403.09 583.7L403.14 583.4L403.19 583.6L403.24 583.5L403.29 583.7L403.34 583.4L403.4 583.7L403.45 583.4L403.5 583.7L403.55 583.4L403.6 583.7L403.65 583.4L403.7 583.7L403.76 583.5L403.81 583.7L403.86 583.4L403.91 583.6L403.96 583.5L404.01 583.6L404.07 583.5L404.12 583.7L404.17 583.5L404.22 583.7L404.27 583.5L404.32 583.7L404.37 583.5L404.43 583.7L404.48 583.5L404.53 583.7L404.58 583.5L404.63 583.7L404.68 583.5L404.73 583.7L404.79 583.4L404.84 583.7L404.89 583.5L404.94 583.7L404.99 583.4L405.04 583.7L405.09 583.3L405.15 583.7L405.2 583.4L405.25 583.7L405.3 583.4L405.35 583.7L405.4 583.6L405.46 583.7L405.51 583.5L405.56 583.6L405.61 583.5L405.66 583.6L405.71 583.3L405.76 583.7L405.82 583.5L405.87 583.7L405.92 583.4L405.97 583.7L406.02 583.6L406.07 583.7L406.12 583.5L406.18 583.7L406.23 583.4L406.28 583.7L406.33 583.4L406.38 583.7L406.43 583.5L406.49 583.7L406.54 583.5L406.59 583.7L406.64 583.6L406.69 583.7L406.74 583.4L406.79 583.7L406.85 583.5L406.9 583.7L406.95 583.4L407 583.7L407.05 583.4L407.1 583.6L407.15 583.4L407.21 583.6L407.26 583.3L407.31 583.7L407.36 583.3L407.41 583.7L407.46 583.5L407.52 583.7L407.57 583.2L407.62 583.7L407.67 583.5L407.72 583.7L407.77 583.5L407.82 583.7L407.88 583.5L407.93 583.7L407.98 583.5L408.03 583.7L408.08 583.5L408.13 583.7L408.18 583.4L408.24 583.7L408.29 583.5L408.34 583.7L408.39 583.5L408.44 583.7L408.49 583.5L408.55 583.7L408.6 583.5L408.65 583.7L408.75 583.7L408.8 583.5L408.85 583.6L408.91 583.6L408.96 583.7L409.06 583.6L409.11 583.5L409.16 583.7L409.21 583.4L409.27 583.7L409.32 583.5L409.37 583.6L409.42 583.3L409.47 583.6L409.52 583.4L409.57 583.7L409.63 583.5L409.68 583.7L409.73 583.5L409.78 583.7L409.83 583.5L409.88 583.6L409.94 583.5L409.99 583.7L410.04 583.4L410.09 583.6L410.14 583.5L410.19 583.7L410.24 583.4L410.3 583.7L410.35 583.4L410.4 583.7L410.45 583.4L410.5 583.7L410.55 583.5L410.6 583.7L410.66 583.5L410.71 583.7L410.76 583.6L410.81 583.6L410.86 583.5L410.91 583.7L410.97 583.4L411.02 583.7L411.07 583.5L411.12 583.7L411.17 583.5L411.22 583.7L411.27 583.5L411.33 583.7L411.38 583.5L411.43 583.7L411.48 583.5L411.53 583.7L411.58 583.5L411.63 583.7L411.69 583.5L411.74 583.7L411.79 583.4L411.84 583.7L411.89 583.4L411.94 583.7L412 583.4L412.05 583.6L412.1 583.4L412.15 583.7L412.2 583.4L412.25 583.7L412.3 583.4L412.36 583.7L412.41 583.6L412.46 583.7L412.51 583.5L412.56 583.7L412.61 583.5L412.66 583.7L412.72 583.6L412.77 583.7L412.82 583.5L412.87 583.7L412.92 583.5L412.97 583.6L413.02 583.5L413.08 583.7L413.13 583.5L413.18 583.7L413.23 583.5L413.28 583.7L413.33 583.5L413.39 583.7L413.44 583.5L413.49 583.7L413.54 583.4L413.59 583.7L413.64 583.5L413.69 583.7L413.75 583.6L413.8 583.7L413.85 583.6L413.9 583.7L413.95 583.5L414 583.7L414.05 583.4L414.11 583.7L414.16 583.4L414.21 583.7L414.26 583.5L414.31 583.7L414.36 583.5L414.42 583.7L414.47 583.6L414.52 583.6L414.57 583.6L414.62 583.7L414.67 583.6L414.72 583.7L414.78 583.6L414.83 583.7L414.88 583.6L414.93 583.7L414.98 583.5L415.03 583.7L415.08 583.4L415.14 583.7L415.19 583.4L415.24 583.7L415.29 583.6L415.34 583.7L415.39 583.5L415.45 583.7L415.5 583.5L415.55 583.7L415.6 583.4L415.65 583.7L415.7 583.4L415.75 583.7L415.81 583.6L415.86 583.7L415.91 583.4L415.96 583.7L416.01 583.4L416.06 583.7L416.11 583.4L416.17 583.7L416.22 583.5L416.27 583.7L416.32 583.5L416.37 583.7L416.42 583.5L416.48 583.7L416.53 583.4L416.58 583.7L416.63 583.5L416.68 583.7L416.73 583.5L416.78 583.7L416.84 583.6L416.89 583.7L416.94 583.5L416.99 583.7L417.04 583.6L417.09 583.7L417.14 583.4L417.2 583.7L417.25 583.4L417.3 583.7L417.35 583.5L417.4 583.6L417.45 583.5L417.5 583.7L417.56 583.5L417.61 583.7L417.66 583.5L417.71 583.7L417.76 583.5L417.81 583.7L417.92 583.7L417.97 583.5L418.02 583.7L418.07 583.6L418.12 583.7L418.17 583.5L418.23 583.7L418.28 583.5L418.33 583.7L418.38 583.5L418.43 583.7L418.48 583.5L418.53 583.7L418.59 583.5L418.64 583.6L418.69 583.6L418.74 583.7L418.79 583.4L418.84 583.7L418.9 583.3L418.95 583.6L419 583.3L419.05 583.7L419.1 583.5L419.15 583.7L419.26 583.7L419.31 583.5L419.36 583.6L419.41 583.6L419.46 583.7L419.51 583.5L419.56 583.7L419.67 583.7L419.72 583.4L419.77 583.7L419.82 583.5L419.87 583.7L419.93 583.6L419.98 583.7L420.03 583.5L420.08 583.7L420.13 583.5L420.18 583.7L420.29 583.7L420.34 583.5L420.39 583.7L420.49 583.7L420.54 583.5L420.59 583.7L420.65 583.5L420.7 583.7L420.75 583.5L420.8 583.7L420.85 583.5L420.9 583.7L420.95 583.3L421.01 583.7L421.06 583.6L421.11 583.7L421.16 583.4L421.21 583.7L421.26 583.4L421.32 583.7L421.37 583.5L421.42 583.7L421.47 583.5L421.52 583.7L421.57 583.6L421.62 583.7L421.68 583.4L421.73 583.7L421.78 583.5L421.83 583.7L421.88 583.5L421.93 583.7L421.98 583.5L422.04 583.7L422.09 583.5L422.14 583.7L422.24 583.7L422.29 583.6L422.35 583.7L422.4 583.6L422.45 583.7L422.55 583.7L422.6 583.5L422.65 583.7L422.71 583.5L422.76 583.7L422.81 583.6L422.86 583.7L422.91 583.5L422.96 583.7L423.01 583.6L423.07 583.7L423.12 583.5L423.17 583.7L423.22 583.6L423.27 583.7L423.32 583.4L423.38 583.7L423.43 583.5L423.48 583.7L423.53 583.5L423.58 583.7L423.63 583.5L423.68 583.7L423.74 583.6L423.79 583.7L423.84 583.5L423.89 583.7L423.94 583.5L423.99 583.7L424.04 583.4L424.1 583.7L424.15 583.5L424.2 583.7L424.25 583.5L424.3 583.7L424.4 583.6L424.46 583.5L424.51 583.7L424.56 583.5L424.61 583.7L424.66 583.5L424.71 583.7L424.77 583.5L424.82 583.7L424.87 583.5L424.92 583.7L425.02 583.7L425.07 583.5L425.13 583.7L425.18 583.5L425.23 583.7L425.33 583.7L425.38 583.5L425.43 583.7L425.49 583.5L425.54 583.7L425.59 583.3L425.64 583.7L425.69 583.5L425.74 583.7L425.8 583.5L425.85 583.7L425.9 583.3L425.95 583.7L426 583.6L426.05 583.7L426.1 583.4L426.16 583.7L426.21 583.4L426.26 583.7L426.31 583.5L426.36 583.7L426.41 583.6L426.46 583.7L426.52 583.5L426.57 583.7L426.62 583.5L426.67 583.7L426.72 583.5L426.77 583.7L426.83 583.6L426.88 583.7L426.93 583.4L426.98 583.7L427.03 583.4L427.08 583.7L427.19 583.7L427.24 583.5L427.29 583.7L427.39 583.7L427.44 583.5L427.49 583.7L427.55 583.4L427.6 583.7L427.65 583.5L427.7 583.7L427.75 583.4L427.8 583.7L427.86 583.5L427.91 583.7L427.96 583.5L428.01 583.7L428.06 583.4L428.11 583.7L428.16 583.5L428.22 583.7L428.27 583.6L428.32 583.7L428.37 583.5L428.42 583.7L428.47 583.6L428.52 583.7L428.58 583.6L428.63 583.7L428.68 583.5L428.73 583.7L428.78 583.6L428.83 583.7L428.88 583.6L428.94 583.7L429.04 583.7L429.09 583.6L429.14 583.7L429.19 583.6L429.25 583.7L429.3 583.6L429.35 583.7L429.45 583.7L429.5 583.5L429.55 583.7L429.61 583.5L429.66 583.7L429.71 583.5L429.76 583.7L429.81 583.4L429.86 583.7L429.91 583.5L429.97 583.7L430.02 583.5L430.07 583.7L430.12 583.4L430.17 583.7L430.22 583.4L430.28 583.7L430.33 583.4L430.38 583.7L430.43 583.4L430.48 583.7L430.53 583.5L430.58 583.7L430.64 583.6L430.69 583.7L430.74 583.5L430.79 583.7L430.89 583.7L430.94 583.5L431 583.7L431.2 583.7L431.25 583.5L431.31 583.7L431.36 583.5L431.41 583.7L431.46 583.5L431.51 583.7L431.56 583.5L431.61 583.7L431.67 583.5L431.72 583.7L431.92 583.7L431.97 583.5L432.03 583.7L432.08 583.5L432.13 583.7L432.18 583.6L432.23 583.7L432.28 583.6L432.33 583.7L432.39 583.5L432.44 583.6L432.49 583.5L432.54 583.7L432.59 583.4L432.64 583.7L432.7 583.4L432.75 583.7L432.8 583.5L432.85 583.7L432.9 583.5L432.95 583.7L433.26 583.7L433.31 583.5L433.36 583.7L433.42 583.5L433.47 583.7L433.52 583.5L433.57 583.7L433.78 583.7L433.83 583.6L433.88 583.7L433.93 583.5L433.98 583.7L434.03 583.5L434.09 583.7L434.14 583.5L434.19 583.7L434.29 583.7L434.34 583.6L434.39 583.7L434.5 583.7L434.55 583.4L434.6 583.7L434.65 583.5L434.7 583.7L434.76 583.4L434.81 583.7L434.86 583.4L434.91 583.7L434.96 583.6L435.01 583.7L435.06 583.5L435.12 583.6L435.17 583.5L435.22 583.7L435.27 583.5L435.32 583.7L435.37 583.5L435.42 583.7L435.48 583.5L435.53 583.7L435.73 583.7L435.79 583.5L435.84 583.7L436.04 583.7L436.09 583.5L436.15 583.7L436.2 583.6L436.25 583.7L436.3 583.5L436.35 583.7L436.4 583.6L436.45 583.7L436.56 583.7L436.61 583.5L436.66 583.7L436.76 583.7L436.81 583.5L436.87 583.7L436.92 583.4L436.97 583.6L437.02 583.5L437.07 583.7L437.12 583.5L437.18 583.7L437.23 583.4L437.28 583.7L437.33 583.4L437.38 583.7L437.43 583.5L437.48 583.7L437.54 583.5L437.59 583.7L437.64 583.5L437.69 583.7L437.79 583.6L437.84 583.6L437.9 583.7L438 583.7L438.05 583.5L438.1 583.7L438.21 583.7L438.26 583.6L438.31 583.7L438.36 583.5L438.41 583.7L438.46 583.5L438.51 583.7L438.62 583.7L438.67 583.6L438.72 583.7L438.82 583.7L438.87 583.5L438.93 583.7L438.98 583.5L439.03 583.7L439.08 583.5L439.13 583.7L439.18 583.5L439.24 583.7L439.29 583.5L439.34 583.7L439.39 583.5L439.44 583.7L439.49 583.4L439.54 583.7L439.6 583.4L439.65 583.7L439.7 583.5L439.75 583.7L439.8 583.5L439.85 583.7L439.9 583.5L439.96 583.7L440.01 583.6L440.06 583.7L440.11 583.4L440.16 583.7L440.26 583.7L440.32 583.5L440.37 583.7L440.57 583.7L440.63 583.6L440.68 583.7L440.78 583.7L440.83 583.6L440.88 583.7L440.93 583.5L440.99 583.7L441.04 583.6L441.09 583.7L441.14 583.6L441.19 583.7L441.4 583.7L441.45 583.6L441.5 583.7L441.55 583.5L441.6 583.7L441.66 583.5L441.71 583.7L441.76 583.4L441.81 583.7L441.86 583.4L441.91 583.7L441.96 583.3L442.02 583.7L442.22 583.7L442.27 583.5L442.32 583.7L442.38 583.5L442.43 583.7L442.53 583.7L442.58 583.4L442.63 583.7L442.69 583.6L442.74 583.7L442.79 583.5L442.84 583.7L442.89 583.5L442.94 583.7L442.99 583.6L443.05 583.7L443.1 583.6L443.15 583.7L443.2 583.5L443.25 583.7L443.35 583.7L443.41 583.5L443.46 583.7L443.51 583.5L443.56 583.7L443.61 583.6L443.66 583.7L443.87 583.7L443.92 583.5L443.97 583.7L444.02 583.4L444.08 583.6L444.13 583.5L444.18 583.7L444.23 583.6L444.28 583.7L444.38 583.7L444.44 583.5L444.49 583.7L444.54 583.6L444.59 583.7L444.69 583.7L444.74 583.5L444.8 583.7L444.85 583.5L444.9 583.7L445 583.7L445.05 583.5L445.11 583.7L445.16 583.6L445.21 583.7L445.31 583.7L445.36 583.6L445.41 583.7L445.47 583.5L445.52 583.7L445.57 583.5L445.62 583.7L445.67 583.5L445.72 583.7L445.77 583.5L445.83 583.7L445.93 583.7L445.98 583.5L446.03 583.7L446.08 583.6L446.14 583.7L446.19 583.4L446.24 583.7L446.29 583.4L446.34 583.7L446.39 583.5L446.44 583.7L446.5 583.5L446.55 583.7L446.6 583.6L446.65 583.7L446.7 583.5L446.75 583.7L446.8 583.6L446.86 583.7L446.91 583.5L446.96 583.7L447.01 583.5L447.06 583.7L447.11 583.6L447.17 583.7L447.27 583.7L447.32 583.6L447.37 583.7L447.42 583.4L447.47 583.7L447.53 583.5L447.58 583.7L447.63 583.5L447.68 583.7L447.73 583.6L447.78 583.7L447.89 583.7L447.94 583.6L447.99 583.7L448.04 583.6L448.09 583.7L448.19 583.7L448.25 583.5L448.3 583.7L448.35 583.5L448.4 583.7L448.45 583.5L448.5 583.7L448.56 583.5L448.61 583.7L448.66 583.5L448.71 583.7L448.76 583.5L448.81 583.7L448.86 583.5L448.92 583.7L448.97 583.5L449.02 583.7L449.07 583.5L449.12 583.7L449.17 583.6L449.22 583.7L449.28 583.6L449.33 583.7L449.43 583.7L449.48 583.6L449.53 583.7L449.59 583.4L449.64 583.7L449.69 583.5L449.74 583.7L449.79 583.6L449.84 583.7L449.89 583.5L449.95 583.7L450 583.6L450.05 583.7L450.15 583.7L450.2 583.5L450.25 583.7L450.31 583.6L450.36 583.7L450.46 583.7L450.51 583.6L450.56 583.7L450.62 583.4L450.67 583.7L450.77 583.7L450.82 583.5L450.87 583.7L450.92 583.4L450.98 583.7L451.03 583.5L451.08 583.7L451.13 583.5L451.18 583.7L451.28 583.7L451.34 583.6L451.39 583.7L451.44 583.5L451.49 583.7L451.59 583.7L451.64 583.5L451.7 583.7L451.75 583.5L451.8 583.7L451.85 583.5L451.9 583.7L452.01 583.7L452.06 583.6L452.11 583.7L452.21 583.7L452.26 583.6L452.31 583.7L452.42 583.7L452.47 583.5L452.52 583.7L452.57 583.5L452.62 583.7L452.73 583.7L452.78 583.6L452.83 583.7L452.88 583.5L452.93 583.7L452.98 583.5L453.04 583.7L453.09 583.5L453.14 583.6L453.19 583.5L453.24 583.7L453.29 583.5L453.34 583.7L453.4 583.4L453.45 583.7L453.5 583.5L453.55 583.7L453.6 583.5L453.65 583.7L453.7 583.5L453.76 583.7L453.81 583.5L453.86 583.7L453.91 583.5L453.96 583.7L454.01 583.5L454.07 583.7L454.17 583.7L454.22 583.5L454.27 583.7L454.32 583.5L454.37 583.7L454.43 583.5L454.48 583.7L454.53 583.6L454.58 583.7L454.63 583.5L454.68 583.7L454.79 583.7L454.84 583.5L454.89 583.7L454.94 583.5L454.99 583.7L455.04 583.5L455.1 583.7L455.15 583.6L455.2 583.7L455.25 583.5L455.3 583.7L455.35 583.5L455.4 583.7L455.46 583.4L455.51 583.7L455.56 583.5L455.61 583.7L455.66 583.5L455.71 583.7L455.76 583.5L455.82 583.7L455.87 583.5L455.92 583.7L455.97 583.6L456.02 583.7L456.07 583.6L456.12 583.7L456.18 583.6L456.23 583.7L456.28 583.6L456.33 583.7L456.38 583.5L456.43 583.7L456.49 583.5L456.54 583.7L456.59 583.5L456.64 583.7L456.69 583.5L456.74 583.7L456.85 583.7L456.9 583.5L456.95 583.7L457 583.5L457.05 583.7L457.15 583.7L457.21 583.5L457.26 583.7L457.31 583.5L457.36 583.7L457.41 583.5L457.46 583.7L457.52 583.5L457.57 583.7L457.62 583.5L457.67 583.7L457.72 583.4L457.77 583.7L457.82 583.4L457.88 583.7L457.93 583.6L457.98 583.7L458.03 583.5L458.08 583.7L458.18 583.7L458.24 583.5L458.29 583.7L458.34 583.5L458.39 583.7L458.44 583.6L458.49 583.7L458.6 583.7L458.65 583.5L458.7 583.7L458.75 583.6L458.8 583.7L458.85 583.5L458.91 583.7L458.96 583.5L459.01 583.7L459.06 583.5L459.11 583.7L459.16 583.5L459.21 583.7L459.27 583.5L459.32 583.7L459.37 583.5L459.42 583.7L459.47 583.5L459.52 583.7L459.73 583.7L459.78 583.5L459.83 583.7L459.88 583.5L459.94 583.7L459.99 583.5L460.04 583.7L460.09 583.4L460.14 583.7L460.19 583.4L460.24 583.7L460.3 583.5L460.35 583.7L460.4 583.5L460.45 583.7L460.5 583.4L460.55 583.7L460.6 583.6L460.66 583.7L460.76 583.7L460.81 583.5L460.86 583.7L461.17 583.7L461.22 583.5L461.27 583.7L461.38 583.7L461.43 583.5L461.48 583.7L461.53 583.5L461.58 583.7L461.69 583.7L461.74 583.5L461.79 583.7L461.84 583.6L461.89 583.7L461.94 583.5L462 583.7L462.05 583.6L462.1 583.7L462.15 583.6L462.2 583.7L462.25 583.5L462.3 583.7L462.36 583.4L462.41 583.6L462.51 583.7L462.56 583.5L462.61 583.7L462.66 583.6L462.72 583.7L462.77 583.6L462.82 583.7L463.02 583.6L463.08 583.5L463.13 583.7L463.23 583.7L463.28 583.6L463.33 583.7L463.39 583.5L463.44 583.7L463.49 583.5L463.54 583.7L463.59 583.6L463.64 583.7L463.69 583.6L463.75 583.7L463.95 583.7L464 583.6L464.05 583.7L464.11 583.6L464.16 583.7L464.21 583.6L464.26 583.7L464.31 583.6L464.36 583.7L464.42 583.5L464.47 583.7L464.52 583.4L464.57 583.7L464.62 583.6L464.67 583.7L464.72 583.6L464.78 583.7L464.83 583.5L464.88 583.7L464.93 583.4L464.98 583.7L465.03 583.6L465.08 583.7L465.19 583.7L465.24 583.6L465.29 583.7L465.34 583.5L465.39 583.7L465.45 583.5L465.5 583.7L465.7 583.7L465.75 583.5L465.81 583.7L465.86 583.6L465.91 583.7L465.96 583.5L466.01 583.7L466.06 583.6L466.11 583.7L466.17 583.5L466.22 583.7L466.27 583.5L466.32 583.7L466.63 583.7L466.68 583.6L466.73 583.7L466.78 583.5L466.84 583.7L466.89 583.5L466.94 583.7L466.99 583.5L467.04 583.7L467.14 583.7L467.2 583.5L467.25 583.7L467.3 583.5L467.35 583.7L467.56 583.7L467.61 583.6L467.66 583.7L467.71 583.5L467.76 583.7L467.81 583.5L467.87 583.7L467.92 583.6L467.97 583.7L468.02 583.5L468.07 583.7L468.12 583.6L468.17 583.7L468.23 583.5L468.28 583.7L468.33 583.6L468.38 583.7L468.48 583.7L468.53 583.5L468.59 583.7L468.64 583.5L468.69 583.7L468.79 583.7L468.84 583.6L468.9 583.7L469 583.7L469.05 583.5L469.1 583.6L469.15 583.5L469.2 583.7L469.26 583.4L469.31 583.7L469.36 583.4L469.41 583.7L469.46 583.5L469.51 583.7L469.56 583.5L469.62 583.7L469.67 583.5L469.72 583.7L469.77 583.5L469.82 583.7L469.87 583.5L469.93 583.7L470.13 583.7L470.18 583.6L470.23 583.7L470.29 583.5L470.34 583.7L470.39 583.6L470.44 583.7L470.49 583.6L470.54 583.7L470.59 583.5L470.65 583.7L470.7 583.5L470.75 583.7L470.85 583.7L470.9 583.6L470.95 583.7L471.01 583.6L471.06 583.7L471.11 583.5L471.16 583.7L471.21 583.5L471.26 583.7L471.32 583.5L471.37 583.7L471.42 583.5L471.47 583.7L471.52 583.4L471.57 583.7L471.68 583.7L471.73 583.5L471.78 583.7L471.88 583.7L471.93 583.6L471.98 583.7L472.09 583.7L472.14 583.5L472.19 583.7L472.6 583.7L472.65 583.5L472.71 583.7L472.76 583.6L472.81 583.7L472.86 583.5L472.91 583.7L472.96 583.5L473.01 583.7L473.32 583.7L473.38 583.5L473.43 583.7L473.48 583.5L473.53 583.7L473.58 583.5L473.63 583.7L473.68 583.5L473.74 583.7L473.79 583.6L473.84 583.7L473.89 583.4L473.94 583.7L473.99 583.5L474.04 583.7L474.35 583.7L474.41 583.6L474.46 583.7L474.51 583.5L474.56 583.7L474.87 583.7L474.92 583.5L474.97 583.7L475.02 583.6L475.07 583.7L475.13 583.5L475.18 583.7L475.23 583.6L475.28 583.7L475.33 583.5L475.38 583.7L475.59 583.7L475.64 583.5L475.69 583.7L475.74 583.6L475.8 583.7L475.85 583.5L475.9 583.7L475.95 583.5L476 583.7L476.05 583.4L476.1 583.7L476.16 583.5L476.21 583.7L476.26 583.5L476.31 583.7L476.36 583.5L476.41 583.7L476.52 583.7L476.57 583.6L476.62 583.7L476.67 583.4L476.72 583.7L476.77 583.6L476.83 583.7L476.88 583.6L476.93 583.7L476.98 583.5L477.03 583.7L477.13 583.7L477.19 583.5L477.24 583.7L477.55 583.7L477.6 583.5L477.65 583.7L477.7 583.5L477.75 583.7L477.96 583.7L478.01 583.5L478.06 583.7L478.11 583.5L478.16 583.7L478.22 583.6L478.27 583.7L478.32 583.6L478.37 583.7L478.42 583.4L478.47 583.7L478.52 583.6L478.58 583.7L478.63 583.4L478.68 583.7L478.73 583.5L478.78 583.7L478.88 583.7L478.94 583.5L478.99 583.7L479.04 583.6L479.09 583.7L479.14 583.5L479.19 583.7L479.25 583.6L479.3 583.7L479.35 583.6L479.4 583.7L479.5 583.7L479.55 583.6L479.61 583.7L479.66 583.5L479.71 583.7L479.76 583.5L479.81 583.7L479.86 583.5L479.91 583.7L479.97 583.5L480.02 583.7L480.12 583.7L480.17 583.5L480.22 583.7L480.28 583.5L480.33 583.7L480.38 583.6L480.43 583.7L480.48 583.4L480.53 583.7L480.64 583.7L480.69 583.4L480.74 583.7L480.79 583.3L480.84 583.7L480.94 583.7L481 583.5L481.05 583.6L481.1 583.5L481.15 583.7L481.2 583.5L481.25 583.7L481.31 583.6L481.36 583.7L481.56 583.7L481.61 583.6L481.67 583.7L481.87 583.7L481.92 583.6L481.97 583.7L482.03 583.6L482.08 583.7L482.13 583.5L482.18 583.7L482.28 583.7L482.33 583.5L482.39 583.7L482.44 583.6L482.49 583.7L482.59 583.7L482.64 583.6L482.7 583.7L482.75 583.5L482.8 583.7L482.85 583.5L482.9 583.7L482.95 583.5L483 583.7L483.06 583.5L483.11 583.7L483.21 583.7L483.26 583.5L483.31 583.7L483.36 583.5L483.42 583.7L483.52 583.7L483.57 583.6L483.62 583.7L483.67 583.4L483.73 583.7L483.78 583.6L483.83 583.7L483.88 583.5L483.93 583.7L483.98 583.5L484.03 583.7L484.34 583.7L484.39 583.6L484.45 583.7L484.5 583.6L484.55 583.7L484.6 583.6L484.65 583.7L484.76 583.7L484.81 583.6L484.86 583.7L485.06 583.7L485.12 583.5L485.17 583.7L485.27 583.7L485.32 583.5L485.37 583.7L485.42 583.5L485.48 583.7L485.53 583.6L485.58 583.7L485.63 583.5L485.68 583.7L485.89 583.7L485.94 583.5L485.99 583.7L486.04 583.5L486.09 583.7L486.2 583.7L486.25 583.6L486.3 583.7L486.35 583.6L486.4 583.7L486.51 583.7L486.56 583.6L486.61 583.7L486.66 583.5L486.71 583.7L486.81 583.7L486.87 583.6L486.92 583.7L487.02 583.7L487.07 583.6L487.12 583.7L487.18 583.5L487.23 583.7L487.33 583.7L487.38 583.5L487.43 583.7L487.48 583.5L487.54 583.7L487.59 583.6L487.64 583.7L487.69 583.5L487.74 583.7L487.79 583.6L487.84 583.7L487.9 583.5L487.95 583.7L488.46 583.7L488.51 583.5L488.57 583.7L488.62 583.4L488.67 583.7L488.72 583.5L488.77 583.7L488.82 583.5L488.87 583.7L488.93 583.6L488.98 583.7L489.03 583.6L489.08 583.7L489.29 583.7L489.34 583.5L489.39 583.7L489.44 583.6L489.49 583.7L489.6 583.7L489.65 583.6L489.7 583.6L489.75 583.4L489.8 583.7L489.9 583.7L489.96 583.5L490.01 583.7L490.06 583.6L490.11 583.7L490.16 583.6L490.21 583.7L490.26 583.5L490.32 583.7L490.63 583.7L490.68 583.5L490.73 583.7L490.78 583.5L490.83 583.7L490.88 583.5L490.93 583.7L491.04 583.7L491.09 583.6L491.14 583.7L491.19 583.5L491.24 583.7L491.29 583.5L491.35 583.7L491.4 583.6L491.45 583.7L491.55 583.7L491.6 583.5L491.66 583.7L491.86 583.7L491.91 583.5L491.96 583.7L492.02 583.5L492.07 583.7L492.12 583.5L492.17 583.7L492.22 583.6L492.27 583.7L492.32 583.5L492.38 583.7L492.43 583.5L492.48 583.7L492.53 583.6L492.58 583.7L492.63 583.5L492.69 583.7L492.79 583.7L492.84 583.6L492.89 583.7L492.99 583.7L493.05 583.6L493.1 583.7L493.2 583.7L493.25 583.5L493.3 583.7L493.35 583.6L493.41 583.7L493.46 583.6L493.51 583.7L493.56 583.5L493.61 583.7L493.72 583.7L493.77 583.5L493.82 583.7L493.87 583.5L493.92 583.7L493.97 583.5L494.02 583.7L494.13 583.7L494.18 583.6L494.23 583.6L494.28 583.4L494.33 583.7L494.38 583.5L494.44 583.7L494.49 583.4L494.54 583.7L494.59 583.5L494.64 583.7L494.69 583.5L494.74 583.7L494.8 583.5L494.85 583.7L494.95 583.7L495 583.6L495.05 583.7L495.11 583.5L495.16 583.7L495.21 583.6L495.26 583.7L495.31 583.6L495.36 583.7L495.41 583.5L495.47 583.7L495.52 583.6L495.57 583.7L495.62 583.6L495.67 583.7L495.98 583.7L496.03 583.5L496.08 583.7L496.14 583.6L496.19 583.7L496.24 583.5L496.29 583.7L496.34 583.5L496.39 583.7L496.44 583.6L496.5 583.7L496.55 583.4L496.6 583.7L496.65 583.5L496.7 583.7L496.75 583.5L496.8 583.7L496.86 583.4L496.91 583.7L496.96 583.5L497.01 583.6L497.06 583.5L497.11 583.7L497.17 583.5L497.22 583.7L497.27 583.5L497.32 583.7L497.53 583.7L497.58 583.5L497.63 583.7L497.94 583.7L497.99 583.6L498.04 583.7L498.09 583.6L498.14 583.7L498.19 583.5L498.25 583.7L498.3 583.5L498.35 583.7L498.4 583.6L498.45 583.7L498.56 583.7L498.61 583.5L498.66 583.7L498.86 583.7L498.92 583.5L498.97 583.7L499.02 583.5L499.07 583.6L499.12 583.5L499.17 583.6L499.22 583.5L499.28 583.7L499.33 583.6L499.38 583.7L499.48 583.7L499.53 583.6L499.59 583.7L499.69 583.7L499.74 583.6L499.79 583.7L499.84 583.5L499.89 583.7L499.95 583.5L500 583.7L500.1 583.7L500.15 583.6L500.2 583.7L500.25 583.6L500.31 583.7L500.72 583.7L500.77 583.6L500.82 583.7L500.92 583.7L500.98 583.5L501.03 583.7L501.13 583.7L501.18 583.5L501.23 583.7L501.28 583.5L501.34 583.7L501.39 583.4L501.44 583.7L501.49 583.6L501.54 583.7L501.59 583.5L501.64 583.7L501.7 583.5L501.75 583.7L501.8 583.6L501.85 583.7L502.16 583.7L502.21 583.5L502.26 583.7L502.31 583.5L502.37 583.7L502.42 583.6L502.47 583.7L502.57 583.7L502.62 583.6L502.67 583.7L502.73 583.6L502.78 583.7L502.83 583.5L502.88 583.7L502.93 583.5L502.98 583.7L503.5 583.6L503.55 583.5L503.6 583.7L503.65 583.4L503.7 583.7L503.76 583.6L503.81 583.7L503.91 583.7L503.96 583.6L504.01 583.7L504.07 583.6L504.12 583.7L504.17 583.6L504.22 583.7L504.32 583.7L504.37 583.5L504.43 583.7L504.48 583.5L504.53 583.7L504.58 583.6L504.63 583.7L504.73 583.7L504.79 583.5L504.84 583.7L504.94 583.7L504.99 583.6L505.04 583.7L505.1 583.6L505.15 583.7L505.25 583.7L505.3 583.5L505.35 583.7L505.46 583.7L505.51 583.6L505.56 583.7L505.66 583.7L505.71 583.6L505.76 583.7L505.82 583.5L505.87 583.7L505.92 583.5L505.97 583.7L506.02 583.5L506.07 583.7L506.12 583.5L506.18 583.7L506.23 583.5L506.28 583.7L506.33 583.5L506.38 583.7L506.43 583.6L506.49 583.7L506.54 583.6L506.59 583.7L506.69 583.7L506.74 583.5L506.79 583.7L506.85 583.5L506.9 583.7L506.95 583.5L507 583.7L507.1 583.7L507.15 583.5L507.21 583.7L507.31 583.7L507.36 583.6L507.41 583.7L507.46 583.5L507.52 583.7L507.57 583.6L507.62 583.7L507.72 583.7L507.77 583.6L507.82 583.7L507.88 583.6L507.93 583.7L507.98 583.5L508.03 583.7L508.08 583.5L508.13 583.7L508.18 583.5L508.24 583.7L508.34 583.7L508.39 583.5L508.44 583.7L508.49 583.6L508.55 583.7L509.16 583.7L509.21 583.6L509.27 583.7L509.47 583.7L509.52 583.5L509.57 583.7L509.78 583.7L509.83 583.6L509.88 583.7L509.99 583.7L510.04 583.6L510.09 583.7L510.19 583.7L510.24 583.5L510.3 583.7L510.35 583.6L510.4 583.7L510.45 583.5L510.5 583.7L510.6 583.7L510.66 583.5L510.71 583.7L510.76 583.6L510.81 583.7L510.91 583.7L510.97 583.5L511.02 583.7L511.12 583.7L511.17 583.5L511.22 583.7L511.27 583.5L511.33 583.7L511.63 583.7L511.69 583.6L511.74 583.7L511.79 583.5L511.84 583.7L511.94 583.7L512 583.6L512.05 583.7L512.15 583.7L512.2 583.5L512.25 583.7L512.3 583.6L512.36 583.7L512.41 583.6L512.46 583.7L512.51 583.6L512.56 583.7L512.61 583.5L512.66 583.7L512.72 583.6L512.77 583.7L512.82 583.5L512.87 583.7L512.92 583.5L512.97 583.7L513.03 583.5L513.08 583.7L513.13 583.5L513.18 583.7L513.23 583.6L513.28 583.7L513.39 583.7L513.44 583.5L513.49 583.7L513.69 583.7L513.75 583.5L513.8 583.7L513.85 583.6L513.9 583.7L513.95 583.6L514 583.7L514.05 583.6L514.11 583.7L514.31 583.7L514.36 583.5L514.42 583.7L514.52 583.7L514.57 583.6L514.62 583.7L514.67 583.6L514.72 583.7L514.83 583.7L514.88 583.5L514.93 583.7L514.98 583.6L515.03 583.7L515.08 583.6L515.14 583.7L515.19 583.4L515.24 583.7L515.29 583.5L515.34 583.7L515.39 583.5L515.45 583.7L515.65 583.7L515.7 583.5L515.75 583.7L515.81 583.6L515.86 583.7L516.58 583.7L516.63 583.5L516.68 583.7L517.4 583.7L517.45 583.5L517.5 583.7L517.61 583.7L517.66 583.6L517.71 583.7L517.76 583.6L517.81 583.7L517.87 583.6L517.92 583.7L517.97 583.6L518.02 583.7L518.23 583.7L518.28 583.5L518.33 583.7L519.15 583.7L519.2 583.6L519.26 583.7L519.31 583.6L519.36 583.7L519.56 583.7L519.62 583.5L519.67 583.7L519.72 583.4L519.77 583.7L519.82 583.6L519.87 583.7L519.93 583.6L519.98 583.7L520.49 583.7L520.54 583.6L520.59 583.7L520.65 583.6L520.7 583.7L520.75 583.6L520.8 583.7L520.85 583.5L520.9 583.7L520.95 583.5L521.01 583.7L521.11 583.7L521.16 583.6L521.21 583.7L521.42 583.7L521.47 583.6L521.52 583.7L521.57 583.6L521.62 583.7L521.68 583.5L521.73 583.7L521.78 583.5L521.83 583.7L521.88 583.6L521.93 583.7L521.98 583.5L522.04 583.7L522.09 583.5L522.14 583.7L522.19 583.5L522.24 583.7L522.29 583.6L522.35 583.7L522.55 583.7L522.6 583.6L522.65 583.7L522.76 583.7L522.81 583.5L522.86 583.7L522.91 583.6L522.96 583.7L523.17 583.7L523.22 583.6L523.27 583.7L523.38 583.7L523.43 583.5L523.48 583.7L523.53 583.5L523.58 583.7L523.63 583.6L523.68 583.7L523.99 583.7L524.04 583.6L524.1 583.7L524.15 583.4L524.2 583.7L524.25 583.5L524.3 583.7L524.35 583.5L524.41 583.7L524.61 583.7L524.66 583.5L524.71 583.7L525.02 583.7L525.07 583.6L525.13 583.7L525.18 583.5L525.23 583.7L525.28 583.6L525.33 583.7L525.38 583.6L525.43 583.7L525.49 583.5L525.54 583.7L525.95 583.7L526 583.5L526.05 583.7L526.1 583.6L526.16 583.7L526.21 583.6L526.26 583.7L526.31 583.6L526.36 583.7L526.41 583.6L526.46 583.7L526.52 583.5L526.57 583.7L526.62 583.5L526.67 583.7L526.72 583.5L526.77 583.7L527.6 583.7L527.65 583.6L527.7 583.7L528.22 583.7L528.27 583.6L528.32 583.7L528.37 583.6L528.42 583.7L528.52 583.7L528.58 583.6L528.63 583.7L528.73 583.7L528.78 583.5L528.83 583.6L528.94 583.7L528.99 583.5L529.04 583.7L529.09 583.6L529.14 583.7L529.25 583.7L529.3 583.5L529.35 583.7L529.4 583.5L529.45 583.7L529.5 583.6L529.55 583.7L529.86 583.7L529.91 583.6L529.97 583.7L530.07 583.7L530.12 583.6L530.17 583.7L530.22 583.5L530.28 583.7L530.38 583.7L530.43 583.5L530.48 583.7L530.69 583.7L530.74 583.5L530.79 583.7L531 583.7L531.05 583.6L531.1 583.6L531.15 583.5L531.2 583.7L531.25 583.5L531.31 583.7L531.36 583.5L531.41 583.7L531.72 583.7L531.77 583.6L531.82 583.7L532.03 583.7L532.08 583.6L532.13 583.7L532.34 583.7L532.39 583.6L532.44 583.7L532.49 583.6L532.54 583.7L532.59 583.6L532.64 583.7L532.75 583.7L532.8 583.6L532.85 583.7L532.95 583.7L533 583.5L533.06 583.7L533.11 583.5L533.16 583.7L533.21 583.5L533.26 583.7L533.31 583.5L533.36 583.7L533.42 583.6L533.47 583.7L533.52 583.5L533.57 583.7L533.62 583.5L533.67 583.7L533.73 583.6L533.78 583.7L533.83 583.6L533.88 583.7L533.93 583.6L533.98 583.7L534.03 583.5L534.09 583.7L534.19 583.7L534.24 583.6L534.29 583.7L534.34 583.5L534.39 583.7L534.81 583.7L534.86 583.5L534.91 583.7L535.22 583.7L535.27 583.5L535.32 583.7L535.42 583.7L535.48 583.5L535.53 583.7L535.58 583.5L535.63 583.7L535.68 583.5L535.73 583.7L535.79 583.6L535.84 583.7L535.94 583.7L535.99 583.5L536.04 583.7L536.25 583.7L536.3 583.6" fill="none" stroke="#0072BD" stroke-width="0.6" stroke-linejoin="round"/>
<rect x="343.2" y="538.5" width="193.1" height="45.2" fill="none" stroke="#3a3a3a" stroke-width="0.55"/>
<path d="M343.2 583.7v-1.93M343.2 538.5v1.93M381.82 583.7v-1.93M381.82 538.5v1.93M420.44 583.7v-1.93M420.44 538.5v1.93M459.06 583.7v-1.93M459.06 538.5v1.93M497.68 583.7v-1.93M497.68 538.5v1.93M536.3 583.7v-1.93M536.3 538.5v1.93M343.2 583.7h1.93M536.3 583.7h-1.93M343.2 561.1h1.93M536.3 561.1h-1.93M343.2 538.5h1.93M536.3 538.5h-1.93" stroke="#3a3a3a" stroke-width="0.55" fill="none"/>
<g class="tk" font-size="4.79" fill="#1c1c1c">
<text x="343.2" y="589.93" text-anchor="middle">0</text>
<text x="381.82" y="589.93" text-anchor="middle">500</text>
<text x="420.44" y="589.93" text-anchor="middle">1000</text>
<text x="459.06" y="589.93" text-anchor="middle">1500</text>
<text x="497.68" y="589.93" text-anchor="middle">2000</text>
<text x="536.3" y="589.93" text-anchor="middle">2500</text>
<text x="342.5" y="585.42" text-anchor="end">0</text>
<text x="342.5" y="562.82" text-anchor="end">0.01</text>
<text x="342.5" y="540.22" text-anchor="end">0.02</text>
</g>
<text x="439.75" y="600.49" text-anchor="middle" font-size="8.54" fill="#1c1c1c">Frequency(Hz)</text>
<text transform="translate(315.77 563.6) rotate(-90)" text-anchor="middle" font-size="8.54" fill="#1c1c1c">IMF5</text>
<text transform="translate(330.77 561.1) rotate(-90)" text-anchor="middle" font-size="8.54" fill="#1c1c1c">Acceleration(mm/s<tspan dy="-3.24" font-size="6.15">2</tspan><tspan dy="3.24">)</tspan></text>
</g>
</svg></body></html>
